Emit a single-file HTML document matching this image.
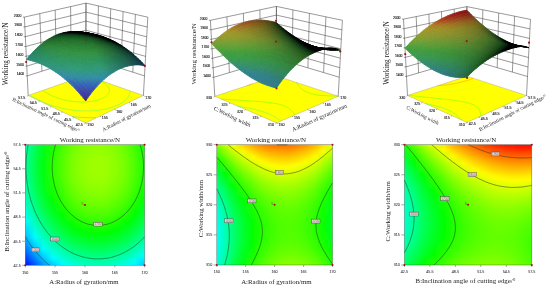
<!DOCTYPE html>
<html><head><meta charset="utf-8"><title>Working resistance response surfaces</title>
<style>html,body{margin:0;padding:0;background:#fff}svg{display:block}.q path{fill:currentColor;stroke:currentColor;stroke-width:.8;stroke-linejoin:round}</style></head>
<body><svg width="550" height="288" viewBox="0 0 550 288">
<defs><filter id="vb" x="-5%" y="-5%" width="110%" height="110%"><feGaussianBlur stdDeviation="0 1"/></filter><clipPath id="c0"><rect x="25.30" y="144.70" width="119.30" height="120.60"/></clipPath>
<linearGradient id="g0_0" gradientUnits="userSpaceOnUse" x1="25.30" x2="144.60" y1="0" y2="0"><stop offset="0" stop-color="#00ffb0"/><stop offset=".08" stop-color="#00ff66"/><stop offset=".15" stop-color="#00ff26"/><stop offset=".23" stop-color="#10ff00"/><stop offset=".31" stop-color="#3cff00"/><stop offset=".38" stop-color="#5eff00"/><stop offset=".46" stop-color="#76ff00"/><stop offset=".54" stop-color="#84ff00"/><stop offset=".62" stop-color="#88ff00"/><stop offset=".69" stop-color="#82ff00"/><stop offset=".77" stop-color="#72ff00"/><stop offset=".85" stop-color="#58ff00"/><stop offset=".92" stop-color="#34ff00"/><stop offset="1" stop-color="#06ff00"/></linearGradient>
<linearGradient id="g0_1" gradientUnits="userSpaceOnUse" x1="25.30" x2="144.60" y1="0" y2="0"><stop offset="0" stop-color="#00ffad"/><stop offset=".08" stop-color="#00ff63"/><stop offset=".15" stop-color="#00ff23"/><stop offset=".23" stop-color="#13ff00"/><stop offset=".31" stop-color="#3fff00"/><stop offset=".38" stop-color="#61ff00"/><stop offset=".46" stop-color="#79ff00"/><stop offset=".54" stop-color="#87ff00"/><stop offset=".62" stop-color="#8bff00"/><stop offset=".69" stop-color="#85ff00"/><stop offset=".77" stop-color="#76ff00"/><stop offset=".85" stop-color="#5cff00"/><stop offset=".92" stop-color="#38ff00"/><stop offset="1" stop-color="#0aff00"/></linearGradient>
<linearGradient id="g0_2" gradientUnits="userSpaceOnUse" x1="25.30" x2="144.60" y1="0" y2="0"><stop offset="0" stop-color="#00ffa9"/><stop offset=".08" stop-color="#00ff5f"/><stop offset=".15" stop-color="#00ff1f"/><stop offset=".23" stop-color="#17ff00"/><stop offset=".31" stop-color="#43ff00"/><stop offset=".38" stop-color="#65ff00"/><stop offset=".46" stop-color="#7dff00"/><stop offset=".54" stop-color="#8bff00"/><stop offset=".62" stop-color="#8fff00"/><stop offset=".69" stop-color="#89ff00"/><stop offset=".77" stop-color="#79ff00"/><stop offset=".85" stop-color="#5fff00"/><stop offset=".92" stop-color="#3bff00"/><stop offset="1" stop-color="#0dff00"/></linearGradient>
<linearGradient id="g0_3" gradientUnits="userSpaceOnUse" x1="25.30" x2="144.60" y1="0" y2="0"><stop offset="0" stop-color="#00ffa6"/><stop offset=".08" stop-color="#00ff5c"/><stop offset=".15" stop-color="#00ff1c"/><stop offset=".23" stop-color="#1aff00"/><stop offset=".31" stop-color="#46ff00"/><stop offset=".38" stop-color="#68ff00"/><stop offset=".46" stop-color="#80ff00"/><stop offset=".54" stop-color="#8eff00"/><stop offset=".62" stop-color="#92ff00"/><stop offset=".69" stop-color="#8cff00"/><stop offset=".77" stop-color="#7cff00"/><stop offset=".85" stop-color="#62ff00"/><stop offset=".92" stop-color="#3eff00"/><stop offset="1" stop-color="#10ff00"/></linearGradient>
<linearGradient id="g0_4" gradientUnits="userSpaceOnUse" x1="25.30" x2="144.60" y1="0" y2="0"><stop offset="0" stop-color="#00ffa4"/><stop offset=".08" stop-color="#00ff5a"/><stop offset=".15" stop-color="#00ff1a"/><stop offset=".23" stop-color="#1cff00"/><stop offset=".31" stop-color="#48ff00"/><stop offset=".38" stop-color="#6aff00"/><stop offset=".46" stop-color="#82ff00"/><stop offset=".54" stop-color="#90ff00"/><stop offset=".62" stop-color="#94ff00"/><stop offset=".69" stop-color="#8fff00"/><stop offset=".77" stop-color="#7fff00"/><stop offset=".85" stop-color="#65ff00"/><stop offset=".92" stop-color="#41ff00"/><stop offset="1" stop-color="#13ff00"/></linearGradient>
<linearGradient id="g0_5" gradientUnits="userSpaceOnUse" x1="25.30" x2="144.60" y1="0" y2="0"><stop offset="0" stop-color="#00ffa1"/><stop offset=".08" stop-color="#00ff57"/><stop offset=".15" stop-color="#00ff17"/><stop offset=".23" stop-color="#1fff00"/><stop offset=".31" stop-color="#4bff00"/><stop offset=".38" stop-color="#6dff00"/><stop offset=".46" stop-color="#85ff00"/><stop offset=".54" stop-color="#93ff00"/><stop offset=".62" stop-color="#97ff00"/><stop offset=".69" stop-color="#91ff00"/><stop offset=".77" stop-color="#81ff00"/><stop offset=".85" stop-color="#67ff00"/><stop offset=".92" stop-color="#43ff00"/><stop offset="1" stop-color="#15ff00"/></linearGradient>
<linearGradient id="g0_6" gradientUnits="userSpaceOnUse" x1="25.30" x2="144.60" y1="0" y2="0"><stop offset="0" stop-color="#00ff9f"/><stop offset=".08" stop-color="#00ff55"/><stop offset=".15" stop-color="#00ff15"/><stop offset=".23" stop-color="#21ff00"/><stop offset=".31" stop-color="#4dff00"/><stop offset=".38" stop-color="#6fff00"/><stop offset=".46" stop-color="#87ff00"/><stop offset=".54" stop-color="#95ff00"/><stop offset=".62" stop-color="#99ff00"/><stop offset=".69" stop-color="#93ff00"/><stop offset=".77" stop-color="#83ff00"/><stop offset=".85" stop-color="#69ff00"/><stop offset=".92" stop-color="#45ff00"/><stop offset="1" stop-color="#18ff00"/></linearGradient>
<linearGradient id="g0_7" gradientUnits="userSpaceOnUse" x1="25.30" x2="144.60" y1="0" y2="0"><stop offset="0" stop-color="#00ff9d"/><stop offset=".08" stop-color="#00ff53"/><stop offset=".15" stop-color="#00ff13"/><stop offset=".23" stop-color="#23ff00"/><stop offset=".31" stop-color="#4fff00"/><stop offset=".38" stop-color="#71ff00"/><stop offset=".46" stop-color="#89ff00"/><stop offset=".54" stop-color="#97ff00"/><stop offset=".62" stop-color="#9bff00"/><stop offset=".69" stop-color="#95ff00"/><stop offset=".77" stop-color="#85ff00"/><stop offset=".85" stop-color="#6bff00"/><stop offset=".92" stop-color="#47ff00"/><stop offset="1" stop-color="#19ff00"/></linearGradient>
<linearGradient id="g0_8" gradientUnits="userSpaceOnUse" x1="25.30" x2="144.60" y1="0" y2="0"><stop offset="0" stop-color="#00ff9c"/><stop offset=".08" stop-color="#00ff52"/><stop offset=".15" stop-color="#00ff12"/><stop offset=".23" stop-color="#24ff00"/><stop offset=".31" stop-color="#50ff00"/><stop offset=".38" stop-color="#72ff00"/><stop offset=".46" stop-color="#8aff00"/><stop offset=".54" stop-color="#98ff00"/><stop offset=".62" stop-color="#9dff00"/><stop offset=".69" stop-color="#97ff00"/><stop offset=".77" stop-color="#87ff00"/><stop offset=".85" stop-color="#6dff00"/><stop offset=".92" stop-color="#49ff00"/><stop offset="1" stop-color="#1bff00"/></linearGradient>
<linearGradient id="g0_9" gradientUnits="userSpaceOnUse" x1="25.30" x2="144.60" y1="0" y2="0"><stop offset="0" stop-color="#00ff9a"/><stop offset=".08" stop-color="#00ff50"/><stop offset=".15" stop-color="#00ff10"/><stop offset=".23" stop-color="#26ff00"/><stop offset=".31" stop-color="#52ff00"/><stop offset=".38" stop-color="#74ff00"/><stop offset=".46" stop-color="#8cff00"/><stop offset=".54" stop-color="#9aff00"/><stop offset=".62" stop-color="#9eff00"/><stop offset=".69" stop-color="#98ff00"/><stop offset=".77" stop-color="#88ff00"/><stop offset=".85" stop-color="#6eff00"/><stop offset=".92" stop-color="#4aff00"/><stop offset="1" stop-color="#1cff00"/></linearGradient>
<linearGradient id="g0_10" gradientUnits="userSpaceOnUse" x1="25.30" x2="144.60" y1="0" y2="0"><stop offset="0" stop-color="#00ff99"/><stop offset=".08" stop-color="#00ff4f"/><stop offset=".15" stop-color="#00ff0f"/><stop offset=".23" stop-color="#27ff00"/><stop offset=".31" stop-color="#53ff00"/><stop offset=".38" stop-color="#75ff00"/><stop offset=".46" stop-color="#8dff00"/><stop offset=".54" stop-color="#9bff00"/><stop offset=".62" stop-color="#9fff00"/><stop offset=".69" stop-color="#99ff00"/><stop offset=".77" stop-color="#89ff00"/><stop offset=".85" stop-color="#6fff00"/><stop offset=".92" stop-color="#4bff00"/><stop offset="1" stop-color="#1dff00"/></linearGradient>
<linearGradient id="g0_11" gradientUnits="userSpaceOnUse" x1="25.30" x2="144.60" y1="0" y2="0"><stop offset="0" stop-color="#00ff99"/><stop offset=".08" stop-color="#00ff4f"/><stop offset=".15" stop-color="#00ff0f"/><stop offset=".23" stop-color="#27ff00"/><stop offset=".31" stop-color="#53ff00"/><stop offset=".38" stop-color="#75ff00"/><stop offset=".46" stop-color="#8dff00"/><stop offset=".54" stop-color="#9bff00"/><stop offset=".62" stop-color="#a0ff00"/><stop offset=".69" stop-color="#9aff00"/><stop offset=".77" stop-color="#8aff00"/><stop offset=".85" stop-color="#70ff00"/><stop offset=".92" stop-color="#4cff00"/><stop offset="1" stop-color="#1eff00"/></linearGradient>
<linearGradient id="g0_12" gradientUnits="userSpaceOnUse" x1="25.30" x2="144.60" y1="0" y2="0"><stop offset="0" stop-color="#00ff98"/><stop offset=".08" stop-color="#00ff4e"/><stop offset=".15" stop-color="#00ff0e"/><stop offset=".23" stop-color="#28ff00"/><stop offset=".31" stop-color="#54ff00"/><stop offset=".38" stop-color="#76ff00"/><stop offset=".46" stop-color="#8eff00"/><stop offset=".54" stop-color="#9cff00"/><stop offset=".62" stop-color="#a0ff00"/><stop offset=".69" stop-color="#9aff00"/><stop offset=".77" stop-color="#8aff00"/><stop offset=".85" stop-color="#70ff00"/><stop offset=".92" stop-color="#4cff00"/><stop offset="1" stop-color="#1eff00"/></linearGradient>
<linearGradient id="g0_13" gradientUnits="userSpaceOnUse" x1="25.30" x2="144.60" y1="0" y2="0"><stop offset="0" stop-color="#00ff98"/><stop offset=".08" stop-color="#00ff4e"/><stop offset=".15" stop-color="#00ff0e"/><stop offset=".23" stop-color="#28ff00"/><stop offset=".31" stop-color="#54ff00"/><stop offset=".38" stop-color="#76ff00"/><stop offset=".46" stop-color="#8eff00"/><stop offset=".54" stop-color="#9cff00"/><stop offset=".62" stop-color="#a0ff00"/><stop offset=".69" stop-color="#9aff00"/><stop offset=".77" stop-color="#8aff00"/><stop offset=".85" stop-color="#70ff00"/><stop offset=".92" stop-color="#4cff00"/><stop offset="1" stop-color="#1fff00"/></linearGradient>
<linearGradient id="g0_14" gradientUnits="userSpaceOnUse" x1="25.30" x2="144.60" y1="0" y2="0"><stop offset="0" stop-color="#00ff98"/><stop offset=".08" stop-color="#00ff4e"/><stop offset=".15" stop-color="#00ff0e"/><stop offset=".23" stop-color="#28ff00"/><stop offset=".31" stop-color="#54ff00"/><stop offset=".38" stop-color="#76ff00"/><stop offset=".46" stop-color="#8eff00"/><stop offset=".54" stop-color="#9cff00"/><stop offset=".62" stop-color="#a0ff00"/><stop offset=".69" stop-color="#9aff00"/><stop offset=".77" stop-color="#8aff00"/><stop offset=".85" stop-color="#70ff00"/><stop offset=".92" stop-color="#4cff00"/><stop offset="1" stop-color="#1eff00"/></linearGradient>
<linearGradient id="g0_15" gradientUnits="userSpaceOnUse" x1="25.30" x2="144.60" y1="0" y2="0"><stop offset="0" stop-color="#00ff99"/><stop offset=".08" stop-color="#00ff4f"/><stop offset=".15" stop-color="#00ff0f"/><stop offset=".23" stop-color="#27ff00"/><stop offset=".31" stop-color="#53ff00"/><stop offset=".38" stop-color="#75ff00"/><stop offset=".46" stop-color="#8dff00"/><stop offset=".54" stop-color="#9bff00"/><stop offset=".62" stop-color="#9fff00"/><stop offset=".69" stop-color="#9aff00"/><stop offset=".77" stop-color="#8aff00"/><stop offset=".85" stop-color="#70ff00"/><stop offset=".92" stop-color="#4cff00"/><stop offset="1" stop-color="#1eff00"/></linearGradient>
<linearGradient id="g0_16" gradientUnits="userSpaceOnUse" x1="25.30" x2="144.60" y1="0" y2="0"><stop offset="0" stop-color="#00ff99"/><stop offset=".08" stop-color="#00ff4f"/><stop offset=".15" stop-color="#00ff0f"/><stop offset=".23" stop-color="#27ff00"/><stop offset=".31" stop-color="#53ff00"/><stop offset=".38" stop-color="#75ff00"/><stop offset=".46" stop-color="#8dff00"/><stop offset=".54" stop-color="#9bff00"/><stop offset=".62" stop-color="#9fff00"/><stop offset=".69" stop-color="#99ff00"/><stop offset=".77" stop-color="#89ff00"/><stop offset=".85" stop-color="#6fff00"/><stop offset=".92" stop-color="#4bff00"/><stop offset="1" stop-color="#1dff00"/></linearGradient>
<linearGradient id="g0_17" gradientUnits="userSpaceOnUse" x1="25.30" x2="144.60" y1="0" y2="0"><stop offset="0" stop-color="#00ff9a"/><stop offset=".08" stop-color="#00ff50"/><stop offset=".15" stop-color="#00ff10"/><stop offset=".23" stop-color="#26ff00"/><stop offset=".31" stop-color="#52ff00"/><stop offset=".38" stop-color="#74ff00"/><stop offset=".46" stop-color="#8cff00"/><stop offset=".54" stop-color="#9aff00"/><stop offset=".62" stop-color="#9eff00"/><stop offset=".69" stop-color="#98ff00"/><stop offset=".77" stop-color="#88ff00"/><stop offset=".85" stop-color="#6eff00"/><stop offset=".92" stop-color="#4aff00"/><stop offset="1" stop-color="#1cff00"/></linearGradient>
<linearGradient id="g0_18" gradientUnits="userSpaceOnUse" x1="25.30" x2="144.60" y1="0" y2="0"><stop offset="0" stop-color="#00ff9c"/><stop offset=".08" stop-color="#00ff52"/><stop offset=".15" stop-color="#00ff12"/><stop offset=".23" stop-color="#24ff00"/><stop offset=".31" stop-color="#50ff00"/><stop offset=".38" stop-color="#72ff00"/><stop offset=".46" stop-color="#8aff00"/><stop offset=".54" stop-color="#98ff00"/><stop offset=".62" stop-color="#9cff00"/><stop offset=".69" stop-color="#96ff00"/><stop offset=".77" stop-color="#87ff00"/><stop offset=".85" stop-color="#6dff00"/><stop offset=".92" stop-color="#49ff00"/><stop offset="1" stop-color="#1bff00"/></linearGradient>
<linearGradient id="g0_19" gradientUnits="userSpaceOnUse" x1="25.30" x2="144.60" y1="0" y2="0"><stop offset="0" stop-color="#00ff9d"/><stop offset=".08" stop-color="#00ff53"/><stop offset=".15" stop-color="#00ff13"/><stop offset=".23" stop-color="#23ff00"/><stop offset=".31" stop-color="#4fff00"/><stop offset=".38" stop-color="#71ff00"/><stop offset=".46" stop-color="#89ff00"/><stop offset=".54" stop-color="#97ff00"/><stop offset=".62" stop-color="#9bff00"/><stop offset=".69" stop-color="#95ff00"/><stop offset=".77" stop-color="#85ff00"/><stop offset=".85" stop-color="#6bff00"/><stop offset=".92" stop-color="#47ff00"/><stop offset="1" stop-color="#19ff00"/></linearGradient>
<linearGradient id="g0_20" gradientUnits="userSpaceOnUse" x1="25.30" x2="144.60" y1="0" y2="0"><stop offset="0" stop-color="#00ff9f"/><stop offset=".08" stop-color="#00ff55"/><stop offset=".15" stop-color="#00ff15"/><stop offset=".23" stop-color="#21ff00"/><stop offset=".31" stop-color="#4dff00"/><stop offset=".38" stop-color="#6fff00"/><stop offset=".46" stop-color="#87ff00"/><stop offset=".54" stop-color="#95ff00"/><stop offset=".62" stop-color="#99ff00"/><stop offset=".69" stop-color="#93ff00"/><stop offset=".77" stop-color="#83ff00"/><stop offset=".85" stop-color="#69ff00"/><stop offset=".92" stop-color="#45ff00"/><stop offset="1" stop-color="#17ff00"/></linearGradient>
<linearGradient id="g0_21" gradientUnits="userSpaceOnUse" x1="25.30" x2="144.60" y1="0" y2="0"><stop offset="0" stop-color="#00ffa1"/><stop offset=".08" stop-color="#00ff57"/><stop offset=".15" stop-color="#00ff17"/><stop offset=".23" stop-color="#1fff00"/><stop offset=".31" stop-color="#4bff00"/><stop offset=".38" stop-color="#6dff00"/><stop offset=".46" stop-color="#85ff00"/><stop offset=".54" stop-color="#93ff00"/><stop offset=".62" stop-color="#97ff00"/><stop offset=".69" stop-color="#91ff00"/><stop offset=".77" stop-color="#81ff00"/><stop offset=".85" stop-color="#67ff00"/><stop offset=".92" stop-color="#43ff00"/><stop offset="1" stop-color="#15ff00"/></linearGradient>
<linearGradient id="g0_22" gradientUnits="userSpaceOnUse" x1="25.30" x2="144.60" y1="0" y2="0"><stop offset="0" stop-color="#00ffa4"/><stop offset=".08" stop-color="#00ff5a"/><stop offset=".15" stop-color="#00ff1a"/><stop offset=".23" stop-color="#1cff00"/><stop offset=".31" stop-color="#48ff00"/><stop offset=".38" stop-color="#6aff00"/><stop offset=".46" stop-color="#82ff00"/><stop offset=".54" stop-color="#90ff00"/><stop offset=".62" stop-color="#94ff00"/><stop offset=".69" stop-color="#8eff00"/><stop offset=".77" stop-color="#7eff00"/><stop offset=".85" stop-color="#65ff00"/><stop offset=".92" stop-color="#41ff00"/><stop offset="1" stop-color="#13ff00"/></linearGradient>
<linearGradient id="g0_23" gradientUnits="userSpaceOnUse" x1="25.30" x2="144.60" y1="0" y2="0"><stop offset="0" stop-color="#00ffa6"/><stop offset=".08" stop-color="#00ff5c"/><stop offset=".15" stop-color="#00ff1d"/><stop offset=".23" stop-color="#19ff00"/><stop offset=".31" stop-color="#45ff00"/><stop offset=".38" stop-color="#67ff00"/><stop offset=".46" stop-color="#7fff00"/><stop offset=".54" stop-color="#8eff00"/><stop offset=".62" stop-color="#92ff00"/><stop offset=".69" stop-color="#8cff00"/><stop offset=".77" stop-color="#7cff00"/><stop offset=".85" stop-color="#62ff00"/><stop offset=".92" stop-color="#3eff00"/><stop offset="1" stop-color="#10ff00"/></linearGradient>
<linearGradient id="g0_24" gradientUnits="userSpaceOnUse" x1="25.30" x2="144.60" y1="0" y2="0"><stop offset="0" stop-color="#00ffa9"/><stop offset=".08" stop-color="#00ff60"/><stop offset=".15" stop-color="#00ff20"/><stop offset=".23" stop-color="#16ff00"/><stop offset=".31" stop-color="#42ff00"/><stop offset=".38" stop-color="#64ff00"/><stop offset=".46" stop-color="#7cff00"/><stop offset=".54" stop-color="#8aff00"/><stop offset=".62" stop-color="#8fff00"/><stop offset=".69" stop-color="#89ff00"/><stop offset=".77" stop-color="#79ff00"/><stop offset=".85" stop-color="#5fff00"/><stop offset=".92" stop-color="#3bff00"/><stop offset="1" stop-color="#0dff00"/></linearGradient>
<linearGradient id="g0_25" gradientUnits="userSpaceOnUse" x1="25.30" x2="144.60" y1="0" y2="0"><stop offset="0" stop-color="#00ffad"/><stop offset=".08" stop-color="#00ff63"/><stop offset=".15" stop-color="#00ff23"/><stop offset=".23" stop-color="#13ff00"/><stop offset=".31" stop-color="#3fff00"/><stop offset=".38" stop-color="#61ff00"/><stop offset=".46" stop-color="#79ff00"/><stop offset=".54" stop-color="#87ff00"/><stop offset=".62" stop-color="#8bff00"/><stop offset=".69" stop-color="#85ff00"/><stop offset=".77" stop-color="#75ff00"/><stop offset=".85" stop-color="#5bff00"/><stop offset=".92" stop-color="#37ff00"/><stop offset="1" stop-color="#0aff00"/></linearGradient>
<linearGradient id="g0_26" gradientUnits="userSpaceOnUse" x1="25.30" x2="144.60" y1="0" y2="0"><stop offset="0" stop-color="#00ffb0"/><stop offset=".08" stop-color="#00ff66"/><stop offset=".15" stop-color="#00ff27"/><stop offset=".23" stop-color="#0fff00"/><stop offset=".31" stop-color="#3bff00"/><stop offset=".38" stop-color="#5dff00"/><stop offset=".46" stop-color="#75ff00"/><stop offset=".54" stop-color="#84ff00"/><stop offset=".62" stop-color="#88ff00"/><stop offset=".69" stop-color="#82ff00"/><stop offset=".77" stop-color="#72ff00"/><stop offset=".85" stop-color="#58ff00"/><stop offset=".92" stop-color="#34ff00"/><stop offset="1" stop-color="#06ff00"/></linearGradient>
<linearGradient id="g0_27" gradientUnits="userSpaceOnUse" x1="25.30" x2="144.60" y1="0" y2="0"><stop offset="0" stop-color="#00ffb4"/><stop offset=".08" stop-color="#00ff6a"/><stop offset=".15" stop-color="#00ff2a"/><stop offset=".23" stop-color="#0cff00"/><stop offset=".31" stop-color="#38ff00"/><stop offset=".38" stop-color="#5aff00"/><stop offset=".46" stop-color="#72ff00"/><stop offset=".54" stop-color="#80ff00"/><stop offset=".62" stop-color="#84ff00"/><stop offset=".69" stop-color="#7eff00"/><stop offset=".77" stop-color="#6eff00"/><stop offset=".85" stop-color="#54ff00"/><stop offset=".92" stop-color="#30ff00"/><stop offset="1" stop-color="#02ff00"/></linearGradient>
<linearGradient id="g0_28" gradientUnits="userSpaceOnUse" x1="25.30" x2="144.60" y1="0" y2="0"><stop offset="0" stop-color="#00ffb9"/><stop offset=".08" stop-color="#00ff6f"/><stop offset=".15" stop-color="#00ff2f"/><stop offset=".23" stop-color="#07ff00"/><stop offset=".31" stop-color="#33ff00"/><stop offset=".38" stop-color="#55ff00"/><stop offset=".46" stop-color="#6dff00"/><stop offset=".54" stop-color="#7bff00"/><stop offset=".62" stop-color="#7fff00"/><stop offset=".69" stop-color="#79ff00"/><stop offset=".77" stop-color="#6aff00"/><stop offset=".85" stop-color="#50ff00"/><stop offset=".92" stop-color="#2cff00"/><stop offset="1" stop-color="#00ff02"/></linearGradient>
<linearGradient id="g0_29" gradientUnits="userSpaceOnUse" x1="25.30" x2="144.60" y1="0" y2="0"><stop offset="0" stop-color="#00ffbd"/><stop offset=".08" stop-color="#00ff73"/><stop offset=".15" stop-color="#00ff33"/><stop offset=".23" stop-color="#03ff00"/><stop offset=".31" stop-color="#2fff00"/><stop offset=".38" stop-color="#51ff00"/><stop offset=".46" stop-color="#69ff00"/><stop offset=".54" stop-color="#77ff00"/><stop offset=".62" stop-color="#7bff00"/><stop offset=".69" stop-color="#75ff00"/><stop offset=".77" stop-color="#65ff00"/><stop offset=".85" stop-color="#4bff00"/><stop offset=".92" stop-color="#27ff00"/><stop offset="1" stop-color="#00ff07"/></linearGradient>
<linearGradient id="g0_30" gradientUnits="userSpaceOnUse" x1="25.30" x2="144.60" y1="0" y2="0"><stop offset="0" stop-color="#00ffc2"/><stop offset=".08" stop-color="#00ff78"/><stop offset=".15" stop-color="#00ff38"/><stop offset=".23" stop-color="#00ff02"/><stop offset=".31" stop-color="#2aff00"/><stop offset=".38" stop-color="#4cff00"/><stop offset=".46" stop-color="#64ff00"/><stop offset=".54" stop-color="#72ff00"/><stop offset=".62" stop-color="#76ff00"/><stop offset=".69" stop-color="#70ff00"/><stop offset=".77" stop-color="#60ff00"/><stop offset=".85" stop-color="#46ff00"/><stop offset=".92" stop-color="#22ff00"/><stop offset="1" stop-color="#00ff0b"/></linearGradient>
<linearGradient id="g0_31" gradientUnits="userSpaceOnUse" x1="25.30" x2="144.60" y1="0" y2="0"><stop offset="0" stop-color="#00ffc7"/><stop offset=".08" stop-color="#00ff7d"/><stop offset=".15" stop-color="#00ff3d"/><stop offset=".23" stop-color="#00ff07"/><stop offset=".31" stop-color="#25ff00"/><stop offset=".38" stop-color="#47ff00"/><stop offset=".46" stop-color="#5fff00"/><stop offset=".54" stop-color="#6dff00"/><stop offset=".62" stop-color="#71ff00"/><stop offset=".69" stop-color="#6bff00"/><stop offset=".77" stop-color="#5bff00"/><stop offset=".85" stop-color="#41ff00"/><stop offset=".92" stop-color="#1dff00"/><stop offset="1" stop-color="#00ff10"/></linearGradient>
<linearGradient id="g0_32" gradientUnits="userSpaceOnUse" x1="25.30" x2="144.60" y1="0" y2="0"><stop offset="0" stop-color="#00ffcc"/><stop offset=".08" stop-color="#00ff82"/><stop offset=".15" stop-color="#00ff42"/><stop offset=".23" stop-color="#00ff0c"/><stop offset=".31" stop-color="#20ff00"/><stop offset=".38" stop-color="#42ff00"/><stop offset=".46" stop-color="#5aff00"/><stop offset=".54" stop-color="#68ff00"/><stop offset=".62" stop-color="#6cff00"/><stop offset=".69" stop-color="#66ff00"/><stop offset=".77" stop-color="#56ff00"/><stop offset=".85" stop-color="#3cff00"/><stop offset=".92" stop-color="#18ff00"/><stop offset="1" stop-color="#00ff16"/></linearGradient>
<linearGradient id="g0_33" gradientUnits="userSpaceOnUse" x1="25.30" x2="144.60" y1="0" y2="0"><stop offset="0" stop-color="#00ffd2"/><stop offset=".08" stop-color="#00ff88"/><stop offset=".15" stop-color="#00ff48"/><stop offset=".23" stop-color="#00ff12"/><stop offset=".31" stop-color="#1aff00"/><stop offset=".38" stop-color="#3cff00"/><stop offset=".46" stop-color="#54ff00"/><stop offset=".54" stop-color="#62ff00"/><stop offset=".62" stop-color="#66ff00"/><stop offset=".69" stop-color="#60ff00"/><stop offset=".77" stop-color="#50ff00"/><stop offset=".85" stop-color="#36ff00"/><stop offset=".92" stop-color="#12ff00"/><stop offset="1" stop-color="#00ff1c"/></linearGradient>
<linearGradient id="g0_34" gradientUnits="userSpaceOnUse" x1="25.30" x2="144.60" y1="0" y2="0"><stop offset="0" stop-color="#00ffd8"/><stop offset=".08" stop-color="#00ff8e"/><stop offset=".15" stop-color="#00ff4e"/><stop offset=".23" stop-color="#00ff18"/><stop offset=".31" stop-color="#14ff00"/><stop offset=".38" stop-color="#36ff00"/><stop offset=".46" stop-color="#4eff00"/><stop offset=".54" stop-color="#5cff00"/><stop offset=".62" stop-color="#60ff00"/><stop offset=".69" stop-color="#5aff00"/><stop offset=".77" stop-color="#4aff00"/><stop offset=".85" stop-color="#30ff00"/><stop offset=".92" stop-color="#0cff00"/><stop offset="1" stop-color="#00ff21"/></linearGradient>
<linearGradient id="g0_35" gradientUnits="userSpaceOnUse" x1="25.30" x2="144.60" y1="0" y2="0"><stop offset="0" stop-color="#00ffde"/><stop offset=".08" stop-color="#00ff94"/><stop offset=".15" stop-color="#00ff54"/><stop offset=".23" stop-color="#00ff1e"/><stop offset=".31" stop-color="#0eff00"/><stop offset=".38" stop-color="#30ff00"/><stop offset=".46" stop-color="#48ff00"/><stop offset=".54" stop-color="#56ff00"/><stop offset=".62" stop-color="#5aff00"/><stop offset=".69" stop-color="#54ff00"/><stop offset=".77" stop-color="#44ff00"/><stop offset=".85" stop-color="#2aff00"/><stop offset=".92" stop-color="#06ff00"/><stop offset="1" stop-color="#00ff28"/></linearGradient>
<linearGradient id="g0_36" gradientUnits="userSpaceOnUse" x1="25.30" x2="144.60" y1="0" y2="0"><stop offset="0" stop-color="#00ffe4"/><stop offset=".08" stop-color="#00ff9b"/><stop offset=".15" stop-color="#00ff5b"/><stop offset=".23" stop-color="#00ff25"/><stop offset=".31" stop-color="#07ff00"/><stop offset=".38" stop-color="#29ff00"/><stop offset=".46" stop-color="#41ff00"/><stop offset=".54" stop-color="#4fff00"/><stop offset=".62" stop-color="#53ff00"/><stop offset=".69" stop-color="#4dff00"/><stop offset=".77" stop-color="#3eff00"/><stop offset=".85" stop-color="#24ff00"/><stop offset=".92" stop-color="#00ff00"/><stop offset="1" stop-color="#00ff2e"/></linearGradient>
<linearGradient id="g0_37" gradientUnits="userSpaceOnUse" x1="25.30" x2="144.60" y1="0" y2="0"><stop offset="0" stop-color="#00ffeb"/><stop offset=".08" stop-color="#00ffa1"/><stop offset=".15" stop-color="#00ff61"/><stop offset=".23" stop-color="#00ff2b"/><stop offset=".31" stop-color="#01ff00"/><stop offset=".38" stop-color="#23ff00"/><stop offset=".46" stop-color="#3bff00"/><stop offset=".54" stop-color="#49ff00"/><stop offset=".62" stop-color="#4dff00"/><stop offset=".69" stop-color="#47ff00"/><stop offset=".77" stop-color="#37ff00"/><stop offset=".85" stop-color="#1dff00"/><stop offset=".92" stop-color="#00ff07"/><stop offset="1" stop-color="#00ff35"/></linearGradient>
<linearGradient id="g0_38" gradientUnits="userSpaceOnUse" x1="25.30" x2="144.60" y1="0" y2="0"><stop offset="0" stop-color="#00fff2"/><stop offset=".08" stop-color="#00ffa8"/><stop offset=".15" stop-color="#00ff68"/><stop offset=".23" stop-color="#00ff32"/><stop offset=".31" stop-color="#00ff07"/><stop offset=".38" stop-color="#1bff00"/><stop offset=".46" stop-color="#34ff00"/><stop offset=".54" stop-color="#42ff00"/><stop offset=".62" stop-color="#46ff00"/><stop offset=".69" stop-color="#40ff00"/><stop offset=".77" stop-color="#30ff00"/><stop offset=".85" stop-color="#16ff00"/><stop offset=".92" stop-color="#00ff0e"/><stop offset="1" stop-color="#00ff3c"/></linearGradient>
<linearGradient id="g0_39" gradientUnits="userSpaceOnUse" x1="25.30" x2="144.60" y1="0" y2="0"><stop offset="0" stop-color="#00fffa"/><stop offset=".08" stop-color="#00ffb0"/><stop offset=".15" stop-color="#00ff70"/><stop offset=".23" stop-color="#00ff3a"/><stop offset=".31" stop-color="#00ff0e"/><stop offset=".38" stop-color="#14ff00"/><stop offset=".46" stop-color="#2cff00"/><stop offset=".54" stop-color="#3aff00"/><stop offset=".62" stop-color="#3eff00"/><stop offset=".69" stop-color="#38ff00"/><stop offset=".77" stop-color="#28ff00"/><stop offset=".85" stop-color="#0eff00"/><stop offset=".92" stop-color="#00ff16"/><stop offset="1" stop-color="#00ff43"/></linearGradient>
<linearGradient id="g0_40" gradientUnits="userSpaceOnUse" x1="25.30" x2="144.60" y1="0" y2="0"><stop offset="0" stop-color="#00fdff"/><stop offset=".08" stop-color="#00ffb7"/><stop offset=".15" stop-color="#00ff77"/><stop offset=".23" stop-color="#00ff42"/><stop offset=".31" stop-color="#00ff16"/><stop offset=".38" stop-color="#0cff00"/><stop offset=".46" stop-color="#24ff00"/><stop offset=".54" stop-color="#32ff00"/><stop offset=".62" stop-color="#37ff00"/><stop offset=".69" stop-color="#31ff00"/><stop offset=".77" stop-color="#21ff00"/><stop offset=".85" stop-color="#07ff00"/><stop offset=".92" stop-color="#00ff1d"/><stop offset="1" stop-color="#00ff4b"/></linearGradient>
<linearGradient id="g0_41" gradientUnits="userSpaceOnUse" x1="25.30" x2="144.60" y1="0" y2="0"><stop offset="0" stop-color="#00f5ff"/><stop offset=".08" stop-color="#00ffbf"/><stop offset=".15" stop-color="#00ff7f"/><stop offset=".23" stop-color="#00ff49"/><stop offset=".31" stop-color="#00ff1d"/><stop offset=".38" stop-color="#05ff00"/><stop offset=".46" stop-color="#1dff00"/><stop offset=".54" stop-color="#2bff00"/><stop offset=".62" stop-color="#2fff00"/><stop offset=".69" stop-color="#29ff00"/><stop offset=".77" stop-color="#19ff00"/><stop offset=".85" stop-color="#00ff01"/><stop offset=".92" stop-color="#00ff25"/><stop offset="1" stop-color="#00ff53"/></linearGradient>
<linearGradient id="g0_42" gradientUnits="userSpaceOnUse" x1="25.30" x2="144.60" y1="0" y2="0"><stop offset="0" stop-color="#00ecff"/><stop offset=".08" stop-color="#00ffc8"/><stop offset=".15" stop-color="#00ff88"/><stop offset=".23" stop-color="#00ff52"/><stop offset=".31" stop-color="#00ff26"/><stop offset=".38" stop-color="#00ff04"/><stop offset=".46" stop-color="#14ff00"/><stop offset=".54" stop-color="#22ff00"/><stop offset=".62" stop-color="#26ff00"/><stop offset=".69" stop-color="#20ff00"/><stop offset=".77" stop-color="#10ff00"/><stop offset=".85" stop-color="#00ff0a"/><stop offset=".92" stop-color="#00ff2d"/><stop offset="1" stop-color="#00ff5b"/></linearGradient>
<linearGradient id="g0_43" gradientUnits="userSpaceOnUse" x1="25.30" x2="144.60" y1="0" y2="0"><stop offset="0" stop-color="#00e4ff"/><stop offset=".08" stop-color="#00ffd0"/><stop offset=".15" stop-color="#00ff90"/><stop offset=".23" stop-color="#00ff5a"/><stop offset=".31" stop-color="#00ff2e"/><stop offset=".38" stop-color="#00ff0c"/><stop offset=".46" stop-color="#0cff00"/><stop offset=".54" stop-color="#1aff00"/><stop offset=".62" stop-color="#1eff00"/><stop offset=".69" stop-color="#18ff00"/><stop offset=".77" stop-color="#08ff00"/><stop offset=".85" stop-color="#00ff12"/><stop offset=".92" stop-color="#00ff36"/><stop offset="1" stop-color="#00ff64"/></linearGradient>
<linearGradient id="g0_44" gradientUnits="userSpaceOnUse" x1="25.30" x2="144.60" y1="0" y2="0"><stop offset="0" stop-color="#00dbff"/><stop offset=".08" stop-color="#00ffd9"/><stop offset=".15" stop-color="#00ff99"/><stop offset=".23" stop-color="#00ff63"/><stop offset=".31" stop-color="#00ff37"/><stop offset=".38" stop-color="#00ff15"/><stop offset=".46" stop-color="#03ff00"/><stop offset=".54" stop-color="#11ff00"/><stop offset=".62" stop-color="#15ff00"/><stop offset=".69" stop-color="#0fff00"/><stop offset=".77" stop-color="#00ff01"/><stop offset=".85" stop-color="#00ff1b"/><stop offset=".92" stop-color="#00ff3f"/><stop offset="1" stop-color="#00ff6d"/></linearGradient>
<linearGradient id="g0_45" gradientUnits="userSpaceOnUse" x1="25.30" x2="144.60" y1="0" y2="0"><stop offset="0" stop-color="#00d2ff"/><stop offset=".08" stop-color="#00ffe2"/><stop offset=".15" stop-color="#00ffa2"/><stop offset=".23" stop-color="#00ff6c"/><stop offset=".31" stop-color="#00ff40"/><stop offset=".38" stop-color="#00ff1e"/><stop offset=".46" stop-color="#00ff06"/><stop offset=".54" stop-color="#08ff00"/><stop offset=".62" stop-color="#0cff00"/><stop offset=".69" stop-color="#06ff00"/><stop offset=".77" stop-color="#00ff0a"/><stop offset=".85" stop-color="#00ff24"/><stop offset=".92" stop-color="#00ff48"/><stop offset="1" stop-color="#00ff76"/></linearGradient>
<linearGradient id="g0_46" gradientUnits="userSpaceOnUse" x1="25.30" x2="144.60" y1="0" y2="0"><stop offset="0" stop-color="#00c9ff"/><stop offset=".08" stop-color="#00ffeb"/><stop offset=".15" stop-color="#00ffac"/><stop offset=".23" stop-color="#00ff76"/><stop offset=".31" stop-color="#00ff4a"/><stop offset=".38" stop-color="#00ff28"/><stop offset=".46" stop-color="#00ff10"/><stop offset=".54" stop-color="#00ff02"/><stop offset=".62" stop-color="#02ff00"/><stop offset=".69" stop-color="#00ff04"/><stop offset=".77" stop-color="#00ff13"/><stop offset=".85" stop-color="#00ff2d"/><stop offset=".92" stop-color="#00ff51"/><stop offset="1" stop-color="#00ff7f"/></linearGradient>
<linearGradient id="g0_47" gradientUnits="userSpaceOnUse" x1="25.30" x2="144.60" y1="0" y2="0"><stop offset="0" stop-color="#00bfff"/><stop offset=".08" stop-color="#00fff5"/><stop offset=".15" stop-color="#00ffb5"/><stop offset=".23" stop-color="#00ff7f"/><stop offset=".31" stop-color="#00ff53"/><stop offset=".38" stop-color="#00ff31"/><stop offset=".46" stop-color="#00ff19"/><stop offset=".54" stop-color="#00ff0b"/><stop offset=".62" stop-color="#00ff07"/><stop offset=".69" stop-color="#00ff0d"/><stop offset=".77" stop-color="#00ff1d"/><stop offset=".85" stop-color="#00ff37"/><stop offset=".92" stop-color="#00ff5b"/><stop offset="1" stop-color="#00ff89"/></linearGradient>
<linearGradient id="g0_48" gradientUnits="userSpaceOnUse" x1="25.30" x2="144.60" y1="0" y2="0"><stop offset="0" stop-color="#00b5ff"/><stop offset=".08" stop-color="#00ffff"/><stop offset=".15" stop-color="#00ffbf"/><stop offset=".23" stop-color="#00ff89"/><stop offset=".31" stop-color="#00ff5d"/><stop offset=".38" stop-color="#00ff3b"/><stop offset=".46" stop-color="#00ff23"/><stop offset=".54" stop-color="#00ff15"/><stop offset=".62" stop-color="#00ff11"/><stop offset=".69" stop-color="#00ff17"/><stop offset=".77" stop-color="#00ff27"/><stop offset=".85" stop-color="#00ff41"/><stop offset=".92" stop-color="#00ff65"/><stop offset="1" stop-color="#00ff93"/></linearGradient>
<linearGradient id="g0_49" gradientUnits="userSpaceOnUse" x1="25.30" x2="144.60" y1="0" y2="0"><stop offset="0" stop-color="#00abff"/><stop offset=".08" stop-color="#00f5ff"/><stop offset=".15" stop-color="#00ffc9"/><stop offset=".23" stop-color="#00ff93"/><stop offset=".31" stop-color="#00ff68"/><stop offset=".38" stop-color="#00ff46"/><stop offset=".46" stop-color="#00ff2e"/><stop offset=".54" stop-color="#00ff20"/><stop offset=".62" stop-color="#00ff1b"/><stop offset=".69" stop-color="#00ff21"/><stop offset=".77" stop-color="#00ff31"/><stop offset=".85" stop-color="#00ff4b"/><stop offset=".92" stop-color="#00ff6f"/><stop offset="1" stop-color="#00ff9d"/></linearGradient>
<linearGradient id="g0_50" gradientUnits="userSpaceOnUse" x1="25.30" x2="144.60" y1="0" y2="0"><stop offset="0" stop-color="#00a0ff"/><stop offset=".08" stop-color="#00eaff"/><stop offset=".15" stop-color="#00ffd4"/><stop offset=".23" stop-color="#00ff9e"/><stop offset=".31" stop-color="#00ff72"/><stop offset=".38" stop-color="#00ff50"/><stop offset=".46" stop-color="#00ff38"/><stop offset=".54" stop-color="#00ff2a"/><stop offset=".62" stop-color="#00ff26"/><stop offset=".69" stop-color="#00ff2c"/><stop offset=".77" stop-color="#00ff3c"/><stop offset=".85" stop-color="#00ff56"/><stop offset=".92" stop-color="#00ff7a"/><stop offset="1" stop-color="#00ffa8"/></linearGradient>
<linearGradient id="g0_51" gradientUnits="userSpaceOnUse" x1="25.30" x2="144.60" y1="0" y2="0"><stop offset="0" stop-color="#0095ff"/><stop offset=".08" stop-color="#00dfff"/><stop offset=".15" stop-color="#00ffdf"/><stop offset=".23" stop-color="#00ffa9"/><stop offset=".31" stop-color="#00ff7d"/><stop offset=".38" stop-color="#00ff5b"/><stop offset=".46" stop-color="#00ff43"/><stop offset=".54" stop-color="#00ff35"/><stop offset=".62" stop-color="#00ff31"/><stop offset=".69" stop-color="#00ff37"/><stop offset=".77" stop-color="#00ff47"/><stop offset=".85" stop-color="#00ff61"/><stop offset=".92" stop-color="#00ff85"/><stop offset="1" stop-color="#00ffb3"/></linearGradient>
<linearGradient id="g0_52" gradientUnits="userSpaceOnUse" x1="25.30" x2="144.60" y1="0" y2="0"><stop offset="0" stop-color="#008aff"/><stop offset=".08" stop-color="#00d4ff"/><stop offset=".15" stop-color="#00ffea"/><stop offset=".23" stop-color="#00ffb4"/><stop offset=".31" stop-color="#00ff88"/><stop offset=".38" stop-color="#00ff66"/><stop offset=".46" stop-color="#00ff4e"/><stop offset=".54" stop-color="#00ff40"/><stop offset=".62" stop-color="#00ff3c"/><stop offset=".69" stop-color="#00ff42"/><stop offset=".77" stop-color="#00ff52"/><stop offset=".85" stop-color="#00ff6c"/><stop offset=".92" stop-color="#00ff90"/><stop offset="1" stop-color="#00ffbe"/></linearGradient>
<linearGradient id="g0_53" gradientUnits="userSpaceOnUse" x1="25.30" x2="144.60" y1="0" y2="0"><stop offset="0" stop-color="#007fff"/><stop offset=".08" stop-color="#00c9ff"/><stop offset=".15" stop-color="#00fff5"/><stop offset=".23" stop-color="#00ffbf"/><stop offset=".31" stop-color="#00ff93"/><stop offset=".38" stop-color="#00ff71"/><stop offset=".46" stop-color="#00ff59"/><stop offset=".54" stop-color="#00ff4b"/><stop offset=".62" stop-color="#00ff47"/><stop offset=".69" stop-color="#00ff4d"/><stop offset=".77" stop-color="#00ff5d"/><stop offset=".85" stop-color="#00ff77"/><stop offset=".92" stop-color="#00ff9b"/><stop offset="1" stop-color="#00ffc9"/></linearGradient>
<linearGradient id="g0_54" gradientUnits="userSpaceOnUse" x1="25.30" x2="144.60" y1="0" y2="0"><stop offset="0" stop-color="#0073ff"/><stop offset=".08" stop-color="#00bdff"/><stop offset=".15" stop-color="#00fdff"/><stop offset=".23" stop-color="#00ffcb"/><stop offset=".31" stop-color="#00ff9f"/><stop offset=".38" stop-color="#00ff7d"/><stop offset=".46" stop-color="#00ff65"/><stop offset=".54" stop-color="#00ff57"/><stop offset=".62" stop-color="#00ff53"/><stop offset=".69" stop-color="#00ff59"/><stop offset=".77" stop-color="#00ff69"/><stop offset=".85" stop-color="#00ff83"/><stop offset=".92" stop-color="#00ffa7"/><stop offset="1" stop-color="#00ffd5"/></linearGradient>
<linearGradient id="g0_55" gradientUnits="userSpaceOnUse" x1="25.30" x2="144.60" y1="0" y2="0"><stop offset="0" stop-color="#0067ff"/><stop offset=".08" stop-color="#00b1ff"/><stop offset=".15" stop-color="#00f1ff"/><stop offset=".23" stop-color="#00ffd7"/><stop offset=".31" stop-color="#00ffab"/><stop offset=".38" stop-color="#00ff89"/><stop offset=".46" stop-color="#00ff71"/><stop offset=".54" stop-color="#00ff63"/><stop offset=".62" stop-color="#00ff5f"/><stop offset=".69" stop-color="#00ff65"/><stop offset=".77" stop-color="#00ff75"/><stop offset=".85" stop-color="#00ff8f"/><stop offset=".92" stop-color="#00ffb3"/><stop offset="1" stop-color="#00ffe1"/></linearGradient>
<linearGradient id="g0_56" gradientUnits="userSpaceOnUse" x1="25.30" x2="144.60" y1="0" y2="0"><stop offset="0" stop-color="#005bff"/><stop offset=".08" stop-color="#00a5ff"/><stop offset=".15" stop-color="#00e5ff"/><stop offset=".23" stop-color="#00ffe3"/><stop offset=".31" stop-color="#00ffb7"/><stop offset=".38" stop-color="#00ff95"/><stop offset=".46" stop-color="#00ff7d"/><stop offset=".54" stop-color="#00ff6f"/><stop offset=".62" stop-color="#00ff6b"/><stop offset=".69" stop-color="#00ff71"/><stop offset=".77" stop-color="#00ff81"/><stop offset=".85" stop-color="#00ff9b"/><stop offset=".92" stop-color="#00ffbf"/><stop offset="1" stop-color="#00ffed"/></linearGradient>
<linearGradient id="g0_57" gradientUnits="userSpaceOnUse" x1="25.30" x2="144.60" y1="0" y2="0"><stop offset="0" stop-color="#004eff"/><stop offset=".08" stop-color="#0098ff"/><stop offset=".15" stop-color="#00d8ff"/><stop offset=".23" stop-color="#00fff0"/><stop offset=".31" stop-color="#00ffc4"/><stop offset=".38" stop-color="#00ffa2"/><stop offset=".46" stop-color="#00ff8a"/><stop offset=".54" stop-color="#00ff7c"/><stop offset=".62" stop-color="#00ff78"/><stop offset=".69" stop-color="#00ff7e"/><stop offset=".77" stop-color="#00ff8e"/><stop offset=".85" stop-color="#00ffa8"/><stop offset=".92" stop-color="#00ffcc"/><stop offset="1" stop-color="#00fffa"/></linearGradient>
<linearGradient id="g0_58" gradientUnits="userSpaceOnUse" x1="25.30" x2="144.60" y1="0" y2="0"><stop offset="0" stop-color="#0041ff"/><stop offset=".08" stop-color="#008bff"/><stop offset=".15" stop-color="#00cbff"/><stop offset=".23" stop-color="#00fffd"/><stop offset=".31" stop-color="#00ffd1"/><stop offset=".38" stop-color="#00ffaf"/><stop offset=".46" stop-color="#00ff97"/><stop offset=".54" stop-color="#00ff89"/><stop offset=".62" stop-color="#00ff85"/><stop offset=".69" stop-color="#00ff8b"/><stop offset=".77" stop-color="#00ff9b"/><stop offset=".85" stop-color="#00ffb5"/><stop offset=".92" stop-color="#00ffd9"/><stop offset="1" stop-color="#00f7ff"/></linearGradient>
<linearGradient id="g0_59" gradientUnits="userSpaceOnUse" x1="25.30" x2="144.60" y1="0" y2="0"><stop offset="0" stop-color="#0034ff"/><stop offset=".08" stop-color="#007eff"/><stop offset=".15" stop-color="#00beff"/><stop offset=".23" stop-color="#00f4ff"/><stop offset=".31" stop-color="#00ffde"/><stop offset=".38" stop-color="#00ffbc"/><stop offset=".46" stop-color="#00ffa4"/><stop offset=".54" stop-color="#00ff96"/><stop offset=".62" stop-color="#00ff92"/><stop offset=".69" stop-color="#00ff98"/><stop offset=".77" stop-color="#00ffa8"/><stop offset=".85" stop-color="#00ffc2"/><stop offset=".92" stop-color="#00ffe6"/><stop offset="1" stop-color="#00eaff"/></linearGradient>
<linearGradient id="g0_60" gradientUnits="userSpaceOnUse" x1="25.30" x2="144.60" y1="0" y2="0"><stop offset="0" stop-color="#0027ff"/><stop offset=".08" stop-color="#0071ff"/><stop offset=".15" stop-color="#00b1ff"/><stop offset=".23" stop-color="#00e7ff"/><stop offset=".31" stop-color="#00ffeb"/><stop offset=".38" stop-color="#00ffca"/><stop offset=".46" stop-color="#00ffb2"/><stop offset=".54" stop-color="#00ffa4"/><stop offset=".62" stop-color="#00ff9f"/><stop offset=".69" stop-color="#00ffa5"/><stop offset=".77" stop-color="#00ffb5"/><stop offset=".85" stop-color="#00ffcf"/><stop offset=".92" stop-color="#00fff3"/><stop offset="1" stop-color="#00ddff"/></linearGradient>
<linearGradient id="g0_61" gradientUnits="userSpaceOnUse" x1="25.30" x2="144.60" y1="0" y2="0"><stop offset="0" stop-color="#0019ff"/><stop offset=".08" stop-color="#0063ff"/><stop offset=".15" stop-color="#00a3ff"/><stop offset=".23" stop-color="#00d9ff"/><stop offset=".31" stop-color="#00fff9"/><stop offset=".38" stop-color="#00ffd7"/><stop offset=".46" stop-color="#00ffbf"/><stop offset=".54" stop-color="#00ffb1"/><stop offset=".62" stop-color="#00ffad"/><stop offset=".69" stop-color="#00ffb3"/><stop offset=".77" stop-color="#00ffc3"/><stop offset=".85" stop-color="#00ffdd"/><stop offset=".92" stop-color="#00fdff"/><stop offset="1" stop-color="#00cfff"/></linearGradient>
<linearGradient id="g0_62" gradientUnits="userSpaceOnUse" x1="25.30" x2="144.60" y1="0" y2="0"><stop offset="0" stop-color="#000bff"/><stop offset=".08" stop-color="#0055ff"/><stop offset=".15" stop-color="#0095ff"/><stop offset=".23" stop-color="#00cbff"/><stop offset=".31" stop-color="#00f7ff"/><stop offset=".38" stop-color="#00ffe5"/><stop offset=".46" stop-color="#00ffcd"/><stop offset=".54" stop-color="#00ffbf"/><stop offset=".62" stop-color="#00ffbb"/><stop offset=".69" stop-color="#00ffc1"/><stop offset=".77" stop-color="#00ffd1"/><stop offset=".85" stop-color="#00ffeb"/><stop offset=".92" stop-color="#00efff"/><stop offset="1" stop-color="#00c1ff"/></linearGradient>
<linearGradient id="g0_63" gradientUnits="userSpaceOnUse" x1="25.30" x2="144.60" y1="0" y2="0"><stop offset="0" stop-color="#0000ff"/><stop offset=".08" stop-color="#0047ff"/><stop offset=".15" stop-color="#0087ff"/><stop offset=".23" stop-color="#00bcff"/><stop offset=".31" stop-color="#00e8ff"/><stop offset=".38" stop-color="#00fff4"/><stop offset=".46" stop-color="#00ffdc"/><stop offset=".54" stop-color="#00ffce"/><stop offset=".62" stop-color="#00ffca"/><stop offset=".69" stop-color="#00ffd0"/><stop offset=".77" stop-color="#00ffdf"/><stop offset=".85" stop-color="#00fff9"/><stop offset=".92" stop-color="#00e1ff"/><stop offset="1" stop-color="#00b3ff"/></linearGradient>
<linearGradient id="g0_64" gradientUnits="userSpaceOnUse" x1="25.30" x2="144.60" y1="0" y2="0"><stop offset="0" stop-color="#0000ff"/><stop offset=".08" stop-color="#0038ff"/><stop offset=".15" stop-color="#0078ff"/><stop offset=".23" stop-color="#00aeff"/><stop offset=".31" stop-color="#00daff"/><stop offset=".38" stop-color="#00fcff"/><stop offset=".46" stop-color="#00ffea"/><stop offset=".54" stop-color="#00ffdc"/><stop offset=".62" stop-color="#00ffd8"/><stop offset=".69" stop-color="#00ffde"/><stop offset=".77" stop-color="#00ffee"/><stop offset=".85" stop-color="#00f6ff"/><stop offset=".92" stop-color="#00d2ff"/><stop offset="1" stop-color="#00a4ff"/></linearGradient>
<clipPath id="c1"><rect x="216.80" y="144.70" width="115.70" height="120.30"/></clipPath>
<linearGradient id="g1_0" gradientUnits="userSpaceOnUse" x1="216.80" x2="332.50" y1="0" y2="0"><stop offset="0" stop-color="#a5ff00"/><stop offset=".08" stop-color="#e9ff00"/><stop offset=".15" stop-color="#ffdb00"/><stop offset=".23" stop-color="#ffab00"/><stop offset=".31" stop-color="#ff8500"/><stop offset=".38" stop-color="#ff6900"/><stop offset=".46" stop-color="#ff5700"/><stop offset=".54" stop-color="#ff4f00"/><stop offset=".62" stop-color="#ff5100"/><stop offset=".69" stop-color="#ff5d00"/><stop offset=".77" stop-color="#ff7300"/><stop offset=".85" stop-color="#ff9300"/><stop offset=".92" stop-color="#ffbd00"/><stop offset="1" stop-color="#fff100"/></linearGradient>
<linearGradient id="g1_1" gradientUnits="userSpaceOnUse" x1="216.80" x2="332.50" y1="0" y2="0"><stop offset="0" stop-color="#94ff00"/><stop offset=".08" stop-color="#d8ff00"/><stop offset=".15" stop-color="#ffec00"/><stop offset=".23" stop-color="#ffbb00"/><stop offset=".31" stop-color="#ff9500"/><stop offset=".38" stop-color="#ff7900"/><stop offset=".46" stop-color="#ff6700"/><stop offset=".54" stop-color="#ff5f00"/><stop offset=".62" stop-color="#ff6100"/><stop offset=".69" stop-color="#ff6d00"/><stop offset=".77" stop-color="#ff8200"/><stop offset=".85" stop-color="#ffa200"/><stop offset=".92" stop-color="#ffcc00"/><stop offset="1" stop-color="#feff00"/></linearGradient>
<linearGradient id="g1_2" gradientUnits="userSpaceOnUse" x1="216.80" x2="332.50" y1="0" y2="0"><stop offset="0" stop-color="#83ff00"/><stop offset=".08" stop-color="#c8ff00"/><stop offset=".15" stop-color="#fffc00"/><stop offset=".23" stop-color="#ffcc00"/><stop offset=".31" stop-color="#ffa500"/><stop offset=".38" stop-color="#ff8900"/><stop offset=".46" stop-color="#ff7700"/><stop offset=".54" stop-color="#ff6e00"/><stop offset=".62" stop-color="#ff7000"/><stop offset=".69" stop-color="#ff7c00"/><stop offset=".77" stop-color="#ff9100"/><stop offset=".85" stop-color="#ffb100"/><stop offset=".92" stop-color="#ffda00"/><stop offset="1" stop-color="#f0ff00"/></linearGradient>
<linearGradient id="g1_3" gradientUnits="userSpaceOnUse" x1="216.80" x2="332.50" y1="0" y2="0"><stop offset="0" stop-color="#73ff00"/><stop offset=".08" stop-color="#b8ff00"/><stop offset=".15" stop-color="#f2ff00"/><stop offset=".23" stop-color="#ffdc00"/><stop offset=".31" stop-color="#ffb500"/><stop offset=".38" stop-color="#ff9900"/><stop offset=".46" stop-color="#ff8600"/><stop offset=".54" stop-color="#ff7d00"/><stop offset=".62" stop-color="#ff7f00"/><stop offset=".69" stop-color="#ff8a00"/><stop offset=".77" stop-color="#ffa000"/><stop offset=".85" stop-color="#ffbf00"/><stop offset=".92" stop-color="#ffe900"/><stop offset="1" stop-color="#e2ff00"/></linearGradient>
<linearGradient id="g1_4" gradientUnits="userSpaceOnUse" x1="216.80" x2="332.50" y1="0" y2="0"><stop offset="0" stop-color="#63ff00"/><stop offset=".08" stop-color="#a8ff00"/><stop offset=".15" stop-color="#e2ff00"/><stop offset=".23" stop-color="#ffeb00"/><stop offset=".31" stop-color="#ffc400"/><stop offset=".38" stop-color="#ffa800"/><stop offset=".46" stop-color="#ff9500"/><stop offset=".54" stop-color="#ff8c00"/><stop offset=".62" stop-color="#ff8d00"/><stop offset=".69" stop-color="#ff9900"/><stop offset=".77" stop-color="#ffae00"/><stop offset=".85" stop-color="#ffcd00"/><stop offset=".92" stop-color="#fff600"/><stop offset="1" stop-color="#d4ff00"/></linearGradient>
<linearGradient id="g1_5" gradientUnits="userSpaceOnUse" x1="216.80" x2="332.50" y1="0" y2="0"><stop offset="0" stop-color="#53ff00"/><stop offset=".08" stop-color="#98ff00"/><stop offset=".15" stop-color="#d3ff00"/><stop offset=".23" stop-color="#fffa00"/><stop offset=".31" stop-color="#ffd300"/><stop offset=".38" stop-color="#ffb600"/><stop offset=".46" stop-color="#ffa300"/><stop offset=".54" stop-color="#ff9b00"/><stop offset=".62" stop-color="#ff9c00"/><stop offset=".69" stop-color="#ffa700"/><stop offset=".77" stop-color="#ffbc00"/><stop offset=".85" stop-color="#ffdb00"/><stop offset=".92" stop-color="#faff00"/><stop offset="1" stop-color="#c7ff00"/></linearGradient>
<linearGradient id="g1_6" gradientUnits="userSpaceOnUse" x1="216.80" x2="332.50" y1="0" y2="0"><stop offset="0" stop-color="#44ff00"/><stop offset=".08" stop-color="#89ff00"/><stop offset=".15" stop-color="#c4ff00"/><stop offset=".23" stop-color="#f5ff00"/><stop offset=".31" stop-color="#ffe200"/><stop offset=".38" stop-color="#ffc500"/><stop offset=".46" stop-color="#ffb200"/><stop offset=".54" stop-color="#ffa900"/><stop offset=".62" stop-color="#ffa900"/><stop offset=".69" stop-color="#ffb400"/><stop offset=".77" stop-color="#ffc900"/><stop offset=".85" stop-color="#ffe800"/><stop offset=".92" stop-color="#edff00"/><stop offset="1" stop-color="#baff00"/></linearGradient>
<linearGradient id="g1_7" gradientUnits="userSpaceOnUse" x1="216.80" x2="332.50" y1="0" y2="0"><stop offset="0" stop-color="#35ff00"/><stop offset=".08" stop-color="#7aff00"/><stop offset=".15" stop-color="#b5ff00"/><stop offset=".23" stop-color="#e7ff00"/><stop offset=".31" stop-color="#fff000"/><stop offset=".38" stop-color="#ffd300"/><stop offset=".46" stop-color="#ffc000"/><stop offset=".54" stop-color="#ffb600"/><stop offset=".62" stop-color="#ffb700"/><stop offset=".69" stop-color="#ffc200"/><stop offset=".77" stop-color="#ffd600"/><stop offset=".85" stop-color="#fff500"/><stop offset=".92" stop-color="#e0ff00"/><stop offset="1" stop-color="#aeff00"/></linearGradient>
<linearGradient id="g1_8" gradientUnits="userSpaceOnUse" x1="216.80" x2="332.50" y1="0" y2="0"><stop offset="0" stop-color="#26ff00"/><stop offset=".08" stop-color="#6cff00"/><stop offset=".15" stop-color="#a7ff00"/><stop offset=".23" stop-color="#d9ff00"/><stop offset=".31" stop-color="#fffe00"/><stop offset=".38" stop-color="#ffe100"/><stop offset=".46" stop-color="#ffcd00"/><stop offset=".54" stop-color="#ffc400"/><stop offset=".62" stop-color="#ffc400"/><stop offset=".69" stop-color="#ffcf00"/><stop offset=".77" stop-color="#ffe300"/><stop offset=".85" stop-color="#fdff00"/><stop offset=".92" stop-color="#d4ff00"/><stop offset="1" stop-color="#a2ff00"/></linearGradient>
<linearGradient id="g1_9" gradientUnits="userSpaceOnUse" x1="216.80" x2="332.50" y1="0" y2="0"><stop offset="0" stop-color="#18ff00"/><stop offset=".08" stop-color="#5eff00"/><stop offset=".15" stop-color="#99ff00"/><stop offset=".23" stop-color="#cbff00"/><stop offset=".31" stop-color="#f3ff00"/><stop offset=".38" stop-color="#ffee00"/><stop offset=".46" stop-color="#ffda00"/><stop offset=".54" stop-color="#ffd000"/><stop offset=".62" stop-color="#ffd100"/><stop offset=".69" stop-color="#ffdb00"/><stop offset=".77" stop-color="#ffef00"/><stop offset=".85" stop-color="#f0ff00"/><stop offset=".92" stop-color="#c8ff00"/><stop offset="1" stop-color="#96ff00"/></linearGradient>
<linearGradient id="g1_10" gradientUnits="userSpaceOnUse" x1="216.80" x2="332.50" y1="0" y2="0"><stop offset="0" stop-color="#0aff00"/><stop offset=".08" stop-color="#50ff00"/><stop offset=".15" stop-color="#8cff00"/><stop offset=".23" stop-color="#beff00"/><stop offset=".31" stop-color="#e5ff00"/><stop offset=".38" stop-color="#fffb00"/><stop offset=".46" stop-color="#ffe700"/><stop offset=".54" stop-color="#ffdd00"/><stop offset=".62" stop-color="#ffdd00"/><stop offset=".69" stop-color="#ffe700"/><stop offset=".77" stop-color="#fffb00"/><stop offset=".85" stop-color="#e5ff00"/><stop offset=".92" stop-color="#bcff00"/><stop offset="1" stop-color="#8aff00"/></linearGradient>
<linearGradient id="g1_11" gradientUnits="userSpaceOnUse" x1="216.80" x2="332.50" y1="0" y2="0"><stop offset="0" stop-color="#00ff03"/><stop offset=".08" stop-color="#43ff00"/><stop offset=".15" stop-color="#7fff00"/><stop offset=".23" stop-color="#b1ff00"/><stop offset=".31" stop-color="#d9ff00"/><stop offset=".38" stop-color="#f7ff00"/><stop offset=".46" stop-color="#fff300"/><stop offset=".54" stop-color="#ffe900"/><stop offset=".62" stop-color="#ffe900"/><stop offset=".69" stop-color="#fff300"/><stop offset=".77" stop-color="#f7ff00"/><stop offset=".85" stop-color="#d9ff00"/><stop offset=".92" stop-color="#b1ff00"/><stop offset="1" stop-color="#7fff00"/></linearGradient>
<linearGradient id="g1_12" gradientUnits="userSpaceOnUse" x1="216.80" x2="332.50" y1="0" y2="0"><stop offset="0" stop-color="#00ff11"/><stop offset=".08" stop-color="#36ff00"/><stop offset=".15" stop-color="#72ff00"/><stop offset=".23" stop-color="#a4ff00"/><stop offset=".31" stop-color="#ccff00"/><stop offset=".38" stop-color="#eaff00"/><stop offset=".46" stop-color="#ffff00"/><stop offset=".54" stop-color="#fff500"/><stop offset=".62" stop-color="#fff500"/><stop offset=".69" stop-color="#ffff00"/><stop offset=".77" stop-color="#ecff00"/><stop offset=".85" stop-color="#ceff00"/><stop offset=".92" stop-color="#a6ff00"/><stop offset="1" stop-color="#75ff00"/></linearGradient>
<linearGradient id="g1_13" gradientUnits="userSpaceOnUse" x1="216.80" x2="332.50" y1="0" y2="0"><stop offset="0" stop-color="#00ff1d"/><stop offset=".08" stop-color="#29ff00"/><stop offset=".15" stop-color="#65ff00"/><stop offset=".23" stop-color="#98ff00"/><stop offset=".31" stop-color="#c0ff00"/><stop offset=".38" stop-color="#dfff00"/><stop offset=".46" stop-color="#f3ff00"/><stop offset=".54" stop-color="#fdff00"/><stop offset=".62" stop-color="#feff00"/><stop offset=".69" stop-color="#f4ff00"/><stop offset=".77" stop-color="#e1ff00"/><stop offset=".85" stop-color="#c3ff00"/><stop offset=".92" stop-color="#9cff00"/><stop offset="1" stop-color="#6aff00"/></linearGradient>
<linearGradient id="g1_14" gradientUnits="userSpaceOnUse" x1="216.80" x2="332.50" y1="0" y2="0"><stop offset="0" stop-color="#00ff2a"/><stop offset=".08" stop-color="#1dff00"/><stop offset=".15" stop-color="#59ff00"/><stop offset=".23" stop-color="#8cff00"/><stop offset=".31" stop-color="#b4ff00"/><stop offset=".38" stop-color="#d3ff00"/><stop offset=".46" stop-color="#e8ff00"/><stop offset=".54" stop-color="#f2ff00"/><stop offset=".62" stop-color="#f3ff00"/><stop offset=".69" stop-color="#eaff00"/><stop offset=".77" stop-color="#d6ff00"/><stop offset=".85" stop-color="#b9ff00"/><stop offset=".92" stop-color="#92ff00"/><stop offset="1" stop-color="#60ff00"/></linearGradient>
<linearGradient id="g1_15" gradientUnits="userSpaceOnUse" x1="216.80" x2="332.50" y1="0" y2="0"><stop offset="0" stop-color="#00ff36"/><stop offset=".08" stop-color="#11ff00"/><stop offset=".15" stop-color="#4dff00"/><stop offset=".23" stop-color="#80ff00"/><stop offset=".31" stop-color="#a9ff00"/><stop offset=".38" stop-color="#c8ff00"/><stop offset=".46" stop-color="#ddff00"/><stop offset=".54" stop-color="#e7ff00"/><stop offset=".62" stop-color="#e8ff00"/><stop offset=".69" stop-color="#dfff00"/><stop offset=".77" stop-color="#ccff00"/><stop offset=".85" stop-color="#afff00"/><stop offset=".92" stop-color="#88ff00"/><stop offset="1" stop-color="#57ff00"/></linearGradient>
<linearGradient id="g1_16" gradientUnits="userSpaceOnUse" x1="216.80" x2="332.50" y1="0" y2="0"><stop offset="0" stop-color="#00ff42"/><stop offset=".08" stop-color="#05ff00"/><stop offset=".15" stop-color="#42ff00"/><stop offset=".23" stop-color="#75ff00"/><stop offset=".31" stop-color="#9eff00"/><stop offset=".38" stop-color="#bdff00"/><stop offset=".46" stop-color="#d2ff00"/><stop offset=".54" stop-color="#ddff00"/><stop offset=".62" stop-color="#deff00"/><stop offset=".69" stop-color="#d5ff00"/><stop offset=".77" stop-color="#c2ff00"/><stop offset=".85" stop-color="#a5ff00"/><stop offset=".92" stop-color="#7eff00"/><stop offset="1" stop-color="#4dff00"/></linearGradient>
<linearGradient id="g1_17" gradientUnits="userSpaceOnUse" x1="216.80" x2="332.50" y1="0" y2="0"><stop offset="0" stop-color="#00ff4d"/><stop offset=".08" stop-color="#00ff06"/><stop offset=".15" stop-color="#37ff00"/><stop offset=".23" stop-color="#6aff00"/><stop offset=".31" stop-color="#93ff00"/><stop offset=".38" stop-color="#b3ff00"/><stop offset=".46" stop-color="#c8ff00"/><stop offset=".54" stop-color="#d3ff00"/><stop offset=".62" stop-color="#d4ff00"/><stop offset=".69" stop-color="#cbff00"/><stop offset=".77" stop-color="#b9ff00"/><stop offset=".85" stop-color="#9cff00"/><stop offset=".92" stop-color="#75ff00"/><stop offset="1" stop-color="#44ff00"/></linearGradient>
<linearGradient id="g1_18" gradientUnits="userSpaceOnUse" x1="216.80" x2="332.50" y1="0" y2="0"><stop offset="0" stop-color="#00ff58"/><stop offset=".08" stop-color="#00ff11"/><stop offset=".15" stop-color="#2cff00"/><stop offset=".23" stop-color="#60ff00"/><stop offset=".31" stop-color="#89ff00"/><stop offset=".38" stop-color="#a9ff00"/><stop offset=".46" stop-color="#beff00"/><stop offset=".54" stop-color="#c9ff00"/><stop offset=".62" stop-color="#cbff00"/><stop offset=".69" stop-color="#c2ff00"/><stop offset=".77" stop-color="#b0ff00"/><stop offset=".85" stop-color="#93ff00"/><stop offset=".92" stop-color="#6cff00"/><stop offset="1" stop-color="#3cff00"/></linearGradient>
<linearGradient id="g1_19" gradientUnits="userSpaceOnUse" x1="216.80" x2="332.50" y1="0" y2="0"><stop offset="0" stop-color="#00ff63"/><stop offset=".08" stop-color="#00ff1b"/><stop offset=".15" stop-color="#22ff00"/><stop offset=".23" stop-color="#56ff00"/><stop offset=".31" stop-color="#7fff00"/><stop offset=".38" stop-color="#9fff00"/><stop offset=".46" stop-color="#b4ff00"/><stop offset=".54" stop-color="#c0ff00"/><stop offset=".62" stop-color="#c2ff00"/><stop offset=".69" stop-color="#b9ff00"/><stop offset=".77" stop-color="#a7ff00"/><stop offset=".85" stop-color="#8aff00"/><stop offset=".92" stop-color="#64ff00"/><stop offset="1" stop-color="#34ff00"/></linearGradient>
<linearGradient id="g1_20" gradientUnits="userSpaceOnUse" x1="216.80" x2="332.50" y1="0" y2="0"><stop offset="0" stop-color="#00ff6d"/><stop offset=".08" stop-color="#00ff25"/><stop offset=".15" stop-color="#18ff00"/><stop offset=".23" stop-color="#4cff00"/><stop offset=".31" stop-color="#76ff00"/><stop offset=".38" stop-color="#95ff00"/><stop offset=".46" stop-color="#abff00"/><stop offset=".54" stop-color="#b7ff00"/><stop offset=".62" stop-color="#b9ff00"/><stop offset=".69" stop-color="#b1ff00"/><stop offset=".77" stop-color="#9eff00"/><stop offset=".85" stop-color="#82ff00"/><stop offset=".92" stop-color="#5cff00"/><stop offset="1" stop-color="#2cff00"/></linearGradient>
<linearGradient id="g1_21" gradientUnits="userSpaceOnUse" x1="216.80" x2="332.50" y1="0" y2="0"><stop offset="0" stop-color="#00ff77"/><stop offset=".08" stop-color="#00ff2f"/><stop offset=".15" stop-color="#0fff00"/><stop offset=".23" stop-color="#43ff00"/><stop offset=".31" stop-color="#6dff00"/><stop offset=".38" stop-color="#8cff00"/><stop offset=".46" stop-color="#a2ff00"/><stop offset=".54" stop-color="#aeff00"/><stop offset=".62" stop-color="#b0ff00"/><stop offset=".69" stop-color="#a8ff00"/><stop offset=".77" stop-color="#96ff00"/><stop offset=".85" stop-color="#7aff00"/><stop offset=".92" stop-color="#54ff00"/><stop offset="1" stop-color="#24ff00"/></linearGradient>
<linearGradient id="g1_22" gradientUnits="userSpaceOnUse" x1="216.80" x2="332.50" y1="0" y2="0"><stop offset="0" stop-color="#00ff81"/><stop offset=".08" stop-color="#00ff39"/><stop offset=".15" stop-color="#06ff00"/><stop offset=".23" stop-color="#3aff00"/><stop offset=".31" stop-color="#64ff00"/><stop offset=".38" stop-color="#84ff00"/><stop offset=".46" stop-color="#9aff00"/><stop offset=".54" stop-color="#a6ff00"/><stop offset=".62" stop-color="#a8ff00"/><stop offset=".69" stop-color="#a0ff00"/><stop offset=".77" stop-color="#8fff00"/><stop offset=".85" stop-color="#73ff00"/><stop offset=".92" stop-color="#4dff00"/><stop offset="1" stop-color="#1dff00"/></linearGradient>
<linearGradient id="g1_23" gradientUnits="userSpaceOnUse" x1="216.80" x2="332.50" y1="0" y2="0"><stop offset="0" stop-color="#00ff8a"/><stop offset=".08" stop-color="#00ff42"/><stop offset=".15" stop-color="#00ff03"/><stop offset=".23" stop-color="#31ff00"/><stop offset=".31" stop-color="#5bff00"/><stop offset=".38" stop-color="#7cff00"/><stop offset=".46" stop-color="#92ff00"/><stop offset=".54" stop-color="#9eff00"/><stop offset=".62" stop-color="#a1ff00"/><stop offset=".69" stop-color="#99ff00"/><stop offset=".77" stop-color="#87ff00"/><stop offset=".85" stop-color="#6cff00"/><stop offset=".92" stop-color="#46ff00"/><stop offset="1" stop-color="#16ff00"/></linearGradient>
<linearGradient id="g1_24" gradientUnits="userSpaceOnUse" x1="216.80" x2="332.50" y1="0" y2="0"><stop offset="0" stop-color="#00ff93"/><stop offset=".08" stop-color="#00ff4a"/><stop offset=".15" stop-color="#00ff0c"/><stop offset=".23" stop-color="#29ff00"/><stop offset=".31" stop-color="#53ff00"/><stop offset=".38" stop-color="#74ff00"/><stop offset=".46" stop-color="#8aff00"/><stop offset=".54" stop-color="#97ff00"/><stop offset=".62" stop-color="#99ff00"/><stop offset=".69" stop-color="#92ff00"/><stop offset=".77" stop-color="#80ff00"/><stop offset=".85" stop-color="#65ff00"/><stop offset=".92" stop-color="#3fff00"/><stop offset="1" stop-color="#10ff00"/></linearGradient>
<linearGradient id="g1_25" gradientUnits="userSpaceOnUse" x1="216.80" x2="332.50" y1="0" y2="0"><stop offset="0" stop-color="#00ff9b"/><stop offset=".08" stop-color="#00ff53"/><stop offset=".15" stop-color="#00ff14"/><stop offset=".23" stop-color="#21ff00"/><stop offset=".31" stop-color="#4bff00"/><stop offset=".38" stop-color="#6cff00"/><stop offset=".46" stop-color="#83ff00"/><stop offset=".54" stop-color="#90ff00"/><stop offset=".62" stop-color="#92ff00"/><stop offset=".69" stop-color="#8bff00"/><stop offset=".77" stop-color="#7aff00"/><stop offset=".85" stop-color="#5eff00"/><stop offset=".92" stop-color="#39ff00"/><stop offset="1" stop-color="#0aff00"/></linearGradient>
<linearGradient id="g1_26" gradientUnits="userSpaceOnUse" x1="216.80" x2="332.50" y1="0" y2="0"><stop offset="0" stop-color="#00ffa3"/><stop offset=".08" stop-color="#00ff5b"/><stop offset=".15" stop-color="#00ff1c"/><stop offset=".23" stop-color="#19ff00"/><stop offset=".31" stop-color="#44ff00"/><stop offset=".38" stop-color="#65ff00"/><stop offset=".46" stop-color="#7cff00"/><stop offset=".54" stop-color="#89ff00"/><stop offset=".62" stop-color="#8cff00"/><stop offset=".69" stop-color="#85ff00"/><stop offset=".77" stop-color="#73ff00"/><stop offset=".85" stop-color="#58ff00"/><stop offset=".92" stop-color="#33ff00"/><stop offset="1" stop-color="#04ff00"/></linearGradient>
<linearGradient id="g1_27" gradientUnits="userSpaceOnUse" x1="216.80" x2="332.50" y1="0" y2="0"><stop offset="0" stop-color="#00ffab"/><stop offset=".08" stop-color="#00ff62"/><stop offset=".15" stop-color="#00ff23"/><stop offset=".23" stop-color="#12ff00"/><stop offset=".31" stop-color="#3dff00"/><stop offset=".38" stop-color="#5eff00"/><stop offset=".46" stop-color="#75ff00"/><stop offset=".54" stop-color="#82ff00"/><stop offset=".62" stop-color="#85ff00"/><stop offset=".69" stop-color="#7eff00"/><stop offset=".77" stop-color="#6eff00"/><stop offset=".85" stop-color="#53ff00"/><stop offset=".92" stop-color="#2eff00"/><stop offset="1" stop-color="#00ff01"/></linearGradient>
<linearGradient id="g1_28" gradientUnits="userSpaceOnUse" x1="216.80" x2="332.50" y1="0" y2="0"><stop offset="0" stop-color="#00ffb3"/><stop offset=".08" stop-color="#00ff69"/><stop offset=".15" stop-color="#00ff2a"/><stop offset=".23" stop-color="#0bff00"/><stop offset=".31" stop-color="#36ff00"/><stop offset=".38" stop-color="#58ff00"/><stop offset=".46" stop-color="#6fff00"/><stop offset=".54" stop-color="#7cff00"/><stop offset=".62" stop-color="#7fff00"/><stop offset=".69" stop-color="#79ff00"/><stop offset=".77" stop-color="#68ff00"/><stop offset=".85" stop-color="#4dff00"/><stop offset=".92" stop-color="#29ff00"/><stop offset="1" stop-color="#00ff06"/></linearGradient>
<linearGradient id="g1_29" gradientUnits="userSpaceOnUse" x1="216.80" x2="332.50" y1="0" y2="0"><stop offset="0" stop-color="#00ffba"/><stop offset=".08" stop-color="#00ff70"/><stop offset=".15" stop-color="#00ff31"/><stop offset=".23" stop-color="#05ff00"/><stop offset=".31" stop-color="#30ff00"/><stop offset=".38" stop-color="#51ff00"/><stop offset=".46" stop-color="#69ff00"/><stop offset=".54" stop-color="#76ff00"/><stop offset=".62" stop-color="#7aff00"/><stop offset=".69" stop-color="#73ff00"/><stop offset=".77" stop-color="#63ff00"/><stop offset=".85" stop-color="#48ff00"/><stop offset=".92" stop-color="#24ff00"/><stop offset="1" stop-color="#00ff0a"/></linearGradient>
<linearGradient id="g1_30" gradientUnits="userSpaceOnUse" x1="216.80" x2="332.50" y1="0" y2="0"><stop offset="0" stop-color="#00ffc0"/><stop offset=".08" stop-color="#00ff77"/><stop offset=".15" stop-color="#00ff37"/><stop offset=".23" stop-color="#00ff02"/><stop offset=".31" stop-color="#2aff00"/><stop offset=".38" stop-color="#4cff00"/><stop offset=".46" stop-color="#63ff00"/><stop offset=".54" stop-color="#71ff00"/><stop offset=".62" stop-color="#75ff00"/><stop offset=".69" stop-color="#6eff00"/><stop offset=".77" stop-color="#5eff00"/><stop offset=".85" stop-color="#44ff00"/><stop offset=".92" stop-color="#20ff00"/><stop offset="1" stop-color="#00ff0f"/></linearGradient>
<linearGradient id="g1_31" gradientUnits="userSpaceOnUse" x1="216.80" x2="332.50" y1="0" y2="0"><stop offset="0" stop-color="#00ffc7"/><stop offset=".08" stop-color="#00ff7d"/><stop offset=".15" stop-color="#00ff3d"/><stop offset=".23" stop-color="#00ff07"/><stop offset=".31" stop-color="#25ff00"/><stop offset=".38" stop-color="#46ff00"/><stop offset=".46" stop-color="#5eff00"/><stop offset=".54" stop-color="#6cff00"/><stop offset=".62" stop-color="#70ff00"/><stop offset=".69" stop-color="#6aff00"/><stop offset=".77" stop-color="#5aff00"/><stop offset=".85" stop-color="#40ff00"/><stop offset=".92" stop-color="#1bff00"/><stop offset="1" stop-color="#00ff13"/></linearGradient>
<linearGradient id="g1_32" gradientUnits="userSpaceOnUse" x1="216.80" x2="332.50" y1="0" y2="0"><stop offset="0" stop-color="#00ffcd"/><stop offset=".08" stop-color="#00ff83"/><stop offset=".15" stop-color="#00ff43"/><stop offset=".23" stop-color="#00ff0d"/><stop offset=".31" stop-color="#1fff00"/><stop offset=".38" stop-color="#41ff00"/><stop offset=".46" stop-color="#59ff00"/><stop offset=".54" stop-color="#67ff00"/><stop offset=".62" stop-color="#6bff00"/><stop offset=".69" stop-color="#66ff00"/><stop offset=".77" stop-color="#56ff00"/><stop offset=".85" stop-color="#3cff00"/><stop offset=".92" stop-color="#18ff00"/><stop offset="1" stop-color="#00ff16"/></linearGradient>
<linearGradient id="g1_33" gradientUnits="userSpaceOnUse" x1="216.80" x2="332.50" y1="0" y2="0"><stop offset="0" stop-color="#00ffd2"/><stop offset=".08" stop-color="#00ff88"/><stop offset=".15" stop-color="#00ff48"/><stop offset=".23" stop-color="#00ff12"/><stop offset=".31" stop-color="#1aff00"/><stop offset=".38" stop-color="#3dff00"/><stop offset=".46" stop-color="#55ff00"/><stop offset=".54" stop-color="#63ff00"/><stop offset=".62" stop-color="#67ff00"/><stop offset=".69" stop-color="#62ff00"/><stop offset=".77" stop-color="#52ff00"/><stop offset=".85" stop-color="#38ff00"/><stop offset=".92" stop-color="#14ff00"/><stop offset="1" stop-color="#00ff19"/></linearGradient>
<linearGradient id="g1_34" gradientUnits="userSpaceOnUse" x1="216.80" x2="332.50" y1="0" y2="0"><stop offset="0" stop-color="#00ffd8"/><stop offset=".08" stop-color="#00ff8d"/><stop offset=".15" stop-color="#00ff4d"/><stop offset=".23" stop-color="#00ff16"/><stop offset=".31" stop-color="#16ff00"/><stop offset=".38" stop-color="#38ff00"/><stop offset=".46" stop-color="#51ff00"/><stop offset=".54" stop-color="#5fff00"/><stop offset=".62" stop-color="#64ff00"/><stop offset=".69" stop-color="#5eff00"/><stop offset=".77" stop-color="#4eff00"/><stop offset=".85" stop-color="#35ff00"/><stop offset=".92" stop-color="#11ff00"/><stop offset="1" stop-color="#00ff1c"/></linearGradient>
<linearGradient id="g1_35" gradientUnits="userSpaceOnUse" x1="216.80" x2="332.50" y1="0" y2="0"><stop offset="0" stop-color="#00ffdc"/><stop offset=".08" stop-color="#00ff92"/><stop offset=".15" stop-color="#00ff51"/><stop offset=".23" stop-color="#00ff1b"/><stop offset=".31" stop-color="#12ff00"/><stop offset=".38" stop-color="#34ff00"/><stop offset=".46" stop-color="#4dff00"/><stop offset=".54" stop-color="#5cff00"/><stop offset=".62" stop-color="#60ff00"/><stop offset=".69" stop-color="#5bff00"/><stop offset=".77" stop-color="#4bff00"/><stop offset=".85" stop-color="#32ff00"/><stop offset=".92" stop-color="#0fff00"/><stop offset="1" stop-color="#00ff1e"/></linearGradient>
<linearGradient id="g1_36" gradientUnits="userSpaceOnUse" x1="216.80" x2="332.50" y1="0" y2="0"><stop offset="0" stop-color="#00ffe1"/><stop offset=".08" stop-color="#00ff96"/><stop offset=".15" stop-color="#00ff55"/><stop offset=".23" stop-color="#00ff1f"/><stop offset=".31" stop-color="#0eff00"/><stop offset=".38" stop-color="#31ff00"/><stop offset=".46" stop-color="#4aff00"/><stop offset=".54" stop-color="#58ff00"/><stop offset=".62" stop-color="#5dff00"/><stop offset=".69" stop-color="#58ff00"/><stop offset=".77" stop-color="#49ff00"/><stop offset=".85" stop-color="#30ff00"/><stop offset=".92" stop-color="#0dff00"/><stop offset="1" stop-color="#00ff21"/></linearGradient>
<linearGradient id="g1_37" gradientUnits="userSpaceOnUse" x1="216.80" x2="332.50" y1="0" y2="0"><stop offset="0" stop-color="#00ffe5"/><stop offset=".08" stop-color="#00ff9a"/><stop offset=".15" stop-color="#00ff59"/><stop offset=".23" stop-color="#00ff22"/><stop offset=".31" stop-color="#0bff00"/><stop offset=".38" stop-color="#2eff00"/><stop offset=".46" stop-color="#47ff00"/><stop offset=".54" stop-color="#56ff00"/><stop offset=".62" stop-color="#5bff00"/><stop offset=".69" stop-color="#56ff00"/><stop offset=".77" stop-color="#47ff00"/><stop offset=".85" stop-color="#2eff00"/><stop offset=".92" stop-color="#0bff00"/><stop offset="1" stop-color="#00ff22"/></linearGradient>
<linearGradient id="g1_38" gradientUnits="userSpaceOnUse" x1="216.80" x2="332.50" y1="0" y2="0"><stop offset="0" stop-color="#00ffe9"/><stop offset=".08" stop-color="#00ff9e"/><stop offset=".15" stop-color="#00ff5d"/><stop offset=".23" stop-color="#00ff26"/><stop offset=".31" stop-color="#08ff00"/><stop offset=".38" stop-color="#2bff00"/><stop offset=".46" stop-color="#44ff00"/><stop offset=".54" stop-color="#53ff00"/><stop offset=".62" stop-color="#58ff00"/><stop offset=".69" stop-color="#53ff00"/><stop offset=".77" stop-color="#45ff00"/><stop offset=".85" stop-color="#2cff00"/><stop offset=".92" stop-color="#09ff00"/><stop offset="1" stop-color="#00ff24"/></linearGradient>
<linearGradient id="g1_39" gradientUnits="userSpaceOnUse" x1="216.80" x2="332.50" y1="0" y2="0"><stop offset="0" stop-color="#00ffec"/><stop offset=".08" stop-color="#00ffa1"/><stop offset=".15" stop-color="#00ff60"/><stop offset=".23" stop-color="#00ff28"/><stop offset=".31" stop-color="#05ff00"/><stop offset=".38" stop-color="#28ff00"/><stop offset=".46" stop-color="#42ff00"/><stop offset=".54" stop-color="#51ff00"/><stop offset=".62" stop-color="#56ff00"/><stop offset=".69" stop-color="#52ff00"/><stop offset=".77" stop-color="#43ff00"/><stop offset=".85" stop-color="#2bff00"/><stop offset=".92" stop-color="#08ff00"/><stop offset="1" stop-color="#00ff25"/></linearGradient>
<linearGradient id="g1_40" gradientUnits="userSpaceOnUse" x1="216.80" x2="332.50" y1="0" y2="0"><stop offset="0" stop-color="#00ffef"/><stop offset=".08" stop-color="#00ffa4"/><stop offset=".15" stop-color="#00ff63"/><stop offset=".23" stop-color="#00ff2b"/><stop offset=".31" stop-color="#03ff00"/><stop offset=".38" stop-color="#26ff00"/><stop offset=".46" stop-color="#40ff00"/><stop offset=".54" stop-color="#4fff00"/><stop offset=".62" stop-color="#55ff00"/><stop offset=".69" stop-color="#50ff00"/><stop offset=".77" stop-color="#42ff00"/><stop offset=".85" stop-color="#2aff00"/><stop offset=".92" stop-color="#07ff00"/><stop offset="1" stop-color="#00ff25"/></linearGradient>
<linearGradient id="g1_41" gradientUnits="userSpaceOnUse" x1="216.80" x2="332.50" y1="0" y2="0"><stop offset="0" stop-color="#00fff2"/><stop offset=".08" stop-color="#00ffa7"/><stop offset=".15" stop-color="#00ff65"/><stop offset=".23" stop-color="#00ff2d"/><stop offset=".31" stop-color="#01ff00"/><stop offset=".38" stop-color="#24ff00"/><stop offset=".46" stop-color="#3eff00"/><stop offset=".54" stop-color="#4eff00"/><stop offset=".62" stop-color="#54ff00"/><stop offset=".69" stop-color="#4fff00"/><stop offset=".77" stop-color="#41ff00"/><stop offset=".85" stop-color="#29ff00"/><stop offset=".92" stop-color="#07ff00"/><stop offset="1" stop-color="#00ff26"/></linearGradient>
<linearGradient id="g1_42" gradientUnits="userSpaceOnUse" x1="216.80" x2="332.50" y1="0" y2="0"><stop offset="0" stop-color="#00fff5"/><stop offset=".08" stop-color="#00ffa9"/><stop offset=".15" stop-color="#00ff67"/><stop offset=".23" stop-color="#00ff2f"/><stop offset=".31" stop-color="#00ff01"/><stop offset=".38" stop-color="#23ff00"/><stop offset=".46" stop-color="#3dff00"/><stop offset=".54" stop-color="#4dff00"/><stop offset=".62" stop-color="#53ff00"/><stop offset=".69" stop-color="#4fff00"/><stop offset=".77" stop-color="#41ff00"/><stop offset=".85" stop-color="#29ff00"/><stop offset=".92" stop-color="#07ff00"/><stop offset="1" stop-color="#00ff25"/></linearGradient>
<linearGradient id="g1_43" gradientUnits="userSpaceOnUse" x1="216.80" x2="332.50" y1="0" y2="0"><stop offset="0" stop-color="#00fff7"/><stop offset=".08" stop-color="#00ffab"/><stop offset=".15" stop-color="#00ff68"/><stop offset=".23" stop-color="#00ff30"/><stop offset=".31" stop-color="#00ff02"/><stop offset=".38" stop-color="#22ff00"/><stop offset=".46" stop-color="#3cff00"/><stop offset=".54" stop-color="#4cff00"/><stop offset=".62" stop-color="#52ff00"/><stop offset=".69" stop-color="#4eff00"/><stop offset=".77" stop-color="#40ff00"/><stop offset=".85" stop-color="#29ff00"/><stop offset=".92" stop-color="#07ff00"/><stop offset="1" stop-color="#00ff25"/></linearGradient>
<linearGradient id="g1_44" gradientUnits="userSpaceOnUse" x1="216.80" x2="332.50" y1="0" y2="0"><stop offset="0" stop-color="#00fff8"/><stop offset=".08" stop-color="#00ffac"/><stop offset=".15" stop-color="#00ff6a"/><stop offset=".23" stop-color="#00ff32"/><stop offset=".31" stop-color="#00ff03"/><stop offset=".38" stop-color="#21ff00"/><stop offset=".46" stop-color="#3bff00"/><stop offset=".54" stop-color="#4cff00"/><stop offset=".62" stop-color="#52ff00"/><stop offset=".69" stop-color="#4eff00"/><stop offset=".77" stop-color="#41ff00"/><stop offset=".85" stop-color="#29ff00"/><stop offset=".92" stop-color="#07ff00"/><stop offset="1" stop-color="#00ff24"/></linearGradient>
<linearGradient id="g1_45" gradientUnits="userSpaceOnUse" x1="216.80" x2="332.50" y1="0" y2="0"><stop offset="0" stop-color="#00fffa"/><stop offset=".08" stop-color="#00ffad"/><stop offset=".15" stop-color="#00ff6b"/><stop offset=".23" stop-color="#00ff32"/><stop offset=".31" stop-color="#00ff04"/><stop offset=".38" stop-color="#21ff00"/><stop offset=".46" stop-color="#3bff00"/><stop offset=".54" stop-color="#4cff00"/><stop offset=".62" stop-color="#52ff00"/><stop offset=".69" stop-color="#4fff00"/><stop offset=".77" stop-color="#41ff00"/><stop offset=".85" stop-color="#2aff00"/><stop offset=".92" stop-color="#08ff00"/><stop offset="1" stop-color="#00ff23"/></linearGradient>
<linearGradient id="g1_46" gradientUnits="userSpaceOnUse" x1="216.80" x2="332.50" y1="0" y2="0"><stop offset="0" stop-color="#00fffa"/><stop offset=".08" stop-color="#00ffae"/><stop offset=".15" stop-color="#00ff6b"/><stop offset=".23" stop-color="#00ff33"/><stop offset=".31" stop-color="#00ff04"/><stop offset=".38" stop-color="#21ff00"/><stop offset=".46" stop-color="#3bff00"/><stop offset=".54" stop-color="#4cff00"/><stop offset=".62" stop-color="#53ff00"/><stop offset=".69" stop-color="#50ff00"/><stop offset=".77" stop-color="#42ff00"/><stop offset=".85" stop-color="#2bff00"/><stop offset=".92" stop-color="#0aff00"/><stop offset="1" stop-color="#00ff21"/></linearGradient>
<linearGradient id="g1_47" gradientUnits="userSpaceOnUse" x1="216.80" x2="332.50" y1="0" y2="0"><stop offset="0" stop-color="#00fffb"/><stop offset=".08" stop-color="#00ffae"/><stop offset=".15" stop-color="#00ff6b"/><stop offset=".23" stop-color="#00ff33"/><stop offset=".31" stop-color="#00ff04"/><stop offset=".38" stop-color="#21ff00"/><stop offset=".46" stop-color="#3cff00"/><stop offset=".54" stop-color="#4dff00"/><stop offset=".62" stop-color="#54ff00"/><stop offset=".69" stop-color="#51ff00"/><stop offset=".77" stop-color="#44ff00"/><stop offset=".85" stop-color="#2dff00"/><stop offset=".92" stop-color="#0bff00"/><stop offset="1" stop-color="#00ff20"/></linearGradient>
<linearGradient id="g1_48" gradientUnits="userSpaceOnUse" x1="216.80" x2="332.50" y1="0" y2="0"><stop offset="0" stop-color="#00fffb"/><stop offset=".08" stop-color="#00ffae"/><stop offset=".15" stop-color="#00ff6b"/><stop offset=".23" stop-color="#00ff32"/><stop offset=".31" stop-color="#00ff03"/><stop offset=".38" stop-color="#22ff00"/><stop offset=".46" stop-color="#3dff00"/><stop offset=".54" stop-color="#4eff00"/><stop offset=".62" stop-color="#55ff00"/><stop offset=".69" stop-color="#52ff00"/><stop offset=".77" stop-color="#45ff00"/><stop offset=".85" stop-color="#2eff00"/><stop offset=".92" stop-color="#0eff00"/><stop offset="1" stop-color="#00ff1d"/></linearGradient>
<linearGradient id="g1_49" gradientUnits="userSpaceOnUse" x1="216.80" x2="332.50" y1="0" y2="0"><stop offset="0" stop-color="#00fffb"/><stop offset=".08" stop-color="#00ffae"/><stop offset=".15" stop-color="#00ff6b"/><stop offset=".23" stop-color="#00ff32"/><stop offset=".31" stop-color="#00ff02"/><stop offset=".38" stop-color="#23ff00"/><stop offset=".46" stop-color="#3eff00"/><stop offset=".54" stop-color="#4fff00"/><stop offset=".62" stop-color="#57ff00"/><stop offset=".69" stop-color="#54ff00"/><stop offset=".77" stop-color="#47ff00"/><stop offset=".85" stop-color="#31ff00"/><stop offset=".92" stop-color="#10ff00"/><stop offset="1" stop-color="#00ff1b"/></linearGradient>
<linearGradient id="g1_50" gradientUnits="userSpaceOnUse" x1="216.80" x2="332.50" y1="0" y2="0"><stop offset="0" stop-color="#00fffb"/><stop offset=".08" stop-color="#00ffad"/><stop offset=".15" stop-color="#00ff6a"/><stop offset=".23" stop-color="#00ff30"/><stop offset=".31" stop-color="#00ff01"/><stop offset=".38" stop-color="#24ff00"/><stop offset=".46" stop-color="#40ff00"/><stop offset=".54" stop-color="#51ff00"/><stop offset=".62" stop-color="#59ff00"/><stop offset=".69" stop-color="#56ff00"/><stop offset=".77" stop-color="#4aff00"/><stop offset=".85" stop-color="#33ff00"/><stop offset=".92" stop-color="#13ff00"/><stop offset="1" stop-color="#00ff18"/></linearGradient>
<linearGradient id="g1_51" gradientUnits="userSpaceOnUse" x1="216.80" x2="332.50" y1="0" y2="0"><stop offset="0" stop-color="#00fffa"/><stop offset=".08" stop-color="#00ffac"/><stop offset=".15" stop-color="#00ff69"/><stop offset=".23" stop-color="#00ff2f"/><stop offset=".31" stop-color="#01ff00"/><stop offset=".38" stop-color="#26ff00"/><stop offset=".46" stop-color="#42ff00"/><stop offset=".54" stop-color="#53ff00"/><stop offset=".62" stop-color="#5bff00"/><stop offset=".69" stop-color="#59ff00"/><stop offset=".77" stop-color="#4cff00"/><stop offset=".85" stop-color="#36ff00"/><stop offset=".92" stop-color="#16ff00"/><stop offset="1" stop-color="#00ff14"/></linearGradient>
<linearGradient id="g1_52" gradientUnits="userSpaceOnUse" x1="216.80" x2="332.50" y1="0" y2="0"><stop offset="0" stop-color="#00fff9"/><stop offset=".08" stop-color="#00ffab"/><stop offset=".15" stop-color="#00ff67"/><stop offset=".23" stop-color="#00ff2d"/><stop offset=".31" stop-color="#03ff00"/><stop offset=".38" stop-color="#28ff00"/><stop offset=".46" stop-color="#44ff00"/><stop offset=".54" stop-color="#56ff00"/><stop offset=".62" stop-color="#5eff00"/><stop offset=".69" stop-color="#5cff00"/><stop offset=".77" stop-color="#50ff00"/><stop offset=".85" stop-color="#39ff00"/><stop offset=".92" stop-color="#19ff00"/><stop offset="1" stop-color="#00ff11"/></linearGradient>
<linearGradient id="g1_53" gradientUnits="userSpaceOnUse" x1="216.80" x2="332.50" y1="0" y2="0"><stop offset="0" stop-color="#00fff7"/><stop offset=".08" stop-color="#00ffa9"/><stop offset=".15" stop-color="#00ff65"/><stop offset=".23" stop-color="#00ff2b"/><stop offset=".31" stop-color="#05ff00"/><stop offset=".38" stop-color="#2bff00"/><stop offset=".46" stop-color="#47ff00"/><stop offset=".54" stop-color="#59ff00"/><stop offset=".62" stop-color="#61ff00"/><stop offset=".69" stop-color="#5fff00"/><stop offset=".77" stop-color="#53ff00"/><stop offset=".85" stop-color="#3dff00"/><stop offset=".92" stop-color="#1dff00"/><stop offset="1" stop-color="#00ff0d"/></linearGradient>
<linearGradient id="g1_54" gradientUnits="userSpaceOnUse" x1="216.80" x2="332.50" y1="0" y2="0"><stop offset="0" stop-color="#00fff5"/><stop offset=".08" stop-color="#00ffa7"/><stop offset=".15" stop-color="#00ff63"/><stop offset=".23" stop-color="#00ff29"/><stop offset=".31" stop-color="#08ff00"/><stop offset=".38" stop-color="#2eff00"/><stop offset=".46" stop-color="#4aff00"/><stop offset=".54" stop-color="#5cff00"/><stop offset=".62" stop-color="#64ff00"/><stop offset=".69" stop-color="#63ff00"/><stop offset=".77" stop-color="#57ff00"/><stop offset=".85" stop-color="#41ff00"/><stop offset=".92" stop-color="#21ff00"/><stop offset="1" stop-color="#00ff08"/></linearGradient>
<linearGradient id="g1_55" gradientUnits="userSpaceOnUse" x1="216.80" x2="332.50" y1="0" y2="0"><stop offset="0" stop-color="#00fff3"/><stop offset=".08" stop-color="#00ffa4"/><stop offset=".15" stop-color="#00ff60"/><stop offset=".23" stop-color="#00ff26"/><stop offset=".31" stop-color="#0bff00"/><stop offset=".38" stop-color="#31ff00"/><stop offset=".46" stop-color="#4dff00"/><stop offset=".54" stop-color="#60ff00"/><stop offset=".62" stop-color="#68ff00"/><stop offset=".69" stop-color="#67ff00"/><stop offset=".77" stop-color="#5bff00"/><stop offset=".85" stop-color="#46ff00"/><stop offset=".92" stop-color="#26ff00"/><stop offset="1" stop-color="#00ff03"/></linearGradient>
<linearGradient id="g1_56" gradientUnits="userSpaceOnUse" x1="216.80" x2="332.50" y1="0" y2="0"><stop offset="0" stop-color="#00fff0"/><stop offset=".08" stop-color="#00ffa1"/><stop offset=".15" stop-color="#00ff5d"/><stop offset=".23" stop-color="#00ff22"/><stop offset=".31" stop-color="#0eff00"/><stop offset=".38" stop-color="#35ff00"/><stop offset=".46" stop-color="#51ff00"/><stop offset=".54" stop-color="#64ff00"/><stop offset=".62" stop-color="#6cff00"/><stop offset=".69" stop-color="#6bff00"/><stop offset=".77" stop-color="#60ff00"/><stop offset=".85" stop-color="#4aff00"/><stop offset=".92" stop-color="#2bff00"/><stop offset="1" stop-color="#02ff00"/></linearGradient>
<linearGradient id="g1_57" gradientUnits="userSpaceOnUse" x1="216.80" x2="332.50" y1="0" y2="0"><stop offset="0" stop-color="#00ffed"/><stop offset=".08" stop-color="#00ff9e"/><stop offset=".15" stop-color="#00ff5a"/><stop offset=".23" stop-color="#00ff1f"/><stop offset=".31" stop-color="#12ff00"/><stop offset=".38" stop-color="#39ff00"/><stop offset=".46" stop-color="#55ff00"/><stop offset=".54" stop-color="#68ff00"/><stop offset=".62" stop-color="#71ff00"/><stop offset=".69" stop-color="#70ff00"/><stop offset=".77" stop-color="#65ff00"/><stop offset=".85" stop-color="#4fff00"/><stop offset=".92" stop-color="#30ff00"/><stop offset="1" stop-color="#07ff00"/></linearGradient>
<linearGradient id="g1_58" gradientUnits="userSpaceOnUse" x1="216.80" x2="332.50" y1="0" y2="0"><stop offset="0" stop-color="#00ffea"/><stop offset=".08" stop-color="#00ff9b"/><stop offset=".15" stop-color="#00ff56"/><stop offset=".23" stop-color="#00ff1b"/><stop offset=".31" stop-color="#16ff00"/><stop offset=".38" stop-color="#3dff00"/><stop offset=".46" stop-color="#5aff00"/><stop offset=".54" stop-color="#6dff00"/><stop offset=".62" stop-color="#76ff00"/><stop offset=".69" stop-color="#75ff00"/><stop offset=".77" stop-color="#6aff00"/><stop offset=".85" stop-color="#55ff00"/><stop offset=".92" stop-color="#36ff00"/><stop offset="1" stop-color="#0dff00"/></linearGradient>
<linearGradient id="g1_59" gradientUnits="userSpaceOnUse" x1="216.80" x2="332.50" y1="0" y2="0"><stop offset="0" stop-color="#00ffe6"/><stop offset=".08" stop-color="#00ff97"/><stop offset=".15" stop-color="#00ff52"/><stop offset=".23" stop-color="#00ff17"/><stop offset=".31" stop-color="#1bff00"/><stop offset=".38" stop-color="#42ff00"/><stop offset=".46" stop-color="#5fff00"/><stop offset=".54" stop-color="#72ff00"/><stop offset=".62" stop-color="#7bff00"/><stop offset=".69" stop-color="#7aff00"/><stop offset=".77" stop-color="#70ff00"/><stop offset=".85" stop-color="#5bff00"/><stop offset=".92" stop-color="#3cff00"/><stop offset="1" stop-color="#13ff00"/></linearGradient>
<linearGradient id="g1_60" gradientUnits="userSpaceOnUse" x1="216.80" x2="332.50" y1="0" y2="0"><stop offset="0" stop-color="#00ffe2"/><stop offset=".08" stop-color="#00ff92"/><stop offset=".15" stop-color="#00ff4d"/><stop offset=".23" stop-color="#00ff12"/><stop offset=".31" stop-color="#1fff00"/><stop offset=".38" stop-color="#47ff00"/><stop offset=".46" stop-color="#64ff00"/><stop offset=".54" stop-color="#77ff00"/><stop offset=".62" stop-color="#81ff00"/><stop offset=".69" stop-color="#80ff00"/><stop offset=".77" stop-color="#76ff00"/><stop offset=".85" stop-color="#61ff00"/><stop offset=".92" stop-color="#42ff00"/><stop offset="1" stop-color="#1aff00"/></linearGradient>
<linearGradient id="g1_61" gradientUnits="userSpaceOnUse" x1="216.80" x2="332.50" y1="0" y2="0"><stop offset="0" stop-color="#00ffdd"/><stop offset=".08" stop-color="#00ff8e"/><stop offset=".15" stop-color="#00ff48"/><stop offset=".23" stop-color="#00ff0d"/><stop offset=".31" stop-color="#25ff00"/><stop offset=".38" stop-color="#4cff00"/><stop offset=".46" stop-color="#6aff00"/><stop offset=".54" stop-color="#7dff00"/><stop offset=".62" stop-color="#87ff00"/><stop offset=".69" stop-color="#86ff00"/><stop offset=".77" stop-color="#7cff00"/><stop offset=".85" stop-color="#68ff00"/><stop offset=".92" stop-color="#49ff00"/><stop offset="1" stop-color="#21ff00"/></linearGradient>
<linearGradient id="g1_62" gradientUnits="userSpaceOnUse" x1="216.80" x2="332.50" y1="0" y2="0"><stop offset="0" stop-color="#00ffd8"/><stop offset=".08" stop-color="#00ff89"/><stop offset=".15" stop-color="#00ff43"/><stop offset=".23" stop-color="#00ff07"/><stop offset=".31" stop-color="#2aff00"/><stop offset=".38" stop-color="#52ff00"/><stop offset=".46" stop-color="#70ff00"/><stop offset=".54" stop-color="#83ff00"/><stop offset=".62" stop-color="#8dff00"/><stop offset=".69" stop-color="#8dff00"/><stop offset=".77" stop-color="#83ff00"/><stop offset=".85" stop-color="#6eff00"/><stop offset=".92" stop-color="#50ff00"/><stop offset="1" stop-color="#28ff00"/></linearGradient>
<linearGradient id="g1_63" gradientUnits="userSpaceOnUse" x1="216.80" x2="332.50" y1="0" y2="0"><stop offset="0" stop-color="#00ffd3"/><stop offset=".08" stop-color="#00ff83"/><stop offset=".15" stop-color="#00ff3e"/><stop offset=".23" stop-color="#00ff02"/><stop offset=".31" stop-color="#30ff00"/><stop offset=".38" stop-color="#58ff00"/><stop offset=".46" stop-color="#76ff00"/><stop offset=".54" stop-color="#8aff00"/><stop offset=".62" stop-color="#94ff00"/><stop offset=".69" stop-color="#94ff00"/><stop offset=".77" stop-color="#8aff00"/><stop offset=".85" stop-color="#76ff00"/><stop offset=".92" stop-color="#58ff00"/><stop offset="1" stop-color="#30ff00"/></linearGradient>
<linearGradient id="g1_64" gradientUnits="userSpaceOnUse" x1="216.80" x2="332.50" y1="0" y2="0"><stop offset="0" stop-color="#00ffce"/><stop offset=".08" stop-color="#00ff7e"/><stop offset=".15" stop-color="#00ff38"/><stop offset=".23" stop-color="#04ff00"/><stop offset=".31" stop-color="#37ff00"/><stop offset=".38" stop-color="#5fff00"/><stop offset=".46" stop-color="#7dff00"/><stop offset=".54" stop-color="#91ff00"/><stop offset=".62" stop-color="#9bff00"/><stop offset=".69" stop-color="#9bff00"/><stop offset=".77" stop-color="#91ff00"/><stop offset=".85" stop-color="#7dff00"/><stop offset=".92" stop-color="#60ff00"/><stop offset="1" stop-color="#38ff00"/></linearGradient>
<clipPath id="c2"><rect x="404.40" y="144.70" width="127.40" height="120.30"/></clipPath>
<linearGradient id="g2_0" gradientUnits="userSpaceOnUse" x1="404.40" x2="531.80" y1="0" y2="0"><stop offset="0" stop-color="#33ff00"/><stop offset=".08" stop-color="#7fff00"/><stop offset=".15" stop-color="#c3ff00"/><stop offset=".23" stop-color="#fffc00"/><stop offset=".31" stop-color="#ffc400"/><stop offset=".38" stop-color="#ff9100"/><stop offset=".46" stop-color="#ff6500"/><stop offset=".54" stop-color="#ff4000"/><stop offset=".62" stop-color="#ff2000"/><stop offset=".69" stop-color="#ff0700"/><stop offset=".77" stop-color="#ff0000"/><stop offset=".85" stop-color="#ff0000"/><stop offset=".92" stop-color="#ff0000"/><stop offset="1" stop-color="#ff0000"/></linearGradient>
<linearGradient id="g2_1" gradientUnits="userSpaceOnUse" x1="404.40" x2="531.80" y1="0" y2="0"><stop offset="0" stop-color="#26ff00"/><stop offset=".08" stop-color="#71ff00"/><stop offset=".15" stop-color="#b5ff00"/><stop offset=".23" stop-color="#f3ff00"/><stop offset=".31" stop-color="#ffd300"/><stop offset=".38" stop-color="#ffa100"/><stop offset=".46" stop-color="#ff7500"/><stop offset=".54" stop-color="#ff5000"/><stop offset=".62" stop-color="#ff3100"/><stop offset=".69" stop-color="#ff1800"/><stop offset=".77" stop-color="#ff0500"/><stop offset=".85" stop-color="#ff0000"/><stop offset=".92" stop-color="#ff0000"/><stop offset="1" stop-color="#ff0000"/></linearGradient>
<linearGradient id="g2_2" gradientUnits="userSpaceOnUse" x1="404.40" x2="531.80" y1="0" y2="0"><stop offset="0" stop-color="#19ff00"/><stop offset=".08" stop-color="#63ff00"/><stop offset=".15" stop-color="#a7ff00"/><stop offset=".23" stop-color="#e5ff00"/><stop offset=".31" stop-color="#ffe100"/><stop offset=".38" stop-color="#ffb000"/><stop offset=".46" stop-color="#ff8500"/><stop offset=".54" stop-color="#ff6000"/><stop offset=".62" stop-color="#ff4100"/><stop offset=".69" stop-color="#ff2800"/><stop offset=".77" stop-color="#ff1600"/><stop offset=".85" stop-color="#ff0a00"/><stop offset=".92" stop-color="#ff0400"/><stop offset="1" stop-color="#ff0400"/></linearGradient>
<linearGradient id="g2_3" gradientUnits="userSpaceOnUse" x1="404.40" x2="531.80" y1="0" y2="0"><stop offset="0" stop-color="#0cff00"/><stop offset=".08" stop-color="#56ff00"/><stop offset=".15" stop-color="#9aff00"/><stop offset=".23" stop-color="#d7ff00"/><stop offset=".31" stop-color="#ffef00"/><stop offset=".38" stop-color="#ffbe00"/><stop offset=".46" stop-color="#ff9400"/><stop offset=".54" stop-color="#ff6f00"/><stop offset=".62" stop-color="#ff5100"/><stop offset=".69" stop-color="#ff3800"/><stop offset=".77" stop-color="#ff2600"/><stop offset=".85" stop-color="#ff1b00"/><stop offset=".92" stop-color="#ff1500"/><stop offset="1" stop-color="#ff1600"/></linearGradient>
<linearGradient id="g2_4" gradientUnits="userSpaceOnUse" x1="404.40" x2="531.80" y1="0" y2="0"><stop offset="0" stop-color="#00ff00"/><stop offset=".08" stop-color="#49ff00"/><stop offset=".15" stop-color="#8dff00"/><stop offset=".23" stop-color="#caff00"/><stop offset=".31" stop-color="#fffd00"/><stop offset=".38" stop-color="#ffcd00"/><stop offset=".46" stop-color="#ffa200"/><stop offset=".54" stop-color="#ff7e00"/><stop offset=".62" stop-color="#ff6000"/><stop offset=".69" stop-color="#ff4800"/><stop offset=".77" stop-color="#ff3700"/><stop offset=".85" stop-color="#ff2b00"/><stop offset=".92" stop-color="#ff2600"/><stop offset="1" stop-color="#ff2700"/></linearGradient>
<linearGradient id="g2_5" gradientUnits="userSpaceOnUse" x1="404.40" x2="531.80" y1="0" y2="0"><stop offset="0" stop-color="#00ff0c"/><stop offset=".08" stop-color="#3dff00"/><stop offset=".15" stop-color="#80ff00"/><stop offset=".23" stop-color="#bdff00"/><stop offset=".31" stop-color="#f3ff00"/><stop offset=".38" stop-color="#ffdb00"/><stop offset=".46" stop-color="#ffb000"/><stop offset=".54" stop-color="#ff8d00"/><stop offset=".62" stop-color="#ff6f00"/><stop offset=".69" stop-color="#ff5800"/><stop offset=".77" stop-color="#ff4600"/><stop offset=".85" stop-color="#ff3b00"/><stop offset=".92" stop-color="#ff3700"/><stop offset="1" stop-color="#ff3800"/></linearGradient>
<linearGradient id="g2_6" gradientUnits="userSpaceOnUse" x1="404.40" x2="531.80" y1="0" y2="0"><stop offset="0" stop-color="#00ff18"/><stop offset=".08" stop-color="#31ff00"/><stop offset=".15" stop-color="#74ff00"/><stop offset=".23" stop-color="#b0ff00"/><stop offset=".31" stop-color="#e6ff00"/><stop offset=".38" stop-color="#ffe800"/><stop offset=".46" stop-color="#ffbe00"/><stop offset=".54" stop-color="#ff9b00"/><stop offset=".62" stop-color="#ff7e00"/><stop offset=".69" stop-color="#ff6700"/><stop offset=".77" stop-color="#ff5600"/><stop offset=".85" stop-color="#ff4b00"/><stop offset=".92" stop-color="#ff4700"/><stop offset="1" stop-color="#ff4900"/></linearGradient>
<linearGradient id="g2_7" gradientUnits="userSpaceOnUse" x1="404.40" x2="531.80" y1="0" y2="0"><stop offset="0" stop-color="#00ff23"/><stop offset=".08" stop-color="#25ff00"/><stop offset=".15" stop-color="#68ff00"/><stop offset=".23" stop-color="#a4ff00"/><stop offset=".31" stop-color="#d9ff00"/><stop offset=".38" stop-color="#fff500"/><stop offset=".46" stop-color="#ffcc00"/><stop offset=".54" stop-color="#ffa900"/><stop offset=".62" stop-color="#ff8c00"/><stop offset=".69" stop-color="#ff7500"/><stop offset=".77" stop-color="#ff6500"/><stop offset=".85" stop-color="#ff5b00"/><stop offset=".92" stop-color="#ff5700"/><stop offset="1" stop-color="#ff5900"/></linearGradient>
<linearGradient id="g2_8" gradientUnits="userSpaceOnUse" x1="404.40" x2="531.80" y1="0" y2="0"><stop offset="0" stop-color="#00ff2e"/><stop offset=".08" stop-color="#1aff00"/><stop offset=".15" stop-color="#5cff00"/><stop offset=".23" stop-color="#97ff00"/><stop offset=".31" stop-color="#cdff00"/><stop offset=".38" stop-color="#fcff00"/><stop offset=".46" stop-color="#ffd900"/><stop offset=".54" stop-color="#ffb600"/><stop offset=".62" stop-color="#ff9a00"/><stop offset=".69" stop-color="#ff8400"/><stop offset=".77" stop-color="#ff7400"/><stop offset=".85" stop-color="#ff6a00"/><stop offset=".92" stop-color="#ff6600"/><stop offset="1" stop-color="#ff6900"/></linearGradient>
<linearGradient id="g2_9" gradientUnits="userSpaceOnUse" x1="404.40" x2="531.80" y1="0" y2="0"><stop offset="0" stop-color="#00ff38"/><stop offset=".08" stop-color="#0fff00"/><stop offset=".15" stop-color="#51ff00"/><stop offset=".23" stop-color="#8cff00"/><stop offset=".31" stop-color="#c1ff00"/><stop offset=".38" stop-color="#efff00"/><stop offset=".46" stop-color="#ffe600"/><stop offset=".54" stop-color="#ffc400"/><stop offset=".62" stop-color="#ffa800"/><stop offset=".69" stop-color="#ff9200"/><stop offset=".77" stop-color="#ff8200"/><stop offset=".85" stop-color="#ff7900"/><stop offset=".92" stop-color="#ff7500"/><stop offset="1" stop-color="#ff7800"/></linearGradient>
<linearGradient id="g2_10" gradientUnits="userSpaceOnUse" x1="404.40" x2="531.80" y1="0" y2="0"><stop offset="0" stop-color="#00ff43"/><stop offset=".08" stop-color="#05ff00"/><stop offset=".15" stop-color="#46ff00"/><stop offset=".23" stop-color="#80ff00"/><stop offset=".31" stop-color="#b5ff00"/><stop offset=".38" stop-color="#e3ff00"/><stop offset=".46" stop-color="#fff200"/><stop offset=".54" stop-color="#ffd100"/><stop offset=".62" stop-color="#ffb500"/><stop offset=".69" stop-color="#ff9f00"/><stop offset=".77" stop-color="#ff9000"/><stop offset=".85" stop-color="#ff8700"/><stop offset=".92" stop-color="#ff8400"/><stop offset="1" stop-color="#ff8800"/></linearGradient>
<linearGradient id="g2_11" gradientUnits="userSpaceOnUse" x1="404.40" x2="531.80" y1="0" y2="0"><stop offset="0" stop-color="#00ff4c"/><stop offset=".08" stop-color="#00ff06"/><stop offset=".15" stop-color="#3bff00"/><stop offset=".23" stop-color="#76ff00"/><stop offset=".31" stop-color="#aaff00"/><stop offset=".38" stop-color="#d8ff00"/><stop offset=".46" stop-color="#ffff00"/><stop offset=".54" stop-color="#ffdd00"/><stop offset=".62" stop-color="#ffc200"/><stop offset=".69" stop-color="#ffad00"/><stop offset=".77" stop-color="#ff9e00"/><stop offset=".85" stop-color="#ff9500"/><stop offset=".92" stop-color="#ff9300"/><stop offset="1" stop-color="#ff9600"/></linearGradient>
<linearGradient id="g2_12" gradientUnits="userSpaceOnUse" x1="404.40" x2="531.80" y1="0" y2="0"><stop offset="0" stop-color="#00ff56"/><stop offset=".08" stop-color="#00ff0f"/><stop offset=".15" stop-color="#31ff00"/><stop offset=".23" stop-color="#6bff00"/><stop offset=".31" stop-color="#9fff00"/><stop offset=".38" stop-color="#ccff00"/><stop offset=".46" stop-color="#f4ff00"/><stop offset=".54" stop-color="#ffe900"/><stop offset=".62" stop-color="#ffce00"/><stop offset=".69" stop-color="#ffba00"/><stop offset=".77" stop-color="#ffab00"/><stop offset=".85" stop-color="#ffa300"/><stop offset=".92" stop-color="#ffa100"/><stop offset="1" stop-color="#ffa500"/></linearGradient>
<linearGradient id="g2_13" gradientUnits="userSpaceOnUse" x1="404.40" x2="531.80" y1="0" y2="0"><stop offset="0" stop-color="#00ff5f"/><stop offset=".08" stop-color="#00ff19"/><stop offset=".15" stop-color="#27ff00"/><stop offset=".23" stop-color="#61ff00"/><stop offset=".31" stop-color="#94ff00"/><stop offset=".38" stop-color="#c1ff00"/><stop offset=".46" stop-color="#e8ff00"/><stop offset=".54" stop-color="#fff500"/><stop offset=".62" stop-color="#ffda00"/><stop offset=".69" stop-color="#ffc600"/><stop offset=".77" stop-color="#ffb800"/><stop offset=".85" stop-color="#ffb000"/><stop offset=".92" stop-color="#ffae00"/><stop offset="1" stop-color="#ffb300"/></linearGradient>
<linearGradient id="g2_14" gradientUnits="userSpaceOnUse" x1="404.40" x2="531.80" y1="0" y2="0"><stop offset="0" stop-color="#00ff68"/><stop offset=".08" stop-color="#00ff22"/><stop offset=".15" stop-color="#1eff00"/><stop offset=".23" stop-color="#57ff00"/><stop offset=".31" stop-color="#8aff00"/><stop offset=".38" stop-color="#b7ff00"/><stop offset=".46" stop-color="#ddff00"/><stop offset=".54" stop-color="#feff00"/><stop offset=".62" stop-color="#ffe600"/><stop offset=".69" stop-color="#ffd200"/><stop offset=".77" stop-color="#ffc500"/><stop offset=".85" stop-color="#ffbd00"/><stop offset=".92" stop-color="#ffbc00"/><stop offset="1" stop-color="#ffc100"/></linearGradient>
<linearGradient id="g2_15" gradientUnits="userSpaceOnUse" x1="404.40" x2="531.80" y1="0" y2="0"><stop offset="0" stop-color="#00ff70"/><stop offset=".08" stop-color="#00ff2b"/><stop offset=".15" stop-color="#14ff00"/><stop offset=".23" stop-color="#4dff00"/><stop offset=".31" stop-color="#80ff00"/><stop offset=".38" stop-color="#acff00"/><stop offset=".46" stop-color="#d3ff00"/><stop offset=".54" stop-color="#f3ff00"/><stop offset=".62" stop-color="#fff200"/><stop offset=".69" stop-color="#ffde00"/><stop offset=".77" stop-color="#ffd100"/><stop offset=".85" stop-color="#ffca00"/><stop offset=".92" stop-color="#ffc900"/><stop offset="1" stop-color="#ffce00"/></linearGradient>
<linearGradient id="g2_16" gradientUnits="userSpaceOnUse" x1="404.40" x2="531.80" y1="0" y2="0"><stop offset="0" stop-color="#00ff78"/><stop offset=".08" stop-color="#00ff33"/><stop offset=".15" stop-color="#0cff00"/><stop offset=".23" stop-color="#44ff00"/><stop offset=".31" stop-color="#76ff00"/><stop offset=".38" stop-color="#a2ff00"/><stop offset=".46" stop-color="#c8ff00"/><stop offset=".54" stop-color="#e8ff00"/><stop offset=".62" stop-color="#fffd00"/><stop offset=".69" stop-color="#ffea00"/><stop offset=".77" stop-color="#ffdd00"/><stop offset=".85" stop-color="#ffd600"/><stop offset=".92" stop-color="#ffd500"/><stop offset="1" stop-color="#ffdb00"/></linearGradient>
<linearGradient id="g2_17" gradientUnits="userSpaceOnUse" x1="404.40" x2="531.80" y1="0" y2="0"><stop offset="0" stop-color="#00ff80"/><stop offset=".08" stop-color="#00ff3b"/><stop offset=".15" stop-color="#03ff00"/><stop offset=".23" stop-color="#3bff00"/><stop offset=".31" stop-color="#6dff00"/><stop offset=".38" stop-color="#99ff00"/><stop offset=".46" stop-color="#beff00"/><stop offset=".54" stop-color="#ddff00"/><stop offset=".62" stop-color="#f6ff00"/><stop offset=".69" stop-color="#fff500"/><stop offset=".77" stop-color="#ffe800"/><stop offset=".85" stop-color="#ffe200"/><stop offset=".92" stop-color="#ffe200"/><stop offset="1" stop-color="#ffe800"/></linearGradient>
<linearGradient id="g2_18" gradientUnits="userSpaceOnUse" x1="404.40" x2="531.80" y1="0" y2="0"><stop offset="0" stop-color="#00ff87"/><stop offset=".08" stop-color="#00ff43"/><stop offset=".15" stop-color="#00ff05"/><stop offset=".23" stop-color="#33ff00"/><stop offset=".31" stop-color="#64ff00"/><stop offset=".38" stop-color="#90ff00"/><stop offset=".46" stop-color="#b5ff00"/><stop offset=".54" stop-color="#d3ff00"/><stop offset=".62" stop-color="#ecff00"/><stop offset=".69" stop-color="#ffff00"/><stop offset=".77" stop-color="#fff300"/><stop offset=".85" stop-color="#ffed00"/><stop offset=".92" stop-color="#ffee00"/><stop offset="1" stop-color="#fff400"/></linearGradient>
<linearGradient id="g2_19" gradientUnits="userSpaceOnUse" x1="404.40" x2="531.80" y1="0" y2="0"><stop offset="0" stop-color="#00ff8e"/><stop offset=".08" stop-color="#00ff4a"/><stop offset=".15" stop-color="#00ff0d"/><stop offset=".23" stop-color="#2bff00"/><stop offset=".31" stop-color="#5cff00"/><stop offset=".38" stop-color="#87ff00"/><stop offset=".46" stop-color="#abff00"/><stop offset=".54" stop-color="#caff00"/><stop offset=".62" stop-color="#e2ff00"/><stop offset=".69" stop-color="#f4ff00"/><stop offset=".77" stop-color="#fffe00"/><stop offset=".85" stop-color="#fff800"/><stop offset=".92" stop-color="#fff900"/><stop offset="1" stop-color="#feff00"/></linearGradient>
<linearGradient id="g2_20" gradientUnits="userSpaceOnUse" x1="404.40" x2="531.80" y1="0" y2="0"><stop offset="0" stop-color="#00ff94"/><stop offset=".08" stop-color="#00ff51"/><stop offset=".15" stop-color="#00ff14"/><stop offset=".23" stop-color="#23ff00"/><stop offset=".31" stop-color="#54ff00"/><stop offset=".38" stop-color="#7eff00"/><stop offset=".46" stop-color="#a3ff00"/><stop offset=".54" stop-color="#c1ff00"/><stop offset=".62" stop-color="#d8ff00"/><stop offset=".69" stop-color="#eaff00"/><stop offset=".77" stop-color="#f6ff00"/><stop offset=".85" stop-color="#fbff00"/><stop offset=".92" stop-color="#faff00"/><stop offset="1" stop-color="#f3ff00"/></linearGradient>
<linearGradient id="g2_21" gradientUnits="userSpaceOnUse" x1="404.40" x2="531.80" y1="0" y2="0"><stop offset="0" stop-color="#00ff9b"/><stop offset=".08" stop-color="#00ff58"/><stop offset=".15" stop-color="#00ff1b"/><stop offset=".23" stop-color="#1cff00"/><stop offset=".31" stop-color="#4cff00"/><stop offset=".38" stop-color="#76ff00"/><stop offset=".46" stop-color="#9aff00"/><stop offset=".54" stop-color="#b8ff00"/><stop offset=".62" stop-color="#cfff00"/><stop offset=".69" stop-color="#e0ff00"/><stop offset=".77" stop-color="#ebff00"/><stop offset=".85" stop-color="#f0ff00"/><stop offset=".92" stop-color="#efff00"/><stop offset="1" stop-color="#e7ff00"/></linearGradient>
<linearGradient id="g2_22" gradientUnits="userSpaceOnUse" x1="404.40" x2="531.80" y1="0" y2="0"><stop offset="0" stop-color="#00ffa1"/><stop offset=".08" stop-color="#00ff5e"/><stop offset=".15" stop-color="#00ff22"/><stop offset=".23" stop-color="#15ff00"/><stop offset=".31" stop-color="#45ff00"/><stop offset=".38" stop-color="#6eff00"/><stop offset=".46" stop-color="#92ff00"/><stop offset=".54" stop-color="#afff00"/><stop offset=".62" stop-color="#c6ff00"/><stop offset=".69" stop-color="#d7ff00"/><stop offset=".77" stop-color="#e2ff00"/><stop offset=".85" stop-color="#e6ff00"/><stop offset=".92" stop-color="#e4ff00"/><stop offset="1" stop-color="#dcff00"/></linearGradient>
<linearGradient id="g2_23" gradientUnits="userSpaceOnUse" x1="404.40" x2="531.80" y1="0" y2="0"><stop offset="0" stop-color="#00ffa6"/><stop offset=".08" stop-color="#00ff64"/><stop offset=".15" stop-color="#00ff28"/><stop offset=".23" stop-color="#0eff00"/><stop offset=".31" stop-color="#3eff00"/><stop offset=".38" stop-color="#67ff00"/><stop offset=".46" stop-color="#8aff00"/><stop offset=".54" stop-color="#a7ff00"/><stop offset=".62" stop-color="#beff00"/><stop offset=".69" stop-color="#ceff00"/><stop offset=".77" stop-color="#d8ff00"/><stop offset=".85" stop-color="#ddff00"/><stop offset=".92" stop-color="#daff00"/><stop offset="1" stop-color="#d2ff00"/></linearGradient>
<linearGradient id="g2_24" gradientUnits="userSpaceOnUse" x1="404.40" x2="531.80" y1="0" y2="0"><stop offset="0" stop-color="#00ffab"/><stop offset=".08" stop-color="#00ff69"/><stop offset=".15" stop-color="#00ff2e"/><stop offset=".23" stop-color="#08ff00"/><stop offset=".31" stop-color="#37ff00"/><stop offset=".38" stop-color="#60ff00"/><stop offset=".46" stop-color="#83ff00"/><stop offset=".54" stop-color="#9fff00"/><stop offset=".62" stop-color="#b5ff00"/><stop offset=".69" stop-color="#c6ff00"/><stop offset=".77" stop-color="#cfff00"/><stop offset=".85" stop-color="#d3ff00"/><stop offset=".92" stop-color="#d1ff00"/><stop offset="1" stop-color="#c8ff00"/></linearGradient>
<linearGradient id="g2_25" gradientUnits="userSpaceOnUse" x1="404.40" x2="531.80" y1="0" y2="0"><stop offset="0" stop-color="#00ffb0"/><stop offset=".08" stop-color="#00ff6f"/><stop offset=".15" stop-color="#00ff33"/><stop offset=".23" stop-color="#02ff00"/><stop offset=".31" stop-color="#31ff00"/><stop offset=".38" stop-color="#59ff00"/><stop offset=".46" stop-color="#7cff00"/><stop offset=".54" stop-color="#98ff00"/><stop offset=".62" stop-color="#aeff00"/><stop offset=".69" stop-color="#bdff00"/><stop offset=".77" stop-color="#c7ff00"/><stop offset=".85" stop-color="#caff00"/><stop offset=".92" stop-color="#c7ff00"/><stop offset="1" stop-color="#beff00"/></linearGradient>
<linearGradient id="g2_26" gradientUnits="userSpaceOnUse" x1="404.40" x2="531.80" y1="0" y2="0"><stop offset="0" stop-color="#00ffb4"/><stop offset=".08" stop-color="#00ff73"/><stop offset=".15" stop-color="#00ff38"/><stop offset=".23" stop-color="#00ff04"/><stop offset=".31" stop-color="#2bff00"/><stop offset=".38" stop-color="#53ff00"/><stop offset=".46" stop-color="#75ff00"/><stop offset=".54" stop-color="#91ff00"/><stop offset=".62" stop-color="#a6ff00"/><stop offset=".69" stop-color="#b6ff00"/><stop offset=".77" stop-color="#bfff00"/><stop offset=".85" stop-color="#c2ff00"/><stop offset=".92" stop-color="#beff00"/><stop offset="1" stop-color="#b5ff00"/></linearGradient>
<linearGradient id="g2_27" gradientUnits="userSpaceOnUse" x1="404.40" x2="531.80" y1="0" y2="0"><stop offset="0" stop-color="#00ffb8"/><stop offset=".08" stop-color="#00ff78"/><stop offset=".15" stop-color="#00ff3d"/><stop offset=".23" stop-color="#00ff09"/><stop offset=".31" stop-color="#25ff00"/><stop offset=".38" stop-color="#4dff00"/><stop offset=".46" stop-color="#6eff00"/><stop offset=".54" stop-color="#8aff00"/><stop offset=".62" stop-color="#9fff00"/><stop offset=".69" stop-color="#aeff00"/><stop offset=".77" stop-color="#b7ff00"/><stop offset=".85" stop-color="#b9ff00"/><stop offset=".92" stop-color="#b6ff00"/><stop offset="1" stop-color="#acff00"/></linearGradient>
<linearGradient id="g2_28" gradientUnits="userSpaceOnUse" x1="404.40" x2="531.80" y1="0" y2="0"><stop offset="0" stop-color="#00ffbc"/><stop offset=".08" stop-color="#00ff7c"/><stop offset=".15" stop-color="#00ff42"/><stop offset=".23" stop-color="#00ff0e"/><stop offset=".31" stop-color="#20ff00"/><stop offset=".38" stop-color="#47ff00"/><stop offset=".46" stop-color="#68ff00"/><stop offset=".54" stop-color="#83ff00"/><stop offset=".62" stop-color="#98ff00"/><stop offset=".69" stop-color="#a7ff00"/><stop offset=".77" stop-color="#afff00"/><stop offset=".85" stop-color="#b1ff00"/><stop offset=".92" stop-color="#adff00"/><stop offset="1" stop-color="#a3ff00"/></linearGradient>
<linearGradient id="g2_29" gradientUnits="userSpaceOnUse" x1="404.40" x2="531.80" y1="0" y2="0"><stop offset="0" stop-color="#00ffbf"/><stop offset=".08" stop-color="#00ff80"/><stop offset=".15" stop-color="#00ff46"/><stop offset=".23" stop-color="#00ff12"/><stop offset=".31" stop-color="#1bff00"/><stop offset=".38" stop-color="#42ff00"/><stop offset=".46" stop-color="#63ff00"/><stop offset=".54" stop-color="#7dff00"/><stop offset=".62" stop-color="#92ff00"/><stop offset=".69" stop-color="#a0ff00"/><stop offset=".77" stop-color="#a8ff00"/><stop offset=".85" stop-color="#aaff00"/><stop offset=".92" stop-color="#a5ff00"/><stop offset="1" stop-color="#9bff00"/></linearGradient>
<linearGradient id="g2_30" gradientUnits="userSpaceOnUse" x1="404.40" x2="531.80" y1="0" y2="0"><stop offset="0" stop-color="#00ffc2"/><stop offset=".08" stop-color="#00ff83"/><stop offset=".15" stop-color="#00ff4a"/><stop offset=".23" stop-color="#00ff16"/><stop offset=".31" stop-color="#16ff00"/><stop offset=".38" stop-color="#3dff00"/><stop offset=".46" stop-color="#5eff00"/><stop offset=".54" stop-color="#78ff00"/><stop offset=".62" stop-color="#8cff00"/><stop offset=".69" stop-color="#9aff00"/><stop offset=".77" stop-color="#a1ff00"/><stop offset=".85" stop-color="#a3ff00"/><stop offset=".92" stop-color="#9eff00"/><stop offset="1" stop-color="#93ff00"/></linearGradient>
<linearGradient id="g2_31" gradientUnits="userSpaceOnUse" x1="404.40" x2="531.80" y1="0" y2="0"><stop offset="0" stop-color="#00ffc5"/><stop offset=".08" stop-color="#00ff86"/><stop offset=".15" stop-color="#00ff4d"/><stop offset=".23" stop-color="#00ff1a"/><stop offset=".31" stop-color="#12ff00"/><stop offset=".38" stop-color="#39ff00"/><stop offset=".46" stop-color="#59ff00"/><stop offset=".54" stop-color="#73ff00"/><stop offset=".62" stop-color="#86ff00"/><stop offset=".69" stop-color="#94ff00"/><stop offset=".77" stop-color="#9bff00"/><stop offset=".85" stop-color="#9cff00"/><stop offset=".92" stop-color="#97ff00"/><stop offset="1" stop-color="#8bff00"/></linearGradient>
<linearGradient id="g2_32" gradientUnits="userSpaceOnUse" x1="404.40" x2="531.80" y1="0" y2="0"><stop offset="0" stop-color="#00ffc7"/><stop offset=".08" stop-color="#00ff89"/><stop offset=".15" stop-color="#00ff50"/><stop offset=".23" stop-color="#00ff1e"/><stop offset=".31" stop-color="#0eff00"/><stop offset=".38" stop-color="#34ff00"/><stop offset=".46" stop-color="#54ff00"/><stop offset=".54" stop-color="#6eff00"/><stop offset=".62" stop-color="#81ff00"/><stop offset=".69" stop-color="#8eff00"/><stop offset=".77" stop-color="#95ff00"/><stop offset=".85" stop-color="#95ff00"/><stop offset=".92" stop-color="#90ff00"/><stop offset="1" stop-color="#84ff00"/></linearGradient>
<linearGradient id="g2_33" gradientUnits="userSpaceOnUse" x1="404.40" x2="531.80" y1="0" y2="0"><stop offset="0" stop-color="#00ffc9"/><stop offset=".08" stop-color="#00ff8b"/><stop offset=".15" stop-color="#00ff53"/><stop offset=".23" stop-color="#00ff21"/><stop offset=".31" stop-color="#0bff00"/><stop offset=".38" stop-color="#31ff00"/><stop offset=".46" stop-color="#50ff00"/><stop offset=".54" stop-color="#69ff00"/><stop offset=".62" stop-color="#7cff00"/><stop offset=".69" stop-color="#89ff00"/><stop offset=".77" stop-color="#8fff00"/><stop offset=".85" stop-color="#8fff00"/><stop offset=".92" stop-color="#89ff00"/><stop offset="1" stop-color="#7dff00"/></linearGradient>
<linearGradient id="g2_34" gradientUnits="userSpaceOnUse" x1="404.40" x2="531.80" y1="0" y2="0"><stop offset="0" stop-color="#00ffcb"/><stop offset=".08" stop-color="#00ff8d"/><stop offset=".15" stop-color="#00ff55"/><stop offset=".23" stop-color="#00ff23"/><stop offset=".31" stop-color="#08ff00"/><stop offset=".38" stop-color="#2dff00"/><stop offset=".46" stop-color="#4cff00"/><stop offset=".54" stop-color="#65ff00"/><stop offset=".62" stop-color="#77ff00"/><stop offset=".69" stop-color="#84ff00"/><stop offset=".77" stop-color="#8aff00"/><stop offset=".85" stop-color="#89ff00"/><stop offset=".92" stop-color="#83ff00"/><stop offset="1" stop-color="#76ff00"/></linearGradient>
<linearGradient id="g2_35" gradientUnits="userSpaceOnUse" x1="404.40" x2="531.80" y1="0" y2="0"><stop offset="0" stop-color="#00ffcc"/><stop offset=".08" stop-color="#00ff8e"/><stop offset=".15" stop-color="#00ff57"/><stop offset=".23" stop-color="#00ff26"/><stop offset=".31" stop-color="#05ff00"/><stop offset=".38" stop-color="#2aff00"/><stop offset=".46" stop-color="#49ff00"/><stop offset=".54" stop-color="#61ff00"/><stop offset=".62" stop-color="#73ff00"/><stop offset=".69" stop-color="#7fff00"/><stop offset=".77" stop-color="#85ff00"/><stop offset=".85" stop-color="#84ff00"/><stop offset=".92" stop-color="#7dff00"/><stop offset="1" stop-color="#70ff00"/></linearGradient>
<linearGradient id="g2_36" gradientUnits="userSpaceOnUse" x1="404.40" x2="531.80" y1="0" y2="0"><stop offset="0" stop-color="#00ffcd"/><stop offset=".08" stop-color="#00ff8f"/><stop offset=".15" stop-color="#00ff58"/><stop offset=".23" stop-color="#00ff28"/><stop offset=".31" stop-color="#03ff00"/><stop offset=".38" stop-color="#27ff00"/><stop offset=".46" stop-color="#45ff00"/><stop offset=".54" stop-color="#5dff00"/><stop offset=".62" stop-color="#6fff00"/><stop offset=".69" stop-color="#7bff00"/><stop offset=".77" stop-color="#80ff00"/><stop offset=".85" stop-color="#7fff00"/><stop offset=".92" stop-color="#78ff00"/><stop offset="1" stop-color="#6bff00"/></linearGradient>
<linearGradient id="g2_37" gradientUnits="userSpaceOnUse" x1="404.40" x2="531.80" y1="0" y2="0"><stop offset="0" stop-color="#00ffcd"/><stop offset=".08" stop-color="#00ff90"/><stop offset=".15" stop-color="#00ff5a"/><stop offset=".23" stop-color="#00ff29"/><stop offset=".31" stop-color="#01ff00"/><stop offset=".38" stop-color="#25ff00"/><stop offset=".46" stop-color="#43ff00"/><stop offset=".54" stop-color="#5aff00"/><stop offset=".62" stop-color="#6cff00"/><stop offset=".69" stop-color="#77ff00"/><stop offset=".77" stop-color="#7cff00"/><stop offset=".85" stop-color="#7aff00"/><stop offset=".92" stop-color="#73ff00"/><stop offset="1" stop-color="#65ff00"/></linearGradient>
<linearGradient id="g2_38" gradientUnits="userSpaceOnUse" x1="404.40" x2="531.80" y1="0" y2="0"><stop offset="0" stop-color="#00ffcd"/><stop offset=".08" stop-color="#00ff91"/><stop offset=".15" stop-color="#00ff5b"/><stop offset=".23" stop-color="#00ff2a"/><stop offset=".31" stop-color="#00ff01"/><stop offset=".38" stop-color="#23ff00"/><stop offset=".46" stop-color="#40ff00"/><stop offset=".54" stop-color="#58ff00"/><stop offset=".62" stop-color="#68ff00"/><stop offset=".69" stop-color="#73ff00"/><stop offset=".77" stop-color="#78ff00"/><stop offset=".85" stop-color="#76ff00"/><stop offset=".92" stop-color="#6eff00"/><stop offset="1" stop-color="#60ff00"/></linearGradient>
<linearGradient id="g2_39" gradientUnits="userSpaceOnUse" x1="404.40" x2="531.80" y1="0" y2="0"><stop offset="0" stop-color="#00ffcd"/><stop offset=".08" stop-color="#00ff91"/><stop offset=".15" stop-color="#00ff5b"/><stop offset=".23" stop-color="#00ff2b"/><stop offset=".31" stop-color="#00ff02"/><stop offset=".38" stop-color="#21ff00"/><stop offset=".46" stop-color="#3eff00"/><stop offset=".54" stop-color="#55ff00"/><stop offset=".62" stop-color="#66ff00"/><stop offset=".69" stop-color="#70ff00"/><stop offset=".77" stop-color="#74ff00"/><stop offset=".85" stop-color="#72ff00"/><stop offset=".92" stop-color="#6aff00"/><stop offset="1" stop-color="#5bff00"/></linearGradient>
<linearGradient id="g2_40" gradientUnits="userSpaceOnUse" x1="404.40" x2="531.80" y1="0" y2="0"><stop offset="0" stop-color="#00ffcc"/><stop offset=".08" stop-color="#00ff91"/><stop offset=".15" stop-color="#00ff5b"/><stop offset=".23" stop-color="#00ff2c"/><stop offset=".31" stop-color="#00ff03"/><stop offset=".38" stop-color="#20ff00"/><stop offset=".46" stop-color="#3dff00"/><stop offset=".54" stop-color="#53ff00"/><stop offset=".62" stop-color="#63ff00"/><stop offset=".69" stop-color="#6dff00"/><stop offset=".77" stop-color="#71ff00"/><stop offset=".85" stop-color="#6fff00"/><stop offset=".92" stop-color="#66ff00"/><stop offset="1" stop-color="#57ff00"/></linearGradient>
<linearGradient id="g2_41" gradientUnits="userSpaceOnUse" x1="404.40" x2="531.80" y1="0" y2="0"><stop offset="0" stop-color="#00ffcb"/><stop offset=".08" stop-color="#00ff90"/><stop offset=".15" stop-color="#00ff5b"/><stop offset=".23" stop-color="#00ff2c"/><stop offset=".31" stop-color="#00ff03"/><stop offset=".38" stop-color="#1fff00"/><stop offset=".46" stop-color="#3bff00"/><stop offset=".54" stop-color="#51ff00"/><stop offset=".62" stop-color="#61ff00"/><stop offset=".69" stop-color="#6bff00"/><stop offset=".77" stop-color="#6eff00"/><stop offset=".85" stop-color="#6bff00"/><stop offset=".92" stop-color="#62ff00"/><stop offset="1" stop-color="#53ff00"/></linearGradient>
<linearGradient id="g2_42" gradientUnits="userSpaceOnUse" x1="404.40" x2="531.80" y1="0" y2="0"><stop offset="0" stop-color="#00ffca"/><stop offset=".08" stop-color="#00ff8f"/><stop offset=".15" stop-color="#00ff5a"/><stop offset=".23" stop-color="#00ff2c"/><stop offset=".31" stop-color="#00ff04"/><stop offset=".38" stop-color="#1fff00"/><stop offset=".46" stop-color="#3aff00"/><stop offset=".54" stop-color="#50ff00"/><stop offset=".62" stop-color="#5fff00"/><stop offset=".69" stop-color="#69ff00"/><stop offset=".77" stop-color="#6cff00"/><stop offset=".85" stop-color="#68ff00"/><stop offset=".92" stop-color="#5fff00"/><stop offset="1" stop-color="#4fff00"/></linearGradient>
<linearGradient id="g2_43" gradientUnits="userSpaceOnUse" x1="404.40" x2="531.80" y1="0" y2="0"><stop offset="0" stop-color="#00ffc8"/><stop offset=".08" stop-color="#00ff8e"/><stop offset=".15" stop-color="#00ff59"/><stop offset=".23" stop-color="#00ff2b"/><stop offset=".31" stop-color="#00ff03"/><stop offset=".38" stop-color="#1eff00"/><stop offset=".46" stop-color="#3aff00"/><stop offset=".54" stop-color="#4fff00"/><stop offset=".62" stop-color="#5eff00"/><stop offset=".69" stop-color="#67ff00"/><stop offset=".77" stop-color="#6aff00"/><stop offset=".85" stop-color="#66ff00"/><stop offset=".92" stop-color="#5cff00"/><stop offset="1" stop-color="#4cff00"/></linearGradient>
<linearGradient id="g2_44" gradientUnits="userSpaceOnUse" x1="404.40" x2="531.80" y1="0" y2="0"><stop offset="0" stop-color="#00ffc6"/><stop offset=".08" stop-color="#00ff8c"/><stop offset=".15" stop-color="#00ff58"/><stop offset=".23" stop-color="#00ff2a"/><stop offset=".31" stop-color="#00ff03"/><stop offset=".38" stop-color="#1eff00"/><stop offset=".46" stop-color="#3aff00"/><stop offset=".54" stop-color="#4eff00"/><stop offset=".62" stop-color="#5dff00"/><stop offset=".69" stop-color="#66ff00"/><stop offset=".77" stop-color="#68ff00"/><stop offset=".85" stop-color="#64ff00"/><stop offset=".92" stop-color="#5aff00"/><stop offset="1" stop-color="#49ff00"/></linearGradient>
<linearGradient id="g2_45" gradientUnits="userSpaceOnUse" x1="404.40" x2="531.80" y1="0" y2="0"><stop offset="0" stop-color="#00ffc4"/><stop offset=".08" stop-color="#00ff8a"/><stop offset=".15" stop-color="#00ff56"/><stop offset=".23" stop-color="#00ff29"/><stop offset=".31" stop-color="#00ff02"/><stop offset=".38" stop-color="#1fff00"/><stop offset=".46" stop-color="#3aff00"/><stop offset=".54" stop-color="#4eff00"/><stop offset=".62" stop-color="#5cff00"/><stop offset=".69" stop-color="#65ff00"/><stop offset=".77" stop-color="#66ff00"/><stop offset=".85" stop-color="#62ff00"/><stop offset=".92" stop-color="#57ff00"/><stop offset="1" stop-color="#47ff00"/></linearGradient>
<linearGradient id="g2_46" gradientUnits="userSpaceOnUse" x1="404.40" x2="531.80" y1="0" y2="0"><stop offset="0" stop-color="#00ffc1"/><stop offset=".08" stop-color="#00ff88"/><stop offset=".15" stop-color="#00ff54"/><stop offset=".23" stop-color="#00ff27"/><stop offset=".31" stop-color="#00ff01"/><stop offset=".38" stop-color="#20ff00"/><stop offset=".46" stop-color="#3aff00"/><stop offset=".54" stop-color="#4eff00"/><stop offset=".62" stop-color="#5cff00"/><stop offset=".69" stop-color="#64ff00"/><stop offset=".77" stop-color="#65ff00"/><stop offset=".85" stop-color="#61ff00"/><stop offset=".92" stop-color="#56ff00"/><stop offset="1" stop-color="#44ff00"/></linearGradient>
<linearGradient id="g2_47" gradientUnits="userSpaceOnUse" x1="404.40" x2="531.80" y1="0" y2="0"><stop offset="0" stop-color="#00ffbe"/><stop offset=".08" stop-color="#00ff85"/><stop offset=".15" stop-color="#00ff52"/><stop offset=".23" stop-color="#00ff25"/><stop offset=".31" stop-color="#01ff00"/><stop offset=".38" stop-color="#21ff00"/><stop offset=".46" stop-color="#3bff00"/><stop offset=".54" stop-color="#4fff00"/><stop offset=".62" stop-color="#5cff00"/><stop offset=".69" stop-color="#64ff00"/><stop offset=".77" stop-color="#65ff00"/><stop offset=".85" stop-color="#5fff00"/><stop offset=".92" stop-color="#54ff00"/><stop offset="1" stop-color="#43ff00"/></linearGradient>
<linearGradient id="g2_48" gradientUnits="userSpaceOnUse" x1="404.40" x2="531.80" y1="0" y2="0"><stop offset="0" stop-color="#00ffba"/><stop offset=".08" stop-color="#00ff82"/><stop offset=".15" stop-color="#00ff4f"/><stop offset=".23" stop-color="#00ff23"/><stop offset=".31" stop-color="#03ff00"/><stop offset=".38" stop-color="#23ff00"/><stop offset=".46" stop-color="#3cff00"/><stop offset=".54" stop-color="#50ff00"/><stop offset=".62" stop-color="#5dff00"/><stop offset=".69" stop-color="#64ff00"/><stop offset=".77" stop-color="#64ff00"/><stop offset=".85" stop-color="#5fff00"/><stop offset=".92" stop-color="#53ff00"/><stop offset="1" stop-color="#41ff00"/></linearGradient>
<linearGradient id="g2_49" gradientUnits="userSpaceOnUse" x1="404.40" x2="531.80" y1="0" y2="0"><stop offset="0" stop-color="#00ffb6"/><stop offset=".08" stop-color="#00ff7e"/><stop offset=".15" stop-color="#00ff4c"/><stop offset=".23" stop-color="#00ff20"/><stop offset=".31" stop-color="#05ff00"/><stop offset=".38" stop-color="#25ff00"/><stop offset=".46" stop-color="#3eff00"/><stop offset=".54" stop-color="#51ff00"/><stop offset=".62" stop-color="#5eff00"/><stop offset=".69" stop-color="#64ff00"/><stop offset=".77" stop-color="#64ff00"/><stop offset=".85" stop-color="#5eff00"/><stop offset=".92" stop-color="#52ff00"/><stop offset="1" stop-color="#40ff00"/></linearGradient>
<linearGradient id="g2_50" gradientUnits="userSpaceOnUse" x1="404.40" x2="531.80" y1="0" y2="0"><stop offset="0" stop-color="#00ffb2"/><stop offset=".08" stop-color="#00ff7a"/><stop offset=".15" stop-color="#00ff49"/><stop offset=".23" stop-color="#00ff1d"/><stop offset=".31" stop-color="#08ff00"/><stop offset=".38" stop-color="#27ff00"/><stop offset=".46" stop-color="#40ff00"/><stop offset=".54" stop-color="#52ff00"/><stop offset=".62" stop-color="#5fff00"/><stop offset=".69" stop-color="#65ff00"/><stop offset=".77" stop-color="#65ff00"/><stop offset=".85" stop-color="#5eff00"/><stop offset=".92" stop-color="#52ff00"/><stop offset="1" stop-color="#3fff00"/></linearGradient>
<linearGradient id="g2_51" gradientUnits="userSpaceOnUse" x1="404.40" x2="531.80" y1="0" y2="0"><stop offset="0" stop-color="#00ffae"/><stop offset=".08" stop-color="#00ff76"/><stop offset=".15" stop-color="#00ff45"/><stop offset=".23" stop-color="#00ff1a"/><stop offset=".31" stop-color="#0bff00"/><stop offset=".38" stop-color="#2aff00"/><stop offset=".46" stop-color="#42ff00"/><stop offset=".54" stop-color="#54ff00"/><stop offset=".62" stop-color="#60ff00"/><stop offset=".69" stop-color="#66ff00"/><stop offset=".77" stop-color="#65ff00"/><stop offset=".85" stop-color="#5fff00"/><stop offset=".92" stop-color="#52ff00"/><stop offset="1" stop-color="#3fff00"/></linearGradient>
<linearGradient id="g2_52" gradientUnits="userSpaceOnUse" x1="404.40" x2="531.80" y1="0" y2="0"><stop offset="0" stop-color="#00ffa9"/><stop offset=".08" stop-color="#00ff72"/><stop offset=".15" stop-color="#00ff41"/><stop offset=".23" stop-color="#00ff16"/><stop offset=".31" stop-color="#0eff00"/><stop offset=".38" stop-color="#2dff00"/><stop offset=".46" stop-color="#45ff00"/><stop offset=".54" stop-color="#56ff00"/><stop offset=".62" stop-color="#62ff00"/><stop offset=".69" stop-color="#67ff00"/><stop offset=".77" stop-color="#67ff00"/><stop offset=".85" stop-color="#60ff00"/><stop offset=".92" stop-color="#52ff00"/><stop offset="1" stop-color="#3fff00"/></linearGradient>
<linearGradient id="g2_53" gradientUnits="userSpaceOnUse" x1="404.40" x2="531.80" y1="0" y2="0"><stop offset="0" stop-color="#00ffa3"/><stop offset=".08" stop-color="#00ff6d"/><stop offset=".15" stop-color="#00ff3c"/><stop offset=".23" stop-color="#00ff12"/><stop offset=".31" stop-color="#12ff00"/><stop offset=".38" stop-color="#30ff00"/><stop offset=".46" stop-color="#48ff00"/><stop offset=".54" stop-color="#59ff00"/><stop offset=".62" stop-color="#64ff00"/><stop offset=".69" stop-color="#69ff00"/><stop offset=".77" stop-color="#68ff00"/><stop offset=".85" stop-color="#61ff00"/><stop offset=".92" stop-color="#53ff00"/><stop offset="1" stop-color="#3fff00"/></linearGradient>
<linearGradient id="g2_54" gradientUnits="userSpaceOnUse" x1="404.40" x2="531.80" y1="0" y2="0"><stop offset="0" stop-color="#00ff9e"/><stop offset=".08" stop-color="#00ff67"/><stop offset=".15" stop-color="#00ff37"/><stop offset=".23" stop-color="#00ff0d"/><stop offset=".31" stop-color="#16ff00"/><stop offset=".38" stop-color="#34ff00"/><stop offset=".46" stop-color="#4bff00"/><stop offset=".54" stop-color="#5cff00"/><stop offset=".62" stop-color="#67ff00"/><stop offset=".69" stop-color="#6cff00"/><stop offset=".77" stop-color="#6aff00"/><stop offset=".85" stop-color="#62ff00"/><stop offset=".92" stop-color="#54ff00"/><stop offset="1" stop-color="#40ff00"/></linearGradient>
<linearGradient id="g2_55" gradientUnits="userSpaceOnUse" x1="404.40" x2="531.80" y1="0" y2="0"><stop offset="0" stop-color="#00ff98"/><stop offset=".08" stop-color="#00ff62"/><stop offset=".15" stop-color="#00ff32"/><stop offset=".23" stop-color="#00ff08"/><stop offset=".31" stop-color="#1bff00"/><stop offset=".38" stop-color="#38ff00"/><stop offset=".46" stop-color="#4fff00"/><stop offset=".54" stop-color="#5fff00"/><stop offset=".62" stop-color="#6aff00"/><stop offset=".69" stop-color="#6eff00"/><stop offset=".77" stop-color="#6cff00"/><stop offset=".85" stop-color="#64ff00"/><stop offset=".92" stop-color="#55ff00"/><stop offset="1" stop-color="#41ff00"/></linearGradient>
<linearGradient id="g2_56" gradientUnits="userSpaceOnUse" x1="404.40" x2="531.80" y1="0" y2="0"><stop offset="0" stop-color="#00ff91"/><stop offset=".08" stop-color="#00ff5c"/><stop offset=".15" stop-color="#00ff2c"/><stop offset=".23" stop-color="#00ff03"/><stop offset=".31" stop-color="#20ff00"/><stop offset=".38" stop-color="#3cff00"/><stop offset=".46" stop-color="#53ff00"/><stop offset=".54" stop-color="#63ff00"/><stop offset=".62" stop-color="#6dff00"/><stop offset=".69" stop-color="#71ff00"/><stop offset=".77" stop-color="#6fff00"/><stop offset=".85" stop-color="#66ff00"/><stop offset=".92" stop-color="#57ff00"/><stop offset="1" stop-color="#42ff00"/></linearGradient>
<linearGradient id="g2_57" gradientUnits="userSpaceOnUse" x1="404.40" x2="531.80" y1="0" y2="0"><stop offset="0" stop-color="#00ff8a"/><stop offset=".08" stop-color="#00ff55"/><stop offset=".15" stop-color="#00ff26"/><stop offset=".23" stop-color="#02ff00"/><stop offset=".31" stop-color="#25ff00"/><stop offset=".38" stop-color="#41ff00"/><stop offset=".46" stop-color="#57ff00"/><stop offset=".54" stop-color="#67ff00"/><stop offset=".62" stop-color="#71ff00"/><stop offset=".69" stop-color="#74ff00"/><stop offset=".77" stop-color="#72ff00"/><stop offset=".85" stop-color="#69ff00"/><stop offset=".92" stop-color="#59ff00"/><stop offset="1" stop-color="#44ff00"/></linearGradient>
<linearGradient id="g2_58" gradientUnits="userSpaceOnUse" x1="404.40" x2="531.80" y1="0" y2="0"><stop offset="0" stop-color="#00ff83"/><stop offset=".08" stop-color="#00ff4f"/><stop offset=".15" stop-color="#00ff20"/><stop offset=".23" stop-color="#08ff00"/><stop offset=".31" stop-color="#2bff00"/><stop offset=".38" stop-color="#46ff00"/><stop offset=".46" stop-color="#5cff00"/><stop offset=".54" stop-color="#6cff00"/><stop offset=".62" stop-color="#75ff00"/><stop offset=".69" stop-color="#78ff00"/><stop offset=".77" stop-color="#75ff00"/><stop offset=".85" stop-color="#6cff00"/><stop offset=".92" stop-color="#5cff00"/><stop offset="1" stop-color="#46ff00"/></linearGradient>
<linearGradient id="g2_59" gradientUnits="userSpaceOnUse" x1="404.40" x2="531.80" y1="0" y2="0"><stop offset="0" stop-color="#00ff7c"/><stop offset=".08" stop-color="#00ff47"/><stop offset=".15" stop-color="#00ff19"/><stop offset=".23" stop-color="#0fff00"/><stop offset=".31" stop-color="#30ff00"/><stop offset=".38" stop-color="#4cff00"/><stop offset=".46" stop-color="#61ff00"/><stop offset=".54" stop-color="#70ff00"/><stop offset=".62" stop-color="#79ff00"/><stop offset=".69" stop-color="#7cff00"/><stop offset=".77" stop-color="#79ff00"/><stop offset=".85" stop-color="#6fff00"/><stop offset=".92" stop-color="#5fff00"/><stop offset="1" stop-color="#49ff00"/></linearGradient>
<linearGradient id="g2_60" gradientUnits="userSpaceOnUse" x1="404.40" x2="531.80" y1="0" y2="0"><stop offset="0" stop-color="#00ff74"/><stop offset=".08" stop-color="#00ff40"/><stop offset=".15" stop-color="#00ff12"/><stop offset=".23" stop-color="#15ff00"/><stop offset=".31" stop-color="#37ff00"/><stop offset=".38" stop-color="#52ff00"/><stop offset=".46" stop-color="#67ff00"/><stop offset=".54" stop-color="#76ff00"/><stop offset=".62" stop-color="#7eff00"/><stop offset=".69" stop-color="#80ff00"/><stop offset=".77" stop-color="#7dff00"/><stop offset=".85" stop-color="#72ff00"/><stop offset=".92" stop-color="#62ff00"/><stop offset="1" stop-color="#4bff00"/></linearGradient>
<linearGradient id="g2_61" gradientUnits="userSpaceOnUse" x1="404.40" x2="531.80" y1="0" y2="0"><stop offset="0" stop-color="#00ff6c"/><stop offset=".08" stop-color="#00ff38"/><stop offset=".15" stop-color="#00ff0b"/><stop offset=".23" stop-color="#1cff00"/><stop offset=".31" stop-color="#3dff00"/><stop offset=".38" stop-color="#58ff00"/><stop offset=".46" stop-color="#6dff00"/><stop offset=".54" stop-color="#7bff00"/><stop offset=".62" stop-color="#83ff00"/><stop offset=".69" stop-color="#85ff00"/><stop offset=".77" stop-color="#81ff00"/><stop offset=".85" stop-color="#76ff00"/><stop offset=".92" stop-color="#66ff00"/><stop offset="1" stop-color="#4fff00"/></linearGradient>
<linearGradient id="g2_62" gradientUnits="userSpaceOnUse" x1="404.40" x2="531.80" y1="0" y2="0"><stop offset="0" stop-color="#00ff63"/><stop offset=".08" stop-color="#00ff30"/><stop offset=".15" stop-color="#00ff03"/><stop offset=".23" stop-color="#24ff00"/><stop offset=".31" stop-color="#44ff00"/><stop offset=".38" stop-color="#5fff00"/><stop offset=".46" stop-color="#73ff00"/><stop offset=".54" stop-color="#81ff00"/><stop offset=".62" stop-color="#89ff00"/><stop offset=".69" stop-color="#8aff00"/><stop offset=".77" stop-color="#86ff00"/><stop offset=".85" stop-color="#7bff00"/><stop offset=".92" stop-color="#6aff00"/><stop offset="1" stop-color="#52ff00"/></linearGradient>
<linearGradient id="g2_63" gradientUnits="userSpaceOnUse" x1="404.40" x2="531.80" y1="0" y2="0"><stop offset="0" stop-color="#00ff5a"/><stop offset=".08" stop-color="#00ff27"/><stop offset=".15" stop-color="#05ff00"/><stop offset=".23" stop-color="#2cff00"/><stop offset=".31" stop-color="#4cff00"/><stop offset=".38" stop-color="#66ff00"/><stop offset=".46" stop-color="#7aff00"/><stop offset=".54" stop-color="#87ff00"/><stop offset=".62" stop-color="#8fff00"/><stop offset=".69" stop-color="#90ff00"/><stop offset=".77" stop-color="#8bff00"/><stop offset=".85" stop-color="#7fff00"/><stop offset=".92" stop-color="#6eff00"/><stop offset="1" stop-color="#56ff00"/></linearGradient>
<linearGradient id="g2_64" gradientUnits="userSpaceOnUse" x1="404.40" x2="531.80" y1="0" y2="0"><stop offset="0" stop-color="#00ff51"/><stop offset=".08" stop-color="#00ff1f"/><stop offset=".15" stop-color="#0eff00"/><stop offset=".23" stop-color="#34ff00"/><stop offset=".31" stop-color="#54ff00"/><stop offset=".38" stop-color="#6dff00"/><stop offset=".46" stop-color="#81ff00"/><stop offset=".54" stop-color="#8eff00"/><stop offset=".62" stop-color="#95ff00"/><stop offset=".69" stop-color="#96ff00"/><stop offset=".77" stop-color="#90ff00"/><stop offset=".85" stop-color="#84ff00"/><stop offset=".92" stop-color="#73ff00"/><stop offset="1" stop-color="#5aff00"/></linearGradient></defs>
<rect width="550" height="288" fill="#fff"/>
<g id="s0"><line x1="28.2" y1="95.5" x2="24.4" y2="17.1" stroke="#454545" stroke-width="0.55" opacity="1.00"/>
<line x1="41.9" y1="71.2" x2="39.8" y2="13.6" stroke="#454545" stroke-width="0.55" opacity="1.00"/>
<line x1="56.5" y1="66.6" x2="55.2" y2="10.1" stroke="#454545" stroke-width="0.55" opacity="1.00"/>
<line x1="71.2" y1="61.9" x2="70.6" y2="6.6" stroke="#454545" stroke-width="0.55" opacity="1.00"/>
<line x1="85.8" y1="75.3" x2="86.0" y2="3.1" stroke="#454545" stroke-width="0.55" opacity="1.00"/>
<line x1="143.4" y1="95.5" x2="147.8" y2="17.2" stroke="#454545" stroke-width="0.55" opacity="1.00"/>
<line x1="132.8" y1="72.2" x2="135.4" y2="14.4" stroke="#454545" stroke-width="0.55" opacity="1.00"/>
<line x1="121.0" y1="68.5" x2="123.1" y2="11.6" stroke="#454545" stroke-width="0.55" opacity="1.00"/>
<line x1="109.3" y1="64.7" x2="110.7" y2="8.7" stroke="#454545" stroke-width="0.55" opacity="1.00"/>
<line x1="97.6" y1="61.0" x2="98.4" y2="5.9" stroke="#454545" stroke-width="0.55" opacity="1.00"/>
<line x1="85.8" y1="75.3" x2="86.0" y2="3.1" stroke="#454545" stroke-width="0.55" opacity="1.00"/>
<line x1="27.2" y1="75.9" x2="85.8" y2="57.2" stroke="#454545" stroke-width="0.55" opacity="1.00"/>
<line x1="85.8" y1="57.2" x2="144.5" y2="75.9" stroke="#454545" stroke-width="0.55" opacity="1.00"/>
<line x1="25.8" y1="75.9" x2="27.2" y2="75.9" stroke="#454545" stroke-width="0.55" opacity="1.00"/>
<text x="24.2" y="75.4" font-size="3.4" font-family="Liberation Sans, sans-serif" text-anchor="end" fill="#222" stroke="#222" stroke-width=".12">1400</text>
<line x1="26.8" y1="66.1" x2="85.9" y2="48.2" stroke="#454545" stroke-width="0.55" opacity="1.00"/>
<line x1="85.9" y1="48.2" x2="145.1" y2="66.1" stroke="#454545" stroke-width="0.55" opacity="1.00"/>
<line x1="25.3" y1="66.1" x2="26.8" y2="66.1" stroke="#454545" stroke-width="0.55" opacity="1.00"/>
<text x="23.8" y="65.6" font-size="3.4" font-family="Liberation Sans, sans-serif" text-anchor="end" fill="#222" stroke="#222" stroke-width=".12">1500</text>
<line x1="26.3" y1="56.3" x2="85.9" y2="39.2" stroke="#454545" stroke-width="0.55" opacity="1.00"/>
<line x1="85.9" y1="39.2" x2="145.6" y2="56.4" stroke="#454545" stroke-width="0.55" opacity="1.00"/>
<line x1="24.8" y1="56.3" x2="26.3" y2="56.3" stroke="#454545" stroke-width="0.55" opacity="1.00"/>
<text x="23.3" y="55.8" font-size="3.4" font-family="Liberation Sans, sans-serif" text-anchor="end" fill="#222" stroke="#222" stroke-width=".12">1600</text>
<line x1="25.8" y1="46.5" x2="85.9" y2="30.2" stroke="#454545" stroke-width="0.55" opacity="1.00"/>
<line x1="85.9" y1="30.2" x2="146.2" y2="46.6" stroke="#454545" stroke-width="0.55" opacity="1.00"/>
<line x1="24.3" y1="46.5" x2="25.8" y2="46.5" stroke="#454545" stroke-width="0.55" opacity="1.00"/>
<text x="22.8" y="46.0" font-size="3.4" font-family="Liberation Sans, sans-serif" text-anchor="end" fill="#222" stroke="#222" stroke-width=".12">1700</text>
<line x1="25.3" y1="36.7" x2="86.0" y2="21.1" stroke="#454545" stroke-width="0.55" opacity="1.00"/>
<line x1="86.0" y1="21.1" x2="146.7" y2="36.8" stroke="#454545" stroke-width="0.55" opacity="1.00"/>
<line x1="23.8" y1="36.7" x2="25.3" y2="36.7" stroke="#454545" stroke-width="0.55" opacity="1.00"/>
<text x="22.3" y="36.2" font-size="3.4" font-family="Liberation Sans, sans-serif" text-anchor="end" fill="#222" stroke="#222" stroke-width=".12">1800</text>
<line x1="24.9" y1="26.9" x2="86.0" y2="12.1" stroke="#454545" stroke-width="0.55" opacity="1.00"/>
<line x1="86.0" y1="12.1" x2="147.3" y2="27.0" stroke="#454545" stroke-width="0.55" opacity="1.00"/>
<line x1="23.4" y1="26.9" x2="24.9" y2="26.9" stroke="#454545" stroke-width="0.55" opacity="1.00"/>
<text x="21.9" y="26.4" font-size="3.4" font-family="Liberation Sans, sans-serif" text-anchor="end" fill="#222" stroke="#222" stroke-width=".12">1900</text>
<line x1="24.4" y1="17.1" x2="86.0" y2="3.1" stroke="#454545" stroke-width="0.55" opacity="1.00"/>
<line x1="86.0" y1="3.1" x2="147.8" y2="17.2" stroke="#454545" stroke-width="0.55" opacity="1.00"/>
<line x1="22.9" y1="17.1" x2="24.4" y2="17.1" stroke="#454545" stroke-width="0.55" opacity="1.00"/>
<text x="21.4" y="16.6" font-size="3.4" font-family="Liberation Sans, sans-serif" text-anchor="end" fill="#222" stroke="#222" stroke-width=".12">2000</text>
<polygon points="28.2,95.5 85.8,75.3 143.4,95.5 85.6,123.0" fill="#ffff00" stroke="#777" stroke-width="0.3"/>
<path d="M72.0 116.5 L74.6 116.8 L76.7 117.0 L78.4 117.2 L80.1 117.3 L81.8 117.4 L83.8 117.5 L85.9 117.6 L88.0 117.7 L90.0 117.7 L91.9 117.7 L93.8 117.6 L95.6 117.5" fill="none" stroke="#19bde6" stroke-width="0.55" opacity="0.7"/>
<path d="M29.6 95.0 L31.2 96.1 L32.0 96.6 L33.7 97.6 L35.5 98.6 L37.3 99.6 L39.3 100.5 L41.2 101.4 L43.3 102.3 L45.4 103.2 L47.6 104.0 L48.7 104.4 L51.0 105.2 L53.4 105.9 L54.6 106.3 L57.1 107.0 L58.4 107.3 L61.0 108.0 L62.4 108.3 L65.1 108.8 L66.6 109.1 L68.3 109.4 L71.0 109.8 L72.5 110.0 L74.1 110.2 L76.2 110.4 L78.6 110.6 L80.8 110.8 L82.6 110.9 L84.4 110.9 L86.3 110.9 L88.3 110.9 L90.3 110.9 L92.5 110.8 L94.3 110.7 L95.9 110.5 L97.6 110.4 L99.8 110.1 L102.1 109.7 L103.6 109.4 L105.9 109.0 L107.6 108.6 L109.9 107.9 L111.4 107.5 L113.7 106.7 L115.8 105.9 L117.8 105.0 L119.7 104.1 L121.5 103.1 L123.1 102.0 L123.8 101.4 L125.2 100.3 L125.9 99.7 L127.0 98.5 L127.5 97.9 L128.1 97.0 L128.7 95.9 L129.0 95.2 L129.3 94.5 L129.5 93.8 L129.7 93.1 L129.8 92.2 L129.8 91.5" fill="none" stroke="#19fe83" stroke-width="0.55" opacity="0.7"/>
<path d="M42.8 90.4 L44.2 91.4 L45.5 92.4 L46.5 93.0 L48.2 93.9 L50.0 94.9 L51.9 95.8 L53.9 96.6 L56.0 97.4 L58.2 98.2 L59.4 98.6 L61.8 99.3 L64.1 99.8 L65.6 100.2 L67.7 100.6 L69.8 101.0 L71.3 101.2 L73.4 101.5 L75.9 101.7 L77.7 101.9 L79.5 102.0 L81.4 102.0 L83.3 102.0 L85.4 102.0 L87.7 101.8 L89.3 101.7 L90.8 101.5 L93.2 101.1 L95.0 100.8 L97.1 100.3 L98.7 99.8 L100.9 99.0 L102.8 98.2 L104.5 97.2 L105.4 96.7 L106.7 95.6 L107.3 95.0 L108.3 93.9 L108.7 93.2 L109.0 92.6 L109.2 91.8 L109.4 91.0 L109.4 90.2 L109.3 89.5 L109.1 88.7 L108.8 87.8 L108.2 86.9 L107.8 86.3 L107.3 85.8 L106.3 84.7 L105.6 84.2 L104.4 83.3 L103.6 82.8 L102.2 81.9 L101.1 81.4 L99.7 80.7 L97.9 80.0 L96.0 79.3 L94.0 78.6 L91.9 78.0 L89.8 77.4 L88.5 77.1 L86.1 76.6 L84.5 76.2" fill="none" stroke="#3afe00" stroke-width="0.55" opacity="0.7"/>
<g class="q">
<path color="#000000" d="M85.9 32.8l2.3 .6l-2.3-.2l-2.3-.6z"/>
<path color="#000000" d="M88.2 33.1l2.3 .6l-2.3-.3l-2.3-.6z"/>
<path color="#000000" d="M83.6 32.4l2.3 .4l-2.3-.2l-2.3-.5z"/>
<path color="#000000" d="M90.6 33.5l2.3 .6l-2.4-.4l-2.3-.6z"/>
<path color="#000000" d="M85.9 32.7l2.3 .4l-2.3-.3l-2.3-.4z"/>
<path color="#000000" d="M81.3 32.1l2.3 .3l-2.3-.3l-2.3-.3z"/>
<path color="#000000" d="M92.9 34l2.3 .6l-2.3-.5l-2.3-.6z"/>
<path color="#000000" d="M88.2 33.1l2.4 .4l-2.4-.4l-2.3-.4z"/>
<path color="#000000" d="M83.6 32.4l2.3 .3l-2.3-.3l-2.3-.3z"/>
<path color="#000000" d="M79 31.9l2.3 .2l-2.3-.3l-2.3-.2z"/>
<path color="#000000" d="M95.2 34.6l2.3 .5l-2.3-.5l-2.3-.6z"/>
<path color="#000000" d="M90.6 33.6l2.3 .4l-2.3-.5l-2.4-.4z"/>
<path color="#000000" d="M85.9 32.8l2.3 .3l-2.3-.4l-2.3-.3z"/>
<path color="#000000" d="M81.3 32.2l2.3 .2l-2.3-.3l-2.3-.2z"/>
<path color="#000000" d="M76.7 31.8l2.3 .1l-2.3-.3l-2.3-.1z"/>
<path color="#000000" d="M97.5 35.2l2.3 .5l-2.3-.6l-2.3-.5z"/>
<path color="#000000" d="M92.9 34.1l2.3 .5l-2.3-.6l-2.3-.4z"/>
<path color="#000000" d="M88.3 33.3l2.3 .3l-2.4-.5l-2.3-.3z"/>
<path color="#000000" d="M83.6 32.6l2.3 .2l-2.3-.4l-2.3-.2z"/>
<path color="#000000" d="M79 32.1l2.3 .1l-2.3-.3l-2.3-.1z"/>
<path color="#000000" d="M74.3 31.8l2.4 0l-2.3-.3l-2.4 0z"/>
<path color="#000000" d="M99.8 35.9l2.3 .5l-2.3-.7l-2.3-.5z"/>
<path color="#000000" d="M95.2 34.8l2.3 .4l-2.3-.6l-2.3-.5z"/>
<path color="#000000" d="M90.6 33.8l2.3 .3l-2.3-.5l-2.3-.3z"/>
<path color="#000000" d="M85.9 33.1l2.4 .2l-2.4-.5l-2.3-.2z"/>
<path color="#000000" d="M72 32l2.3-.2l-2.3-.3l-2.3 .2z"/>
<path color="#000000" d="M81.3 32.5l2.3 .1l-2.3-.4l-2.3-.1z"/>
<path color="#000000" d="M76.7 32.1l2.3 0l-2.3-.3l-2.4 0z"/>
<path color="#000000" d="M102.1 36.7l2.3 .5l-2.3-.8l-2.3-.5z"/>
<path color="#000000" d="M97.5 35.5l2.3 .4l-2.3-.7l-2.3-.4z"/>
<path color="#000000" d="M92.9 34.5l2.3 .3l-2.3-.7l-2.3-.3z"/>
<path color="#000000" d="M88.3 33.6l2.3 .2l-2.3-.5l-2.4-.2z"/>
<path color="#000000" d="M69.7 32.2l2.3-.2l-2.3-.3l-2.3 .3z"/>
<path color="#000000" d="M83.6 33l2.3 .1l-2.3-.5l-2.3-.1z"/>
<path color="#000000" d="M74.3 32.3l2.4-.2l-2.4-.3l-2.3 .2z"/>
<path color="#000000" d="M79 32.6l2.3-.1l-2.3-.4l-2.3 0z"/>
<path color="#000000" d="M104.4 37.5l2.3 .6l-2.3-.9l-2.3-.5z"/>
<path color="#000000" d="M99.8 36.3l2.3 .4l-2.3-.8l-2.3-.4z"/>
<path color="#000000" d="M95.2 35.2l2.3 .3l-2.3-.7l-2.3-.3z"/>
<path color="#000000" d="M90.6 34.3l2.3 .2l-2.3-.7l-2.3-.2z"/>
<path color="#000000" d="M67.4 32.7l2.3-.5l-2.3-.2l-2.3 .4z"/>
<path color="#000000" d="M85.9 33.6l2.4 0l-2.4-.5l-2.3-.1z"/>
<path color="#000000" d="M72 32.6l2.3-.3l-2.3-.3l-2.3 .2z"/>
<path color="#000000" d="M81.3 33.1l2.3-.1l-2.3-.5l-2.3 .1z"/>
<path color="#000000" d="M76.7 32.7l2.3-.1l-2.3-.5l-2.4 .2z"/>
<path color="#000000" d="M106.7 38.5l2.3 .5l-2.3-.9l-2.3-.6z"/>
<path color="#000000" d="M102.1 37.1l2.3 .4l-2.3-.8l-2.3-.4z"/>
<path color="#000000" d="M97.5 36l2.3 .3l-2.3-.8l-2.3-.3z"/>
<path color="#000000" d="M92.9 35l2.3 .2l-2.3-.7l-2.3-.2z"/>
<path color="#000000" d="M65.1 33.2l2.3-.5l-2.3-.3l-2.4 .5z"/>
<path color="#000000" d="M88.3 34.2l2.3 .1l-2.3-.7l-2.4 0z"/>
<path color="#000000" d="M109 39.5l2.3 .5l-2.3-1l-2.3-.5z"/>
<path color="#000000" d="M69.7 33l2.3-.4l-2.3-.4l-2.3 .5z"/>
<path color="#000000" d="M83.6 33.6l2.3 0l-2.3-.6l-2.3 .1z"/>
<path color="#000000" d="M74.3 33l2.4-.3l-2.4-.4l-2.3 .3z"/>
<path color="#000000" d="M79 33.2l2.3-.1l-2.3-.5l-2.3 .1z"/>
<path color="#000000" d="M104.5 38.1l2.2 .4l-2.3-1l-2.3-.4z"/>
<path color="#000000" d="M99.8 36.9l2.3 .2l-2.3-.8l-2.3-.3z"/>
<path color="#000000" d="M95.2 35.8l2.3 .2l-2.3-.8l-2.3-.2z"/>
<path color="#000804" d="M62.7 33.9l2.4-.7l-2.4-.3l-2.3 .7z"/>
<path color="#000000" d="M111.3 40.6l2.3 .5l-2.3-1.1l-2.3-.5z"/>
<path color="#000000" d="M90.6 35l2.3 0l-2.3-.7l-2.3-.1z"/>
<path color="#000000" d="M67.4 33.6l2.3-.6l-2.3-.3l-2.3 .5z"/>
<path color="#000000" d="M85.9 34.3l2.4-.1l-2.4-.6l-2.3 0z"/>
<path color="#000000" d="M72 33.5l2.3-.5l-2.3-.4l-2.3 .4z"/>
<path color="#000000" d="M81.3 33.8l2.3-.2l-2.3-.5l-2.3 .1z"/>
<path color="#000000" d="M76.7 33.5l2.3-.3l-2.3-.5l-2.4 .3z"/>
<path color="#000000" d="M106.8 39.1l2.2 .4l-2.3-1l-2.2-.4z"/>
<path color="#000000" d="M102.2 37.8l2.3 .3l-2.4-1l-2.3-.2z"/>
<path color="#000000" d="M113.6 41.8l2.3 .5l-2.3-1.2l-2.3-.5z"/>
<path color="#000000" d="M97.5 36.7l2.3 .2l-2.3-.9l-2.3-.2z"/>
<path color="#04200e" d="M60.4 34.7l2.3-.8l-2.3-.3l-2.3 .7z"/>
<path color="#000000" d="M92.9 35.8l2.3 0l-2.3-.8l-2.3 0z"/>
<path color="#03180b" d="M65.1 34.2l2.3-.6l-2.3-.4l-2.4 .7z"/>
<path color="#000000" d="M88.3 35l2.3 0l-2.3-.8l-2.4 .1z"/>
<path color="#010f07" d="M69.7 34l2.3-.5l-2.3-.5l-2.3 .6z"/>
<path color="#000000" d="M109.1 40.2l2.2 .4l-2.3-1.1l-2.2-.4z"/>
<path color="#000000" d="M83.6 34.5l2.3-.2l-2.3-.7l-2.3 .2z"/>
<path color="#000603" d="M74.3 34l2.4-.5l-2.4-.5l-2.3 .5z"/>
<path color="#000000" d="M79 34.1l2.3-.3l-2.3-.6l-2.3 .3z"/>
<path color="#000000" d="M104.5 38.9l2.3 .2l-2.3-1l-2.3-.3z"/>
<path color="#000000" d="M115.9 43.1l2.3 .5l-2.3-1.3l-2.3-.5z"/>
<path color="#000000" d="M99.8 37.7l2.4 .1l-2.4-.9l-2.3-.2z"/>
<path color="#093215" d="M58.1 35.6l2.3-.9l-2.3-.4l-2.3 1z"/>
<path color="#000000" d="M95.2 36.7l2.3 0l-2.3-.9l-2.3 0z"/>
<path color="#072c13" d="M62.7 35l2.4-.8l-2.4-.3l-2.3 .8z"/>
<path color="#000000" d="M111.4 41.4l2.2 .4l-2.3-1.2l-2.2-.4z"/>
<path color="#000000" d="M90.6 35.9l2.3-.1l-2.3-.8l-2.3 0z"/>
<path color="#052510" d="M67.4 34.7l2.3-.7l-2.3-.4l-2.3 .6z"/>
<path color="#000402" d="M85.9 35.2l2.4-.2l-2.4-.7l-2.3 .2z"/>
<path color="#041e0d" d="M72 34.5l2.3-.5l-2.3-.5l-2.3 .5z"/>
<path color="#010d06" d="M81.3 34.8l2.3-.3l-2.3-.7l-2.3 .3z"/>
<path color="#02160a" d="M76.7 34.6l2.3-.5l-2.3-.6l-2.4 .5z"/>
<path color="#000000" d="M106.8 40l2.3 .2l-2.3-1.1l-2.3-.2z"/>
<path color="#000000" d="M118.2 44.5l2.3 .4l-2.3-1.3l-2.3-.5z"/>
<path color="#0e411b" d="M55.8 36.6l2.3-1l-2.3-.3l-2.3 1z"/>
<path color="#000000" d="M102.2 38.7l2.3 .2l-2.3-1.1l-2.4-.1z"/>
<path color="#0c3c19" d="M60.4 36l2.3-1l-2.3-.3l-2.3 .9z"/>
<path color="#000000" d="M113.7 42.7l2.2 .4l-2.3-1.3l-2.2-.4z"/>
<path color="#000100" d="M97.5 37.6l2.3 .1l-2.3-1l-2.3 0z"/>
<path color="#0a3617" d="M65 35.5l2.4-.8l-2.3-.5l-2.4 .8z"/>
<path color="#010a05" d="M92.9 36.8l2.3-.1l-2.3-.9l-2.3 .1z"/>
<path color="#083114" d="M69.7 35.2l2.3-.7l-2.3-.5l-2.3 .7z"/>
<path color="#021409" d="M88.3 36.1l2.3-.2l-2.3-.9l-2.4 .2z"/>
<path color="#000000" d="M109.1 41.2l2.3 .2l-2.3-1.2l-2.3-.2z"/>
<path color="#072a12" d="M74.3 35.1l2.4-.5l-2.4-.6l-2.3 .5z"/>
<path color="#031c0d" d="M83.6 35.6l2.3-.4l-2.3-.7l-2.3 .3z"/>
<path color="#000000" d="M120.5 45.9l2.3 .5l-2.3-1.5l-2.3-.4z"/>
<path color="#05240f" d="M79 35.3l2.3-.5l-2.3-.7l-2.3 .5z"/>
<path color="#124d20" d="M53.5 37.8l2.3-1.2l-2.3-.3l-2.3 1.2z"/>
<path color="#000704" d="M104.5 39.8l2.3 .2l-2.3-1.1l-2.3-.2z"/>
<path color="#000403" d="M115.9 44.1l2.3 .4l-2.3-1.4l-2.2-.4z"/>
<path color="#11491e" d="M58.1 37l2.3-1l-2.3-.4l-2.3 1z"/>
<path color="#011008" d="M99.9 38.7l2.3 0l-2.4-1l-2.3-.1z"/>
<path color="#0f441c" d="M62.7 36.4l2.3-.9l-2.3-.5l-2.3 1z"/>
<path color="#03190b" d="M95.2 37.7l2.3-.1l-2.3-.9l-2.3 .1z"/>
<path color="#010907" d="M122.8 47.5l2.2 .4l-2.2-1.5l-2.3-.5z"/>
<path color="#010d07" d="M111.4 42.5l2.3 .2l-2.3-1.3l-2.3-.2z"/>
<path color="#0d3f1a" d="M67.4 36l2.3-.8l-2.3-.5l-2.4 .8z"/>
<path color="#04210f" d="M90.6 37l2.3-.2l-2.3-.9l-2.3 .2z"/>
<path color="#0c3a18" d="M72 35.8l2.3-.7l-2.3-.6l-2.3 .7z"/>
<path color="#062912" d="M85.9 36.4l2.4-.3l-2.4-.9l-2.3 .4z"/>
<path color="#0a3516" d="M76.7 35.8l2.3-.5l-2.3-.7l-2.4 .5z"/>
<path color="#082f14" d="M81.3 36l2.3-.4l-2.3-.8l-2.3 .5z"/>
<path color="#175824" d="M51.2 39.1l2.3-1.3l-2.3-.3l-2.3 1.3z"/>
<path color="#02150a" d="M106.8 41.1l2.3 .1l-2.3-1.2l-2.3-.2z"/>
<path color="#02110b" d="M118.2 45.6l2.3 .3l-2.3-1.4l-2.3-.4z"/>
<path color="#155422" d="M55.8 38.2l2.3-1.2l-2.3-.4l-2.3 1.2z"/>
<path color="#041c0d" d="M102.2 39.8l2.3 0l-2.3-1.1l-2.3 0z"/>
<path color="#021310" d="M125 49.1l2.3 .4l-2.3-1.6l-2.2-.4z"/>
<path color="#145020" d="M60.4 37.5l2.3-1.1l-2.3-.4l-2.3 1z"/>
<path color="#052410" d="M97.5 38.8l2.4-.1l-2.4-1.1l-2.3 .1z"/>
<path color="#03180e" d="M113.7 43.9l2.2 .2l-2.2-1.4l-2.3-.2z"/>
<path color="#124c1e" d="M65 37l2.4-1l-2.4-.5l-2.3 .9z"/>
<path color="#072c13" d="M92.9 38l2.3-.3l-2.3-.9l-2.3 .2z"/>
<path color="#1b6128" d="M48.9 40.6l2.3-1.5l-2.3-.3l-2.3 1.4z"/>
<path color="#10481d" d="M69.7 36.7l2.3-.9l-2.3-.6l-2.3 .8z"/>
<path color="#093416" d="M88.3 37.3l2.3-.3l-2.3-.9l-2.4 .3z"/>
<path color="#0f431b" d="M74.3 36.5l2.4-.7l-2.4-.7l-2.3 .7z"/>
<path color="#052010" d="M109.1 42.4l2.3 .1l-2.3-1.3l-2.3-.1z"/>
<path color="#0b3a18" d="M83.6 36.9l2.3-.5l-2.3-.8l-2.3 .4z"/>
<path color="#031a12" d="M120.5 47.1l2.3 .4l-2.3-1.6l-2.3-.3z"/>
<path color="#0d3e19" d="M79 36.6l2.3-.6l-2.3-.7l-2.3 .5z"/>
<path color="#195d26" d="M53.5 39.6l2.3-1.4l-2.3-.4l-2.3 1.3z"/>
<path color="#041c17" d="M127.3 50.8l2.2 .4l-2.2-1.7l-2.3-.4z"/>
<path color="#062712" d="M104.5 41.1l2.3 0l-2.3-1.3l-2.3 0z"/>
<path color="#185a24" d="M58.1 38.7l2.3-1.2l-2.3-.5l-2.3 1.2z"/>
<path color="#052214" d="M115.9 45.3l2.3 .3l-2.3-1.5l-2.2-.2z"/>
<path color="#082e14" d="M99.9 40l2.3-.2l-2.3-1.1l-2.4 .1z"/>
<path color="#1f692d" d="M46.6 42.2l2.3-1.6l-2.3-.4l-2.3 1.6z"/>
<path color="#165622" d="M62.7 38.1l2.3-1.1l-2.3-.6l-2.3 1.1z"/>
<path color="#0a3516" d="M95.2 39l2.3-.2l-2.3-1.1l-2.3 .3z"/>
<path color="#052218" d="M122.8 48.7l2.2 .4l-2.2-1.6l-2.3-.4z"/>
<path color="#155221" d="M67.4 37.6l2.3-.9l-2.3-.7l-2.4 1z"/>
<path color="#072915" d="M111.4 43.8l2.3 .1l-2.3-1.4l-2.3-.1z"/>
<path color="#0c3d19" d="M90.6 38.3l2.3-.3l-2.3-1l-2.3 .3z"/>
<path color="#134f1f" d="M72 37.4l2.3-.9l-2.3-.7l-2.3 .9z"/>
<path color="#0e421b" d="M85.9 37.8l2.4-.5l-2.4-.9l-2.3 .5z"/>
<path color="#06231d" d="M129.5 52.6l2.3 .4l-2.3-1.8l-2.2-.4z"/>
<path color="#1d6529" d="M51.2 41l2.3-1.4l-2.3-.5l-2.3 1.5z"/>
<path color="#124b1e" d="M76.7 37.3l2.3-.7l-2.3-.8l-2.4 .7z"/>
<path color="#10471c" d="M81.3 37.5l2.3-.6l-2.3-.9l-2.3 .6z"/>
<path color="#093016" d="M106.8 42.4l2.3 0l-2.3-1.3l-2.3 0z"/>
<path color="#072919" d="M118.2 46.9l2.3 .2l-2.3-1.5l-2.3-.3z"/>
<path color="#1c6227" d="M55.8 40.1l2.3-1.4l-2.3-.5l-2.3 1.4z"/>
<path color="#237133" d="M44.3 43.9l2.3-1.7l-2.3-.4l-2.2 1.8z"/>
<path color="#0b3617" d="M102.2 41.2l2.3-.1l-2.3-1.3l-2.3 .2z"/>
<path color="#07291e" d="M125 50.5l2.3 .3l-2.3-1.7l-2.2-.4z"/>
<path color="#1a5f26" d="M60.4 39.3l2.3-1.2l-2.3-.6l-2.3 1.2z"/>
<path color="#0d3d19" d="M97.5 40.2l2.4-.2l-2.4-1.2l-2.3 .2z"/>
<path color="#0a311a" d="M113.7 45.2l2.2 .1l-2.2-1.4l-2.3-.1z"/>
<path color="#082923" d="M131.8 54.5l2.2 .4l-2.2-1.9l-2.3-.4z"/>
<path color="#195c24" d="M65.1 38.7l2.3-1.1l-2.4-.6l-2.3 1.1z"/>
<path color="#216d2e" d="M48.9 42.6l2.3-1.6l-2.3-.4l-2.3 1.6z"/>
<path color="#0f441c" d="M92.9 39.4l2.3-.4l-2.3-1l-2.3 .3z"/>
<path color="#175823" d="M69.7 38.3l2.3-.9l-2.3-.7l-2.3 .9z"/>
<path color="#114a1e" d="M88.3 38.8l2.3-.5l-2.3-1l-2.4 .5z"/>
<path color="#165522" d="M74.3 38.2l2.4-.9l-2.4-.8l-2.3 .9z"/>
<path color="#134e1f" d="M83.6 38.4l2.3-.6l-2.3-.9l-2.3 .6z"/>
<path color="#0c371a" d="M109.1 43.8l2.3 0l-2.3-1.4l-2.3 0z"/>
<path color="#155220" d="M79 38.2l2.3-.7l-2.3-.9l-2.3 .7z"/>
<path color="#09301f" d="M120.5 48.5l2.3 .2l-2.3-1.6l-2.3-.2z"/>
<path color="#1f692a" d="M53.5 41.6l2.3-1.5l-2.3-.5l-2.3 1.4z"/>
<path color="#26773b" d="M42.1 45.8l2.2-1.9l-2.2-.3l-2.3 1.8z"/>
<path color="#092e24" d="M127.3 52.3l2.2 .3l-2.2-1.8l-2.3-.3z"/>
<path color="#0e3d1a" d="M104.5 42.5l2.3-.1l-2.3-1.3l-2.3 .1z"/>
<path color="#092c2a" d="M134 56.5l2.3 .4l-2.3-2l-2.2-.4z"/>
<path color="#1e6729" d="M58.1 40.7l2.3-1.4l-2.3-.6l-2.3 1.4z"/>
<path color="#0c371e" d="M115.9 46.8l2.3 .1l-2.3-1.6l-2.2-.1z"/>
<path color="#257534" d="M46.6 44.4l2.3-1.8l-2.3-.4l-2.3 1.7z"/>
<path color="#10441c" d="M99.8 41.4l2.4-.2l-2.3-1.2l-2.4 .2z"/>
<path color="#1c6427" d="M62.7 40l2.4-1.3l-2.4-.6l-2.3 1.2z"/>
<path color="#124a1e" d="M95.2 40.6l2.3-.4l-2.3-1.2l-2.3 .4z"/>
<path color="#0b3524" d="M122.8 50.3l2.2 .2l-2.2-1.8l-2.3-.2z"/>
<path color="#1b6126" d="M67.4 39.5l2.3-1.2l-2.3-.7l-2.3 1.1z"/>
<path color="#277b43" d="M39.8 47.8l2.3-2l-2.3-.4l-2.3 2z"/>
<path color="#0f3e1e" d="M111.4 45.3l2.3-.1l-2.3-1.4l-2.3 0z"/>
<path color="#145121" d="M90.6 39.9l2.3-.5l-2.3-1.1l-2.3 .5z"/>
<path color="#23712e" d="M51.2 43.2l2.3-1.6l-2.3-.6l-2.3 1.6z"/>
<path color="#1a5e25" d="M72 39.1l2.3-.9l-2.3-.8l-2.3 .9z"/>
<path color="#0b3329" d="M129.5 54.2l2.3 .3l-2.3-1.9l-2.2-.3z"/>
<path color="#165522" d="M85.9 39.4l2.4-.6l-2.4-1l-2.3 .6z"/>
<path color="#195b24" d="M76.6 39l2.4-.8l-2.3-.9l-2.4 .9z"/>
<path color="#175823" d="M81.3 39.1l2.3-.7l-2.3-.9l-2.3 .7z"/>
<path color="#0b2f32" d="M136.3 58.5l2.2 .4l-2.2-2l-2.3-.4z"/>
<path color="#10431e" d="M106.8 43.9l2.3-.1l-2.3-1.4l-2.3 .1z"/>
<path color="#216d2c" d="M55.8 42.1l2.3-1.4l-2.3-.6l-2.3 1.5z"/>
<path color="#0e3b23" d="M118.2 48.5l2.3 0l-2.3-1.6l-2.3-.1z"/>
<path color="#287b3a" d="M44.4 46.3l2.2-1.9l-2.3-.5l-2.2 1.9z"/>
<path color="#12491e" d="M102.2 42.8l2.3-.3l-2.3-1.3l-2.4 .2z"/>
<path color="#287e4b" d="M37.6 50l2.2-2.2l-2.3-.4l-2.2 2.2z"/>
<path color="#206b2a" d="M60.4 41.3l2.3-1.3l-2.3-.7l-2.3 1.4z"/>
<path color="#0c3929" d="M125 52.1l2.3 .2l-2.3-1.8l-2.2-.2z"/>
<path color="#0d3039" d="M138.5 60.7l2.2 .4l-2.2-2.2l-2.2-.4z"/>
<path color="#0d372e" d="M131.8 56.2l2.2 .3l-2.2-2l-2.3-.3z"/>
<path color="#144f20" d="M97.5 41.8l2.3-.4l-2.3-1.2l-2.3 .4z"/>
<path color="#104322" d="M113.6 46.8l2.3 0l-2.2-1.6l-2.3 .1z"/>
<path color="#277834" d="M48.9 44.9l2.3-1.7l-2.3-.6l-2.3 1.8z"/>
<path color="#1f6829" d="M65.1 40.7l2.3-1.2l-2.3-.8l-2.4 1.3z"/>
<path color="#175622" d="M92.9 41.1l2.3-.5l-2.3-1.2l-2.3 .5z"/>
<path color="#1d6528" d="M69.7 40.3l2.3-1.2l-2.3-.8l-2.3 1.2z"/>
<path color="#185b24" d="M88.3 40.5l2.3-.6l-2.3-1.1l-2.4 .6z"/>
<path color="#1c6327" d="M74.3 40l2.3-1l-2.3-.8l-2.3 .9z"/>
<path color="#297e42" d="M42.1 48.3l2.3-2l-2.3-.5l-2.3 2z"/>
<path color="#1a5e25" d="M83.6 40.1l2.3-.7l-2.3-1l-2.3 .7z"/>
<path color="#1b6026" d="M79 40l2.3-.9l-2.3-.9l-2.4 .8z"/>
<path color="#134921" d="M109.1 45.4l2.3-.1l-2.3-1.5l-2.3 .1z"/>
<path color="#24742f" d="M53.5 43.8l2.3-1.7l-2.3-.5l-2.3 1.6z"/>
<path color="#0f3f28" d="M120.5 50.2l2.3 .1l-2.3-1.8l-2.3 0z"/>
<path color="#278155" d="M35.3 52.3l2.3-2.3l-2.3-.4l-2.2 2.2z"/>
<path color="#0e3c2e" d="M127.3 54l2.2 .2l-2.2-1.9l-2.3-.2z"/>
<path color="#0e3041" d="M140.7 62.9l2.2 .4l-2.2-2.2l-2.2-.4z"/>
<path color="#144e21" d="M104.5 44.2l2.3-.3l-2.3-1.4l-2.3 .3z"/>
<path color="#23712d" d="M58.1 42.8l2.3-1.5l-2.3-.6l-2.3 1.4z"/>
<path color="#0e3835" d="M134 58.2l2.3 .3l-2.3-2l-2.2-.3z"/>
<path color="#2a7e3a" d="M46.7 46.8l2.2-1.9l-2.3-.5l-2.2 1.9z"/>
<path color="#124627" d="M115.9 48.5l2.3 0l-2.3-1.7l-2.3 0z"/>
<path color="#226f2b" d="M62.7 42.1l2.4-1.4l-2.4-.7l-2.3 1.3z"/>
<path color="#165422" d="M99.8 43.2l2.4-.4l-2.4-1.4l-2.3 .4z"/>
<path color="#29814b" d="M39.9 50.5l2.2-2.2l-2.3-.5l-2.2 2.2z"/>
<path color="#28845f" d="M33.1 54.7l2.2-2.4l-2.2-.5l-2.2 2.5z"/>
<path color="#216c2a" d="M67.4 41.5l2.3-1.2l-2.3-.8l-2.3 1.2z"/>
<path color="#195a24" d="M95.2 42.3l2.3-.5l-2.3-1.2l-2.3 .5z"/>
<path color="#10432d" d="M122.8 52l2.2 .1l-2.2-1.8l-2.3-.1z"/>
<path color="#287b34" d="M51.2 45.5l2.3-1.7l-2.3-.6l-2.3 1.7z"/>
<path color="#154d25" d="M111.3 47l2.3-.2l-2.2-1.5l-2.3 .1z"/>
<path color="#102c46" d="M142.9 65.3l2.2 .4l-2.2-2.4l-2.2-.4z"/>
<path color="#206a29" d="M72 41.1l2.3-1.1l-2.3-.9l-2.3 1.2z"/>
<path color="#1b6126" d="M90.6 41.7l2.3-.6l-2.3-1.2l-2.3 .6z"/>
<path color="#104032" d="M129.5 56l2.3 .2l-2.3-2l-2.2-.2z"/>
<path color="#1f6728" d="M76.6 41l2.4-1l-2.4-1l-2.3 1z"/>
<path color="#1c6327" d="M85.9 41.3l2.4-.8l-2.4-1.1l-2.3 .7z"/>
<path color="#10393d" d="M136.2 60.4l2.3 .3l-2.2-2.2l-2.3-.3z"/>
<path color="#1d6528" d="M81.3 41l2.3-.9l-2.3-1l-2.3 .9z"/>
<path color="#2b8142" d="M44.4 48.9l2.3-2.1l-2.3-.5l-2.3 2z"/>
<path color="#26772f" d="M55.8 44.5l2.3-1.7l-2.3-.7l-2.3 1.7z"/>
<path color="#175324" d="M106.8 45.7l2.3-.3l-2.3-1.5l-2.3 .3z"/>
<path color="#13492b" d="M118.2 50.2l2.3 0l-2.3-1.7l-2.3 0z"/>
<path color="#288455" d="M37.6 52.8l2.3-2.3l-2.3-.5l-2.3 2.3z"/>
<path color="#2a8668" d="M30.9 57.3l2.2-2.6l-2.2-.4l-2.3 2.5z"/>
<path color="#25742e" d="M60.4 43.6l2.3-1.5l-2.3-.8l-2.3 1.5z"/>
<path color="#185824" d="M102.1 44.6l2.4-.4l-2.3-1.4l-2.4 .4z"/>
<path color="#114531" d="M125 53.9l2.3 .1l-2.3-1.9l-2.2-.1z"/>
<path color="#2c813b" d="M49 47.5l2.2-2l-2.3-.6l-2.2 1.9z"/>
<path color="#113944" d="M138.4 62.7l2.3 .2l-2.2-2.2l-2.3-.3z"/>
<path color="#114238" d="M131.8 58.1l2.2 .1l-2.2-2l-2.3-.2z"/>
<path color="#24722d" d="M65.1 42.9l2.3-1.4l-2.3-.8l-2.4 1.4z"/>
<path color="#165029" d="M113.6 48.7l2.3-.2l-2.3-1.7l-2.3 .2z"/>
<path color="#1b5e26" d="M97.5 43.7l2.3-.5l-2.3-1.4l-2.3 .5z"/>
<path color="#23702c" d="M69.7 42.4l2.3-1.3l-2.3-.8l-2.3 1.2z"/>
<path color="#1d6428" d="M92.9 43l2.3-.7l-2.3-1.2l-2.3 .6z"/>
<path color="#2a844b" d="M42.1 51.1l2.3-2.2l-2.3-.6l-2.2 2.2z"/>
<path color="#2b8578" d="M28.7 60l2.2-2.7l-2.3-.5l-2.1 2.8z"/>
<path color="#226e2b" d="M74.3 42.1l2.3-1.1l-2.3-1l-2.3 1.1z"/>
<path color="#28865e" d="M35.4 55.2l2.2-2.4l-2.3-.5l-2.2 2.4z"/>
<path color="#2a7d35" d="M53.5 46.2l2.3-1.7l-2.3-.7l-2.3 1.7z"/>
<path color="#1f6829" d="M88.2 42.5l2.4-.8l-2.3-1.2l-2.4 .8z"/>
<path color="#216c2a" d="M79 42l2.3-1l-2.3-1l-2.4 1z"/>
<path color="#206a29" d="M83.6 42.1l2.3-.8l-2.3-1.2l-2.3 .9z"/>
<path color="#144c30" d="M120.5 52.1l2.3-.1l-2.3-1.8l-2.3 0z"/>
<path color="#195728" d="M109 47.3l2.3-.3l-2.2-1.6l-2.3 .3z"/>
<path color="#13374b" d="M140.6 65.1l2.3 .2l-2.2-2.4l-2.3-.2z"/>
<path color="#134836" d="M127.3 56l2.2 0l-2.2-2l-2.3-.1z"/>
<path color="#287a30" d="M58.1 45.2l2.3-1.6l-2.3-.8l-2.3 1.7z"/>
<path color="#2c8442" d="M46.7 49.5l2.3-2l-2.3-.7l-2.3 2.1z"/>
<path color="#13423f" d="M134 60.3l2.2 .1l-2.2-2.2l-2.2-.1z"/>
<path color="#1b5c27" d="M104.4 46.1l2.4-.4l-2.3-1.5l-2.4 .4z"/>
<path color="#17532e" d="M115.9 50.4l2.3-.2l-2.3-1.7l-2.3 .2z"/>
<path color="#298654" d="M39.9 53.4l2.2-2.3l-2.2-.6l-2.3 2.3z"/>
<path color="#27782f" d="M62.8 44.4l2.3-1.5l-2.4-.8l-2.3 1.5z"/>
<path color="#2a8968" d="M33.2 57.8l2.2-2.6l-2.3-.5l-2.2 2.6z"/>
<path color="#1c6127" d="M99.8 45.1l2.3-.5l-2.3-1.4l-2.3 .5z"/>
<path color="#2d843b" d="M51.3 48.2l2.2-2l-2.3-.7l-2.2 2z"/>
<path color="#26762e" d="M67.4 43.8l2.3-1.4l-2.3-.9l-2.3 1.4z"/>
<path color="#1f6729" d="M95.2 44.3l2.3-.6l-2.3-1.4l-2.3 .7z"/>
<path color="#144e34" d="M122.7 54l2.3-.1l-2.2-1.9l-2.3 .1z"/>
<path color="#1b5a2c" d="M111.3 49l2.3-.3l-2.3-1.7l-2.3 .3z"/>
<path color="#25742d" d="M72 43.4l2.3-1.3l-2.3-1l-2.3 1.3z"/>
<path color="#216c2b" d="M90.6 43.7l2.3-.7l-2.3-1.3l-2.4 .8z"/>
<path color="#144a3a" d="M129.5 58.1l2.3 0l-2.3-2.1l-2.2 0z"/>
<path color="#144147" d="M136.2 62.6l2.2 .1l-2.2-2.3l-2.2-.1z"/>
<path color="#24722c" d="M76.6 43.2l2.4-1.2l-2.4-1l-2.3 1.1z"/>
<path color="#226e2b" d="M85.9 43.4l2.3-.9l-2.3-1.2l-2.3 .8z"/>
<path color="#23702c" d="M81.3 43.2l2.3-1.1l-2.3-1.1l-2.3 1z"/>
<path color="#2b874b" d="M44.4 51.7l2.3-2.2l-2.3-.6l-2.3 2.2z"/>
<path color="#2b8036" d="M55.9 47l2.2-1.8l-2.3-.7l-2.3 1.7z"/>
<path color="#2c8876" d="M31 60.6l2.2-2.8l-2.3-.5l-2.2 2.7z"/>
<path color="#29885e" d="M37.7 55.9l2.2-2.5l-2.3-.6l-2.2 2.4z"/>
<path color="#1d602b" d="M106.7 47.7l2.3-.4l-2.2-1.6l-2.4 .4z"/>
<path color="#185432" d="M118.2 52.3l2.3-.2l-2.3-1.9l-2.3 .2z"/>
<path color="#297d32" d="M60.5 46.1l2.3-1.7l-2.4-.8l-2.3 1.6z"/>
<path color="#2d8743" d="M49 50.2l2.3-2l-2.3-.7l-2.3 2z"/>
<path color="#1f652a" d="M102.1 46.6l2.3-.5l-2.3-1.5l-2.3 .5z"/>
<path color="#154f39" d="M125 56l2.3 0l-2.3-2.1l-2.3 .1z"/>
<path color="#15404f" d="M138.4 64.9l2.2 .2l-2.2-2.4l-2.2-.1z"/>
<path color="#287b30" d="M65.1 45.4l2.3-1.6l-2.3-.9l-2.3 1.5z"/>
<path color="#154a41" d="M131.7 60.3l2.3 0l-2.2-2.2l-2.3 0z"/>
<path color="#1b5b30" d="M113.6 50.7l2.3-.3l-2.3-1.7l-2.3 .3z"/>
<path color="#206a2a" d="M97.5 45.8l2.3-.7l-2.3-1.4l-2.3 .6z"/>
<path color="#2a8854" d="M42.2 54.1l2.2-2.4l-2.3-.6l-2.2 2.3z"/>
<path color="#2a8a68" d="M35.5 58.5l2.2-2.6l-2.3-.7l-2.2 2.6z"/>
<path color="#27792f" d="M69.7 44.8l2.3-1.4l-2.3-1l-2.3 1.4z"/>
<path color="#23702c" d="M92.9 45.1l2.3-.8l-2.3-1.3l-2.3 .7z"/>
<path color="#2e863c" d="M53.6 49l2.3-2l-2.4-.8l-2.2 2z"/>
<path color="#26772e" d="M74.3 44.5l2.3-1.3l-2.3-1.1l-2.3 1.3z"/>
<path color="#24722d" d="M88.2 44.7l2.4-1l-2.4-1.2l-2.3 .9z"/>
<path color="#26752e" d="M79 44.3l2.3-1.1l-2.3-1.2l-2.4 1.2z"/>
<path color="#25742d" d="M83.6 44.4l2.3-1l-2.3-1.3l-2.3 1.1z"/>
<path color="#185637" d="M120.4 54.2l2.3-.2l-2.2-1.9l-2.3 .2z"/>
<path color="#1f622e" d="M109 49.4l2.3-.4l-2.3-1.7l-2.3 .4z"/>
<path color="#2c894b" d="M46.7 52.5l2.3-2.3l-2.3-.7l-2.3 2.2z"/>
<path color="#2c8337" d="M58.2 47.9l2.3-1.8l-2.4-.9l-2.2 1.8z"/>
<path color="#17513d" d="M127.2 58.2l2.3-.1l-2.2-2.1l-2.3 0z"/>
<path color="#164949" d="M133.9 62.6l2.3 0l-2.2-2.3l-2.3 0z"/>
<path color="#2c8a75" d="M33.2 61.2l2.3-2.7l-2.3-.7l-2.2 2.8z"/>
<path color="#298a5f" d="M40 56.5l2.2-2.4l-2.3-.7l-2.2 2.5z"/>
<path color="#21682d" d="M104.4 48.3l2.3-.6l-2.3-1.6l-2.3 .5z"/>
<path color="#2a8033" d="M62.8 47l2.3-1.6l-2.3-1l-2.3 1.7z"/>
<path color="#1c5c35" d="M115.9 52.6l2.3-.3l-2.3-1.9l-2.3 .3z"/>
<path color="#226d2d" d="M99.8 47.3l2.3-.7l-2.3-1.5l-2.3 .7z"/>
<path color="#2e8944" d="M51.3 51.1l2.3-2.1l-2.3-.8l-2.3 2z"/>
<path color="#297e31" d="M67.4 46.4l2.3-1.6l-2.3-1l-2.3 1.6z"/>
<path color="#18563c" d="M122.7 56.3l2.3-.3l-2.3-2l-2.3 .2z"/>
<path color="#24732e" d="M95.2 46.6l2.3-.8l-2.3-1.5l-2.3 .8z"/>
<path color="#297c31" d="M72 45.9l2.3-1.4l-2.3-1.1l-2.3 1.4z"/>
<path color="#2b8b55" d="M44.5 54.8l2.2-2.3l-2.3-.8l-2.2 2.4z"/>
<path color="#1f6433" d="M111.3 51.2l2.3-.5l-2.3-1.7l-2.3 .4z"/>
<path color="#26762f" d="M90.5 46l2.4-.9l-2.3-1.4l-2.4 1z"/>
<path color="#184751" d="M136.1 64.9l2.3 0l-2.2-2.3l-2.3 0z"/>
<path color="#185242" d="M129.5 60.4l2.2-.1l-2.2-2.2l-2.3 .1z"/>
<path color="#287a30" d="M76.6 45.6l2.4-1.3l-2.4-1.1l-2.3 1.3z"/>
<path color="#2b8c68" d="M37.7 59.2l2.3-2.7l-2.3-.6l-2.2 2.6z"/>
<path color="#27772f" d="M85.9 45.7l2.3-1l-2.3-1.3l-2.3 1z"/>
<path color="#2f893d" d="M55.9 49.9l2.3-2l-2.3-.9l-2.3 2z"/>
<path color="#27792f" d="M81.3 45.6l2.3-1.2l-2.3-1.2l-2.3 1.1z"/>
<path color="#236b31" d="M106.7 50l2.3-.6l-2.3-1.7l-2.3 .6z"/>
<path color="#1c5d39" d="M118.1 54.6l2.3-.4l-2.2-1.9l-2.3 .3z"/>
<path color="#2d8538" d="M60.5 48.9l2.3-1.9l-2.3-.9l-2.3 1.8z"/>
<path color="#2d8b4c" d="M49 53.3l2.3-2.2l-2.3-.9l-2.3 2.3z"/>
<path color="#247030" d="M102.1 48.9l2.3-.6l-2.3-1.7l-2.3 .7z"/>
<path color="#195840" d="M124.9 58.4l2.3-.2l-2.2-2.2l-2.3 .3z"/>
<path color="#2a8c5f" d="M42.2 57.3l2.3-2.5l-2.3-.7l-2.2 2.4z"/>
<path color="#2c8d75" d="M35.5 62l2.2-2.8l-2.2-.7l-2.3 2.7z"/>
<path color="#2b8335" d="M65.1 48.1l2.3-1.7l-2.3-1l-2.3 1.6z"/>
<path color="#19504a" d="M131.7 62.7l2.2-.1l-2.2-2.3l-2.2 .1z"/>
<path color="#1f6437" d="M113.6 53.1l2.3-.5l-2.3-1.9l-2.3 .5z"/>
<path color="#267530" d="M97.5 48.1l2.3-.8l-2.3-1.5l-2.3 .8z"/>
<path color="#2a8133" d="M69.7 47.5l2.3-1.6l-2.3-1.1l-2.3 1.6z"/>
<path color="#2f8b45" d="M53.6 52l2.3-2.1l-2.3-.9l-2.3 2.1z"/>
<path color="#287a30" d="M92.9 47.5l2.3-.9l-2.3-1.5l-2.4 .9z"/>
<path color="#2a7f32" d="M74.3 47.1l2.3-1.5l-2.3-1.1l-2.3 1.4z"/>
<path color="#287b30" d="M88.2 47.1l2.3-1.1l-2.3-1.3l-2.3 1z"/>
<path color="#297d31" d="M79 46.9l2.3-1.3l-2.3-1.3l-2.4 1.3z"/>
<path color="#297c31" d="M83.6 46.9l2.3-1.2l-2.3-1.3l-2.3 1.2z"/>
<path color="#1b5e3e" d="M120.4 56.6l2.3-.3l-2.3-2.1l-2.3 .4z"/>
<path color="#2c8d56" d="M46.8 55.7l2.2-2.4l-2.3-.8l-2.2 2.3z"/>
<path color="#236b35" d="M109 51.8l2.3-.6l-2.3-1.8l-2.3 .6z"/>
<path color="#2f8b3e" d="M58.2 50.8l2.3-1.9l-2.3-1l-2.3 2z"/>
<path color="#2b8e69" d="M40 60l2.2-2.7l-2.2-.8l-2.3 2.7z"/>
<path color="#1b5845" d="M127.2 60.6l2.3-.2l-2.3-2.2l-2.3 .2z"/>
<path color="#1a4e53" d="M133.9 65.1l2.2-.2l-2.2-2.3l-2.2 .1z"/>
<path color="#267234" d="M104.4 50.7l2.3-.7l-2.3-1.7l-2.3 .6z"/>
<path color="#2e883a" d="M62.8 49.9l2.3-1.8l-2.3-1.1l-2.3 1.9z"/>
<path color="#1f653c" d="M115.8 55l2.3-.4l-2.2-2l-2.3 .5z"/>
<path color="#2e8d4d" d="M51.3 54.2l2.3-2.2l-2.3-.9l-2.3 2.2z"/>
<path color="#287733" d="M99.8 49.8l2.3-.9l-2.3-1.6l-2.3 .8z"/>
<path color="#2c8536" d="M67.4 49.2l2.3-1.7l-2.3-1.1l-2.3 1.7z"/>
<path color="#2a8e60" d="M44.5 58.2l2.3-2.5l-2.3-.9l-2.3 2.5z"/>
<path color="#2d8f75" d="M37.8 62.8l2.2-2.8l-2.3-.8l-2.2 2.8z"/>
<path color="#1c5e43" d="M122.7 58.8l2.2-.4l-2.2-2.1l-2.3 .3z"/>
<path color="#297d33" d="M95.2 49.1l2.3-1l-2.3-1.5l-2.3 .9z"/>
<path color="#2b8334" d="M72 48.6l2.3-1.5l-2.3-1.2l-2.3 1.6z"/>
<path color="#236c3a" d="M111.3 53.7l2.3-.6l-2.3-1.9l-2.3 .6z"/>
<path color="#2f8d46" d="M55.9 52.9l2.3-2.1l-2.3-.9l-2.3 2.1z"/>
<path color="#1c574c" d="M129.4 62.9l2.3-.2l-2.2-2.3l-2.3 .2z"/>
<path color="#2a7e32" d="M90.5 48.6l2.4-1.1l-2.4-1.5l-2.3 1.1z"/>
<path color="#2b8233" d="M76.6 48.3l2.4-1.4l-2.4-1.3l-2.3 1.5z"/>
<path color="#2a7f32" d="M85.9 48.3l2.3-1.2l-2.3-1.4l-2.3 1.2z"/>
<path color="#2a8133" d="M81.3 48.2l2.3-1.3l-2.3-1.3l-2.3 1.3z"/>
<path color="#2c8e57" d="M49.1 56.6l2.2-2.4l-2.3-.9l-2.2 2.4z"/>
<path color="#277338" d="M106.7 52.5l2.3-.7l-2.3-1.8l-2.3 .7z"/>
<path color="#308d40" d="M60.5 51.9l2.3-2l-2.3-1l-2.3 1.9z"/>
<path color="#1f6541" d="M118.1 57.1l2.3-.5l-2.3-2l-2.3 .4z"/>
<path color="#2c906a" d="M42.3 60.8l2.2-2.6l-2.3-.9l-2.2 2.7z"/>
<path color="#1d5f48" d="M124.9 61l2.3-.4l-2.3-2.2l-2.2 .4z"/>
<path color="#2a7a37" d="M102.1 51.5l2.3-.8l-2.3-1.8l-2.3 .9z"/>
<path color="#2f8b3c" d="M65.1 51l2.3-1.8l-2.3-1.1l-2.3 1.8z"/>
<path color="#1c5554" d="M131.6 65.4l2.3-.3l-2.2-2.4l-2.3 .2z"/>
<path color="#2e8f4f" d="M53.6 55.2l2.3-2.3l-2.3-.9l-2.3 2.2z"/>
<path color="#226c3f" d="M113.5 55.6l2.3-.6l-2.2-1.9l-2.3 .6z"/>
<path color="#2b7f37" d="M97.5 50.7l2.3-.9l-2.3-1.7l-2.3 1z"/>
<path color="#2e8839" d="M69.7 50.4l2.3-1.8l-2.3-1.1l-2.3 1.7z"/>
<path color="#2b8336" d="M92.8 50.2l2.4-1.1l-2.3-1.6l-2.4 1.1z"/>
<path color="#2d8636" d="M74.3 49.9l2.3-1.6l-2.3-1.2l-2.3 1.5z"/>
<path color="#2b8f61" d="M46.8 59.1l2.3-2.5l-2.3-.9l-2.3 2.5z"/>
<path color="#2b8335" d="M88.2 49.8l2.3-1.2l-2.3-1.5l-2.3 1.2z"/>
<path color="#2c8535" d="M79 49.7l2.3-1.5l-2.3-1.3l-2.4 1.4z"/>
<path color="#2d9075" d="M40.1 63.7l2.2-2.9l-2.3-.8l-2.2 2.8z"/>
<path color="#2b8435" d="M83.6 49.6l2.3-1.3l-2.3-1.4l-2.3 1.3z"/>
<path color="#1e6546" d="M120.4 59.3l2.3-.5l-2.3-2.2l-2.3 .5z"/>
<path color="#2f8f48" d="M58.2 54l2.3-2.1l-2.3-1.1l-2.3 2.1z"/>
<path color="#26733d" d="M109 54.4l2.3-.7l-2.3-1.9l-2.3 .7z"/>
<path color="#1e5f4d" d="M127.1 63.3l2.3-.4l-2.2-2.3l-2.3 .4z"/>
<path color="#318f42" d="M62.8 53l2.3-2l-2.3-1.1l-2.3 2z"/>
<path color="#297a3b" d="M104.4 53.3l2.3-.8l-2.3-1.8l-2.3 .8z"/>
<path color="#2d9058" d="M51.4 57.6l2.2-2.4l-2.3-1l-2.2 2.4z"/>
<path color="#216b44" d="M115.8 57.7l2.3-.6l-2.3-2.1l-2.3 .6z"/>
<path color="#2c916b" d="M44.6 61.8l2.2-2.7l-2.3-.9l-2.2 2.6z"/>
<path color="#308e3e" d="M67.4 52.2l2.3-1.8l-2.3-1.2l-2.3 1.8z"/>
<path color="#2c823a" d="M99.8 52.5l2.3-1l-2.3-1.7l-2.3 .9z"/>
<path color="#1f654b" d="M122.6 61.5l2.3-.5l-2.2-2.2l-2.3 .5z"/>
<path color="#2f8b3b" d="M72 51.7l2.3-1.8l-2.3-1.3l-2.3 1.8z"/>
<path color="#2e9051" d="M55.9 56.3l2.3-2.3l-2.3-1.1l-2.3 2.3z"/>
<path color="#2d873a" d="M95.1 51.8l2.4-1.1l-2.3-1.6l-2.4 1.1z"/>
<path color="#1e5c56" d="M129.3 65.8l2.3-.4l-2.2-2.5l-2.3 .4z"/>
<path color="#257342" d="M111.2 56.4l2.3-.8l-2.2-1.9l-2.3 .7z"/>
<path color="#2e8a39" d="M76.6 51.3l2.4-1.6l-2.4-1.4l-2.3 1.6z"/>
<path color="#2d8739" d="M90.5 51.4l2.3-1.2l-2.3-1.6l-2.3 1.2z"/>
<path color="#2d8838" d="M81.3 51.1l2.3-1.5l-2.3-1.4l-2.3 1.5z"/>
<path color="#2d8738" d="M85.9 51.1l2.3-1.3l-2.3-1.5l-2.3 1.3z"/>
<path color="#2b9162" d="M49.1 60.1l2.3-2.5l-2.3-1l-2.3 2.5z"/>
<path color="#30914a" d="M60.5 55.2l2.3-2.2l-2.3-1.1l-2.3 2.1z"/>
<path color="#2e9276" d="M42.4 64.6l2.2-2.8l-2.3-1l-2.2 2.9z"/>
<path color="#287a40" d="M106.6 55.2l2.4-.8l-2.3-1.9l-2.3 .8z"/>
<path color="#206b49" d="M118.1 59.9l2.3-.6l-2.3-2.2l-2.3 .6z"/>
<path color="#319145" d="M65.1 54.2l2.3-2l-2.3-1.2l-2.3 2z"/>
<path color="#1f6550" d="M124.8 63.9l2.3-.6l-2.2-2.3l-2.3 .5z"/>
<path color="#2b813f" d="M102 54.3l2.4-1l-2.3-1.8l-2.3 1z"/>
<path color="#2d915a" d="M53.7 58.7l2.2-2.4l-2.3-1.1l-2.2 2.4z"/>
<path color="#319041" d="M69.7 53.5l2.3-1.8l-2.3-1.3l-2.3 1.8z"/>
<path color="#237247" d="M113.5 58.5l2.3-.8l-2.3-2.1l-2.3 .8z"/>
<path color="#2f893e" d="M97.4 53.6l2.4-1.1l-2.3-1.8l-2.4 1.1z"/>
<path color="#2d926c" d="M46.9 62.8l2.2-2.7l-2.3-1l-2.2 2.7z"/>
<path color="#308e3e" d="M74.3 53l2.3-1.7l-2.3-1.4l-2.3 1.8z"/>
<path color="#2f8b3d" d="M92.8 53.1l2.3-1.3l-2.3-1.6l-2.3 1.2z"/>
<path color="#2e9253" d="M58.2 57.4l2.3-2.2l-2.3-1.2l-2.3 2.3z"/>
<path color="#308d3d" d="M78.9 52.7l2.4-1.6l-2.3-1.4l-2.4 1.6z"/>
<path color="#2f8b3c" d="M88.2 52.7l2.3-1.3l-2.3-1.6l-2.3 1.3z"/>
<path color="#2f8c3c" d="M83.6 52.6l2.3-1.5l-2.3-1.5l-2.3 1.5z"/>
<path color="#206b4e" d="M120.3 62.2l2.3-.7l-2.2-2.2l-2.3 .6z"/>
<path color="#277945" d="M108.9 57.3l2.3-.9l-2.2-2l-2.4 .8z"/>
<path color="#206259" d="M127.1 66.3l2.2-.5l-2.2-2.5l-2.3 .6z"/>
<path color="#2c9264" d="M51.4 61.3l2.3-2.6l-2.3-1.1l-2.3 2.5z"/>
<path color="#30924d" d="M62.8 56.4l2.3-2.2l-2.3-1.2l-2.3 2.2z"/>
<path color="#2e9278" d="M44.6 65.7l2.3-2.9l-2.3-1l-2.2 2.8z"/>
<path color="#2a8144" d="M104.3 56.2l2.3-1l-2.2-1.9l-2.4 1z"/>
<path color="#22714d" d="M115.8 60.7l2.3-.8l-2.3-2.2l-2.3 .8z"/>
<path color="#319248" d="M67.4 55.6l2.3-2.1l-2.3-1.3l-2.3 2z"/>
<path color="#2d8843" d="M99.7 55.4l2.3-1.1l-2.2-1.8l-2.4 1.1z"/>
<path color="#2d935c" d="M56 59.9l2.2-2.5l-2.3-1.1l-2.2 2.4z"/>
<path color="#319244" d="M72 54.9l2.3-1.9l-2.3-1.3l-2.3 1.8z"/>
<path color="#216b53" d="M122.5 64.5l2.3-.6l-2.2-2.4l-2.3 .7z"/>
<path color="#308e42" d="M95.1 54.8l2.3-1.2l-2.3-1.8l-2.3 1.3z"/>
<path color="#329142" d="M76.6 54.5l2.3-1.8l-2.3-1.4l-2.3 1.7z"/>
<path color="#25784b" d="M111.2 59.4l2.3-.9l-2.3-2.1l-2.3 .9z"/>
<path color="#2d946e" d="M49.2 64l2.2-2.7l-2.3-1.2l-2.2 2.7z"/>
<path color="#318f41" d="M90.5 54.4l2.3-1.3l-2.3-1.7l-2.3 1.3z"/>
<path color="#319040" d="M81.3 54.3l2.3-1.7l-2.3-1.5l-2.4 1.6z"/>
<path color="#318f40" d="M85.9 54.3l2.3-1.6l-2.3-1.6l-2.3 1.5z"/>
<path color="#2e9356" d="M60.5 58.7l2.3-2.3l-2.3-1.2l-2.3 2.2z"/>
<path color="#298049" d="M106.6 58.3l2.3-1l-2.3-2.1l-2.3 1z"/>
<path color="#227152" d="M118 62.9l2.3-.7l-2.2-2.3l-2.3 .8z"/>
<path color="#309350" d="M65.1 57.7l2.3-2.1l-2.3-1.4l-2.3 2.2z"/>
<path color="#2c9366" d="M53.7 62.5l2.3-2.6l-2.3-1.2l-2.3 2.6z"/>
<path color="#22685c" d="M124.8 67l2.3-.7l-2.3-2.4l-2.3 .6z"/>
<path color="#2c8749" d="M102 57.4l2.3-1.2l-2.3-1.9l-2.3 1.1z"/>
<path color="#2f937b" d="M46.9 66.9l2.3-2.9l-2.3-1.2l-2.3 2.9z"/>
<path color="#31934b" d="M69.7 57l2.3-2.1l-2.3-1.4l-2.3 2.1z"/>
<path color="#247751" d="M113.4 61.6l2.4-.9l-2.3-2.2l-2.3 .9z"/>
<path color="#2f8e48" d="M97.4 56.7l2.3-1.3l-2.3-1.8l-2.3 1.2z"/>
<path color="#319348" d="M74.3 56.4l2.3-1.9l-2.3-1.5l-2.3 1.9z"/>
<path color="#2d945f" d="M58.3 61.2l2.2-2.5l-2.3-1.3l-2.2 2.5z"/>
<path color="#309046" d="M92.8 56.2l2.3-1.4l-2.3-1.7l-2.3 1.3z"/>
<path color="#319346" d="M78.9 56.1l2.4-1.8l-2.4-1.6l-2.3 1.8z"/>
<path color="#319145" d="M88.2 56l2.3-1.6l-2.3-1.7l-2.3 1.6z"/>
<path color="#319245" d="M83.6 55.9l2.3-1.6l-2.3-1.7l-2.3 1.7z"/>
<path color="#237157" d="M120.2 65.3l2.3-.8l-2.2-2.3l-2.3 .7z"/>
<path color="#277f4f" d="M108.9 60.4l2.3-1l-2.3-2.1l-2.3 1z"/>
<path color="#2e9570" d="M51.5 65.2l2.2-2.7l-2.3-1.2l-2.2 2.7z"/>
<path color="#2e9459" d="M62.8 60.1l2.3-2.4l-2.3-1.3l-2.3 2.3z"/>
<path color="#2a864e" d="M104.3 59.4l2.3-1.1l-2.3-2.1l-2.3 1.2z"/>
<path color="#2f9453" d="M67.4 59.2l2.3-2.2l-2.3-1.4l-2.3 2.1z"/>
<path color="#247756" d="M115.7 63.9l2.3-1l-2.2-2.2l-2.4 .9z"/>
<path color="#2d9569" d="M56 63.8l2.3-2.6l-2.3-1.3l-2.3 2.6z"/>
<path color="#2e8d4e" d="M99.7 58.7l2.3-1.3l-2.3-2l-2.3 1.3z"/>
<path color="#30944f" d="M72 58.5l2.3-2.1l-2.3-1.5l-2.3 2.1z"/>
<path color="#236e5f" d="M122.5 67.8l2.3-.8l-2.3-2.5l-2.3 .8z"/>
<path color="#2f937e" d="M49.2 68.1l2.3-2.9l-2.3-1.2l-2.3 2.9z"/>
<path color="#2f914c" d="M95.1 58.1l2.3-1.4l-2.3-1.9l-2.3 1.4z"/>
<path color="#31944d" d="M76.6 58l2.3-1.9l-2.3-1.6l-2.3 1.9z"/>
<path color="#257d55" d="M111.1 62.6l2.3-1l-2.2-2.2l-2.3 1z"/>
<path color="#30924b" d="M90.5 57.8l2.3-1.6l-2.3-1.8l-2.3 1.6z"/>
<path color="#31944b" d="M81.2 57.7l2.4-1.8l-2.3-1.6l-2.4 1.8z"/>
<path color="#2d9562" d="M60.6 62.5l2.2-2.4l-2.3-1.4l-2.2 2.5z"/>
<path color="#31934a" d="M85.9 57.6l2.3-1.6l-2.3-1.7l-2.3 1.6z"/>
<path color="#25765b" d="M117.9 66.3l2.3-1l-2.2-2.4l-2.3 1z"/>
<path color="#298554" d="M106.6 61.6l2.3-1.2l-2.3-2.1l-2.3 1.1z"/>
<path color="#2e9672" d="M53.8 66.5l2.2-2.7l-2.3-1.3l-2.2 2.7z"/>
<path color="#2e955c" d="M65.1 61.5l2.3-2.3l-2.3-1.5l-2.3 2.4z"/>
<path color="#2c8c53" d="M102 60.7l2.3-1.3l-2.3-2l-2.3 1.3z"/>
<path color="#2f9557" d="M69.7 60.7l2.3-2.2l-2.3-1.5l-2.3 2.2z"/>
<path color="#267d5a" d="M113.4 64.9l2.3-1l-2.3-2.3l-2.3 1z"/>
<path color="#2d966c" d="M58.3 65.1l2.3-2.6l-2.3-1.3l-2.3 2.6z"/>
<path color="#2e9253" d="M97.4 60.1l2.3-1.4l-2.3-2l-2.3 1.4z"/>
<path color="#309554" d="M74.3 60.1l2.3-2.1l-2.3-1.6l-2.3 2.1z"/>
<path color="#2f9351" d="M92.8 59.7l2.3-1.6l-2.3-1.9l-2.3 1.6z"/>
<path color="#309551" d="M78.9 59.6l2.3-1.9l-2.3-1.6l-2.3 1.9z"/>
<path color="#309382" d="M51.5 69.4l2.3-2.9l-2.3-1.3l-2.3 2.9z"/>
<path color="#309450" d="M88.2 59.4l2.3-1.6l-2.3-1.8l-2.3 1.6z"/>
<path color="#309450" d="M83.5 59.4l2.4-1.8l-2.3-1.7l-2.4 1.8z"/>
<path color="#257464" d="M120.2 68.7l2.3-.9l-2.3-2.5l-2.3 1z"/>
<path color="#27835a" d="M108.8 63.8l2.3-1.2l-2.2-2.2l-2.3 1.2z"/>
<path color="#2d9666" d="M62.9 64l2.2-2.5l-2.3-1.4l-2.2 2.4z"/>
<path color="#2a8a59" d="M104.2 62.9l2.4-1.3l-2.3-2.2l-2.3 1.3z"/>
<path color="#2d9660" d="M67.4 63l2.3-2.3l-2.3-1.5l-2.3 2.3z"/>
<path color="#2f9775" d="M56 67.9l2.3-2.8l-2.3-1.3l-2.2 2.7z"/>
<path color="#267c60" d="M115.6 67.3l2.3-1l-2.2-2.4l-2.3 1z"/>
<path color="#2d925a" d="M99.6 62.2l2.4-1.5l-2.3-2l-2.3 1.4z"/>
<path color="#2e965c" d="M72 62.3l2.3-2.2l-2.3-1.6l-2.3 2.2z"/>
<path color="#2e9358" d="M95 61.7l2.4-1.6l-2.3-2l-2.3 1.6z"/>
<path color="#2f9659" d="M76.6 61.7l2.3-2.1l-2.3-1.6l-2.3 2.1z"/>
<path color="#2e976f" d="M60.6 66.6l2.3-2.6l-2.3-1.5l-2.3 2.6z"/>
<path color="#28835f" d="M111.1 66.1l2.3-1.2l-2.3-2.3l-2.3 1.2z"/>
<path color="#2f9456" d="M90.4 61.4l2.4-1.7l-2.3-1.9l-2.3 1.6z"/>
<path color="#2f9657" d="M81.2 61.4l2.3-2l-2.3-1.7l-2.3 1.9z"/>
<path color="#2f9556" d="M85.8 61.3l2.4-1.9l-2.3-1.8l-2.4 1.8z"/>
<path color="#309387" d="M53.8 70.9l2.2-3l-2.2-1.4l-2.3 2.9z"/>
<path color="#2d9769" d="M65.2 65.5l2.2-2.5l-2.3-1.5l-2.2 2.5z"/>
<path color="#277969" d="M117.9 69.8l2.3-1.1l-2.3-2.4l-2.3 1z"/>
<path color="#29895f" d="M106.5 65.1l2.3-1.3l-2.2-2.2l-2.4 1.3z"/>
<path color="#2d9665" d="M69.7 64.6l2.3-2.3l-2.3-1.6l-2.3 2.3z"/>
<path color="#2b9060" d="M101.9 64.3l2.3-1.4l-2.2-2.2l-2.4 1.5z"/>
<path color="#2f977a" d="M58.3 69.4l2.3-2.8l-2.3-1.5l-2.3 2.8z"/>
<path color="#288265" d="M113.3 68.5l2.3-1.2l-2.2-2.4l-2.3 1.2z"/>
<path color="#2e9661" d="M74.3 64l2.3-2.3l-2.3-1.6l-2.3 2.2z"/>
<path color="#2d945f" d="M97.3 63.7l2.3-1.5l-2.2-2.1l-2.4 1.6z"/>
<path color="#2e965e" d="M78.9 63.5l2.3-2.1l-2.3-1.8l-2.3 2.1z"/>
<path color="#2e955d" d="M92.7 63.4l2.3-1.7l-2.2-2l-2.4 1.7z"/>
<path color="#2e965c" d="M83.5 63.3l2.3-2l-2.3-1.9l-2.3 2z"/>
<path color="#2e965c" d="M88.1 63.2l2.3-1.8l-2.2-2l-2.4 1.9z"/>
<path color="#2f9872" d="M62.9 68.2l2.3-2.7l-2.3-1.5l-2.3 2.6z"/>
<path color="#2a8865" d="M108.8 67.5l2.3-1.4l-2.3-2.3l-2.3 1.3z"/>
<path color="#31928c" d="M56.1 72.4l2.2-3l-2.3-1.5l-2.2 3z"/>
<path color="#2e986d" d="M67.5 67.2l2.2-2.6l-2.3-1.6l-2.2 2.5z"/>
<path color="#2b8f65" d="M104.2 66.6l2.3-1.5l-2.3-2.2l-2.3 1.4z"/>
<path color="#297d6f" d="M115.6 71.1l2.3-1.3l-2.3-2.5l-2.3 1.2z"/>
<path color="#2d9769" d="M72 66.4l2.3-2.4l-2.3-1.7l-2.3 2.3z"/>
<path color="#2c9466" d="M99.6 65.9l2.3-1.6l-2.3-2.1l-2.3 1.5z"/>
<path color="#309680" d="M60.6 71l2.3-2.8l-2.3-1.6l-2.3 2.8z"/>
<path color="#2d9766" d="M76.6 65.8l2.3-2.3l-2.3-1.8l-2.3 2.3z"/>
<path color="#2c9564" d="M95 65.5l2.3-1.8l-2.3-2l-2.3 1.7z"/>
<path color="#2a876b" d="M111 69.9l2.3-1.4l-2.2-2.4l-2.3 1.4z"/>
<path color="#2d9764" d="M81.2 65.4l2.3-2.1l-2.3-1.9l-2.3 2.1z"/>
<path color="#2d9663" d="M90.4 65.2l2.3-1.8l-2.3-2l-2.3 1.8z"/>
<path color="#2d9663" d="M85.8 65.2l2.3-2l-2.3-1.9l-2.3 2z"/>
<path color="#2f9976" d="M65.2 69.8l2.3-2.6l-2.3-1.7l-2.3 2.7z"/>
<path color="#2c8e6b" d="M106.4 69l2.4-1.5l-2.3-2.4l-2.3 1.5z"/>
<path color="#319192" d="M58.4 74l2.2-3l-2.3-1.6l-2.2 3z"/>
<path color="#2f9972" d="M69.8 68.9l2.2-2.5l-2.3-1.8l-2.2 2.6z"/>
<path color="#2d946c" d="M101.9 68.2l2.3-1.6l-2.3-2.3l-2.3 1.6z"/>
<path color="#2e986e" d="M74.3 68.2l2.3-2.4l-2.3-1.8l-2.3 2.4z"/>
<path color="#2a8277" d="M113.3 72.5l2.3-1.4l-2.3-2.6l-2.3 1.4z"/>
<path color="#2d966b" d="M97.3 67.7l2.3-1.8l-2.3-2.2l-2.3 1.8z"/>
<path color="#2e986b" d="M78.9 67.7l2.3-2.3l-2.3-1.9l-2.3 2.3z"/>
<path color="#309586" d="M62.9 72.7l2.3-2.9l-2.3-1.6l-2.3 2.8z"/>
<path color="#2d9769" d="M92.7 67.4l2.3-1.9l-2.3-2.1l-2.3 1.8z"/>
<path color="#2d986a" d="M83.5 67.3l2.3-2.1l-2.3-1.9l-2.3 2.1z"/>
<path color="#2d9769" d="M88.1 67.2l2.3-2l-2.3-2l-2.3 2z"/>
<path color="#2c8b73" d="M108.7 71.4l2.3-1.5l-2.2-2.4l-2.4 1.5z"/>
<path color="#30987d" d="M67.5 71.6l2.3-2.7l-2.3-1.7l-2.3 2.6z"/>
<path color="#2e9372" d="M104.1 70.6l2.3-1.6l-2.2-2.4l-2.3 1.6z"/>
<path color="#309a76" d="M72.1 70.7l2.2-2.5l-2.3-1.8l-2.2 2.5z"/>
<path color="#329099" d="M60.7 75.7l2.2-3l-2.3-1.7l-2.2 3z"/>
<path color="#2e9772" d="M99.6 70l2.3-1.8l-2.3-2.3l-2.3 1.8z"/>
<path color="#2f9973" d="M76.6 70.1l2.3-2.4l-2.3-1.9l-2.3 2.4z"/>
<path color="#2e9870" d="M95 69.6l2.3-1.9l-2.3-2.2l-2.3 1.9z"/>
<path color="#2f9971" d="M81.2 69.6l2.3-2.3l-2.3-1.9l-2.3 2.3z"/>
<path color="#2c857f" d="M110.9 74l2.4-1.5l-2.3-2.6l-2.3 1.5z"/>
<path color="#2e986f" d="M90.4 69.4l2.3-2l-2.3-2.2l-2.3 2z"/>
<path color="#2e9970" d="M85.8 69.4l2.3-2.2l-2.3-2l-2.3 2.1z"/>
<path color="#31938e" d="M65.2 74.5l2.3-2.9l-2.3-1.8l-2.3 2.9z"/>
<path color="#2e8e7d" d="M106.4 73.1l2.3-1.7l-2.3-2.4l-2.3 1.6z"/>
<path color="#319685" d="M69.8 73.5l2.3-2.8l-2.3-1.8l-2.3 2.7z"/>
<path color="#2f967c" d="M101.8 72.4l2.3-1.8l-2.2-2.4l-2.3 1.8z"/>
<path color="#30987e" d="M74.3 72.7l2.3-2.6l-2.3-1.9l-2.2 2.5z"/>
<path color="#328ea0" d="M63 77.5l2.2-3l-2.3-1.8l-2.2 3z"/>
<path color="#2f9877" d="M97.2 71.9l2.4-1.9l-2.3-2.3l-2.3 1.9z"/>
<path color="#309a79" d="M78.9 72.1l2.3-2.5l-2.3-1.9l-2.3 2.4z"/>
<path color="#2f9976" d="M92.7 71.6l2.3-2l-2.3-2.2l-2.3 2z"/>
<path color="#309a77" d="M83.5 71.7l2.3-2.3l-2.3-2.1l-2.3 2.3z"/>
<path color="#2f9976" d="M88.1 71.6l2.3-2.2l-2.3-2.2l-2.3 2.2z"/>
<path color="#2e8889" d="M108.6 75.6l2.3-1.6l-2.2-2.6l-2.3 1.7z"/>
<path color="#329196" d="M67.5 76.3l2.3-2.8l-2.3-1.9l-2.3 2.9z"/>
<path color="#309188" d="M104.1 74.9l2.3-1.8l-2.3-2.5l-2.3 1.8z"/>
<path color="#31948e" d="M72.1 75.4l2.2-2.7l-2.2-2l-2.3 2.8z"/>
<path color="#309585" d="M99.5 74.3l2.3-1.9l-2.2-2.4l-2.4 1.9z"/>
<path color="#319688" d="M76.6 74.7l2.3-2.6l-2.3-2l-2.3 2.6z"/>
<path color="#309781" d="M94.9 74l2.3-2.1l-2.2-2.3l-2.3 2z"/>
<path color="#319783" d="M81.2 74.2l2.3-2.5l-2.3-2.1l-2.3 2.5z"/>
<path color="#328ba8" d="M65.2 79.4l2.3-3.1l-2.3-1.8l-2.2 3z"/>
<path color="#309780" d="M90.4 73.8l2.3-2.2l-2.3-2.2l-2.3 2.2z"/>
<path color="#309881" d="M85.8 73.9l2.3-2.3l-2.3-2.2l-2.3 2.3z"/>
<path color="#328e9f" d="M69.8 78.3l2.3-2.9l-2.3-1.9l-2.3 2.8z"/>
<path color="#308b95" d="M106.3 77.5l2.3-1.9l-2.2-2.5l-2.3 1.8z"/>
<path color="#319193" d="M101.8 76.8l2.3-1.9l-2.3-2.5l-2.3 1.9z"/>
<path color="#329197" d="M74.3 77.4l2.3-2.7l-2.3-2l-2.2 2.7z"/>
<path color="#31938f" d="M97.2 76.4l2.3-2.1l-2.3-2.4l-2.3 2.1z"/>
<path color="#319392" d="M78.9 76.8l2.3-2.6l-2.3-2.1l-2.3 2.6z"/>
<path color="#31948d" d="M92.6 76.2l2.3-2.2l-2.2-2.4l-2.3 2.2z"/>
<path color="#31948e" d="M83.5 76.4l2.3-2.5l-2.3-2.2l-2.3 2.5z"/>
<path color="#31948d" d="M88.1 76.2l2.3-2.4l-2.3-2.2l-2.3 2.3z"/>
<path color="#3382ad" d="M67.5 81.3l2.3-3l-2.3-2l-2.3 3.1z"/>
<path color="#328ba8" d="M72.1 80.4l2.2-3l-2.2-2l-2.3 2.9z"/>
<path color="#328da2" d="M104 79.4l2.3-1.9l-2.2-2.6l-2.3 1.9z"/>
<path color="#328da1" d="M76.6 79.6l2.3-2.8l-2.3-2.1l-2.3 2.7z"/>
<path color="#328f9d" d="M99.5 78.9l2.3-2.1l-2.3-2.5l-2.3 2.1z"/>
<path color="#328f9c" d="M81.2 79l2.3-2.6l-2.3-2.2l-2.3 2.6z"/>
<path color="#32909a" d="M94.9 78.6l2.3-2.2l-2.3-2.4l-2.3 2.2z"/>
<path color="#32909a" d="M85.8 78.7l2.3-2.5l-2.3-2.3l-2.3 2.5z"/>
<path color="#329099" d="M90.3 78.5l2.3-2.3l-2.2-2.4l-2.3 2.4z"/>
<path color="#3477b1" d="M69.8 83.4l2.3-3l-2.3-2.1l-2.3 3z"/>
<path color="#3380ad" d="M74.4 82.5l2.2-2.9l-2.3-2.2l-2.2 3z"/>
<path color="#3388aa" d="M101.7 81.6l2.3-2.2l-2.2-2.6l-2.3 2.1z"/>
<path color="#3388aa" d="M78.9 81.8l2.3-2.8l-2.3-2.2l-2.3 2.8z"/>
<path color="#328ba8" d="M97.1 81.2l2.4-2.3l-2.3-2.5l-2.3 2.2z"/>
<path color="#328ba8" d="M83.5 81.3l2.3-2.6l-2.3-2.3l-2.3 2.6z"/>
<path color="#328ca6" d="M92.6 81l2.3-2.4l-2.3-2.4l-2.3 2.3z"/>
<path color="#328ca6" d="M88 81.1l2.3-2.6l-2.2-2.3l-2.3 2.5z"/>
<path color="#366bb6" d="M72.1 85.6l2.3-3.1l-2.3-2.1l-2.3 3z"/>
<path color="#3574b2" d="M76.6 84.8l2.3-3l-2.3-2.2l-2.2 2.9z"/>
<path color="#347baf" d="M99.4 83.8l2.3-2.2l-2.2-2.7l-2.4 2.3z"/>
<path color="#347ab0" d="M81.2 84.2l2.3-2.9l-2.3-2.3l-2.3 2.8z"/>
<path color="#347eae" d="M94.8 83.6l2.3-2.4l-2.2-2.6l-2.3 2.4z"/>
<path color="#347eae" d="M85.7 83.8l2.3-2.7l-2.2-2.4l-2.3 2.6z"/>
<path color="#347fae" d="M90.3 83.6l2.3-2.6l-2.3-2.5l-2.3 2.6z"/>
<path color="#375fb9" d="M74.4 87.9l2.2-3.1l-2.2-2.3l-2.3 3.1z"/>
<path color="#3666b8" d="M78.9 87.1l2.3-2.9l-2.3-2.4l-2.3 3z"/>
<path color="#356db5" d="M97.1 86.3l2.3-2.5l-2.3-2.6l-2.3 2.4z"/>
<path color="#366bb6" d="M83.4 86.6l2.3-2.8l-2.2-2.5l-2.3 2.9z"/>
<path color="#356fb4" d="M92.5 86.2l2.3-2.6l-2.2-2.6l-2.3 2.6z"/>
<path color="#356eb5" d="M88 86.3l2.3-2.7l-2.3-2.5l-2.3 2.7z"/>
<path color="#3957b4" d="M76.6 90.3l2.3-3.2l-2.3-2.3l-2.2 3.1z"/>
<path color="#385bb6" d="M81.2 89.6l2.2-3l-2.2-2.4l-2.3 2.9z"/>
<path color="#375fb9" d="M94.8 88.9l2.3-2.6l-2.3-2.7l-2.3 2.6z"/>
<path color="#375eb8" d="M85.7 89.1l2.3-2.8l-2.3-2.5l-2.3 2.8z"/>
<path color="#375fb9" d="M90.2 88.9l2.3-2.7l-2.2-2.6l-2.3 2.7z"/>
<path color="#3c4eae" d="M78.9 92.8l2.3-3.2l-2.3-2.5l-2.3 3.2z"/>
<path color="#3b51b0" d="M83.4 92.2l2.3-3.1l-2.3-2.5l-2.2 3z"/>
<path color="#3a54b2" d="M92.5 91.6l2.3-2.7l-2.3-2.7l-2.3 2.7z"/>
<path color="#3a53b2" d="M88 91.8l2.2-2.9l-2.2-2.6l-2.3 2.8z"/>
<path color="#3f44a8" d="M81.2 95.4l2.2-3.2l-2.2-2.6l-2.3 3.2z"/>
<path color="#3e47aa" d="M85.7 94.8l2.3-3l-2.3-2.7l-2.3 3.1z"/>
<path color="#3d49ab" d="M90.2 94.5l2.3-2.9l-2.3-2.7l-2.2 2.9z"/>
<path color="#3e3d9f" d="M83.4 98.1l2.3-3.3l-2.3-2.6l-2.2 3.2z"/>
<path color="#3f3ea1" d="M87.9 97.6l2.3-3.1l-2.2-2.7l-2.3 3z"/>
<path color="#3e3595" d="M85.7 100.8l2.2-3.2l-2.2-2.8l-2.3 3.3z"/>
</g>
<line x1="28.2" y1="95.5" x2="26.9" y2="96.4" stroke="#444" stroke-width="0.40" opacity="1.00"/>
<text x="21.8" y="98.5" font-size="3.65" font-family="Liberation Sans, sans-serif" text-anchor="middle" fill="#222" stroke="#222" stroke-width=".12">57.5</text>
<line x1="39.7" y1="101.0" x2="38.4" y2="101.9" stroke="#444" stroke-width="0.40" opacity="1.00"/>
<text x="33.3" y="104.0" font-size="3.65" font-family="Liberation Sans, sans-serif" text-anchor="middle" fill="#222" stroke="#222" stroke-width=".12">54.5</text>
<line x1="51.2" y1="106.5" x2="49.9" y2="107.4" stroke="#444" stroke-width="0.40" opacity="1.00"/>
<text x="44.8" y="109.5" font-size="3.65" font-family="Liberation Sans, sans-serif" text-anchor="middle" fill="#222" stroke="#222" stroke-width=".12">51.5</text>
<line x1="62.6" y1="112.0" x2="61.3" y2="112.9" stroke="#444" stroke-width="0.40" opacity="1.00"/>
<text x="56.2" y="115.0" font-size="3.65" font-family="Liberation Sans, sans-serif" text-anchor="middle" fill="#222" stroke="#222" stroke-width=".12">48.5</text>
<line x1="74.1" y1="117.5" x2="72.8" y2="118.4" stroke="#444" stroke-width="0.40" opacity="1.00"/>
<text x="67.7" y="120.5" font-size="3.65" font-family="Liberation Sans, sans-serif" text-anchor="middle" fill="#222" stroke="#222" stroke-width=".12">45.5</text>
<line x1="85.6" y1="123.0" x2="84.3" y2="123.9" stroke="#444" stroke-width="0.40" opacity="1.00"/>
<text x="79.2" y="126.0" font-size="3.65" font-family="Liberation Sans, sans-serif" text-anchor="middle" fill="#222" stroke="#222" stroke-width=".12">42.5</text>
<line x1="85.6" y1="123.0" x2="86.9" y2="123.9" stroke="#444" stroke-width="0.40" opacity="1.00"/>
<text x="90.4" y="126.3" font-size="3.65" font-family="Liberation Sans, sans-serif" text-anchor="middle" fill="#222" stroke="#222" stroke-width=".12">150</text>
<line x1="100.0" y1="116.1" x2="101.3" y2="117.0" stroke="#444" stroke-width="0.40" opacity="1.00"/>
<text x="104.8" y="119.4" font-size="3.65" font-family="Liberation Sans, sans-serif" text-anchor="middle" fill="#222" stroke="#222" stroke-width=".12">155</text>
<line x1="114.5" y1="109.2" x2="115.8" y2="110.2" stroke="#444" stroke-width="0.40" opacity="1.00"/>
<text x="119.3" y="112.5" font-size="3.65" font-family="Liberation Sans, sans-serif" text-anchor="middle" fill="#222" stroke="#222" stroke-width=".12">160</text>
<line x1="129.0" y1="102.4" x2="130.3" y2="103.3" stroke="#444" stroke-width="0.40" opacity="1.00"/>
<text x="133.8" y="105.7" font-size="3.65" font-family="Liberation Sans, sans-serif" text-anchor="middle" fill="#222" stroke="#222" stroke-width=".12">165</text>
<line x1="143.4" y1="95.5" x2="144.7" y2="96.4" stroke="#444" stroke-width="0.40" opacity="1.00"/>
<text x="148.2" y="98.8" font-size="3.65" font-family="Liberation Sans, sans-serif" text-anchor="middle" fill="#222" stroke="#222" stroke-width=".12">170</text>
<text transform="translate(45.4 116.5) rotate(25.4)" font-size="5.08" font-family="Liberation Serif, serif" text-anchor="middle" fill="#222">B:Inclination angle of cutting edge/°</text>
<text transform="translate(127.3 119.2) rotate(-27.2)" font-size="5.24" font-family="Liberation Serif, serif" text-anchor="middle" fill="#222">A:Radius of gyration/mm</text>
<text transform="translate(7.5 53.9) rotate(-90.0)" font-size="7.23" font-family="Liberation Serif, serif" text-anchor="middle" fill="#222">Working resistance/N</text>
<circle cx="26.1" cy="62.0" r="1.1" fill="#a01818"/>
<circle cx="85.5" cy="39.8" r="1.1" fill="#a01818"/>
<circle cx="144.8" cy="65.9" r="1.1" fill="#a01818"/>
<circle cx="85.7" cy="99.7" r="1.1" fill="#a01818"/></g>
<g id="s1"><line x1="214.8" y1="96.3" x2="210.4" y2="20.3" stroke="#454545" stroke-width="0.55" opacity="1.00"/>
<line x1="229.4" y1="72.6" x2="226.9" y2="16.8" stroke="#454545" stroke-width="0.55" opacity="1.00"/>
<line x1="245.1" y1="67.9" x2="243.4" y2="13.4" stroke="#454545" stroke-width="0.55" opacity="1.00"/>
<line x1="260.8" y1="63.2" x2="259.9" y2="9.9" stroke="#454545" stroke-width="0.55" opacity="1.00"/>
<line x1="276.5" y1="75.9" x2="276.4" y2="6.4" stroke="#454545" stroke-width="0.55" opacity="1.00"/>
<line x1="338.2" y1="96.2" x2="342.4" y2="20.3" stroke="#454545" stroke-width="0.55" opacity="1.00"/>
<line x1="323.6" y1="72.5" x2="325.9" y2="16.8" stroke="#454545" stroke-width="0.55" opacity="1.00"/>
<line x1="307.9" y1="67.9" x2="309.4" y2="13.4" stroke="#454545" stroke-width="0.55" opacity="1.00"/>
<line x1="292.2" y1="63.2" x2="292.9" y2="9.9" stroke="#454545" stroke-width="0.55" opacity="1.00"/>
<line x1="276.5" y1="75.9" x2="276.4" y2="6.4" stroke="#454545" stroke-width="0.55" opacity="1.00"/>
<line x1="213.7" y1="77.3" x2="276.5" y2="58.5" stroke="#454545" stroke-width="0.55" opacity="1.00"/>
<line x1="276.5" y1="58.5" x2="339.2" y2="77.2" stroke="#454545" stroke-width="0.55" opacity="1.00"/>
<line x1="212.2" y1="77.3" x2="213.7" y2="77.3" stroke="#454545" stroke-width="0.55" opacity="1.00"/>
<text x="210.7" y="76.8" font-size="3.4" font-family="Liberation Sans, sans-serif" text-anchor="end" fill="#222" stroke="#222" stroke-width=".12">1400</text>
<line x1="213.2" y1="67.8" x2="276.5" y2="49.8" stroke="#454545" stroke-width="0.55" opacity="1.00"/>
<line x1="276.5" y1="49.8" x2="339.8" y2="67.7" stroke="#454545" stroke-width="0.55" opacity="1.00"/>
<line x1="211.7" y1="67.8" x2="213.2" y2="67.8" stroke="#454545" stroke-width="0.55" opacity="1.00"/>
<text x="210.2" y="67.3" font-size="3.4" font-family="Liberation Sans, sans-serif" text-anchor="end" fill="#222" stroke="#222" stroke-width=".12">1500</text>
<line x1="212.6" y1="58.3" x2="276.4" y2="41.2" stroke="#454545" stroke-width="0.55" opacity="1.00"/>
<line x1="276.4" y1="41.2" x2="340.3" y2="58.2" stroke="#454545" stroke-width="0.55" opacity="1.00"/>
<line x1="211.1" y1="58.3" x2="212.6" y2="58.3" stroke="#454545" stroke-width="0.55" opacity="1.00"/>
<text x="209.6" y="57.8" font-size="3.4" font-family="Liberation Sans, sans-serif" text-anchor="end" fill="#222" stroke="#222" stroke-width=".12">1600</text>
<line x1="212.1" y1="48.8" x2="276.4" y2="32.5" stroke="#454545" stroke-width="0.55" opacity="1.00"/>
<line x1="276.4" y1="32.5" x2="340.8" y2="48.8" stroke="#454545" stroke-width="0.55" opacity="1.00"/>
<line x1="210.6" y1="48.8" x2="212.1" y2="48.8" stroke="#454545" stroke-width="0.55" opacity="1.00"/>
<text x="209.1" y="48.3" font-size="3.4" font-family="Liberation Sans, sans-serif" text-anchor="end" fill="#222" stroke="#222" stroke-width=".12">1700</text>
<line x1="211.5" y1="39.3" x2="276.4" y2="23.8" stroke="#454545" stroke-width="0.55" opacity="1.00"/>
<line x1="276.4" y1="23.8" x2="341.3" y2="39.3" stroke="#454545" stroke-width="0.55" opacity="1.00"/>
<line x1="210.0" y1="39.3" x2="211.5" y2="39.3" stroke="#454545" stroke-width="0.55" opacity="1.00"/>
<text x="208.5" y="38.8" font-size="3.4" font-family="Liberation Sans, sans-serif" text-anchor="end" fill="#222" stroke="#222" stroke-width=".12">1800</text>
<line x1="210.9" y1="29.8" x2="276.4" y2="15.1" stroke="#454545" stroke-width="0.55" opacity="1.00"/>
<line x1="276.4" y1="15.1" x2="341.9" y2="29.8" stroke="#454545" stroke-width="0.55" opacity="1.00"/>
<line x1="209.4" y1="29.8" x2="210.9" y2="29.8" stroke="#454545" stroke-width="0.55" opacity="1.00"/>
<text x="207.9" y="29.3" font-size="3.4" font-family="Liberation Sans, sans-serif" text-anchor="end" fill="#222" stroke="#222" stroke-width=".12">1900</text>
<line x1="210.4" y1="20.3" x2="276.4" y2="6.4" stroke="#454545" stroke-width="0.55" opacity="1.00"/>
<line x1="276.4" y1="6.4" x2="342.4" y2="20.3" stroke="#454545" stroke-width="0.55" opacity="1.00"/>
<line x1="208.9" y1="20.3" x2="210.4" y2="20.3" stroke="#454545" stroke-width="0.55" opacity="1.00"/>
<text x="207.4" y="19.8" font-size="3.4" font-family="Liberation Sans, sans-serif" text-anchor="end" fill="#222" stroke="#222" stroke-width=".12">2000</text>
<polygon points="214.8,96.3 276.5,75.9 338.2,96.2 276.6,122.9" fill="#ffff00" stroke="#777" stroke-width="0.3"/>
<path d="M237.4 106.0 L239.6 106.4 L241.2 106.7 L243.9 107.1 L245.7 107.5 L247.4 107.8 L250.1 108.3 L251.5 108.6 L254.3 109.3 L255.8 109.6 L258.2 110.3 L260.7 111.0 L262.0 111.4 L264.3 112.2 L266.5 113.0 L268.6 113.9 L270.6 114.8 L272.6 115.7 L273.7 116.4 L275.3 117.2 L276.9 118.3 L278.1 119.1 L279.3 119.9 L280.8 121.1" fill="none" stroke="#19fe83" stroke-width="0.55" opacity="0.7"/>
<path d="M337.7 96.0 L335.2 96.0 L333.2 96.0 L331.4 95.9 L329.7 95.9 L327.4 95.8 L324.6 95.6 L323.0 95.5 L321.4 95.4 L318.4 95.1 L317.0 94.9 L314.3 94.4 L313.0 94.1 L310.6 93.5 L308.5 92.8 L306.6 92.0 L305.3 91.4 L304.1 90.7 L302.7 89.8 L302.0 89.2 L301.2 88.5 L300.3 87.6 L299.7 87.1 L299.0 86.2 L298.3 85.4 L297.8 84.8 L297.4 84.2 L296.8 83.3 L296.2 82.5" fill="none" stroke="#3afe00" stroke-width="0.55" opacity="0.7"/>
<path d="M221.3 99.1 L223.5 99.2 L225.7 99.4 L227.9 99.5 L230.2 99.7 L232.4 99.8 L234.7 99.9 L236.7 100.1 L238.6 100.2 L240.5 100.3 L242.4 100.4 L244.4 100.5 L246.2 100.7 L248.5 100.8 L250.9 101.0 L253.3 101.1 L255.6 101.3 L257.4 101.4 L259.2 101.6 L260.9 101.7 L263.3 101.9 L266.0 102.2 L267.8 102.4 L269.4 102.6 L272.0 102.9 L274.0 103.2 L275.5 103.5 L278.2 104.1 L280.5 104.6 L281.9 105.1 L284.1 105.8 L286.1 106.7 L287.0 107.2 L288.6 108.2 L289.8 109.1 L290.7 109.9 L291.5 110.6 L292.5 111.7 L293.0 112.3 L293.7 113.2 L294.5 114.3 L294.9 114.9" fill="none" stroke="#3afe00" stroke-width="0.55" opacity="0.7"/>
<path d="M220.8 94.3 L223.2 94.3 L225.0 94.3 L226.9 94.3 L228.7 94.3 L230.5 94.2 L232.9 94.2 L235.5 94.1 L237.6 94.0 L239.4 93.9 L241.1 93.8 L243.5 93.7 L246.1 93.5 L247.7 93.3 L249.5 93.2 L252.3 92.8 L253.8 92.6 L256.6 92.2 L258.0 92.0 L260.6 91.4 L261.9 91.1 L264.2 90.5 L266.4 89.7 L268.3 88.9 L269.2 88.5 L270.8 87.6 L272.2 86.7 L272.9 86.1 L273.7 85.4 L274.6 84.5 L275.1 83.9 L275.6 83.3 L276.2 82.4 L276.6 81.6 L276.9 81.0 L277.2 80.3 L277.4 79.7 L277.7 79.0 L277.9 78.2 L278.0 77.5 L278.2 76.7" fill="none" stroke="#defe00" stroke-width="0.55" opacity="0.7"/>
<path d="M246.8 85.7 L248.4 85.3 L250.5 84.6 L252.4 83.9" fill="none" stroke="#fe7b00" stroke-width="0.55" opacity="0.7"/>
<g class="q">
<path color="#212c0e" d="M276.4 24.1l2.5 .7l-2.5-2.2l-2.5-.7z"/>
<path color="#15260d" d="M278.9 26.2l2.5 .7l-2.5-2.1l-2.5-.7z"/>
<path color="#303510" d="M273.9 23.5l2.5 .6l-2.5-2.2l-2.5-.5z"/>
<path color="#0c1f0b" d="M281.4 28.2l2.5 .7l-2.5-2l-2.5-.7z"/>
<path color="#243110" d="M276.4 25.6l2.5 .6l-2.5-2.1l-2.5-.6z"/>
<path color="#3f3e12" d="M271.4 23.1l2.5 .4l-2.5-2.1l-2.5-.5z"/>
<path color="#061608" d="M283.9 30.1l2.5 .8l-2.5-2l-2.5-.7z"/>
<path color="#1a2c0f" d="M278.9 27.6l2.5 .6l-2.5-2l-2.5-.6z"/>
<path color="#343b12" d="M273.9 25.2l2.5 .4l-2.5-2.1l-2.5-.4z"/>
<path color="#020b05" d="M286.4 32l2.4 .7l-2.4-1.8l-2.5-.8z"/>
<path color="#4e4214" d="M268.9 22.7l2.5 .4l-2.5-2.2l-2.5-.4z"/>
<path color="#10260d" d="M281.4 29.5l2.5 .6l-2.5-1.9l-2.5-.6z"/>
<path color="#2a3812" d="M276.4 27.2l2.5 .4l-2.5-2l-2.5-.4z"/>
<path color="#000000" d="M288.9 33.7l2.4 .8l-2.5-1.8l-2.4-.7z"/>
<path color="#444514" d="M271.4 24.8l2.5 .4l-2.5-2.1l-2.5-.4z"/>
<path color="#584615" d="M266.4 22.5l2.5 .2l-2.5-2.2l-2.5-.2z"/>
<path color="#0a1f0b" d="M283.9 31.4l2.5 .6l-2.5-1.9l-2.5-.6z"/>
<path color="#203411" d="M278.9 29.1l2.5 .4l-2.5-1.9l-2.5-.4z"/>
<path color="#000000" d="M291.3 35.4l2.5 .8l-2.5-1.7l-2.4-.8z"/>
<path color="#3a4314" d="M273.9 26.8l2.5 .4l-2.5-2l-2.5-.4z"/>
<path color="#514c16" d="M268.9 24.6l2.5 .2l-2.5-2.1l-2.5-.2z"/>
<path color="#051609" d="M286.4 33.1l2.5 .6l-2.5-1.7l-2.5-.6z"/>
<path color="#634817" d="M263.9 22.4l2.5 .1l-2.5-2.2l-2.6-.2z"/>
<path color="#173010" d="M281.4 30.9l2.5 .5l-2.5-1.9l-2.5-.4z"/>
<path color="#000000" d="M293.8 37l2.4 .7l-2.4-1.5l-2.5-.8z"/>
<path color="#314114" d="M276.4 28.8l2.5 .3l-2.5-1.9l-2.5-.4z"/>
<path color="#494c16" d="M271.4 26.7l2.5 .1l-2.5-2l-2.5-.2z"/>
<path color="#010b05" d="M288.9 34.8l2.4 .6l-2.4-1.7l-2.5-.6z"/>
<path color="#5d4f17" d="M266.4 24.5l2.5 .1l-2.5-2.1l-2.5-.1z"/>
<path color="#112a0f" d="M283.9 32.7l2.5 .4l-2.5-1.7l-2.5-.5z"/>
<path color="#6c4918" d="M261.3 22.4l2.6 0l-2.6-2.3l-2.5 0z"/>
<path color="#000000" d="M296.3 38.5l2.4 .7l-2.5-1.5l-2.4-.7z"/>
<path color="#283e14" d="M278.9 30.6l2.5 .3l-2.5-1.8l-2.5-.3z"/>
<path color="#404a17" d="M273.9 28.6l2.5 .2l-2.5-2l-2.5-.1z"/>
<path color="#000000" d="M291.3 36.4l2.5 .6l-2.5-1.6l-2.4-.6z"/>
<path color="#555318" d="M268.9 26.6l2.5 .1l-2.5-2.1l-2.5-.1z"/>
<path color="#0b230d" d="M286.4 34.4l2.5 .4l-2.5-1.7l-2.5-.4z"/>
<path color="#675219" d="M263.9 24.5l2.5 0l-2.5-2.1l-2.6 0z"/>
<path color="#000000" d="M298.7 39.9l2.5 .8l-2.5-1.5l-2.4-.7z"/>
<path color="#203b14" d="M281.4 32.4l2.5 .3l-2.5-1.8l-2.5-.3z"/>
<path color="#744918" d="M258.8 22.5l2.5-.1l-2.5-2.3l-2.5 .1z"/>
<path color="#384917" d="M276.4 30.5l2.5 .1l-2.5-1.8l-2.5-.2z"/>
<path color="#000000" d="M293.8 37.8l2.5 .7l-2.5-1.5l-2.5-.6z"/>
<path color="#4d5219" d="M271.4 28.6l2.5 0l-2.5-1.9l-2.5-.1z"/>
<path color="#061b0a" d="M288.9 35.9l2.4 .5l-2.4-1.6l-2.5-.4z"/>
<path color="#605919" d="M266.4 26.6l2.5 0l-2.5-2.1l-2.5 0z"/>
<path color="#000000" d="M301.2 41.2l2.4 .8l-2.4-1.3l-2.5-.8z"/>
<path color="#6f551a" d="M261.4 24.7l2.5-.2l-2.6-2.1l-2.5 .1z"/>
<path color="#1a3713" d="M283.9 34.1l2.5 .3l-2.5-1.7l-2.5-.3z"/>
<path color="#7b4919" d="M256.3 22.7l2.5-.2l-2.5-2.3l-2.5 .2z"/>
<path color="#2f4717" d="M278.9 32.3l2.5 .1l-2.5-1.8l-2.5-.1z"/>
<path color="#000000" d="M296.3 39.2l2.4 .7l-2.4-1.4l-2.5-.7z"/>
<path color="#455119" d="M273.9 30.5l2.5 0l-2.5-1.9l-2.5 0z"/>
<path color="#031007" d="M291.3 37.4l2.5 .4l-2.5-1.4l-2.4-.5z"/>
<path color="#595a1a" d="M268.9 28.6l2.5 0l-2.5-2l-2.5 0z"/>
<path color="#000000" d="M303.6 42.4l2.5 .8l-2.5-1.2l-2.4-.8z"/>
<path color="#6a5d1b" d="M263.9 26.8l2.5-.2l-2.5-2.1l-2.5 .2z"/>
<path color="#143212" d="M286.4 35.7l2.5 .2l-2.5-1.5l-2.5-.3z"/>
<path color="#77571b" d="M258.9 24.9l2.5-.2l-2.6-2.2l-2.5 .2z"/>
<path color="#284517" d="M281.4 34l2.5 .1l-2.5-1.7l-2.5-.1z"/>
<path color="#814a1a" d="M253.8 23.1l2.5-.4l-2.5-2.3l-2.6 .4z"/>
<path color="#000000" d="M298.7 40.5l2.5 .7l-2.5-1.3l-2.4-.7z"/>
<path color="#3e5019" d="M276.4 32.3l2.5 0l-2.5-1.8l-2.5 0z"/>
<path color="#000302" d="M293.8 38.8l2.5 .4l-2.5-1.4l-2.5-.4z"/>
<path color="#52591b" d="M271.4 30.6l2.5-.1l-2.5-1.9l-2.5 0z"/>
<path color="#000000" d="M306.1 43.5l2.4 .8l-2.4-1.1l-2.5-.8z"/>
<path color="#63601c" d="M266.4 28.8l2.5-.2l-2.5-2l-2.5 .2z"/>
<path color="#0f2c11" d="M288.9 37.2l2.4 .2l-2.4-1.5l-2.5-.2z"/>
<path color="#72601c" d="M261.4 27.1l2.5-.3l-2.5-2.1l-2.5 .2z"/>
<path color="#224217" d="M283.9 35.6l2.5 .1l-2.5-1.6l-2.5-.1z"/>
<path color="#7f5a1c" d="M256.3 25.3l2.6-.4l-2.6-2.2l-2.5 .4z"/>
<path color="#000000" d="M301.2 41.8l2.4 .6l-2.4-1.2l-2.5-.7z"/>
<path color="#884b1a" d="M251.3 23.6l2.5-.5l-2.6-2.3l-2.5 .4z"/>
<path color="#354f1a" d="M278.9 34l2.5 0l-2.5-1.7l-2.5 0z"/>
<path color="#000000" d="M296.3 40.1l2.4 .4l-2.4-1.3l-2.5-.4z"/>
<path color="#4a591c" d="M273.9 32.4l2.5-.1l-2.5-1.8l-2.5 .1z"/>
<path color="#5c601d" d="M268.9 30.8l2.5-.2l-2.5-2l-2.5 .2z"/>
<path color="#000000" d="M308.6 44.5l2.4 .9l-2.5-1.1l-2.4-.8z"/>
<path color="#0a250e" d="M291.3 38.6l2.5 .2l-2.5-1.4l-2.4-.2z"/>
<path color="#6c671d" d="M263.9 29.1l2.5-.3l-2.5-2l-2.5 .3z"/>
<path color="#1c3e16" d="M286.4 37.1l2.5 .1l-2.5-1.5l-2.5-.1z"/>
<path color="#79641d" d="M258.9 27.5l2.5-.4l-2.5-2.2l-2.6 .4z"/>
<path color="#000000" d="M303.7 42.9l2.4 .6l-2.5-1.1l-2.4-.6z"/>
<path color="#865e1d" d="M253.8 25.8l2.5-.5l-2.5-2.2l-2.5 .5z"/>
<path color="#2e4d1a" d="M281.4 35.6l2.5 0l-2.5-1.6l-2.5 0z"/>
<path color="#8e4e1b" d="M248.8 24.2l2.5-.6l-2.6-2.4l-2.5 .6z"/>
<path color="#000000" d="M298.7 41.4l2.5 .4l-2.5-1.3l-2.4-.4z"/>
<path color="#42581c" d="M276.4 34.1l2.5-.1l-2.5-1.7l-2.5 .1z"/>
<path color="#56601d" d="M271.4 32.6l2.5-.2l-2.5-1.8l-2.5 .2z"/>
<path color="#000000" d="M311 45.5l2.4 .8l-2.4-.9l-2.4-.9z"/>
<path color="#061c0b" d="M293.8 40l2.5 .1l-2.5-1.3l-2.5-.2z"/>
<path color="#66671e" d="M266.4 31.1l2.5-.3l-2.5-2l-2.5 .3z"/>
<path color="#173915" d="M288.9 38.6l2.4 0l-2.4-1.4l-2.5-.1z"/>
<path color="#746c1f" d="M261.4 29.6l2.5-.5l-2.5-2l-2.5 .4z"/>
<path color="#000000" d="M306.1 43.9l2.5 .6l-2.5-1l-2.4-.6z"/>
<path color="#80681f" d="M256.4 28l2.5-.5l-2.6-2.2l-2.5 .5z"/>
<path color="#284a1a" d="M283.9 37.2l2.5-.1l-2.5-1.5l-2.5 0z"/>
<path color="#8c621f" d="M251.3 26.5l2.5-.7l-2.5-2.2l-2.5 .6z"/>
<path color="#93521d" d="M246.3 24.9l2.5-.7l-2.6-2.4l-2.5 .7z"/>
<path color="#000000" d="M301.2 42.5l2.5 .4l-2.5-1.1l-2.5-.4z"/>
<path color="#3b571c" d="M278.9 35.8l2.5-.2l-2.5-1.6l-2.5 .1z"/>
<path color="#4f601e" d="M273.9 34.4l2.5-.3l-2.5-1.7l-2.5 .2z"/>
<path color="#000000" d="M313.5 46.3l2.4 .9l-2.5-.9l-2.4-.8z"/>
<path color="#021108" d="M296.3 41.2l2.4 .2l-2.4-1.3l-2.5-.1z"/>
<path color="#60671f" d="M268.9 33l2.5-.4l-2.5-1.8l-2.5 .3z"/>
<path color="#123313" d="M291.3 39.9l2.5 .1l-2.5-1.4l-2.4 0z"/>
<path color="#6f6d20" d="M263.9 31.5l2.5-.4l-2.5-2l-2.5 .5z"/>
<path color="#000000" d="M308.6 44.8l2.4 .7l-2.4-1l-2.5-.6z"/>
<path color="#7a7220" d="M258.9 30.1l2.5-.5l-2.5-2.1l-2.5 .5z"/>
<path color="#224719" d="M286.4 38.6l2.5 0l-2.5-1.5l-2.5 .1z"/>
<path color="#866d20" d="M253.9 28.7l2.5-.7l-2.6-2.2l-2.5 .7z"/>
<path color="#916620" d="M248.8 27.2l2.5-.7l-2.5-2.3l-2.5 .7z"/>
<path color="#98581e" d="M243.7 25.8l2.6-.9l-2.6-2.4l-2.5 .9z"/>
<path color="#000000" d="M303.7 43.5l2.4 .4l-2.4-1l-2.5-.4z"/>
<path color="#34551d" d="M281.4 37.4l2.5-.2l-2.5-1.6l-2.5 .2z"/>
<path color="#475f1f" d="M276.4 36.1l2.5-.3l-2.5-1.7l-2.5 .3z"/>
<path color="#000402" d="M298.8 42.3l2.4 .2l-2.5-1.1l-2.4-.2z"/>
<path color="#000000" d="M316 47l2.4 .9l-2.5-.7l-2.4-.9z"/>
<path color="#5a6720" d="M271.4 34.8l2.5-.4l-2.5-1.8l-2.5 .4z"/>
<path color="#696e21" d="M266.4 33.4l2.5-.4l-2.5-1.9l-2.5 .4z"/>
<path color="#0d2c11" d="M293.8 41.2l2.5 0l-2.5-1.2l-2.5-.1z"/>
<path color="#767321" d="M261.4 32.1l2.5-.6l-2.5-1.9l-2.5 .5z"/>
<path color="#000000" d="M311.1 45.7l2.4 .6l-2.5-.8l-2.4-.7z"/>
<path color="#807721" d="M256.4 30.8l2.5-.7l-2.5-2.1l-2.5 .7z"/>
<path color="#1d4318" d="M288.9 40l2.4-.1l-2.4-1.3l-2.5 0z"/>
<path color="#8b7221" d="M251.4 29.5l2.5-.8l-2.6-2.2l-2.5 .7z"/>
<path color="#956c21" d="M246.3 28.1l2.5-.9l-2.5-2.3l-2.6 .9z"/>
<path color="#9d5f20" d="M241.2 26.8l2.5-1l-2.5-2.4l-2.5 .9z"/>
<path color="#2e531c" d="M283.9 38.8l2.5-.2l-2.5-1.4l-2.5 .2z"/>
<path color="#000000" d="M306.2 44.5l2.4 .3l-2.5-.9l-2.4-.4z"/>
<path color="#405e1f" d="M278.9 37.7l2.5-.3l-2.5-1.6l-2.5 .3z"/>
<path color="#000000" d="M301.2 43.4l2.5 .1l-2.5-1l-2.4-.2z"/>
<path color="#000000" d="M318.4 47.7l2.4 .9l-2.4-.7l-2.4-.9z"/>
<path color="#526721" d="M273.9 36.5l2.5-.4l-2.5-1.7l-2.5 .4z"/>
<path color="#646e22" d="M269 35.3l2.4-.5l-2.5-1.8l-2.5 .4z"/>
<path color="#08240f" d="M296.3 42.3l2.5 0l-2.5-1.1l-2.5 0z"/>
<path color="#717422" d="M263.9 34l2.5-.6l-2.5-1.9l-2.5 .6z"/>
<path color="#000000" d="M313.5 46.4l2.5 .6l-2.5-.7l-2.4-.6z"/>
<path color="#7b7923" d="M258.9 32.8l2.5-.7l-2.5-2l-2.5 .7z"/>
<path color="#183d17" d="M291.3 41.3l2.5-.1l-2.5-1.3l-2.4 .1z"/>
<path color="#857c23" d="M253.9 31.6l2.5-.8l-2.5-2.1l-2.5 .8z"/>
<path color="#8f7823" d="M248.9 30.4l2.5-.9l-2.6-2.3l-2.5 .9z"/>
<path color="#997222" d="M243.8 29.1l2.5-1l-2.6-2.3l-2.5 1z"/>
<path color="#a16922" d="M238.8 27.9l2.4-1.1l-2.5-2.5l-2.5 1.1z"/>
<path color="#28501c" d="M286.4 40.2l2.5-.2l-2.5-1.4l-2.5 .2z"/>
<path color="#000000" d="M308.6 45.3l2.5 .4l-2.5-.9l-2.4-.3z"/>
<path color="#3a5d1f" d="M281.4 39.2l2.5-.4l-2.5-1.4l-2.5 .3z"/>
<path color="#000000" d="M303.7 44.3l2.5 .2l-2.5-1l-2.5-.1z"/>
<path color="#000000" d="M320.9 48.2l2.4 1l-2.5-.6l-2.4-.9z"/>
<path color="#4b6721" d="M276.4 38.1l2.5-.4l-2.5-1.6l-2.5 .4z"/>
<path color="#5d6e23" d="M271.5 37l2.4-.5l-2.5-1.7l-2.4 .5z"/>
<path color="#041a0b" d="M298.8 43.4l2.4 0l-2.4-1.1l-2.5 0z"/>
<path color="#6d7424" d="M266.5 35.9l2.5-.6l-2.6-1.9l-2.5 .6z"/>
<path color="#000000" d="M316 47.1l2.4 .6l-2.4-.7l-2.5-.6z"/>
<path color="#777a24" d="M261.4 34.8l2.5-.8l-2.5-1.9l-2.5 .7z"/>
<path color="#133715" d="M293.8 42.5l2.5-.2l-2.5-1.1l-2.5 .1z"/>
<path color="#807e24" d="M256.4 33.7l2.5-.9l-2.5-2l-2.5 .8z"/>
<path color="#898124" d="M251.4 32.5l2.5-.9l-2.5-2.1l-2.5 .9z"/>
<path color="#927f24" d="M246.4 31.4l2.5-1l-2.6-2.3l-2.5 1z"/>
<path color="#a47324" d="M236.3 29.1l2.5-1.2l-2.6-2.5l-2.5 1.2z"/>
<path color="#9b7924" d="M241.3 30.3l2.5-1.2l-2.6-2.3l-2.4 1.1z"/>
<path color="#234c1b" d="M288.9 41.5l2.4-.2l-2.4-1.3l-2.5 .2z"/>
<path color="#000000" d="M311.1 46l2.4 .4l-2.4-.7l-2.5-.4z"/>
<path color="#345b1f" d="M283.9 40.6l2.5-.4l-2.5-1.4l-2.5 .4z"/>
<path color="#000000" d="M306.2 45.2l2.4 .1l-2.4-.8l-2.5-.2z"/>
<path color="#456622" d="M278.9 39.6l2.5-.4l-2.5-1.5l-2.5 .4z"/>
<path color="#000000" d="M323.4 48.7l2.4 .9l-2.5-.4l-2.4-1z"/>
<path color="#566f24" d="M274 38.6l2.4-.5l-2.5-1.6l-2.4 .5z"/>
<path color="#010d06" d="M301.2 44.4l2.5-.1l-2.5-.9l-2.4 0z"/>
<path color="#667525" d="M269 37.6l2.5-.6l-2.5-1.7l-2.5 .6z"/>
<path color="#727b25" d="M264 36.6l2.5-.7l-2.6-1.9l-2.5 .8z"/>
<path color="#000000" d="M318.5 47.6l2.4 .6l-2.5-.5l-2.4-.6z"/>
<path color="#7c7f26" d="M259 35.6l2.4-.8l-2.5-2l-2.5 .9z"/>
<path color="#0e3013" d="M296.3 43.5l2.5-.1l-2.5-1.1l-2.5 .2z"/>
<path color="#848326" d="M253.9 34.6l2.5-.9l-2.5-2.1l-2.5 .9z"/>
<path color="#a57c25" d="M233.8 30.5l2.5-1.4l-2.6-2.5l-2.5 1.4z"/>
<path color="#8c8626" d="M248.9 33.6l2.5-1.1l-2.5-2.1l-2.5 1z"/>
<path color="#9d8225" d="M238.8 31.6l2.5-1.3l-2.5-2.4l-2.5 1.2z"/>
<path color="#958726" d="M243.9 32.6l2.5-1.2l-2.6-2.3l-2.5 1.2z"/>
<path color="#1e471a" d="M291.3 42.7l2.5-.2l-2.5-1.2l-2.4 .2z"/>
<path color="#000000" d="M313.6 46.7l2.4 .4l-2.5-.7l-2.4-.4z"/>
<path color="#2e581f" d="M286.4 41.9l2.5-.4l-2.5-1.3l-2.5 .4z"/>
<path color="#3e6522" d="M281.4 41l2.5-.4l-2.5-1.4l-2.5 .4z"/>
<path color="#000000" d="M308.6 45.9l2.5 .1l-2.5-.7l-2.4-.1z"/>
<path color="#000000" d="M325.9 49l2.3 1l-2.4-.4l-2.4-.9z"/>
<path color="#4f6f24" d="M276.4 40.2l2.5-.6l-2.5-1.5l-2.4 .5z"/>
<path color="#000000" d="M303.7 45.2l2.5 0l-2.5-.9l-2.5 .1z"/>
<path color="#5f7626" d="M271.5 39.3l2.5-.7l-2.5-1.6l-2.5 .6z"/>
<path color="#6d7c27" d="M266.5 38.4l2.5-.8l-2.5-1.7l-2.5 .7z"/>
<path color="#778027" d="M261.5 37.5l2.5-.9l-2.6-1.8l-2.4 .8z"/>
<path color="#000000" d="M321 48l2.4 .7l-2.5-.5l-2.4-.6z"/>
<path color="#a58627" d="M231.3 32l2.5-1.5l-2.6-2.5l-2.5 1.5z"/>
<path color="#092610" d="M298.8 44.5l2.4-.1l-2.4-1l-2.5 .1z"/>
<path color="#7f8427" d="M256.5 36.6l2.5-1l-2.6-1.9l-2.5 .9z"/>
<path color="#9e8c27" d="M236.4 33l2.4-1.4l-2.5-2.5l-2.5 1.4z"/>
<path color="#878828" d="M251.5 35.7l2.4-1.1l-2.5-2.1l-2.5 1.1z"/>
<path color="#968d27" d="M241.4 33.9l2.5-1.3l-2.6-2.3l-2.5 1.3z"/>
<path color="#8f8b28" d="M246.4 34.8l2.5-1.2l-2.5-2.2l-2.5 1.2z"/>
<path color="#194219" d="M293.8 43.8l2.5-.3l-2.5-1l-2.5 .2z"/>
<path color="#000000" d="M316.1 47.2l2.4 .4l-2.5-.5l-2.4-.4z"/>
<path color="#29551e" d="M288.9 43.1l2.4-.4l-2.4-1.2l-2.5 .4z"/>
<path color="#396322" d="M283.9 42.4l2.5-.5l-2.5-1.3l-2.5 .4z"/>
<path color="#000000" d="M311.1 46.6l2.5 .1l-2.5-.7l-2.5-.1z"/>
<path color="#000000" d="M328.3 49.3l2.4 1l-2.5-.3l-2.3-1z"/>
<path color="#486e25" d="M278.9 41.6l2.5-.6l-2.5-1.4l-2.5 .6z"/>
<path color="#587627" d="M274 40.9l2.4-.7l-2.4-1.6l-2.5 .7z"/>
<path color="#000000" d="M306.2 46l2.4-.1l-2.4-.7l-2.5 0z"/>
<path color="#a49229" d="M228.9 33.7l2.4-1.7l-2.6-2.5l-2.4 1.6z"/>
<path color="#667d28" d="M269 40.1l2.5-.8l-2.5-1.7l-2.5 .8z"/>
<path color="#9d9429" d="M233.9 34.5l2.5-1.5l-2.6-2.5l-2.5 1.5z"/>
<path color="#718228" d="M264 39.3l2.5-.9l-2.5-1.8l-2.5 .9z"/>
<path color="#979229" d="M238.9 35.3l2.5-1.4l-2.6-2.3l-2.4 1.4z"/>
<path color="#7b8629" d="M259 38.5l2.5-1l-2.5-1.9l-2.5 1z"/>
<path color="#000000" d="M323.4 48.4l2.5 .6l-2.5-.3l-2.4-.7z"/>
<path color="#051b0c" d="M301.2 45.4l2.5-.2l-2.5-.8l-2.4 .1z"/>
<path color="#909029" d="M244 36.1l2.4-1.3l-2.5-2.2l-2.5 1.3z"/>
<path color="#828a29" d="M254 37.7l2.5-1.1l-2.6-2l-2.4 1.1z"/>
<path color="#8a8d29" d="M249 36.9l2.5-1.2l-2.6-2.1l-2.5 1.2z"/>
<path color="#133b17" d="M296.3 44.8l2.5-.3l-2.5-1l-2.5 .3z"/>
<path color="#000000" d="M318.5 47.7l2.5 .3l-2.5-.4l-2.4-.4z"/>
<path color="#24511e" d="M291.3 44.2l2.5-.4l-2.5-1.1l-2.4 .4z"/>
<path color="#336122" d="M286.4 43.6l2.5-.5l-2.5-1.2l-2.5 .5z"/>
<path color="#000000" d="M313.6 47.1l2.5 .1l-2.5-.5l-2.5-.1z"/>
<path color="#436d25" d="M281.4 43l2.5-.6l-2.5-1.4l-2.5 .6z"/>
<path color="#000000" d="M330.8 49.4l2.4 1l-2.5-.1l-2.4-1z"/>
<path color="#a1992a" d="M226.4 35.5l2.5-1.8l-2.6-2.6l-2.5 1.8z"/>
<path color="#517627" d="M276.4 42.3l2.5-.7l-2.5-1.4l-2.4 .7z"/>
<path color="#000000" d="M308.7 46.7l2.4-.1l-2.5-.7l-2.4 .1z"/>
<path color="#9c982b" d="M231.4 36.2l2.5-1.7l-2.6-2.5l-2.4 1.7z"/>
<path color="#5f7d29" d="M271.5 41.7l2.5-.8l-2.5-1.6l-2.5 .8z"/>
<path color="#97962b" d="M236.5 36.9l2.4-1.6l-2.5-2.3l-2.5 1.5z"/>
<path color="#6a832a" d="M266.5 41l2.5-.9l-2.5-1.7l-2.5 .9z"/>
<path color="#91942b" d="M241.5 37.6l2.5-1.5l-2.6-2.2l-2.5 1.4z"/>
<path color="#74882a" d="M261.5 40.4l2.5-1.1l-2.5-1.8l-2.5 1z"/>
<path color="#8b922b" d="M246.5 38.3l2.5-1.4l-2.6-2.1l-2.4 1.3z"/>
<path color="#7d8b2b" d="M256.5 39.7l2.5-1.2l-2.5-1.9l-2.5 1.1z"/>
<path color="#858f2b" d="M251.5 39l2.5-1.3l-2.5-2l-2.5 1.2z"/>
<path color="#010d06" d="M303.7 46.2l2.5-.2l-2.5-.8l-2.5 .2z"/>
<path color="#000000" d="M325.9 48.6l2.4 .7l-2.4-.3l-2.5-.6z"/>
<path color="#0e3314" d="M298.8 45.7l2.4-.3l-2.4-.9l-2.5 .3z"/>
<path color="#000000" d="M321 48l2.4 .4l-2.4-.4l-2.5-.3z"/>
<path color="#1f4c1c" d="M293.8 45.3l2.5-.5l-2.5-1l-2.5 .4z"/>
<path color="#2e5e22" d="M288.9 44.8l2.4-.6l-2.4-1.1l-2.5 .5z"/>
<path color="#9b9a2c" d="M224 37.4l2.4-1.9l-2.6-2.6l-2.4 1.9z"/>
<path color="#000000" d="M316.1 47.6l2.4 .1l-2.4-.5l-2.5-.1z"/>
<path color="#3d6b25" d="M283.9 44.2l2.5-.6l-2.5-1.2l-2.5 .6z"/>
<path color="#989a2d" d="M229 38l2.4-1.8l-2.5-2.5l-2.5 1.8z"/>
<path color="#010a06" d="M333.3 49.5l2.4 1l-2.5-.1l-2.4-1z"/>
<path color="#4b7628" d="M278.9 43.7l2.5-.7l-2.5-1.4l-2.5 .7z"/>
<path color="#94982d" d="M234 38.6l2.5-1.7l-2.6-2.4l-2.5 1.7z"/>
<path color="#597e2a" d="M274 43.2l2.4-.9l-2.4-1.4l-2.5 .8z"/>
<path color="#000000" d="M311.1 47.3l2.5-.2l-2.5-.5l-2.4 .1z"/>
<path color="#8f972d" d="M239 39.2l2.5-1.6l-2.6-2.3l-2.4 1.6z"/>
<path color="#63842b" d="M269 42.7l2.5-1l-2.5-1.6l-2.5 .9z"/>
<path color="#8a952d" d="M244 39.8l2.5-1.5l-2.5-2.2l-2.5 1.5z"/>
<path color="#6c892c" d="M264 42.1l2.5-1.1l-2.5-1.7l-2.5 1.1z"/>
<path color="#84932d" d="M249 40.4l2.5-1.4l-2.5-2.1l-2.5 1.4z"/>
<path color="#748d2c" d="M259 41.5l2.5-1.1l-2.5-1.9l-2.5 1.2z"/>
<path color="#7c902d" d="M254 41l2.5-1.3l-2.5-2l-2.5 1.3z"/>
<path color="#000000" d="M306.2 46.9l2.5-.2l-2.5-.7l-2.5 .2z"/>
<path color="#000000" d="M328.4 48.7l2.4 .7l-2.5-.1l-2.4-.7z"/>
<path color="#0a2810" d="M301.3 46.6l2.4-.4l-2.5-.8l-2.4 .3z"/>
<path color="#949a2d" d="M221.6 39.5l2.4-2.1l-2.6-2.6l-2.4 2z"/>
<path color="#19451a" d="M296.3 46.2l2.5-.5l-2.5-.9l-2.5 .5z"/>
<path color="#000000" d="M323.5 48.3l2.4 .3l-2.5-.2l-2.4-.4z"/>
<path color="#929b2e" d="M226.6 40l2.4-2l-2.6-2.5l-2.4 1.9z"/>
<path color="#295920" d="M291.3 45.8l2.5-.5l-2.5-1.1l-2.4 .6z"/>
<path color="#909b2e" d="M231.6 40.5l2.4-1.9l-2.6-2.4l-2.4 1.8z"/>
<path color="#386825" d="M286.4 45.4l2.5-.6l-2.5-1.2l-2.5 .6z"/>
<path color="#000000" d="M318.6 48l2.4 0l-2.5-.3l-2.4-.1z"/>
<path color="#8c992e" d="M236.6 40.9l2.4-1.7l-2.5-2.3l-2.5 1.7z"/>
<path color="#457328" d="M281.4 45l2.5-.8l-2.5-1.2l-2.5 .7z"/>
<path color="#05200f" d="M335.9 49.4l2.3 1l-2.5 .1l-2.4-1z"/>
<path color="#86972e" d="M241.6 41.4l2.4-1.6l-2.5-2.2l-2.5 1.6z"/>
<path color="#527c2a" d="M276.5 44.6l2.4-.9l-2.5-1.4l-2.4 .9z"/>
<path color="#000000" d="M313.6 47.7l2.5-.1l-2.5-.5l-2.5 .2z"/>
<path color="#80962e" d="M246.6 41.9l2.4-1.5l-2.5-2.1l-2.5 1.5z"/>
<path color="#5c832c" d="M271.5 44.2l2.5-1l-2.5-1.5l-2.5 1z"/>
<path color="#79932e" d="M251.6 42.4l2.4-1.4l-2.5-2l-2.5 1.4z"/>
<path color="#64882d" d="M266.5 43.7l2.5-1l-2.5-1.7l-2.5 1.1z"/>
<path color="#72902e" d="M256.5 42.8l2.5-1.3l-2.5-1.8l-2.5 1.3z"/>
<path color="#6b8d2d" d="M261.5 43.3l2.5-1.2l-2.5-1.7l-2.5 1.1z"/>
<path color="#000000" d="M308.7 47.5l2.4-.2l-2.4-.6l-2.5 .2z"/>
<path color="#000000" d="M330.9 48.8l2.4 .7l-2.5-.1l-2.4-.7z"/>
<path color="#8d9b2f" d="M219.1 41.7l2.5-2.2l-2.6-2.7l-2.5 2.2z"/>
<path color="#051c0c" d="M303.7 47.3l2.5-.4l-2.5-.7l-2.4 .4z"/>
<path color="#8a9c30" d="M224.1 42l2.5-2l-2.6-2.6l-2.4 2.1z"/>
<path color="#143d17" d="M298.8 47l2.5-.4l-2.5-.9l-2.5 .5z"/>
<path color="#000000" d="M326 48.4l2.4 .3l-2.5-.1l-2.4-.3z"/>
<path color="#879c30" d="M229.1 42.4l2.5-1.9l-2.6-2.5l-2.4 2z"/>
<path color="#24531f" d="M293.8 46.8l2.5-.6l-2.5-.9l-2.5 .5z"/>
<path color="#839c30" d="M234.1 42.8l2.5-1.9l-2.6-2.3l-2.4 1.9z"/>
<path color="#326424" d="M288.9 46.5l2.4-.7l-2.4-1l-2.5 .6z"/>
<path color="#000000" d="M321.1 48.2l2.4 .1l-2.5-.3l-2.4 0z"/>
<path color="#7f9a30" d="M239.1 43.2l2.5-1.8l-2.6-2.2l-2.4 1.7z"/>
<path color="#3f7027" d="M283.9 46.2l2.5-.8l-2.5-1.2l-2.5 .8z"/>
<path color="#7a9930" d="M244.1 43.6l2.5-1.7l-2.6-2.1l-2.4 1.6z"/>
<path color="#4b7a2a" d="M278.9 45.9l2.5-.9l-2.5-1.3l-2.4 .9z"/>
<path color="#0b3216" d="M338.4 49.2l2.3 1.1l-2.5 .1l-2.3-1z"/>
<path color="#759630" d="M249.1 43.9l2.5-1.5l-2.6-2l-2.4 1.5z"/>
<path color="#56812c" d="M274 45.6l2.5-1l-2.5-1.4l-2.5 1z"/>
<path color="#6f9430" d="M254.1 44.3l2.4-1.5l-2.5-1.8l-2.4 1.4z"/>
<path color="#7f9d31" d="M216.7 44l2.4-2.3l-2.6-2.7l-2.4 2.3z"/>
<path color="#000000" d="M316.1 48.1l2.5-.1l-2.5-.4l-2.5 .1z"/>
<path color="#5d882d" d="M269 45.3l2.5-1.1l-2.5-1.5l-2.5 1z"/>
<path color="#69902f" d="M259 44.6l2.5-1.3l-2.5-1.8l-2.5 1.3z"/>
<path color="#638d2e" d="M264 45l2.5-1.3l-2.5-1.6l-2.5 1.2z"/>
<path color="#7d9e32" d="M221.7 44.3l2.4-2.3l-2.5-2.5l-2.5 2.2z"/>
<path color="#000000" d="M311.2 48l2.4-.3l-2.5-.4l-2.4 .2z"/>
<path color="#000000" d="M333.5 48.7l2.4 .7l-2.6 .1l-2.4-.7z"/>
<path color="#7b9e32" d="M226.7 44.6l2.4-2.2l-2.5-2.4l-2.5 2z"/>
<path color="#010d06" d="M306.2 47.9l2.5-.4l-2.5-.6l-2.5 .4z"/>
<path color="#799e32" d="M231.7 44.8l2.4-2l-2.5-2.3l-2.5 1.9z"/>
<path color="#0f3314" d="M301.3 47.8l2.4-.5l-2.4-.7l-2.5 .4z"/>
<path color="#000000" d="M328.5 48.4l2.4 .4l-2.5-.1l-2.4-.3z"/>
<path color="#769d32" d="M236.7 45.1l2.4-1.9l-2.5-2.3l-2.5 1.9z"/>
<path color="#1f4d1d" d="M296.3 47.6l2.5-.6l-2.5-.8l-2.5 .6z"/>
<path color="#719f34" d="M214.4 46.5l2.3-2.5l-2.6-2.7l-2.3 2.4z"/>
<path color="#729b32" d="M241.6 45.4l2.5-1.8l-2.5-2.2l-2.5 1.8z"/>
<path color="#2d5f23" d="M291.3 47.5l2.5-.7l-2.5-1l-2.4 .7z"/>
<path color="#000000" d="M323.6 48.4l2.4 0l-2.5-.1l-2.4-.1z"/>
<path color="#6f9932" d="M246.6 45.6l2.5-1.7l-2.5-2l-2.5 1.7z"/>
<path color="#3a6d27" d="M286.4 47.3l2.5-.8l-2.5-1.1l-2.5 .8z"/>
<path color="#46772a" d="M281.4 47.1l2.5-.9l-2.5-1.2l-2.5 .9z"/>
<path color="#6a9731" d="M251.6 45.9l2.5-1.6l-2.5-1.9l-2.5 1.5z"/>
<path color="#709f34" d="M219.3 46.7l2.4-2.4l-2.6-2.6l-2.4 2.3z"/>
<path color="#507f2c" d="M276.5 47l2.4-1.1l-2.4-1.3l-2.5 1z"/>
<path color="#669431" d="M256.6 46.1l2.4-1.5l-2.5-1.8l-2.4 1.5z"/>
<path color="#57862e" d="M271.5 46.8l2.5-1.2l-2.5-1.4l-2.5 1.1z"/>
<path color="#619030" d="M261.6 46.3l2.4-1.3l-2.5-1.7l-2.5 1.3z"/>
<path color="#5c8c2f" d="M266.5 46.6l2.5-1.3l-2.5-1.6l-2.5 1.3z"/>
<path color="#000000" d="M318.6 48.4l2.5-.2l-2.5-.2l-2.5 .1z"/>
<path color="#6fa034" d="M224.3 46.8l2.4-2.2l-2.6-2.6l-2.4 2.3z"/>
<path color="#000000" d="M313.7 48.4l2.4-.3l-2.5-.4l-2.4 .3z"/>
<path color="#6ea034" d="M229.3 47l2.4-2.2l-2.6-2.4l-2.4 2.2z"/>
<path color="#000000" d="M336 48.5l2.4 .7l-2.5 .2l-2.4-.7z"/>
<path color="#000000" d="M308.7 48.4l2.5-.4l-2.5-.5l-2.5 .4z"/>
<path color="#6ca035" d="M234.2 47.2l2.5-2.1l-2.6-2.3l-2.4 2z"/>
<path color="#0a2810" d="M303.7 48.4l2.5-.5l-2.5-.6l-2.4 .5z"/>
<path color="#6a9e34" d="M239.2 47.3l2.4-1.9l-2.5-2.2l-2.4 1.9z"/>
<path color="#000000" d="M331 48.3l2.5 .4l-2.6 .1l-2.4-.4z"/>
<path color="#62a036" d="M216.9 49.2l2.4-2.5l-2.6-2.7l-2.3 2.5z"/>
<path color="#19451a" d="M298.8 48.4l2.5-.6l-2.5-.8l-2.5 .6z"/>
<path color="#689c34" d="M244.2 47.5l2.4-1.9l-2.5-2l-2.5 1.8z"/>
<path color="#285a21" d="M293.8 48.4l2.5-.8l-2.5-.8l-2.5 .7z"/>
<path color="#659933" d="M249.1 47.6l2.5-1.7l-2.5-2l-2.5 1.7z"/>
<path color="#356926" d="M288.9 48.3l2.4-.8l-2.4-1l-2.5 .8z"/>
<path color="#62a036" d="M221.9 49.2l2.4-2.4l-2.6-2.5l-2.4 2.4z"/>
<path color="#000000" d="M326.1 48.4l2.4 0l-2.5 0l-2.4 0z"/>
<path color="#629633" d="M254.1 47.7l2.5-1.6l-2.5-1.8l-2.5 1.6z"/>
<path color="#407429" d="M283.9 48.3l2.5-1l-2.5-1.1l-2.5 .9z"/>
<path color="#5e9332" d="M259.1 47.8l2.5-1.5l-2.6-1.7l-2.4 1.5z"/>
<path color="#4a7d2c" d="M278.9 48.2l2.5-1.1l-2.5-1.2l-2.4 1.1z"/>
<path color="#5a8f31" d="M264 48l2.5-1.4l-2.5-1.6l-2.4 1.3z"/>
<path color="#51842e" d="M274 48.1l2.5-1.1l-2.5-1.4l-2.5 1.2z"/>
<path color="#568a30" d="M269 48.1l2.5-1.3l-2.5-1.5l-2.5 1.3z"/>
<path color="#62a036" d="M226.9 49.3l2.4-2.3l-2.6-2.4l-2.4 2.2z"/>
<path color="#000000" d="M321.1 48.5l2.5-.1l-2.5-.2l-2.5 .2z"/>
<path color="#62a036" d="M231.8 49.3l2.4-2.1l-2.5-2.4l-2.4 2.2z"/>
<path color="#000000" d="M316.2 48.7l2.4-.3l-2.5-.3l-2.4 .3z"/>
<path color="#619f36" d="M236.8 49.4l2.4-2.1l-2.5-2.2l-2.5 2.1z"/>
<path color="#000000" d="M311.2 48.8l2.5-.4l-2.5-.4l-2.5 .4z"/>
<path color="#609d36" d="M241.7 49.4l2.5-1.9l-2.6-2.1l-2.4 1.9z"/>
<path color="#051b0b" d="M306.2 48.9l2.5-.5l-2.5-.5l-2.5 .5z"/>
<path color="#52a039" d="M219.5 51.8l2.4-2.6l-2.6-2.5l-2.4 2.5z"/>
<path color="#5e9b35" d="M246.7 49.5l2.4-1.9l-2.5-2l-2.4 1.9z"/>
<path color="#143d17" d="M301.3 49l2.4-.6l-2.4-.6l-2.5 .6z"/>
<path color="#000000" d="M333.6 48.2l2.4 .3l-2.5 .2l-2.5-.4z"/>
<path color="#5c9935" d="M251.7 49.5l2.4-1.8l-2.5-1.8l-2.5 1.7z"/>
<path color="#23541f" d="M296.3 49.1l2.5-.7l-2.5-.8l-2.5 .8z"/>
<path color="#53a039" d="M224.5 51.7l2.4-2.4l-2.6-2.5l-2.4 2.4z"/>
<path color="#5a9634" d="M256.6 49.5l2.5-1.7l-2.5-1.7l-2.5 1.6z"/>
<path color="#316525" d="M291.3 49.2l2.5-.8l-2.5-.9l-2.4 .8z"/>
<path color="#579233" d="M261.6 49.5l2.4-1.5l-2.4-1.7l-2.5 1.5z"/>
<path color="#3c7129" d="M286.4 49.3l2.5-1l-2.5-1l-2.5 1z"/>
<path color="#000000" d="M328.6 48.3l2.4 0l-2.5 .1l-2.4 0z"/>
<path color="#548e31" d="M266.5 49.5l2.5-1.4l-2.5-1.5l-2.5 1.4z"/>
<path color="#457b2c" d="M281.4 49.4l2.5-1.1l-2.5-1.2l-2.5 1.1z"/>
<path color="#518930" d="M271.5 49.5l2.5-1.4l-2.5-1.3l-2.5 1.3z"/>
<path color="#4d822e" d="M276.5 49.4l2.4-1.2l-2.4-1.2l-2.5 1.1z"/>
<path color="#54a039" d="M229.4 51.7l2.4-2.4l-2.5-2.3l-2.4 2.3z"/>
<path color="#000000" d="M323.6 48.6l2.5-.2l-2.5 0l-2.5 .1z"/>
<path color="#54a039" d="M234.4 51.6l2.4-2.2l-2.6-2.2l-2.4 2.1z"/>
<path color="#000000" d="M318.7 48.9l2.4-.4l-2.5-.1l-2.4 .3z"/>
<path color="#559f38" d="M239.3 51.5l2.4-2.1l-2.5-2.1l-2.4 2.1z"/>
<path color="#000000" d="M313.7 49.1l2.5-.4l-2.5-.3l-2.5 .4z"/>
<path color="#549d38" d="M244.3 51.5l2.4-2l-2.5-2l-2.5 1.9z"/>
<path color="#469e3c" d="M222.1 54.3l2.4-2.6l-2.6-2.5l-2.4 2.6z"/>
<path color="#010b05" d="M308.7 49.4l2.5-.6l-2.5-.4l-2.5 .5z"/>
<path color="#549b37" d="M249.2 51.4l2.5-1.9l-2.6-1.9l-2.4 1.9z"/>
<path color="#0f3314" d="M303.8 49.6l2.4-.7l-2.5-.5l-2.4 .6z"/>
<path color="#539836" d="M254.2 51.3l2.4-1.8l-2.5-1.8l-2.4 1.8z"/>
<path color="#469e3c" d="M227 54.2l2.4-2.5l-2.5-2.4l-2.4 2.4z"/>
<path color="#1f4d1d" d="M298.8 49.8l2.5-.8l-2.5-.6l-2.5 .7z"/>
<path color="#519535" d="M259.1 51.2l2.5-1.7l-2.5-1.7l-2.5 1.7z"/>
<path color="#2c6023" d="M293.8 50l2.5-.9l-2.5-.7l-2.5 .8z"/>
<path color="#509133" d="M264.1 51l2.4-1.5l-2.5-1.5l-2.4 1.5z"/>
<path color="#376e28" d="M288.9 50.2l2.4-1l-2.4-.9l-2.5 1z"/>
<path color="#4e8c32" d="M269 50.9l2.5-1.4l-2.5-1.4l-2.5 1.4z"/>
<path color="#40782b" d="M283.9 50.4l2.5-1.1l-2.5-1l-2.5 1.1z"/>
<path color="#4b8730" d="M274 50.8l2.5-1.4l-2.5-1.3l-2.5 1.4z"/>
<path color="#479f3b" d="M231.9 54l2.5-2.4l-2.6-2.3l-2.4 2.4z"/>
<path color="#47802e" d="M278.9 50.6l2.5-1.2l-2.5-1.2l-2.4 1.2z"/>
<path color="#000000" d="M331.1 48.2l2.5 0l-2.6 .1l-2.4 0z"/>
<path color="#489f3b" d="M236.9 53.8l2.4-2.3l-2.5-2.1l-2.4 2.2z"/>
<path color="#000000" d="M326.1 48.6l2.5-.3l-2.5 .1l-2.5 .2z"/>
<path color="#489e3a" d="M241.8 53.6l2.5-2.1l-2.6-2.1l-2.4 2.1z"/>
<path color="#000000" d="M321.2 48.9l2.4-.3l-2.5-.1l-2.4 .4z"/>
<path color="#3f9b40" d="M224.6 56.8l2.4-2.6l-2.5-2.5l-2.4 2.6z"/>
<path color="#489c39" d="M246.8 53.4l2.4-2l-2.5-1.9l-2.4 2z"/>
<path color="#000000" d="M316.2 49.3l2.5-.4l-2.5-.2l-2.5 .4z"/>
<path color="#499a38" d="M251.7 53.2l2.5-1.9l-2.5-1.8l-2.5 1.9z"/>
<path color="#000000" d="M311.2 49.7l2.5-.6l-2.5-.3l-2.5 .6z"/>
<path color="#409c3e" d="M229.6 56.5l2.3-2.5l-2.5-2.3l-2.4 2.5z"/>
<path color="#499737" d="M256.7 53l2.4-1.8l-2.5-1.7l-2.4 1.8z"/>
<path color="#0a2710" d="M306.2 50l2.5-.6l-2.5-.5l-2.4 .7z"/>
<path color="#499436" d="M261.6 52.7l2.5-1.7l-2.5-1.5l-2.5 1.7z"/>
<path color="#1a461a" d="M301.3 50.4l2.5-.8l-2.5-.6l-2.5 .8z"/>
<path color="#489034" d="M266.6 52.5l2.4-1.6l-2.5-1.4l-2.4 1.5z"/>
<path color="#285a21" d="M296.3 50.7l2.5-.9l-2.5-.7l-2.5 .9z"/>
<path color="#419c3e" d="M234.5 56.2l2.4-2.4l-2.5-2.2l-2.5 2.4z"/>
<path color="#478b32" d="M271.5 52.2l2.5-1.4l-2.5-1.3l-2.5 1.4z"/>
<path color="#336a27" d="M291.3 51.1l2.5-1.1l-2.5-.8l-2.4 1z"/>
<path color="#468530" d="M276.5 52l2.4-1.4l-2.4-1.2l-2.5 1.4z"/>
<path color="#3b752b" d="M286.4 51.4l2.5-1.2l-2.5-.9l-2.5 1.1z"/>
<path color="#427e2e" d="M281.4 51.7l2.5-1.3l-2.5-1l-2.5 1.2z"/>
<path color="#429d3d" d="M239.4 55.9l2.4-2.3l-2.5-2.1l-2.4 2.3z"/>
<path color="#000000" d="M328.7 48.4l2.4-.2l-2.5 .1l-2.5 .3z"/>
<path color="#439c3c" d="M244.3 55.6l2.5-2.2l-2.5-1.9l-2.5 2.1z"/>
<path color="#000000" d="M323.7 48.9l2.4-.3l-2.5 0l-2.4 .3z"/>
<path color="#3c9b48" d="M227.2 59.2l2.4-2.7l-2.6-2.3l-2.4 2.6z"/>
<path color="#439a3b" d="M249.3 55.3l2.4-2.1l-2.5-1.8l-2.4 2z"/>
<path color="#000000" d="M318.7 49.4l2.5-.5l-2.5 0l-2.5 .4z"/>
<path color="#43983a" d="M254.2 54.9l2.5-1.9l-2.5-1.7l-2.5 1.9z"/>
<path color="#3d9b45" d="M232.1 58.8l2.4-2.6l-2.6-2.2l-2.3 2.5z"/>
<path color="#000000" d="M313.7 49.9l2.5-.6l-2.5-.2l-2.5 .6z"/>
<path color="#439538" d="M259.2 54.6l2.4-1.9l-2.5-1.5l-2.4 1.8z"/>
<path color="#051a0b" d="M308.7 50.4l2.5-.7l-2.5-.3l-2.5 .6z"/>
<path color="#439237" d="M264.1 54.2l2.5-1.7l-2.5-1.5l-2.5 1.7z"/>
<path color="#153d17" d="M303.8 50.9l2.4-.9l-2.4-.4l-2.5 .8z"/>
<path color="#428e35" d="M269 53.9l2.5-1.7l-2.5-1.3l-2.4 1.6z"/>
<path color="#3d9b43" d="M237 58.3l2.4-2.4l-2.5-2.1l-2.4 2.4z"/>
<path color="#23541f" d="M298.8 51.3l2.5-.9l-2.5-.6l-2.5 .9z"/>
<path color="#428933" d="M274 53.5l2.5-1.5l-2.5-1.2l-2.5 1.4z"/>
<path color="#2f6525" d="M293.8 51.8l2.5-1.1l-2.5-.7l-2.5 1.1z"/>
<path color="#418330" d="M278.9 53.1l2.5-1.4l-2.5-1.1l-2.4 1.4z"/>
<path color="#37722a" d="M288.9 52.2l2.4-1.1l-2.4-.9l-2.5 1.2z"/>
<path color="#3e7c2d" d="M283.9 52.7l2.5-1.3l-2.5-1l-2.5 1.3z"/>
<path color="#3e9b41" d="M241.9 57.9l2.4-2.3l-2.5-2l-2.4 2.3z"/>
<path color="#3e993e" d="M246.8 57.5l2.5-2.2l-2.5-1.9l-2.5 2.2z"/>
<path color="#399a51" d="M229.7 61.4l2.4-2.6l-2.5-2.3l-2.4 2.7z"/>
<path color="#3f983d" d="M251.8 57l2.4-2.1l-2.5-1.7l-2.4 2.1z"/>
<path color="#000000" d="M326.2 48.8l2.5-.4l-2.6 .2l-2.4 .3z"/>
<path color="#3f963b" d="M256.7 56.6l2.5-2l-2.5-1.6l-2.5 1.9z"/>
<path color="#000000" d="M321.2 49.4l2.5-.5l-2.5 0l-2.5 .5z"/>
<path color="#3a9b4d" d="M234.6 60.9l2.4-2.6l-2.5-2.1l-2.4 2.6z"/>
<path color="#409339" d="M261.6 56.1l2.5-1.9l-2.5-1.5l-2.4 1.9z"/>
<path color="#000000" d="M316.2 50l2.5-.6l-2.5-.1l-2.5 .6z"/>
<path color="#409037" d="M266.6 55.6l2.4-1.7l-2.4-1.4l-2.5 1.7z"/>
<path color="#010904" d="M311.2 50.6l2.5-.7l-2.5-.2l-2.5 .7z"/>
<path color="#3b9b4a" d="M239.5 60.4l2.4-2.5l-2.5-2l-2.4 2.4z"/>
<path color="#3f8c35" d="M271.5 55.1l2.5-1.6l-2.5-1.3l-2.5 1.7z"/>
<path color="#103213" d="M306.3 51.2l2.4-.8l-2.5-.4l-2.4 .9z"/>
<path color="#3e8833" d="M276.5 54.6l2.4-1.5l-2.4-1.1l-2.5 1.5z"/>
<path color="#1f4d1d" d="M301.3 51.8l2.5-.9l-2.5-.5l-2.5 .9z"/>
<path color="#3e8130" d="M281.4 54.1l2.5-1.4l-2.5-1l-2.5 1.4z"/>
<path color="#2b6024" d="M296.3 52.4l2.5-1.1l-2.5-.6l-2.5 1.1z"/>
<path color="#3a792d" d="M286.4 53.5l2.5-1.3l-2.5-.8l-2.5 1.3z"/>
<path color="#346e29" d="M291.3 53l2.5-1.2l-2.5-.7l-2.4 1.1z"/>
<path color="#3c9b47" d="M244.4 59.8l2.4-2.3l-2.5-1.9l-2.4 2.3z"/>
<path color="#3c9943" d="M249.3 59.3l2.5-2.3l-2.5-1.7l-2.5 2.2z"/>
<path color="#37975a" d="M232.2 63.7l2.4-2.8l-2.5-2.1l-2.4 2.6z"/>
<path color="#3c9640" d="M254.3 58.7l2.4-2.1l-2.5-1.7l-2.4 2.1z"/>
<path color="#3c943c" d="M259.2 58.1l2.4-2l-2.4-1.5l-2.5 2z"/>
<path color="#389856" d="M237.1 63l2.4-2.6l-2.5-2.1l-2.4 2.6z"/>
<path color="#000000" d="M323.7 49.3l2.5-.5l-2.5 .1l-2.5 .5z"/>
<path color="#3c913a" d="M264.1 57.5l2.5-1.9l-2.5-1.4l-2.5 1.9z"/>
<path color="#000000" d="M318.7 50l2.5-.6l-2.5 0l-2.5 .6z"/>
<path color="#3d8e38" d="M269.1 56.9l2.4-1.8l-2.5-1.2l-2.4 1.7z"/>
<path color="#399951" d="M242 62.4l2.4-2.6l-2.5-1.9l-2.4 2.5z"/>
<path color="#000000" d="M313.7 50.8l2.5-.8l-2.5-.1l-2.5 .7z"/>
<path color="#3d8a35" d="M274 56.3l2.5-1.7l-2.5-1.1l-2.5 1.6z"/>
<path color="#0a260f" d="M308.8 51.5l2.4-.9l-2.5-.2l-2.4 .8z"/>
<path color="#3c8533" d="M279 55.7l2.4-1.6l-2.5-1l-2.4 1.5z"/>
<path color="#1a451a" d="M303.8 52.2l2.5-1l-2.5-.3l-2.5 .9z"/>
<path color="#3a7f2f" d="M283.9 55l2.5-1.5l-2.5-.8l-2.5 1.4z"/>
<path color="#3a9a4c" d="M246.9 61.7l2.4-2.4l-2.5-1.8l-2.4 2.3z"/>
<path color="#285b22" d="M298.8 52.9l2.5-1.1l-2.5-.5l-2.5 1.1z"/>
<path color="#37762c" d="M288.9 54.3l2.4-1.3l-2.4-.8l-2.5 1.3z"/>
<path color="#316a27" d="M293.8 53.6l2.5-1.2l-2.5-.6l-2.5 1.2z"/>
<path color="#3a9848" d="M251.8 61l2.5-2.3l-2.5-1.7l-2.5 2.3z"/>
<path color="#369363" d="M234.7 65.8l2.4-2.8l-2.5-2.1l-2.4 2.8z"/>
<path color="#3a9644" d="M256.7 60.3l2.5-2.2l-2.5-1.5l-2.4 2.1z"/>
<path color="#36955e" d="M239.6 65l2.4-2.6l-2.5-2l-2.4 2.6z"/>
<path color="#3a933f" d="M261.7 59.6l2.4-2.1l-2.5-1.4l-2.4 2z"/>
<path color="#3a8f3b" d="M266.6 58.9l2.5-2l-2.5-1.3l-2.5 1.9z"/>
<path color="#379759" d="M244.5 64.2l2.4-2.5l-2.5-1.9l-2.4 2.6z"/>
<path color="#3a8c38" d="M271.5 58.1l2.5-1.8l-2.5-1.2l-2.4 1.8z"/>
<path color="#000000" d="M321.2 49.9l2.5-.6l-2.5 .1l-2.5 .6z"/>
<path color="#3b8835" d="M276.5 57.4l2.5-1.7l-2.5-1.1l-2.5 1.7z"/>
<path color="#000000" d="M316.2 50.8l2.5-.8l-2.5 0l-2.5 .8z"/>
<path color="#3a8332" d="M281.4 56.6l2.5-1.6l-2.5-.9l-2.4 1.6z"/>
<path color="#05180a" d="M311.3 51.7l2.4-.9l-2.5-.2l-2.4 .9z"/>
<path color="#389753" d="M249.4 63.4l2.4-2.4l-2.5-1.7l-2.4 2.4z"/>
<path color="#377c2f" d="M286.4 55.8l2.5-1.5l-2.5-.8l-2.5 1.5z"/>
<path color="#153c17" d="M306.3 52.5l2.5-1l-2.5-.3l-2.5 1z"/>
<path color="#34722b" d="M291.3 55l2.5-1.4l-2.5-.6l-2.4 1.3z"/>
<path color="#24541f" d="M301.3 53.4l2.5-1.2l-2.5-.4l-2.5 1.1z"/>
<path color="#2e6526" d="M296.3 54.2l2.5-1.3l-2.5-.5l-2.5 1.2z"/>
<path color="#39974d" d="M254.3 62.6l2.4-2.3l-2.4-1.6l-2.5 2.3z"/>
<path color="#35906c" d="M237.2 67.8l2.4-2.8l-2.5-2l-2.4 2.8z"/>
<path color="#399547" d="M259.2 61.8l2.5-2.2l-2.5-1.5l-2.5 2.2z"/>
<path color="#369266" d="M242.1 66.9l2.4-2.7l-2.5-1.8l-2.4 2.6z"/>
<path color="#399242" d="M264.2 61l2.4-2.1l-2.5-1.4l-2.4 2.1z"/>
<path color="#398e3d" d="M269.1 60.1l2.4-2l-2.4-1.2l-2.5 2z"/>
<path color="#36945f" d="M247 66l2.4-2.6l-2.5-1.7l-2.4 2.5z"/>
<path color="#388a38" d="M274 59.2l2.5-1.8l-2.5-1.1l-2.5 1.8z"/>
<path color="#398635" d="M279 58.3l2.4-1.7l-2.4-.9l-2.5 1.7z"/>
<path color="#369558" d="M251.9 65.1l2.4-2.5l-2.5-1.6l-2.4 2.4z"/>
<path color="#000000" d="M318.8 50.7l2.4-.8l-2.5 .1l-2.5 .8z"/>
<path color="#398032" d="M283.9 57.4l2.5-1.6l-2.5-.8l-2.5 1.6z"/>
<path color="#010703" d="M313.8 51.7l2.4-.9l-2.5 0l-2.4 .9z"/>
<path color="#35792e" d="M288.9 56.5l2.4-1.5l-2.4-.7l-2.5 1.5z"/>
<path color="#326e29" d="M293.8 55.6l2.5-1.4l-2.5-.6l-2.5 1.4z"/>
<path color="#103113" d="M308.8 52.7l2.5-1l-2.5-.2l-2.5 1z"/>
<path color="#2b6024" d="M298.8 54.6l2.5-1.2l-2.5-.5l-2.5 1.3z"/>
<path color="#204d1d" d="M303.8 53.7l2.5-1.2l-2.5-.3l-2.5 1.2z"/>
<path color="#379451" d="M256.8 64.2l2.4-2.4l-2.5-1.5l-2.4 2.3z"/>
<path color="#348c75" d="M239.7 69.8l2.4-2.9l-2.5-1.9l-2.4 2.8z"/>
<path color="#38934a" d="M261.7 63.2l2.5-2.2l-2.5-1.4l-2.5 2.2z"/>
<path color="#358f6d" d="M244.6 68.8l2.4-2.8l-2.5-1.8l-2.4 2.7z"/>
<path color="#389144" d="M266.6 62.2l2.5-2.1l-2.5-1.2l-2.4 2.1z"/>
<path color="#388d3e" d="M271.6 61.2l2.4-2l-2.5-1.1l-2.4 2z"/>
<path color="#359165" d="M249.5 67.7l2.4-2.6l-2.5-1.7l-2.4 2.6z"/>
<path color="#378838" d="M276.5 60.2l2.5-1.9l-2.5-.9l-2.5 1.8z"/>
<path color="#388435" d="M281.4 59.2l2.5-1.8l-2.5-.8l-2.4 1.7z"/>
<path color="#35925d" d="M254.4 66.7l2.4-2.5l-2.5-1.6l-2.4 2.5z"/>
<path color="#377e31" d="M286.4 58.2l2.5-1.7l-2.5-.7l-2.5 1.6z"/>
<path color="#33762d" d="M291.3 57.1l2.5-1.5l-2.5-.6l-2.4 1.5z"/>
<path color="#000000" d="M316.3 51.7l2.5-1l-2.6 .1l-2.4 .9z"/>
<path color="#306a28" d="M296.3 56.1l2.5-1.5l-2.5-.4l-2.5 1.4z"/>
<path color="#0a250e" d="M311.3 52.8l2.5-1.1l-2.5 0l-2.5 1z"/>
<path color="#33887e" d="M242.2 71.6l2.4-2.8l-2.5-1.9l-2.4 2.9z"/>
<path color="#285a21" d="M301.3 55l2.5-1.3l-2.5-.3l-2.5 1.2z"/>
<path color="#1b451a" d="M306.3 53.9l2.5-1.2l-2.5-.2l-2.5 1.2z"/>
<path color="#369255" d="M259.3 65.6l2.4-2.4l-2.5-1.4l-2.4 2.4z"/>
<path color="#36914d" d="M264.2 64.5l2.4-2.3l-2.4-1.2l-2.5 2.2z"/>
<path color="#348c74" d="M247.1 70.5l2.4-2.8l-2.5-1.7l-2.4 2.8z"/>
<path color="#379046" d="M269.1 63.4l2.5-2.2l-2.5-1.1l-2.5 2.1z"/>
<path color="#378c3f" d="M274 62.3l2.5-2.1l-2.5-1l-2.4 2z"/>
<path color="#358f6b" d="M252 69.3l2.4-2.6l-2.5-1.6l-2.4 2.6z"/>
<path color="#368739" d="M279 61.2l2.4-2l-2.4-.9l-2.5 1.9z"/>
<path color="#359062" d="M256.8 68.1l2.5-2.5l-2.5-1.4l-2.4 2.5z"/>
<path color="#378234" d="M283.9 60l2.5-1.8l-2.5-.8l-2.5 1.8z"/>
<path color="#357b30" d="M288.9 58.8l2.4-1.7l-2.4-.6l-2.5 1.7z"/>
<path color="#32722b" d="M293.8 57.6l2.5-1.5l-2.5-.5l-2.5 1.5z"/>
<path color="#328585" d="M244.7 73.4l2.4-2.9l-2.5-1.7l-2.4 2.8z"/>
<path color="#2e6526" d="M298.8 56.4l2.5-1.4l-2.5-.4l-2.5 1.5z"/>
<path color="#359058" d="M261.7 66.9l2.5-2.4l-2.5-1.3l-2.4 2.4z"/>
<path color="#25541f" d="M303.8 55.2l2.5-1.3l-2.5-.2l-2.5 1.3z"/>
<path color="#041609" d="M313.8 52.8l2.5-1.1l-2.5 0l-2.5 1.1z"/>
<path color="#163b16" d="M308.8 54l2.5-1.2l-2.5-.1l-2.5 1.2z"/>
<path color="#359050" d="M266.6 65.7l2.5-2.3l-2.5-1.2l-2.4 2.3z"/>
<path color="#33897b" d="M249.6 72.1l2.4-2.8l-2.5-1.6l-2.4 2.8z"/>
<path color="#368e47" d="M271.6 64.5l2.4-2.2l-2.4-1.1l-2.5 2.2z"/>
<path color="#348c6f" d="M254.4 70.8l2.4-2.7l-2.4-1.4l-2.4 2.6z"/>
<path color="#368a3f" d="M276.5 63.2l2.5-2l-2.5-1l-2.5 2.1z"/>
<path color="#358538" d="M281.4 62l2.5-2l-2.5-.8l-2.4 2z"/>
<path color="#348e65" d="M259.3 69.5l2.4-2.6l-2.4-1.3l-2.5 2.5z"/>
<path color="#367f33" d="M286.4 60.7l2.5-1.9l-2.5-.6l-2.5 1.8z"/>
<path color="#34782f" d="M291.3 59.4l2.5-1.8l-2.5-.5l-2.4 1.7z"/>
<path color="#328489" d="M247.2 75.1l2.4-3l-2.5-1.6l-2.4 2.9z"/>
<path color="#316e29" d="M296.3 58l2.5-1.6l-2.5-.3l-2.5 1.5z"/>
<path color="#348e5b" d="M264.2 68.2l2.4-2.5l-2.4-1.2l-2.5 2.4z"/>
<path color="#2c6023" d="M301.3 56.7l2.5-1.5l-2.5-.2l-2.5 1.4z"/>
<path color="#204c1c" d="M306.3 55.4l2.5-1.4l-2.5-.1l-2.5 1.3z"/>
<path color="#103012" d="M311.3 54l2.5-1.2l-2.5 0l-2.5 1.2z"/>
<path color="#348e51" d="M269.1 66.8l2.5-2.3l-2.5-1.1l-2.5 2.3z"/>
<path color="#328681" d="M252 73.7l2.4-2.9l-2.4-1.5l-2.4 2.8z"/>
<path color="#358d48" d="M274 65.5l2.5-2.3l-2.5-.9l-2.4 2.2z"/>
<path color="#338974" d="M256.9 72.3l2.4-2.8l-2.5-1.4l-2.4 2.7z"/>
<path color="#35893f" d="M279 64.1l2.4-2.1l-2.4-.8l-2.5 2z"/>
<path color="#358337" d="M283.9 62.7l2.5-2l-2.5-.7l-2.5 2z"/>
<path color="#338b68" d="M261.8 70.8l2.4-2.6l-2.5-1.3l-2.4 2.6z"/>
<path color="#357d32" d="M288.9 61.2l2.4-1.8l-2.4-.6l-2.5 1.9z"/>
<path color="#32828d" d="M249.6 76.7l2.4-3l-2.4-1.6l-2.4 3z"/>
<path color="#32762d" d="M293.8 59.8l2.5-1.8l-2.5-.4l-2.5 1.8z"/>
<path color="#338c5d" d="M266.7 69.3l2.4-2.5l-2.5-1.1l-2.4 2.5z"/>
<path color="#2f6a27" d="M298.8 58.3l2.5-1.6l-2.5-.3l-2.5 1.6z"/>
<path color="#295a21" d="M303.8 56.9l2.5-1.5l-2.5-.2l-2.5 1.5z"/>
<path color="#1c4419" d="M308.8 55.4l2.5-1.4l-2.5 0l-2.5 1.4z"/>
<path color="#328485" d="M254.5 75.2l2.4-2.9l-2.5-1.5l-2.4 2.9z"/>
<path color="#348c52" d="M271.6 67.8l2.4-2.3l-2.4-1l-2.5 2.3z"/>
<path color="#348b48" d="M276.5 66.3l2.5-2.2l-2.5-.9l-2.5 2.3z"/>
<path color="#328778" d="M259.4 73.6l2.4-2.8l-2.5-1.3l-2.4 2.8z"/>
<path color="#34873f" d="M281.4 64.8l2.5-2.1l-2.5-.7l-2.4 2.1z"/>
<path color="#348136" d="M286.4 63.3l2.5-2.1l-2.5-.5l-2.5 2z"/>
<path color="#338a6a" d="M264.2 72l2.5-2.7l-2.5-1.1l-2.4 2.6z"/>
<path color="#337b31" d="M291.3 61.7l2.5-1.9l-2.5-.4l-2.4 1.8z"/>
<path color="#32818f" d="M252.1 78.2l2.4-3l-2.5-1.5l-2.4 3z"/>
<path color="#30722b" d="M296.3 60.1l2.5-1.8l-2.5-.3l-2.5 1.8z"/>
<path color="#338b5e" d="M269.1 70.4l2.5-2.6l-2.5-1l-2.4 2.5z"/>
<path color="#2e6525" d="M301.3 58.5l2.5-1.6l-2.5-.2l-2.5 1.6z"/>
<path color="#25531e" d="M306.3 56.9l2.5-1.5l-2.5 0l-2.5 1.5z"/>
<path color="#328387" d="M256.9 76.5l2.5-2.9l-2.5-1.3l-2.4 2.9z"/>
<path color="#338b52" d="M274 68.8l2.5-2.5l-2.5-.8l-2.4 2.3z"/>
<path color="#348947" d="M279 67.1l2.4-2.3l-2.4-.7l-2.5 2.2z"/>
<path color="#32857b" d="M261.8 74.8l2.4-2.8l-2.4-1.2l-2.4 2.8z"/>
<path color="#34853d" d="M283.9 65.5l2.5-2.2l-2.5-.6l-2.5 2.1z"/>
<path color="#32886b" d="M266.7 73.1l2.4-2.7l-2.4-1.1l-2.5 2.7z"/>
<path color="#337e34" d="M288.9 63.8l2.4-2.1l-2.4-.5l-2.5 2.1z"/>
<path color="#328091" d="M254.5 79.6l2.4-3.1l-2.4-1.3l-2.4 3z"/>
<path color="#32782f" d="M293.8 62.1l2.5-2l-2.5-.3l-2.5 1.9z"/>
<path color="#32895f" d="M271.6 71.3l2.4-2.5l-2.4-1l-2.5 2.6z"/>
<path color="#306e29" d="M298.8 60.3l2.5-1.8l-2.5-.2l-2.5 1.8z"/>
<path color="#2d5f23" d="M303.8 58.6l2.5-1.7l-2.5 0l-2.5 1.6z"/>
<path color="#328189" d="M259.4 77.8l2.4-3l-2.4-1.2l-2.5 2.9z"/>
<path color="#328a52" d="M276.5 69.6l2.5-2.5l-2.5-.8l-2.5 2.5z"/>
<path color="#338846" d="M281.4 67.8l2.5-2.3l-2.5-.7l-2.4 2.3z"/>
<path color="#31837d" d="M264.3 75.9l2.4-2.8l-2.5-1.1l-2.4 2.8z"/>
<path color="#33833c" d="M286.4 66l2.5-2.2l-2.5-.5l-2.5 2.2z"/>
<path color="#32876c" d="M269.2 74.1l2.4-2.8l-2.5-.9l-2.4 2.7z"/>
<path color="#337c33" d="M291.3 64.2l2.5-2.1l-2.5-.4l-2.4 2.1z"/>
<path color="#327f92" d="M257 80.9l2.4-3.1l-2.5-1.3l-2.4 3.1z"/>
<path color="#31752d" d="M296.3 62.3l2.5-2l-2.5-.2l-2.5 2z"/>
<path color="#32885e" d="M274.1 72.2l2.4-2.6l-2.5-.8l-2.4 2.5z"/>
<path color="#306a27" d="M301.3 60.5l2.5-1.9l-2.5-.1l-2.5 1.8z"/>
<path color="#31808a" d="M261.9 79l2.4-3.1l-2.5-1.1l-2.4 3z"/>
<path color="#328851" d="M279 70.3l2.4-2.5l-2.4-.7l-2.5 2.5z"/>
<path color="#338644" d="M283.9 68.4l2.5-2.4l-2.5-.5l-2.5 2.3z"/>
<path color="#31827e" d="M266.7 77l2.5-2.9l-2.5-1l-2.4 2.8z"/>
<path color="#338139" d="M288.9 66.4l2.4-2.2l-2.4-.4l-2.5 2.2z"/>
<path color="#31856c" d="M271.6 75l2.5-2.8l-2.5-.9l-2.4 2.8z"/>
<path color="#327f91" d="M259.4 82.2l2.5-3.2l-2.5-1.2l-2.4 3.1z"/>
<path color="#327a31" d="M293.8 64.4l2.5-2.1l-2.5-.2l-2.5 2.1z"/>
<path color="#30722b" d="M298.8 62.5l2.5-2l-2.5-.2l-2.5 2z"/>
<path color="#31875d" d="M276.5 72.9l2.5-2.6l-2.5-.7l-2.4 2.6z"/>
<path color="#317f8a" d="M264.3 80l2.4-3l-2.4-1.1l-2.4 3.1z"/>
<path color="#32874f" d="M281.4 70.9l2.5-2.5l-2.5-.6l-2.4 2.5z"/>
<path color="#30817e" d="M269.2 77.9l2.4-2.9l-2.4-.9l-2.5 2.9z"/>
<path color="#328541" d="M286.4 68.8l2.5-2.4l-2.5-.4l-2.5 2.4z"/>
<path color="#327e37" d="M291.3 66.7l2.5-2.3l-2.5-.2l-2.4 2.2z"/>
<path color="#31846b" d="M274.1 75.8l2.4-2.9l-2.4-.7l-2.5 2.8z"/>
<path color="#327e90" d="M261.9 83.3l2.4-3.3l-2.4-1l-2.5 3.2z"/>
<path color="#31772f" d="M296.3 64.6l2.5-2.1l-2.5-.2l-2.5 2.1z"/>
<path color="#31865c" d="M279 73.6l2.4-2.7l-2.4-.6l-2.5 2.6z"/>
<path color="#317e8a" d="M266.8 81l2.4-3.1l-2.5-.9l-2.4 3z"/>
<path color="#31864d" d="M283.9 71.4l2.5-2.6l-2.5-.4l-2.5 2.5z"/>
<path color="#30807d" d="M271.6 78.7l2.5-2.9l-2.5-.8l-2.4 2.9z"/>
<path color="#32833f" d="M288.9 69.2l2.4-2.5l-2.4-.3l-2.5 2.4z"/>
<path color="#317c33" d="M293.8 66.9l2.5-2.3l-2.5-.2l-2.5 2.3z"/>
<path color="#31846a" d="M276.5 76.5l2.5-2.9l-2.5-.7l-2.4 2.9z"/>
<path color="#317e90" d="M264.3 84.3l2.5-3.3l-2.5-1l-2.4 3.3z"/>
<path color="#318559" d="M281.4 74.1l2.5-2.7l-2.5-.5l-2.4 2.7z"/>
<path color="#317d89" d="M269.2 81.9l2.4-3.2l-2.4-.8l-2.4 3.1z"/>
<path color="#31854a" d="M286.4 71.8l2.5-2.6l-2.5-.4l-2.5 2.6z"/>
<path color="#307f7c" d="M274.1 79.5l2.4-3l-2.4-.7l-2.5 2.9z"/>
<path color="#32813c" d="M291.3 69.4l2.5-2.5l-2.5-.2l-2.4 2.5z"/>
<path color="#308367" d="M279 77l2.4-2.9l-2.4-.5l-2.5 2.9z"/>
<path color="#317d8f" d="M266.8 85.2l2.4-3.3l-2.4-.9l-2.5 3.3z"/>
<path color="#308456" d="M283.9 74.6l2.5-2.8l-2.5-.4l-2.5 2.7z"/>
<path color="#307c88" d="M271.7 82.7l2.4-3.2l-2.5-.8l-2.4 3.2z"/>
<path color="#318346" d="M288.8 72.1l2.5-2.7l-2.4-.2l-2.5 2.6z"/>
<path color="#2f7e7a" d="M276.5 80.1l2.5-3.1l-2.5-.5l-2.4 3z"/>
<path color="#317c8e" d="M269.2 86l2.5-3.3l-2.5-.8l-2.4 3.3z"/>
<path color="#308264" d="M281.4 77.5l2.5-2.9l-2.5-.5l-2.4 2.9z"/>
<path color="#308453" d="M286.4 74.9l2.4-2.8l-2.4-.3l-2.5 2.8z"/>
<path color="#307c87" d="M274.1 83.3l2.4-3.2l-2.4-.6l-2.4 3.2z"/>
<path color="#2f7e76" d="M279 80.6l2.4-3.1l-2.4-.5l-2.5 3.1z"/>
<path color="#317b8e" d="M271.7 86.8l2.4-3.5l-2.4-.6l-2.5 3.3z"/>
<path color="#308261" d="M283.9 77.9l2.5-3l-2.5-.3l-2.5 2.9z"/>
<path color="#307b85" d="M276.5 83.9l2.5-3.3l-2.5-.5l-2.4 3.2z"/>
<path color="#2f7e72" d="M281.4 81l2.5-3.1l-2.5-.4l-2.4 3.1z"/>
<path color="#307b8d" d="M274.1 87.4l2.4-3.5l-2.4-.6l-2.4 3.5z"/>
<path color="#2f7b82" d="M279 84.4l2.4-3.4l-2.4-.4l-2.5 3.3z"/>
<path color="#307a8c" d="M276.6 87.9l2.4-3.5l-2.5-.5l-2.4 3.5z"/>
</g>
<line x1="214.8" y1="96.3" x2="213.5" y2="97.2" stroke="#444" stroke-width="0.40" opacity="1.00"/>
<text x="209.1" y="99.3" font-size="3.65" font-family="Liberation Sans, sans-serif" text-anchor="middle" fill="#222" stroke="#222" stroke-width=".12">330</text>
<line x1="230.3" y1="102.9" x2="229.0" y2="103.8" stroke="#444" stroke-width="0.40" opacity="1.00"/>
<text x="224.6" y="105.9" font-size="3.65" font-family="Liberation Sans, sans-serif" text-anchor="middle" fill="#222" stroke="#222" stroke-width=".12">325</text>
<line x1="245.7" y1="109.6" x2="244.4" y2="110.5" stroke="#444" stroke-width="0.40" opacity="1.00"/>
<text x="240.0" y="112.6" font-size="3.65" font-family="Liberation Sans, sans-serif" text-anchor="middle" fill="#222" stroke="#222" stroke-width=".12">320</text>
<line x1="261.2" y1="116.3" x2="259.9" y2="117.2" stroke="#444" stroke-width="0.40" opacity="1.00"/>
<text x="255.5" y="119.3" font-size="3.65" font-family="Liberation Sans, sans-serif" text-anchor="middle" fill="#222" stroke="#222" stroke-width=".12">315</text>
<line x1="276.6" y1="122.9" x2="275.3" y2="123.8" stroke="#444" stroke-width="0.40" opacity="1.00"/>
<text x="270.9" y="125.9" font-size="3.65" font-family="Liberation Sans, sans-serif" text-anchor="middle" fill="#222" stroke="#222" stroke-width=".12">310</text>
<line x1="276.6" y1="122.9" x2="277.9" y2="123.8" stroke="#444" stroke-width="0.40" opacity="1.00"/>
<text x="281.6" y="125.8" font-size="3.65" font-family="Liberation Sans, sans-serif" text-anchor="middle" fill="#222" stroke="#222" stroke-width=".12">150</text>
<line x1="292.0" y1="116.2" x2="293.3" y2="117.1" stroke="#444" stroke-width="0.40" opacity="1.00"/>
<text x="297.0" y="119.1" font-size="3.65" font-family="Liberation Sans, sans-serif" text-anchor="middle" fill="#222" stroke="#222" stroke-width=".12">155</text>
<line x1="307.4" y1="109.6" x2="308.7" y2="110.5" stroke="#444" stroke-width="0.40" opacity="1.00"/>
<text x="312.4" y="112.5" font-size="3.65" font-family="Liberation Sans, sans-serif" text-anchor="middle" fill="#222" stroke="#222" stroke-width=".12">160</text>
<line x1="322.8" y1="102.9" x2="324.1" y2="103.8" stroke="#444" stroke-width="0.40" opacity="1.00"/>
<text x="327.8" y="105.8" font-size="3.65" font-family="Liberation Sans, sans-serif" text-anchor="middle" fill="#222" stroke="#222" stroke-width=".12">165</text>
<line x1="338.2" y1="96.2" x2="339.5" y2="97.1" stroke="#444" stroke-width="0.40" opacity="1.00"/>
<text x="343.2" y="99.1" font-size="3.65" font-family="Liberation Sans, sans-serif" text-anchor="middle" fill="#222" stroke="#222" stroke-width=".12">170</text>
<text transform="translate(231.4 118.4) rotate(25.6)" font-size="5.80" font-family="Liberation Serif, serif" text-anchor="middle" fill="#222">C:Working width</text>
<text transform="translate(320.2 119.3) rotate(-24.2)" font-size="5.82" font-family="Liberation Serif, serif" text-anchor="middle" fill="#222">A:Radius of gyration/mm</text>
<text transform="translate(196.0 53.8) rotate(-90.0)" font-size="7.08" font-family="Liberation Serif, serif" text-anchor="middle" fill="#222">Working resistance/N</text>
<circle cx="211.5" cy="42.3" r="1.1" fill="#a01818"/>
<circle cx="276.0" cy="20.8" r="1.1" fill="#a01818"/>
<circle cx="276.0" cy="41.7" r="1.1" fill="#a01818"/>
<circle cx="340.2" cy="51.6" r="1.1" fill="#a01818"/>
<circle cx="276.5" cy="88.3" r="1.1" fill="#a01818"/></g>
<g id="s2"><line x1="407.5" y1="95.5" x2="403.5" y2="19.1" stroke="#454545" stroke-width="0.55" opacity="1.00"/>
<line x1="418.6" y1="72.9" x2="416.2" y2="16.6" stroke="#454545" stroke-width="0.55" opacity="1.00"/>
<line x1="430.7" y1="69.4" x2="428.9" y2="14.1" stroke="#454545" stroke-width="0.55" opacity="1.00"/>
<line x1="442.8" y1="65.8" x2="441.5" y2="11.6" stroke="#454545" stroke-width="0.55" opacity="1.00"/>
<line x1="454.9" y1="62.3" x2="454.2" y2="9.1" stroke="#454545" stroke-width="0.55" opacity="1.00"/>
<line x1="467.0" y1="76.2" x2="466.9" y2="6.6" stroke="#454545" stroke-width="0.55" opacity="1.00"/>
<line x1="526.5" y1="95.5" x2="530.5" y2="19.4" stroke="#454545" stroke-width="0.55" opacity="1.00"/>
<line x1="512.4" y1="72.1" x2="514.6" y2="16.2" stroke="#454545" stroke-width="0.55" opacity="1.00"/>
<line x1="497.2" y1="67.6" x2="498.7" y2="13.0" stroke="#454545" stroke-width="0.55" opacity="1.00"/>
<line x1="482.1" y1="63.2" x2="482.8" y2="9.8" stroke="#454545" stroke-width="0.55" opacity="1.00"/>
<line x1="467.0" y1="76.2" x2="466.9" y2="6.6" stroke="#454545" stroke-width="0.55" opacity="1.00"/>
<line x1="406.5" y1="76.4" x2="467.0" y2="58.8" stroke="#454545" stroke-width="0.55" opacity="1.00"/>
<line x1="467.0" y1="58.8" x2="527.5" y2="76.5" stroke="#454545" stroke-width="0.55" opacity="1.00"/>
<line x1="405.0" y1="76.4" x2="406.5" y2="76.4" stroke="#454545" stroke-width="0.55" opacity="1.00"/>
<text x="403.5" y="75.9" font-size="3.4" font-family="Liberation Sans, sans-serif" text-anchor="end" fill="#222" stroke="#222" stroke-width=".12">1400</text>
<line x1="406.0" y1="66.8" x2="467.0" y2="50.1" stroke="#454545" stroke-width="0.55" opacity="1.00"/>
<line x1="467.0" y1="50.1" x2="528.0" y2="67.0" stroke="#454545" stroke-width="0.55" opacity="1.00"/>
<line x1="404.5" y1="66.8" x2="406.0" y2="66.8" stroke="#454545" stroke-width="0.55" opacity="1.00"/>
<text x="403.0" y="66.3" font-size="3.4" font-family="Liberation Sans, sans-serif" text-anchor="end" fill="#222" stroke="#222" stroke-width=".12">1500</text>
<line x1="405.5" y1="57.3" x2="466.9" y2="41.4" stroke="#454545" stroke-width="0.55" opacity="1.00"/>
<line x1="466.9" y1="41.4" x2="528.5" y2="57.5" stroke="#454545" stroke-width="0.55" opacity="1.00"/>
<line x1="404.0" y1="57.3" x2="405.5" y2="57.3" stroke="#454545" stroke-width="0.55" opacity="1.00"/>
<text x="402.5" y="56.8" font-size="3.4" font-family="Liberation Sans, sans-serif" text-anchor="end" fill="#222" stroke="#222" stroke-width=".12">1600</text>
<line x1="405.0" y1="47.8" x2="466.9" y2="32.7" stroke="#454545" stroke-width="0.55" opacity="1.00"/>
<line x1="466.9" y1="32.7" x2="529.0" y2="47.9" stroke="#454545" stroke-width="0.55" opacity="1.00"/>
<line x1="403.5" y1="47.8" x2="405.0" y2="47.8" stroke="#454545" stroke-width="0.55" opacity="1.00"/>
<text x="402.0" y="47.2" font-size="3.4" font-family="Liberation Sans, sans-serif" text-anchor="end" fill="#222" stroke="#222" stroke-width=".12">1700</text>
<line x1="404.5" y1="38.2" x2="466.9" y2="24.0" stroke="#454545" stroke-width="0.55" opacity="1.00"/>
<line x1="466.9" y1="24.0" x2="529.5" y2="38.4" stroke="#454545" stroke-width="0.55" opacity="1.00"/>
<line x1="403.0" y1="38.2" x2="404.5" y2="38.2" stroke="#454545" stroke-width="0.55" opacity="1.00"/>
<text x="401.5" y="37.7" font-size="3.4" font-family="Liberation Sans, sans-serif" text-anchor="end" fill="#222" stroke="#222" stroke-width=".12">1800</text>
<line x1="404.0" y1="28.7" x2="466.9" y2="15.3" stroke="#454545" stroke-width="0.55" opacity="1.00"/>
<line x1="466.9" y1="15.3" x2="530.0" y2="28.9" stroke="#454545" stroke-width="0.55" opacity="1.00"/>
<line x1="402.5" y1="28.7" x2="404.0" y2="28.7" stroke="#454545" stroke-width="0.55" opacity="1.00"/>
<text x="401.0" y="28.2" font-size="3.4" font-family="Liberation Sans, sans-serif" text-anchor="end" fill="#222" stroke="#222" stroke-width=".12">1900</text>
<line x1="403.5" y1="19.1" x2="466.9" y2="6.6" stroke="#454545" stroke-width="0.55" opacity="1.00"/>
<line x1="466.9" y1="6.6" x2="530.5" y2="19.4" stroke="#454545" stroke-width="0.55" opacity="1.00"/>
<line x1="402.0" y1="19.1" x2="403.5" y2="19.1" stroke="#454545" stroke-width="0.55" opacity="1.00"/>
<text x="400.5" y="18.6" font-size="3.4" font-family="Liberation Sans, sans-serif" text-anchor="end" fill="#222" stroke="#222" stroke-width=".12">2000</text>
<polygon points="407.5,95.5 467.0,76.2 526.5,95.5 466.9,122.4" fill="#ffff00" stroke="#777" stroke-width="0.3"/>
<path d="M425.0 103.4 L427.3 103.9 L428.7 104.2 L431.5 104.9 L432.8 105.2 L435.5 105.8 L436.7 106.2 L439.3 106.9 L441.7 107.6 L442.8 108.0 L445.1 108.8 L447.2 109.7 L449.3 110.5 L451.2 111.5 L452.9 112.5 L453.8 113.0 L455.4 114.1 L456.8 115.2 L457.5 115.8 L458.6 116.9 L459.3 117.6 L459.9 118.3 L460.9 119.7" fill="none" stroke="#19fe83" stroke-width="0.55" opacity="0.7"/>
<path d="M408.1 95.3 L409.9 95.5 L411.7 95.7 L413.7 95.9 L416.0 96.2 L418.3 96.4 L420.6 96.7 L422.3 96.8 L424.1 97.0 L425.8 97.2 L427.8 97.4 L430.1 97.6 L432.6 97.9 L434.5 98.1 L436.2 98.3 L437.9 98.4 L439.9 98.7 L442.5 98.9 L444.6 99.2 L446.3 99.3 L447.9 99.5 L450.4 99.8 L452.7 100.1 L454.3 100.3 L456.1 100.6 L458.8 101.0 L460.2 101.2 L462.6 101.6 L464.4 102.0 L466.8 102.5 L468.2 102.9 L470.5 103.6 L472.6 104.4 L474.5 105.2 L476.1 106.2 L476.8 106.7 L477.9 107.8 L478.5 108.5 L479.0 109.2 L479.5 110.2 L479.9 111.2 L480.2 112.0 L480.4 112.8 L480.5 113.6 L480.6 114.4 L480.7 115.3 L480.7 116.2" fill="none" stroke="#3afe00" stroke-width="0.55" opacity="0.7"/>
<path d="M420.3 91.4 L422.4 91.4 L424.5 91.5 L426.6 91.6 L428.6 91.6 L430.5 91.6 L432.4 91.6 L434.2 91.6 L436.1 91.6 L437.9 91.6 L439.8 91.6 L442.1 91.6 L444.4 91.5 L446.8 91.4 L448.5 91.4 L450.2 91.3 L451.9 91.2 L454.4 91.0 L456.8 90.8 L458.3 90.6 L460.0 90.5 L462.9 90.1 L464.3 89.9 L466.7 89.5 L468.5 89.2 L471.0 88.7 L472.3 88.4 L474.7 87.8 L476.9 87.1 L479.0 86.4 L481.0 85.7 L482.9 84.9 L484.7 84.0 L486.3 83.2 L487.1 82.7" fill="none" stroke="#defe00" stroke-width="0.55" opacity="0.7"/>
<path d="M437.5 85.8 L439.4 85.6 L440.9 85.5 L443.7 85.2 L445.3 85.0 L447.2 84.7 L449.5 84.4 L451.1 84.2 L453.4 83.8 L455.6 83.4 L457.2 83.0 L459.7 82.5 L461.7 82.0 L463.1 81.6 L465.3 81.0 L467.5 80.4 L469.5 79.7 L471.5 79.0 L473.4 78.3" fill="none" stroke="#fe7b00" stroke-width="0.55" opacity="0.7"/>
<g class="q">
<path color="#821712" d="M466.9 13.1l2.4-.4l-2.4-2.5l-2.4 .4z"/>
<path color="#832614" d="M469.3 15.5l2.5-.4l-2.5-2.4l-2.4 .4z"/>
<path color="#851713" d="M464.5 13.6l2.4-.5l-2.4-2.5l-2.5 .5z"/>
<path color="#803917" d="M471.8 17.8l2.4-.3l-2.4-2.4l-2.5 .4z"/>
<path color="#872615" d="M466.9 16l2.4-.5l-2.4-2.4l-2.4 .5z"/>
<path color="#891813" d="M462.1 14.2l2.4-.6l-2.5-2.5l-2.4 .6z"/>
<path color="#7b4b19" d="M474.2 20.1l2.4-.3l-2.4-2.3l-2.4 .3z"/>
<path color="#853917" d="M469.4 18.2l2.4-.4l-2.5-2.3l-2.4 .5z"/>
<path color="#8b2815" d="M464.5 16.5l2.4-.5l-2.4-2.4l-2.4 .6z"/>
<path color="#8c1814" d="M459.6 14.8l2.5-.6l-2.5-2.5l-2.4 .7z"/>
<path color="#74571b" d="M476.6 22.2l2.4-.2l-2.4-2.2l-2.4 .3z"/>
<path color="#804c1a" d="M471.8 20.5l2.4-.4l-2.4-2.3l-2.4 .4z"/>
<path color="#893b18" d="M466.9 18.8l2.5-.6l-2.5-2.2l-2.4 .5z"/>
<path color="#8f2a16" d="M462.1 17.2l2.4-.7l-2.4-2.3l-2.5 .6z"/>
<path color="#6b5d1b" d="M479 24.3l2.4-.2l-2.4-2.1l-2.4 .2z"/>
<path color="#901a14" d="M457.2 15.6l2.4-.8l-2.4-2.4l-2.4 .8z"/>
<path color="#7a591c" d="M474.2 22.6l2.4-.4l-2.4-2.1l-2.4 .4z"/>
<path color="#864e1b" d="M469.4 21l2.4-.5l-2.4-2.3l-2.5 .6z"/>
<path color="#8e3e19" d="M464.5 19.4l2.4-.6l-2.4-2.3l-2.4 .7z"/>
<path color="#605e1b" d="M481.4 26.3l2.4-.2l-2.4-2l-2.4 .2z"/>
<path color="#932d17" d="M459.7 17.9l2.4-.7l-2.5-2.4l-2.4 .8z"/>
<path color="#941e15" d="M454.8 16.4l2.4-.8l-2.4-2.4l-2.5 .8z"/>
<path color="#72611c" d="M476.6 24.6l2.4-.3l-2.4-2.1l-2.4 .4z"/>
<path color="#815d1d" d="M471.8 23.1l2.4-.5l-2.4-2.1l-2.4 .5z"/>
<path color="#8b521c" d="M466.9 21.6l2.5-.6l-2.5-2.2l-2.4 .6z"/>
<path color="#555b1b" d="M483.8 28.2l2.4-.1l-2.4-2l-2.4 .2z"/>
<path color="#92421a" d="M462.1 20.2l2.4-.8l-2.4-2.2l-2.4 .7z"/>
<path color="#973118" d="M457.2 18.7l2.5-.8l-2.5-2.3l-2.4 .8z"/>
<path color="#69641d" d="M479 26.6l2.4-.3l-2.4-2l-2.4 .3z"/>
<path color="#982216" d="M452.4 17.3l2.4-.9l-2.5-2.4l-2.4 .9z"/>
<path color="#79651e" d="M474.2 25.1l2.4-.5l-2.4-2l-2.4 .5z"/>
<path color="#87611e" d="M469.4 23.7l2.4-.6l-2.4-2.1l-2.5 .6z"/>
<path color="#4a561b" d="M486.2 30l2.4-.1l-2.4-1.8l-2.4 .1z"/>
<path color="#8f561d" d="M464.5 22.3l2.4-.7l-2.4-2.2l-2.4 .8z"/>
<path color="#95461b" d="M459.7 21l2.4-.8l-2.4-2.3l-2.5 .8z"/>
<path color="#60621d" d="M481.4 28.5l2.4-.3l-2.4-1.9l-2.4 .3z"/>
<path color="#9b3619" d="M454.8 19.6l2.4-.9l-2.4-2.3l-2.4 .9z"/>
<path color="#9c2817" d="M450 18.3l2.4-1l-2.5-2.4l-2.4 1z"/>
<path color="#716b1e" d="M476.6 27l2.4-.4l-2.4-2l-2.4 .5z"/>
<path color="#7f6a1f" d="M471.8 25.7l2.4-.6l-2.4-2l-2.4 .6z"/>
<path color="#3d511a" d="M488.6 31.8l2.3-.1l-2.3-1.8l-2.4 .1z"/>
<path color="#8b651f" d="M466.9 24.4l2.5-.7l-2.5-2.1l-2.4 .7z"/>
<path color="#935b1e" d="M462.1 23.1l2.4-.8l-2.4-2.1l-2.4 .8z"/>
<path color="#555f1d" d="M483.8 30.3l2.4-.3l-2.4-1.8l-2.4 .3z"/>
<path color="#984c1c" d="M457.3 21.9l2.4-.9l-2.5-2.3l-2.4 .9z"/>
<path color="#9e3d1a" d="M452.4 20.6l2.4-1l-2.4-2.3l-2.4 1z"/>
<path color="#69691f" d="M479 28.9l2.4-.4l-2.4-1.9l-2.4 .4z"/>
<path color="#a12f19" d="M447.5 19.4l2.5-1.1l-2.5-2.4l-2.4 1.1z"/>
<path color="#787120" d="M474.2 27.6l2.4-.6l-2.4-1.9l-2.4 .6z"/>
<path color="#304b19" d="M490.9 33.4l2.4 0l-2.4-1.7l-2.3 .1z"/>
<path color="#846f20" d="M469.4 26.4l2.4-.7l-2.4-2l-2.5 .7z"/>
<path color="#8d6a20" d="M464.5 25.2l2.4-.8l-2.4-2.1l-2.4 .8z"/>
<path color="#4b5b1d" d="M486.2 32l2.4-.2l-2.4-1.8l-2.4 .3z"/>
<path color="#96611f" d="M459.7 24l2.4-.9l-2.4-2.1l-2.4 .9z"/>
<path color="#9b531e" d="M454.8 22.8l2.5-.9l-2.5-2.3l-2.4 1z"/>
<path color="#60671f" d="M481.4 30.7l2.4-.4l-2.4-1.8l-2.4 .4z"/>
<path color="#a1451c" d="M450 21.7l2.4-1.1l-2.4-2.3l-2.5 1.1z"/>
<path color="#a5361a" d="M445.1 20.5l2.4-1.1l-2.4-2.4l-2.4 1.1z"/>
<path color="#727021" d="M476.6 29.5l2.4-.6l-2.4-1.9l-2.4 .6z"/>
<path color="#244417" d="M493.3 35l2.4 0l-2.4-1.6l-2.4 0z"/>
<path color="#7d7621" d="M471.8 28.3l2.4-.7l-2.4-1.9l-2.4 .7z"/>
<path color="#867321" d="M466.9 27.2l2.5-.8l-2.5-2l-2.4 .8z"/>
<path color="#3e571c" d="M488.6 33.6l2.3-.2l-2.3-1.6l-2.4 .2z"/>
<path color="#906e21" d="M462.1 26.1l2.4-.9l-2.4-2.1l-2.4 .9z"/>
<path color="#996821" d="M457.3 25l2.4-1l-2.4-2.1l-2.5 .9z"/>
<path color="#57641f" d="M483.8 32.3l2.4-.3l-2.4-1.7l-2.4 .4z"/>
<path color="#9e5c1f" d="M452.4 23.9l2.4-1.1l-2.4-2.2l-2.4 1.1z"/>
<path color="#a34e1e" d="M447.6 22.8l2.4-1.1l-2.5-2.3l-2.4 1.1z"/>
<path color="#a8411c" d="M442.7 21.7l2.4-1.2l-2.4-2.4l-2.4 1.2z"/>
<path color="#6b6f21" d="M479 31.2l2.4-.5l-2.4-1.8l-2.4 .6z"/>
<path color="#193a15" d="M495.7 36.4l2.4 .1l-2.4-1.5l-2.4 0z"/>
<path color="#777522" d="M474.2 30.2l2.4-.7l-2.4-1.9l-2.4 .7z"/>
<path color="#807922" d="M469.4 29.1l2.4-.8l-2.4-1.9l-2.5 .8z"/>
<path color="#33511b" d="M490.9 35.1l2.4-.1l-2.4-1.6l-2.3 .2z"/>
<path color="#897822" d="M464.5 28.1l2.4-.9l-2.4-2l-2.4 .9z"/>
<path color="#927422" d="M459.7 27.1l2.4-1l-2.4-2.1l-2.4 1z"/>
<path color="#4c611f" d="M486.2 33.9l2.4-.3l-2.4-1.6l-2.4 .3z"/>
<path color="#9a6f22" d="M454.9 26l2.4-1l-2.5-2.2l-2.4 1.1z"/>
<path color="#a16521" d="M450 25l2.4-1.1l-2.4-2.2l-2.4 1.1z"/>
<path color="#a65920" d="M445.2 24l2.4-1.2l-2.5-2.3l-2.4 1.2z"/>
<path color="#aa4d1e" d="M440.3 23l2.4-1.3l-2.4-2.4l-2.4 1.4z"/>
<path color="#636d22" d="M481.4 32.9l2.4-.6l-2.4-1.6l-2.4 .5z"/>
<path color="#0f2d11" d="M498.1 37.8l2.3 .2l-2.3-1.5l-2.4-.1z"/>
<path color="#717423" d="M476.6 31.9l2.4-.7l-2.4-1.7l-2.4 .7z"/>
<path color="#7a7923" d="M471.8 31l2.4-.8l-2.4-1.9l-2.4 .8z"/>
<path color="#284a19" d="M493.3 36.5l2.4-.1l-2.4-1.4l-2.4 .1z"/>
<path color="#837d23" d="M467 30l2.4-.9l-2.5-1.9l-2.4 .9z"/>
<path color="#8b7e23" d="M462.1 29.1l2.4-1l-2.4-2l-2.4 1z"/>
<path color="#415e1f" d="M488.5 35.4l2.4-.3l-2.3-1.5l-2.4 .3z"/>
<path color="#937a23" d="M457.3 28.1l2.4-1l-2.4-2.1l-2.4 1z"/>
<path color="#9b7523" d="M452.5 27.2l2.4-1.2l-2.5-2.1l-2.4 1.1z"/>
<path color="#a37023" d="M447.6 26.3l2.4-1.3l-2.4-2.2l-2.4 1.2z"/>
<path color="#ac5b20" d="M437.9 24.4l2.4-1.4l-2.4-2.3l-2.4 1.4z"/>
<path color="#a86622" d="M442.8 25.3l2.4-1.3l-2.5-2.3l-2.4 1.3z"/>
<path color="#5a6c22" d="M483.8 34.5l2.4-.6l-2.4-1.6l-2.4 .6z"/>
<path color="#061c0b" d="M500.4 39.1l2.4 .2l-2.4-1.3l-2.3-.2z"/>
<path color="#6a7323" d="M479 33.6l2.4-.7l-2.4-1.7l-2.4 .7z"/>
<path color="#747824" d="M474.2 32.7l2.4-.8l-2.4-1.7l-2.4 .8z"/>
<path color="#1e4117" d="M495.7 37.9l2.4-.1l-2.4-1.4l-2.4 .1z"/>
<path color="#7d7c24" d="M469.4 31.8l2.4-.8l-2.4-1.9l-2.4 .9z"/>
<path color="#858024" d="M464.5 30.9l2.5-.9l-2.5-1.9l-2.4 1z"/>
<path color="#37591e" d="M490.9 36.8l2.4-.3l-2.4-1.4l-2.4 .3z"/>
<path color="#8d8325" d="M459.7 30.1l2.4-1l-2.4-2l-2.4 1z"/>
<path color="#948125" d="M454.9 29.2l2.4-1.1l-2.4-2.1l-2.4 1.2z"/>
<path color="#9c7d25" d="M450.1 28.4l2.4-1.2l-2.5-2.2l-2.4 1.3z"/>
<path color="#ae6a23" d="M435.5 25.9l2.4-1.5l-2.4-2.3l-2.4 1.4z"/>
<path color="#a37925" d="M445.2 27.6l2.4-1.3l-2.4-2.3l-2.4 1.3z"/>
<path color="#aa7424" d="M440.4 26.7l2.4-1.4l-2.5-2.3l-2.4 1.4z"/>
<path color="#506922" d="M486.1 36l2.4-.6l-2.3-1.5l-2.4 .6z"/>
<path color="#000502" d="M502.8 40.3l2.4 .2l-2.4-1.2l-2.4-.2z"/>
<path color="#627224" d="M481.4 35.1l2.4-.6l-2.4-1.6l-2.4 .7z"/>
<path color="#143514" d="M498.1 39.1l2.3 0l-2.3-1.3l-2.4 .1z"/>
<path color="#6e7725" d="M476.6 34.3l2.4-.7l-2.4-1.7l-2.4 .8z"/>
<path color="#777c25" d="M471.8 33.5l2.4-.8l-2.4-1.7l-2.4 .8z"/>
<path color="#7f8026" d="M467 32.8l2.4-1l-2.4-1.8l-2.5 .9z"/>
<path color="#2e531c" d="M493.3 38.1l2.4-.2l-2.4-1.4l-2.4 .3z"/>
<path color="#878426" d="M462.1 32l2.4-1.1l-2.4-1.8l-2.4 1z"/>
<path color="#8e8726" d="M457.3 31.2l2.4-1.1l-2.4-2l-2.4 1.1z"/>
<path color="#af7a26" d="M433.2 27.5l2.3-1.6l-2.4-2.4l-2.4 1.6z"/>
<path color="#958826" d="M452.5 30.4l2.4-1.2l-2.4-2l-2.4 1.2z"/>
<path color="#a97e26" d="M438 28.2l2.4-1.5l-2.5-2.3l-2.4 1.5z"/>
<path color="#466622" d="M488.5 37.3l2.4-.5l-2.4-1.4l-2.4 .6z"/>
<path color="#9c8526" d="M447.7 29.7l2.4-1.3l-2.5-2.1l-2.4 1.3z"/>
<path color="#a28226" d="M442.8 28.9l2.4-1.3l-2.4-2.3l-2.4 1.4z"/>
<path color="#000000" d="M505.2 41.4l2.4 .3l-2.4-1.2l-2.4-.2z"/>
<path color="#587024" d="M483.7 36.6l2.4-.6l-2.3-1.5l-2.4 .6z"/>
<path color="#0b260f" d="M500.5 40.3l2.3 0l-2.4-1.2l-2.3 0z"/>
<path color="#667625" d="M479 35.9l2.4-.8l-2.4-1.5l-2.4 .7z"/>
<path color="#727b26" d="M474.2 35.2l2.4-.9l-2.4-1.6l-2.4 .8z"/>
<path color="#7a8026" d="M469.4 34.5l2.4-1l-2.4-1.7l-2.4 1z"/>
<path color="#244b1a" d="M495.7 39.4l2.4-.3l-2.4-1.2l-2.4 .2z"/>
<path color="#818427" d="M464.6 33.8l2.4-1l-2.5-1.9l-2.4 1.1z"/>
<path color="#aa8427" d="M430.8 29.1l2.4-1.6l-2.5-2.4l-2.4 1.7z"/>
<path color="#888727" d="M459.7 33.1l2.4-1.1l-2.4-1.9l-2.4 1.1z"/>
<path color="#a68727" d="M435.6 29.8l2.4-1.6l-2.5-2.3l-2.3 1.6z"/>
<path color="#8f8a27" d="M454.9 32.4l2.4-1.2l-2.4-2l-2.4 1.2z"/>
<path color="#a08b27" d="M440.4 30.4l2.4-1.5l-2.4-2.2l-2.4 1.5z"/>
<path color="#3d6221" d="M490.9 38.6l2.4-.5l-2.4-1.3l-2.4 .5z"/>
<path color="#958d27" d="M450.1 31.7l2.4-1.3l-2.4-2l-2.4 1.3z"/>
<path color="#000000" d="M507.6 42.4l2.3 .4l-2.3-1.1l-2.4-.3z"/>
<path color="#9b8e27" d="M445.3 31.1l2.4-1.4l-2.5-2.1l-2.4 1.3z"/>
<path color="#4f6e24" d="M486.1 38l2.4-.7l-2.4-1.3l-2.4 .6z"/>
<path color="#031308" d="M502.8 41.3l2.4 .1l-2.4-1.1l-2.3 0z"/>
<path color="#5d7525" d="M481.3 37.4l2.4-.8l-2.3-1.5l-2.4 .8z"/>
<path color="#6a7a26" d="M476.6 36.7l2.4-.8l-2.4-1.6l-2.4 .9z"/>
<path color="#747f27" d="M471.8 36.1l2.4-.9l-2.4-1.7l-2.4 1z"/>
<path color="#1b4118" d="M498.1 40.5l2.4-.2l-2.4-1.2l-2.4 .3z"/>
<path color="#a58f28" d="M428.4 30.9l2.4-1.8l-2.5-2.3l-2.4 1.7z"/>
<path color="#7b8328" d="M467 35.5l2.4-1l-2.4-1.7l-2.4 1z"/>
<path color="#a19128" d="M433.2 31.4l2.4-1.6l-2.4-2.3l-2.4 1.6z"/>
<path color="#828728" d="M462.1 34.9l2.5-1.1l-2.5-1.8l-2.4 1.1z"/>
<path color="#9d9329" d="M438.1 32l2.3-1.6l-2.4-2.2l-2.4 1.6z"/>
<path color="#898b29" d="M457.3 34.3l2.4-1.2l-2.4-1.9l-2.4 1.2z"/>
<path color="#355e20" d="M493.3 39.8l2.4-.4l-2.4-1.3l-2.4 .5z"/>
<path color="#989129" d="M442.9 32.5l2.4-1.4l-2.5-2.2l-2.4 1.5z"/>
<path color="#000000" d="M510 43.3l2.3 .4l-2.4-.9l-2.3-.4z"/>
<path color="#8e8d29" d="M452.5 33.7l2.4-1.3l-2.4-2l-2.4 1.3z"/>
<path color="#938f29" d="M447.7 33.1l2.4-1.4l-2.4-2l-2.4 1.4z"/>
<path color="#476b24" d="M488.5 39.3l2.4-.7l-2.4-1.3l-2.4 .7z"/>
<path color="#000000" d="M505.2 42.3l2.4 .1l-2.4-1l-2.4-.1z"/>
<path color="#547326" d="M483.7 38.7l2.4-.7l-2.4-1.4l-2.4 .8z"/>
<path color="#607927" d="M478.9 38.2l2.4-.8l-2.3-1.5l-2.4 .8z"/>
<path color="#a0972a" d="M426 32.7l2.4-1.8l-2.5-2.4l-2.3 1.8z"/>
<path color="#6d7e28" d="M474.2 37.6l2.4-.9l-2.4-1.5l-2.4 .9z"/>
<path color="#123514" d="M500.5 41.5l2.3-.2l-2.3-1l-2.4 .2z"/>
<path color="#9c952a" d="M430.9 33.2l2.3-1.8l-2.4-2.3l-2.4 1.8z"/>
<path color="#768329" d="M469.4 37.1l2.4-1l-2.4-1.6l-2.4 1z"/>
<path color="#99942a" d="M435.7 33.6l2.4-1.6l-2.5-2.2l-2.4 1.6z"/>
<path color="#7c8729" d="M464.6 36.6l2.4-1.1l-2.4-1.7l-2.5 1.1z"/>
<path color="#95932a" d="M440.5 34.1l2.4-1.6l-2.5-2.1l-2.3 1.6z"/>
<path color="#828a29" d="M459.8 36.1l2.3-1.2l-2.4-1.8l-2.4 1.2z"/>
<path color="#2d571f" d="M495.7 41l2.4-.5l-2.4-1.1l-2.4 .4z"/>
<path color="#000000" d="M512.3 44.1l2.4 .5l-2.4-.9l-2.3-.4z"/>
<path color="#91912a" d="M445.3 34.6l2.4-1.5l-2.4-2l-2.4 1.4z"/>
<path color="#878c2a" d="M454.9 35.6l2.4-1.3l-2.4-1.9l-2.4 1.3z"/>
<path color="#8c8f2a" d="M450.1 35.1l2.4-1.4l-2.4-2l-2.4 1.4z"/>
<path color="#3e6823" d="M490.9 40.5l2.4-.7l-2.4-1.2l-2.4 .7z"/>
<path color="#000000" d="M507.6 43.2l2.4 .1l-2.4-.9l-2.4-.1z"/>
<path color="#4b7025" d="M486.1 40l2.4-.7l-2.4-1.3l-2.4 .7z"/>
<path color="#9a982b" d="M423.7 34.6l2.3-1.9l-2.4-2.4l-2.4 2z"/>
<path color="#587727" d="M481.3 39.5l2.4-.8l-2.4-1.3l-2.4 .8z"/>
<path color="#98972b" d="M428.5 35l2.4-1.8l-2.5-2.3l-2.4 1.8z"/>
<path color="#637d28" d="M476.5 39.1l2.4-.9l-2.3-1.5l-2.4 .9z"/>
<path color="#0a250f" d="M502.8 42.5l2.4-.2l-2.4-1l-2.3 .2z"/>
<path color="#95962b" d="M433.3 35.3l2.4-1.7l-2.5-2.2l-2.3 1.8z"/>
<path color="#6d8129" d="M471.8 38.6l2.4-1l-2.4-1.5l-2.4 1z"/>
<path color="#91942b" d="M438.1 35.7l2.4-1.6l-2.4-2.1l-2.4 1.6z"/>
<path color="#74852a" d="M467 38.2l2.4-1.1l-2.4-1.6l-2.4 1.1z"/>
<path color="#8e922b" d="M442.9 36.1l2.4-1.5l-2.4-2.1l-2.4 1.6z"/>
<path color="#7b892a" d="M462.2 37.8l2.4-1.2l-2.5-1.7l-2.3 1.2z"/>
<path color="#000000" d="M514.7 44.8l2.4 .5l-2.4-.7l-2.4-.5z"/>
<path color="#254f1c" d="M498.1 42l2.4-.5l-2.4-1l-2.4 .5z"/>
<path color="#8a902b" d="M447.7 36.5l2.4-1.4l-2.4-2l-2.4 1.5z"/>
<path color="#818c2a" d="M457.4 37.3l2.4-1.2l-2.5-1.8l-2.4 1.3z"/>
<path color="#858e2b" d="M452.6 36.9l2.3-1.3l-2.4-1.9l-2.4 1.4z"/>
<path color="#376222" d="M493.3 41.6l2.4-.6l-2.4-1.2l-2.4 .7z"/>
<path color="#949a2d" d="M421.3 36.6l2.4-2l-2.5-2.3l-2.3 2z"/>
<path color="#000000" d="M510 43.9l2.3 .2l-2.3-.8l-2.4-.1z"/>
<path color="#436c25" d="M488.5 41.2l2.4-.7l-2.4-1.2l-2.4 .7z"/>
<path color="#92992d" d="M426.1 36.9l2.4-1.9l-2.5-2.3l-2.3 1.9z"/>
<path color="#4f7427" d="M483.7 40.8l2.4-.8l-2.4-1.3l-2.4 .8z"/>
<path color="#90972d" d="M431 37.2l2.3-1.9l-2.4-2.1l-2.4 1.8z"/>
<path color="#5a7a28" d="M478.9 40.4l2.4-.9l-2.4-1.3l-2.4 .9z"/>
<path color="#021007" d="M505.2 43.3l2.4-.1l-2.4-.9l-2.4 .2z"/>
<path color="#8d962d" d="M435.8 37.5l2.3-1.8l-2.4-2.1l-2.4 1.7z"/>
<path color="#647f29" d="M474.1 40.1l2.4-1l-2.3-1.5l-2.4 1z"/>
<path color="#8a942c" d="M440.6 37.7l2.3-1.6l-2.4-2l-2.4 1.6z"/>
<path color="#6c842a" d="M469.4 39.7l2.4-1.1l-2.4-1.5l-2.4 1.1z"/>
<path color="#87922c" d="M445.4 38.1l2.3-1.6l-2.4-1.9l-2.4 1.5z"/>
<path color="#72882b" d="M464.6 39.4l2.4-1.2l-2.4-1.6l-2.4 1.2z"/>
<path color="#000000" d="M517.1 45.4l2.3 .6l-2.3-.7l-2.4-.5z"/>
<path color="#1c451a" d="M500.5 42.9l2.3-.4l-2.3-1l-2.4 .5z"/>
<path color="#83902c" d="M450.2 38.4l2.4-1.5l-2.5-1.8l-2.4 1.4z"/>
<path color="#788b2b" d="M459.8 39l2.4-1.2l-2.4-1.7l-2.4 1.2z"/>
<path color="#7e8d2c" d="M455 38.7l2.4-1.4l-2.5-1.7l-2.3 1.3z"/>
<path color="#8e9b2f" d="M419 38.7l2.3-2.1l-2.4-2.3l-2.4 2.1z"/>
<path color="#2e5b20" d="M495.7 42.6l2.4-.6l-2.4-1l-2.4 .6z"/>
<path color="#8c9a2f" d="M423.8 38.9l2.3-2l-2.4-2.3l-2.4 2z"/>
<path color="#000000" d="M512.4 44.6l2.3 .2l-2.4-.7l-2.3-.2z"/>
<path color="#3b6623" d="M490.9 42.3l2.4-.7l-2.4-1.1l-2.4 .7z"/>
<path color="#8a992f" d="M428.6 39.1l2.4-1.9l-2.5-2.2l-2.4 1.9z"/>
<path color="#467026" d="M486.1 42l2.4-.8l-2.4-1.2l-2.4 .8z"/>
<path color="#87982e" d="M433.4 39.3l2.4-1.8l-2.5-2.2l-2.3 1.9z"/>
<path color="#517728" d="M481.3 41.7l2.4-.9l-2.4-1.3l-2.4 .9z"/>
<path color="#000000" d="M507.6 44l2.4-.1l-2.4-.7l-2.4 .1z"/>
<path color="#84962e" d="M438.2 39.5l2.4-1.8l-2.5-2l-2.3 1.8z"/>
<path color="#5b7d29" d="M476.5 41.4l2.4-1l-2.4-1.3l-2.4 1z"/>
<path color="#81942e" d="M443 39.7l2.4-1.6l-2.5-2l-2.3 1.6z"/>
<path color="#64822a" d="M471.8 41.1l2.3-1l-2.3-1.5l-2.4 1.1z"/>
<path color="#819d31" d="M416.7 40.9l2.3-2.2l-2.5-2.3l-2.3 2.2z"/>
<path color="#7d922d" d="M447.8 39.9l2.4-1.5l-2.5-1.9l-2.3 1.6z"/>
<path color="#6a862b" d="M467 40.9l2.4-1.2l-2.4-1.5l-2.4 1.2z"/>
<path color="#000000" d="M519.5 46l2.3 .6l-2.4-.6l-2.3-.6z"/>
<path color="#143915" d="M502.8 43.7l2.4-.4l-2.4-.8l-2.3 .4z"/>
<path color="#79902d" d="M452.6 40.1l2.4-1.4l-2.4-1.8l-2.4 1.5z"/>
<path color="#6f8a2c" d="M462.2 40.6l2.4-1.2l-2.4-1.6l-2.4 1.2z"/>
<path color="#748d2c" d="M457.4 40.4l2.4-1.4l-2.4-1.7l-2.4 1.4z"/>
<path color="#809d31" d="M421.5 41l2.3-2.1l-2.5-2.3l-2.3 2.1z"/>
<path color="#26531e" d="M498.1 43.5l2.4-.6l-2.4-.9l-2.4 .6z"/>
<path color="#7f9b31" d="M426.2 41.1l2.4-2l-2.5-2.2l-2.3 2z"/>
<path color="#000000" d="M514.8 45.2l2.3 .2l-2.4-.6l-2.3-.2z"/>
<path color="#336022" d="M493.3 43.3l2.4-.7l-2.4-1l-2.4 .7z"/>
<path color="#7d9a30" d="M431 41.2l2.4-1.9l-2.4-2.1l-2.4 1.9z"/>
<path color="#3e6a25" d="M488.5 43l2.4-.7l-2.4-1.1l-2.4 .8z"/>
<path color="#7b9830" d="M435.8 41.3l2.4-1.8l-2.4-2l-2.4 1.8z"/>
<path color="#739f34" d="M414.4 43.2l2.3-2.3l-2.5-2.3l-2.3 2.2z"/>
<path color="#497327" d="M483.7 42.8l2.4-.8l-2.4-1.2l-2.4 .9z"/>
<path color="#000000" d="M510 44.7l2.4-.1l-2.4-.7l-2.4 .1z"/>
<path color="#79962f" d="M440.6 41.4l2.4-1.7l-2.4-2l-2.4 1.8z"/>
<path color="#537a29" d="M478.9 42.6l2.4-.9l-2.4-1.3l-2.4 1z"/>
<path color="#76942f" d="M445.4 41.5l2.4-1.6l-2.4-1.8l-2.4 1.6z"/>
<path color="#5c802a" d="M474.1 42.5l2.4-1.1l-2.4-1.3l-2.3 1z"/>
<path color="#749f33" d="M419.1 43.2l2.4-2.2l-2.5-2.3l-2.3 2.2z"/>
<path color="#73922e" d="M450.2 41.7l2.4-1.6l-2.4-1.7l-2.4 1.5z"/>
<path color="#62842b" d="M469.4 42.3l2.4-1.2l-2.4-1.4l-2.4 1.2z"/>
<path color="#000000" d="M521.9 46.4l2.3 .7l-2.4-.5l-2.3-.6z"/>
<path color="#0b2910" d="M505.2 44.4l2.4-.4l-2.4-.7l-2.4 .4z"/>
<path color="#708f2e" d="M455 41.8l2.4-1.4l-2.4-1.7l-2.4 1.4z"/>
<path color="#67882c" d="M464.6 42.1l2.4-1.2l-2.4-1.5l-2.4 1.2z"/>
<path color="#6c8c2d" d="M459.8 42l2.4-1.4l-2.4-1.6l-2.4 1.4z"/>
<path color="#739e33" d="M423.9 43.2l2.3-2.1l-2.4-2.2l-2.3 2.1z"/>
<path color="#1e491b" d="M500.4 44.3l2.4-.6l-2.3-.8l-2.4 .6z"/>
<path color="#739c32" d="M428.7 43.2l2.3-2l-2.4-2.1l-2.4 2z"/>
<path color="#000000" d="M517.2 45.6l2.3 .4l-2.4-.6l-2.3-.2z"/>
<path color="#2b581f" d="M495.7 44.1l2.4-.6l-2.4-.9l-2.4 .7z"/>
<path color="#65a036" d="M412.1 45.6l2.3-2.4l-2.5-2.4l-2.3 2.4z"/>
<path color="#729a32" d="M433.5 43.2l2.3-1.9l-2.4-2l-2.4 1.9z"/>
<path color="#376423" d="M490.9 44l2.4-.7l-2.4-1l-2.4 .7z"/>
<path color="#719831" d="M438.2 43.2l2.4-1.8l-2.4-1.9l-2.4 1.8z"/>
<path color="#67a036" d="M416.8 45.5l2.3-2.3l-2.4-2.3l-2.3 2.3z"/>
<path color="#426e26" d="M486.1 43.9l2.4-.9l-2.4-1l-2.4 .8z"/>
<path color="#000000" d="M512.4 45.2l2.4 0l-2.4-.6l-2.4 .1z"/>
<path color="#6f9631" d="M443 43.2l2.4-1.7l-2.4-1.8l-2.4 1.7z"/>
<path color="#4b7628" d="M481.3 43.8l2.4-1l-2.4-1.1l-2.4 .9z"/>
<path color="#6d9430" d="M447.8 43.3l2.4-1.6l-2.4-1.8l-2.4 1.6z"/>
<path color="#547d2a" d="M476.5 43.7l2.4-1.1l-2.4-1.2l-2.4 1.1z"/>
<path color="#689f35" d="M421.6 45.4l2.3-2.2l-2.4-2.2l-2.4 2.2z"/>
<path color="#6a912f" d="M452.6 43.3l2.4-1.5l-2.4-1.7l-2.4 1.6z"/>
<path color="#5b822b" d="M471.7 43.6l2.4-1.1l-2.3-1.4l-2.4 1.2z"/>
<path color="#000000" d="M524.3 46.7l2.3 .7l-2.4-.3l-2.3-.7z"/>
<path color="#041509" d="M507.6 45l2.4-.3l-2.4-.7l-2.4 .4z"/>
<path color="#678e2f" d="M457.4 43.4l2.4-1.4l-2.4-1.6l-2.4 1.4z"/>
<path color="#60872d" d="M467 43.5l2.4-1.2l-2.4-1.4l-2.4 1.2z"/>
<path color="#648b2e" d="M462.2 43.4l2.4-1.3l-2.4-1.5l-2.4 1.4z"/>
<path color="#55a039" d="M409.8 48l2.3-2.4l-2.5-2.4l-2.3 2.5z"/>
<path color="#689e35" d="M426.3 45.3l2.4-2.1l-2.5-2.1l-2.3 2.1z"/>
<path color="#163d17" d="M502.8 45l2.4-.6l-2.4-.7l-2.4 .6z"/>
<path color="#689c34" d="M431.1 45.2l2.4-2l-2.5-2l-2.3 2z"/>
<path color="#000000" d="M519.6 46l2.3 .4l-2.4-.4l-2.3-.4z"/>
<path color="#234f1d" d="M498.1 44.9l2.3-.6l-2.3-.8l-2.4 .6z"/>
<path color="#59a038" d="M414.5 47.8l2.3-2.3l-2.4-2.3l-2.3 2.4z"/>
<path color="#689a33" d="M435.9 45.1l2.3-1.9l-2.4-1.9l-2.3 1.9z"/>
<path color="#2f5d21" d="M493.3 44.9l2.4-.8l-2.4-.8l-2.4 .7z"/>
<path color="#679832" d="M440.7 45l2.3-1.8l-2.4-1.8l-2.4 1.8z"/>
<path color="#5ca038" d="M419.3 47.6l2.3-2.2l-2.5-2.2l-2.3 2.3z"/>
<path color="#3a6824" d="M488.5 44.9l2.4-.9l-2.4-1l-2.4 .9z"/>
<path color="#000000" d="M514.8 45.7l2.4-.1l-2.4-.4l-2.4 0z"/>
<path color="#669632" d="M445.4 45l2.4-1.7l-2.4-1.8l-2.4 1.7z"/>
<path color="#469e3c" d="M407.5 50.6l2.3-2.6l-2.5-2.3l-2.3 2.5z"/>
<path color="#447127" d="M483.7 44.8l2.4-.9l-2.4-1.1l-2.4 1z"/>
<path color="#649331" d="M450.2 44.9l2.4-1.6l-2.4-1.6l-2.4 1.6z"/>
<path color="#4d7929" d="M478.9 44.8l2.4-1l-2.4-1.2l-2.4 1.1z"/>
<path color="#5d9e37" d="M424 47.4l2.3-2.1l-2.4-2.1l-2.3 2.2z"/>
<path color="#629030" d="M455 44.9l2.4-1.5l-2.4-1.6l-2.4 1.5z"/>
<path color="#547f2b" d="M474.1 44.8l2.4-1.1l-2.4-1.2l-2.4 1.1z"/>
<path color="#000000" d="M526.7 46.9l2.3 .8l-2.4-.3l-2.3-.7z"/>
<path color="#000000" d="M510 45.6l2.4-.4l-2.4-.5l-2.4 .3z"/>
<path color="#608d2f" d="M459.8 44.9l2.4-1.5l-2.4-1.4l-2.4 1.4z"/>
<path color="#59842d" d="M469.4 44.8l2.3-1.2l-2.3-1.3l-2.4 1.2z"/>
<path color="#5d892e" d="M464.6 44.8l2.4-1.3l-2.4-1.4l-2.4 1.3z"/>
<path color="#489f3b" d="M412.2 50.3l2.3-2.5l-2.4-2.2l-2.3 2.4z"/>
<path color="#5e9d36" d="M428.8 47.3l2.3-2.1l-2.4-2l-2.4 2.1z"/>
<path color="#0e2e12" d="M505.2 45.6l2.4-.6l-2.4-.6l-2.4 .6z"/>
<path color="#5f9b35" d="M433.5 47.1l2.4-2l-2.4-1.9l-2.4 2z"/>
<path color="#000000" d="M522 46.3l2.3 .4l-2.4-.3l-2.3-.4z"/>
<path color="#1b4419" d="M500.4 45.6l2.4-.6l-2.4-.7l-2.3 .6z"/>
<path color="#4aa03a" d="M417 50l2.3-2.4l-2.5-2.1l-2.3 2.3z"/>
<path color="#5f9934" d="M438.3 46.9l2.4-1.9l-2.5-1.8l-2.3 1.9z"/>
<path color="#28551f" d="M495.7 45.7l2.4-.8l-2.4-.8l-2.4 .8z"/>
<path color="#5f9733" d="M443.1 46.8l2.3-1.8l-2.4-1.8l-2.3 1.8z"/>
<path color="#4e9f3a" d="M421.7 49.7l2.3-2.3l-2.4-2l-2.3 2.2z"/>
<path color="#336223" d="M490.9 45.7l2.4-.8l-2.4-.9l-2.4 .9z"/>
<path color="#000000" d="M517.2 46l2.4 0l-2.4-.4l-2.4 .1z"/>
<path color="#409c3e" d="M409.9 52.9l2.3-2.6l-2.4-2.3l-2.3 2.6z"/>
<path color="#5e9432" d="M447.8 46.6l2.4-1.7l-2.4-1.6l-2.4 1.7z"/>
<path color="#3d6c26" d="M486.1 45.8l2.4-.9l-2.4-1l-2.4 .9z"/>
<path color="#5d9231" d="M452.6 46.5l2.4-1.6l-2.4-1.6l-2.4 1.6z"/>
<path color="#467528" d="M481.3 45.9l2.4-1.1l-2.4-1l-2.4 1z"/>
<path color="#519d38" d="M426.4 49.4l2.4-2.1l-2.5-2l-2.3 2.1z"/>
<path color="#5c8e30" d="M457.4 46.4l2.4-1.5l-2.4-1.5l-2.4 1.5z"/>
<path color="#4e7c2a" d="M476.5 45.9l2.4-1.1l-2.4-1.1l-2.4 1.1z"/>
<path color="#5a8b2f" d="M462.2 46.2l2.4-1.4l-2.4-1.4l-2.4 1.5z"/>
<path color="#000000" d="M512.4 46l2.4-.3l-2.4-.5l-2.4 .4z"/>
<path color="#54812c" d="M471.7 46l2.4-1.2l-2.4-1.2l-2.3 1.2z"/>
<path color="#57862e" d="M467 46.1l2.4-1.3l-2.4-1.3l-2.4 1.3z"/>
<path color="#429d3e" d="M414.7 52.5l2.3-2.5l-2.5-2.2l-2.3 2.5z"/>
<path color="#539c37" d="M431.2 49.2l2.3-2.1l-2.4-1.9l-2.3 2.1z"/>
<path color="#061c0b" d="M507.6 46.1l2.4-.5l-2.4-.6l-2.4 .6z"/>
<path color="#559a36" d="M435.9 48.9l2.4-2l-2.4-1.8l-2.4 2z"/>
<path color="#000000" d="M524.4 46.4l2.3 .5l-2.4-.2l-2.3-.4z"/>
<path color="#133715" d="M502.8 46.2l2.4-.6l-2.4-.6l-2.4 .6z"/>
<path color="#449d3d" d="M419.4 52.1l2.3-2.4l-2.4-2.1l-2.3 2.4z"/>
<path color="#569835" d="M440.7 48.7l2.4-1.9l-2.4-1.8l-2.4 1.9z"/>
<path color="#204b1b" d="M498.1 46.4l2.3-.8l-2.3-.7l-2.4 .8z"/>
<path color="#579634" d="M445.5 48.4l2.3-1.8l-2.4-1.6l-2.3 1.8z"/>
<path color="#459d3b" d="M424.1 51.7l2.3-2.3l-2.4-2l-2.3 2.3z"/>
<path color="#2c5a20" d="M493.3 46.5l2.4-.8l-2.4-.8l-2.4 .8z"/>
<path color="#000000" d="M519.6 46.2l2.4 .1l-2.4-.3l-2.4 0z"/>
<path color="#3d9b45" d="M412.4 55l2.3-2.5l-2.5-2.2l-2.3 2.6z"/>
<path color="#579333" d="M450.2 48.2l2.4-1.7l-2.4-1.6l-2.4 1.7z"/>
<path color="#366624" d="M488.5 46.6l2.4-.9l-2.4-.8l-2.4 .9z"/>
<path color="#579032" d="M455 48l2.4-1.6l-2.4-1.5l-2.4 1.6z"/>
<path color="#3f7027" d="M483.7 46.8l2.4-1l-2.4-1l-2.4 1.1z"/>
<path color="#479c3a" d="M428.9 51.3l2.3-2.1l-2.4-1.9l-2.4 2.1z"/>
<path color="#558c31" d="M459.8 47.7l2.4-1.5l-2.4-1.3l-2.4 1.5z"/>
<path color="#47782a" d="M478.9 47l2.4-1.1l-2.4-1.1l-2.4 1.1z"/>
<path color="#54882f" d="M464.6 47.5l2.4-1.4l-2.4-1.3l-2.4 1.4z"/>
<path color="#4d7e2c" d="M474.1 47.2l2.4-1.3l-2.4-1.1l-2.4 1.2z"/>
<path color="#000000" d="M514.8 46.3l2.4-.3l-2.4-.3l-2.4 .3z"/>
<path color="#52842e" d="M469.3 47.3l2.4-1.3l-2.3-1.2l-2.4 1.3z"/>
<path color="#3e9b42" d="M417.1 54.6l2.3-2.5l-2.4-2.1l-2.3 2.5z"/>
<path color="#489b39" d="M433.6 51l2.3-2.1l-2.4-1.8l-2.3 2.1z"/>
<path color="#000402" d="M510 46.5l2.4-.5l-2.4-.4l-2.4 .5z"/>
<path color="#4b9938" d="M438.4 50.6l2.3-1.9l-2.4-1.8l-2.4 2z"/>
<path color="#0a260f" d="M505.2 46.7l2.4-.6l-2.4-.5l-2.4 .6z"/>
<path color="#3f9b3f" d="M421.8 54.1l2.3-2.4l-2.4-2l-2.3 2.4z"/>
<path color="#4d9736" d="M443.1 50.3l2.4-1.9l-2.4-1.6l-2.4 1.9z"/>
<path color="#183f17" d="M500.5 46.9l2.3-.7l-2.4-.6l-2.3 .8z"/>
<path color="#4e9435" d="M447.9 50l2.3-1.8l-2.4-1.6l-2.3 1.8z"/>
<path color="#409a3d" d="M426.5 53.6l2.4-2.3l-2.5-1.9l-2.3 2.3z"/>
<path color="#24511d" d="M495.7 47.2l2.4-.8l-2.4-.7l-2.4 .8z"/>
<path color="#000000" d="M522 46.3l2.4 .1l-2.4-.1l-2.4-.1z"/>
<path color="#3b9b4c" d="M414.8 57.1l2.3-2.5l-2.4-2.1l-2.3 2.5z"/>
<path color="#509134" d="M452.6 49.6l2.4-1.6l-2.4-1.5l-2.4 1.7z"/>
<path color="#2f5f22" d="M490.9 47.4l2.4-.9l-2.4-.8l-2.4 .9z"/>
<path color="#508e32" d="M457.4 49.3l2.4-1.6l-2.4-1.3l-2.4 1.6z"/>
<path color="#396a26" d="M486.1 47.6l2.4-1l-2.4-.8l-2.4 1z"/>
<path color="#42993c" d="M431.3 53.2l2.3-2.2l-2.4-1.8l-2.3 2.1z"/>
<path color="#508a31" d="M462.2 49l2.4-1.5l-2.4-1.3l-2.4 1.5z"/>
<path color="#417328" d="M481.3 47.9l2.4-1.1l-2.4-.9l-2.4 1.1z"/>
<path color="#4f862f" d="M467 48.7l2.3-1.4l-2.3-1.2l-2.4 1.4z"/>
<path color="#477a2b" d="M476.5 48.2l2.4-1.2l-2.4-1.1l-2.4 1.3z"/>
<path color="#4d802d" d="M471.7 48.4l2.4-1.2l-2.4-1.2l-2.4 1.3z"/>
<path color="#000000" d="M517.2 46.5l2.4-.3l-2.4-.2l-2.4 .3z"/>
<path color="#3c9b48" d="M419.5 56.5l2.3-2.4l-2.4-2l-2.3 2.5z"/>
<path color="#43983a" d="M436 52.7l2.4-2.1l-2.5-1.7l-2.3 2.1z"/>
<path color="#000000" d="M512.4 46.8l2.4-.5l-2.4-.3l-2.4 .5z"/>
<path color="#449739" d="M440.8 52.3l2.3-2l-2.4-1.6l-2.3 1.9z"/>
<path color="#3c9a44" d="M424.2 56l2.3-2.4l-2.4-1.9l-2.3 2.4z"/>
<path color="#031207" d="M507.6 47.1l2.4-.6l-2.4-.4l-2.4 .6z"/>
<path color="#459537" d="M445.5 51.8l2.4-1.8l-2.4-1.6l-2.4 1.9z"/>
<path color="#0f3012" d="M502.8 47.4l2.4-.7l-2.4-.5l-2.3 .7z"/>
<path color="#479336" d="M450.3 51.4l2.3-1.8l-2.4-1.4l-2.3 1.8z"/>
<path color="#3d9841" d="M428.9 55.4l2.4-2.2l-2.4-1.9l-2.4 2.3z"/>
<path color="#1c461a" d="M498.1 47.7l2.4-.8l-2.4-.5l-2.4 .8z"/>
<path color="#399954" d="M417.2 59.1l2.3-2.6l-2.4-1.9l-2.3 2.5z"/>
<path color="#498f34" d="M455 51l2.4-1.7l-2.4-1.3l-2.4 1.6z"/>
<path color="#28561f" d="M493.3 48l2.4-.8l-2.4-.7l-2.4 .9z"/>
<path color="#4a8c32" d="M459.8 50.6l2.4-1.6l-2.4-1.3l-2.4 1.6z"/>
<path color="#326324" d="M488.5 48.4l2.4-1l-2.4-.8l-2.4 1z"/>
<path color="#3d973d" d="M433.7 54.9l2.3-2.2l-2.4-1.7l-2.3 2.2z"/>
<path color="#4a8831" d="M464.6 50.2l2.4-1.5l-2.4-1.2l-2.4 1.5z"/>
<path color="#3b6e27" d="M483.7 48.7l2.4-1.1l-2.4-.8l-2.4 1.1z"/>
<path color="#4a832f" d="M469.3 49.8l2.4-1.4l-2.4-1.1l-2.3 1.4z"/>
<path color="#42762a" d="M478.9 49.1l2.4-1.2l-2.4-.9l-2.4 1.2z"/>
<path color="#477d2c" d="M474.1 49.5l2.4-1.3l-2.4-1l-2.4 1.2z"/>
<path color="#000000" d="M519.6 46.6l2.4-.3l-2.4-.1l-2.4 .3z"/>
<path color="#3a994f" d="M421.9 58.4l2.3-2.4l-2.4-1.9l-2.3 2.4z"/>
<path color="#3f963b" d="M438.4 54.3l2.4-2l-2.4-1.7l-2.4 2.1z"/>
<path color="#000000" d="M514.8 47l2.4-.5l-2.4-.2l-2.4 .5z"/>
<path color="#40943a" d="M443.2 53.8l2.3-2l-2.4-1.5l-2.3 2z"/>
<path color="#3a9949" d="M426.6 57.8l2.3-2.4l-2.4-1.8l-2.3 2.4z"/>
<path color="#000000" d="M510 47.4l2.4-.6l-2.4-.3l-2.4 .6z"/>
<path color="#419238" d="M447.9 53.3l2.4-1.9l-2.4-1.4l-2.4 1.8z"/>
<path color="#071d0c" d="M505.2 47.8l2.4-.7l-2.4-.4l-2.4 .7z"/>
<path color="#419036" d="M452.7 52.8l2.3-1.8l-2.4-1.4l-2.3 1.8z"/>
<path color="#3b9745" d="M431.3 57.1l2.4-2.2l-2.4-1.7l-2.4 2.2z"/>
<path color="#143815" d="M500.5 48.2l2.3-.8l-2.3-.5l-2.4 .8z"/>
<path color="#37965c" d="M419.6 61l2.3-2.6l-2.4-1.9l-2.3 2.6z"/>
<path color="#428d34" d="M457.4 52.3l2.4-1.7l-2.4-1.3l-2.4 1.7z"/>
<path color="#214c1c" d="M495.7 48.6l2.4-.9l-2.4-.5l-2.4 .8z"/>
<path color="#448932" d="M462.2 51.8l2.4-1.6l-2.4-1.2l-2.4 1.6z"/>
<path color="#2c5b21" d="M490.9 49l2.4-1l-2.4-.6l-2.4 1z"/>
<path color="#3b9541" d="M436.1 56.5l2.3-2.2l-2.4-1.6l-2.3 2.2z"/>
<path color="#458530" d="M467 51.3l2.3-1.5l-2.3-1.1l-2.4 1.5z"/>
<path color="#356725" d="M486.1 49.5l2.4-1.1l-2.4-.8l-2.4 1.1z"/>
<path color="#457f2e" d="M471.7 50.8l2.4-1.3l-2.4-1.1l-2.4 1.4z"/>
<path color="#3c7128" d="M481.3 49.9l2.4-1.2l-2.4-.8l-2.4 1.2z"/>
<path color="#41792b" d="M476.5 50.4l2.4-1.3l-2.4-.9l-2.4 1.3z"/>
<path color="#379655" d="M424.3 60.2l2.3-2.4l-2.4-1.8l-2.3 2.4z"/>
<path color="#3b933d" d="M440.8 55.9l2.4-2.1l-2.4-1.5l-2.4 2z"/>
<path color="#000000" d="M517.3 47.1l2.3-.5l-2.4-.1l-2.4 .5z"/>
<path color="#3c923a" d="M445.5 55.3l2.4-2l-2.4-1.5l-2.3 2z"/>
<path color="#38964f" d="M429 59.5l2.3-2.4l-2.4-1.7l-2.3 2.4z"/>
<path color="#000000" d="M512.5 47.5l2.3-.5l-2.4-.2l-2.4 .6z"/>
<path color="#3e9038" d="M450.3 54.6l2.4-1.8l-2.4-1.4l-2.4 1.9z"/>
<path color="#000603" d="M507.7 48l2.3-.6l-2.4-.3l-2.4 .7z"/>
<path color="#3e8d36" d="M455 54l2.4-1.7l-2.4-1.3l-2.3 1.8z"/>
<path color="#399649" d="M433.7 58.8l2.4-2.3l-2.4-1.6l-2.4 2.2z"/>
<path color="#0b280f" d="M502.9 48.5l2.3-.7l-2.4-.4l-2.3 .8z"/>
<path color="#369262" d="M422 62.8l2.3-2.6l-2.4-1.8l-2.3 2.6z"/>
<path color="#3f8b34" d="M459.8 53.4l2.4-1.6l-2.4-1.2l-2.4 1.7z"/>
<path color="#194018" d="M498.1 49l2.4-.8l-2.4-.5l-2.4 .9z"/>
<path color="#408732" d="M464.6 52.9l2.4-1.6l-2.4-1.1l-2.4 1.6z"/>
<path color="#25521e" d="M493.3 49.6l2.4-1l-2.4-.6l-2.4 1z"/>
<path color="#399444" d="M438.5 58l2.3-2.1l-2.4-1.6l-2.3 2.2z"/>
<path color="#418230" d="M469.3 52.3l2.4-1.5l-2.4-1l-2.3 1.5z"/>
<path color="#2f6023" d="M488.5 50.1l2.4-1.1l-2.4-.6l-2.4 1.1z"/>
<path color="#3f7b2d" d="M474.1 51.7l2.4-1.3l-2.4-.9l-2.4 1.3z"/>
<path color="#376b27" d="M483.7 50.6l2.4-1.1l-2.4-.8l-2.4 1.2z"/>
<path color="#3c742a" d="M478.9 51.2l2.4-1.3l-2.4-.8l-2.4 1.3z"/>
<path color="#36935b" d="M426.7 61.9l2.3-2.4l-2.4-1.7l-2.3 2.4z"/>
<path color="#3a9240" d="M443.2 57.3l2.3-2l-2.3-1.5l-2.4 2.1z"/>
<path color="#3a8f3b" d="M447.9 56.6l2.4-2l-2.4-1.3l-2.4 2z"/>
<path color="#369454" d="M431.4 61.1l2.3-2.3l-2.4-1.7l-2.3 2.4z"/>
<path color="#000000" d="M514.9 47.6l2.4-.5l-2.5-.1l-2.3 .5z"/>
<path color="#3b8d38" d="M452.7 55.9l2.3-1.9l-2.3-1.2l-2.4 1.8z"/>
<path color="#000000" d="M510.1 48.2l2.4-.7l-2.5-.1l-2.3 .6z"/>
<path color="#3c8b36" d="M457.4 55.2l2.4-1.8l-2.4-1.1l-2.4 1.7z"/>
<path color="#37944d" d="M436.1 60.3l2.4-2.3l-2.4-1.5l-2.4 2.3z"/>
<path color="#031308" d="M505.3 48.8l2.4-.8l-2.5-.2l-2.3 .7z"/>
<path color="#358f68" d="M424.4 64.5l2.3-2.6l-2.4-1.7l-2.3 2.6z"/>
<path color="#3c8734" d="M462.2 54.5l2.4-1.6l-2.4-1.1l-2.4 1.6z"/>
<path color="#103113" d="M500.5 49.4l2.4-.9l-2.4-.3l-2.4 .8z"/>
<path color="#3c8331" d="M467 53.8l2.3-1.5l-2.3-1l-2.4 1.6z"/>
<path color="#1d471a" d="M495.7 50l2.4-1l-2.4-.4l-2.4 1z"/>
<path color="#389347" d="M440.8 59.5l2.4-2.2l-2.4-1.4l-2.3 2.1z"/>
<path color="#3c7e2f" d="M471.7 53.2l2.4-1.5l-2.4-.9l-2.4 1.5z"/>
<path color="#285820" d="M490.9 50.6l2.4-1l-2.4-.6l-2.4 1.1z"/>
<path color="#3b772c" d="M476.5 52.5l2.4-1.3l-2.4-.8l-2.4 1.3z"/>
<path color="#316524" d="M486.1 51.2l2.4-1.1l-2.4-.6l-2.4 1.1z"/>
<path color="#376f28" d="M481.3 51.9l2.4-1.3l-2.4-.7l-2.4 1.3z"/>
<path color="#359060" d="M429.1 63.6l2.3-2.5l-2.4-1.6l-2.3 2.4z"/>
<path color="#389042" d="M445.6 58.6l2.3-2l-2.4-1.3l-2.3 2z"/>
<path color="#388e3d" d="M450.3 57.8l2.4-1.9l-2.4-1.3l-2.4 2z"/>
<path color="#359158" d="M433.8 62.6l2.3-2.3l-2.4-1.5l-2.3 2.3z"/>
<path color="#388a38" d="M455.1 57l2.3-1.8l-2.4-1.2l-2.3 1.9z"/>
<path color="#000000" d="M512.5 48.2l2.4-.6l-2.4-.1l-2.4 .7z"/>
<path color="#398836" d="M459.8 56.2l2.4-1.7l-2.4-1.1l-2.4 1.8z"/>
<path color="#369151" d="M438.5 61.7l2.3-2.2l-2.3-1.5l-2.4 2.3z"/>
<path color="#000000" d="M507.7 48.9l2.4-.7l-2.4-.2l-2.4 .8z"/>
<path color="#348c6d" d="M426.8 66.1l2.3-2.5l-2.4-1.7l-2.3 2.6z"/>
<path color="#3a8433" d="M464.6 55.5l2.4-1.7l-2.4-.9l-2.4 1.6z"/>
<path color="#071f0c" d="M502.9 49.6l2.4-.8l-2.4-.3l-2.4 .9z"/>
<path color="#3a8030" d="M469.3 54.7l2.4-1.5l-2.4-.9l-2.3 1.5z"/>
<path color="#153a16" d="M498.1 50.3l2.4-.9l-2.4-.4l-2.4 1z"/>
<path color="#36914a" d="M443.2 60.8l2.4-2.2l-2.4-1.3l-2.4 2.2z"/>
<path color="#387a2d" d="M474.1 53.9l2.4-1.4l-2.4-.8l-2.4 1.5z"/>
<path color="#214e1c" d="M493.3 51l2.4-1l-2.4-.4l-2.4 1z"/>
<path color="#36722a" d="M478.9 53.2l2.4-1.3l-2.4-.7l-2.4 1.3z"/>
<path color="#2b5d22" d="M488.5 51.7l2.4-1.1l-2.4-.5l-2.4 1.1z"/>
<path color="#326926" d="M483.7 52.5l2.4-1.3l-2.4-.6l-2.4 1.3z"/>
<path color="#348d64" d="M431.5 65.1l2.3-2.5l-2.4-1.5l-2.3 2.5z"/>
<path color="#378f44" d="M448 59.9l2.3-2.1l-2.4-1.2l-2.3 2z"/>
<path color="#378c3e" d="M452.7 59l2.4-2l-2.4-1.1l-2.4 1.9z"/>
<path color="#348e5c" d="M436.2 64l2.3-2.3l-2.4-1.4l-2.3 2.3z"/>
<path color="#378839" d="M457.4 58.1l2.4-1.9l-2.4-1l-2.3 1.8z"/>
<path color="#378535" d="M462.2 57.2l2.4-1.7l-2.4-1l-2.4 1.7z"/>
<path color="#348f54" d="M440.9 63l2.3-2.2l-2.4-1.3l-2.3 2.2z"/>
<path color="#000000" d="M510.1 48.9l2.4-.7l-2.4 0l-2.4 .7z"/>
<path color="#338972" d="M429.2 67.6l2.3-2.5l-2.4-1.5l-2.3 2.5z"/>
<path color="#388132" d="M466.9 56.3l2.4-1.6l-2.3-.9l-2.4 1.7z"/>
<path color="#010703" d="M505.3 49.7l2.4-.8l-2.4-.1l-2.4 .8z"/>
<path color="#367c2f" d="M471.7 55.5l2.4-1.6l-2.4-.7l-2.4 1.5z"/>
<path color="#0c2910" d="M500.5 50.5l2.4-.9l-2.4-.2l-2.4 .9z"/>
<path color="#358e4c" d="M445.6 62l2.4-2.1l-2.4-1.3l-2.4 2.2z"/>
<path color="#34752c" d="M476.5 54.6l2.4-1.4l-2.4-.7l-2.4 1.4z"/>
<path color="#194118" d="M495.7 51.3l2.4-1l-2.4-.3l-2.4 1z"/>
<path color="#326c28" d="M481.3 53.8l2.4-1.3l-2.4-.6l-2.4 1.3z"/>
<path color="#25531f" d="M490.9 52.1l2.4-1.1l-2.4-.4l-2.4 1.1z"/>
<path color="#2d6124" d="M486.1 52.9l2.4-1.2l-2.4-.5l-2.4 1.3z"/>
<path color="#338b68" d="M433.9 66.5l2.3-2.5l-2.4-1.4l-2.3 2.5z"/>
<path color="#358d45" d="M450.3 61l2.4-2l-2.4-1.2l-2.3 2.1z"/>
<path color="#368a3f" d="M455.1 60l2.3-1.9l-2.3-1.1l-2.4 2z"/>
<path color="#338c5f" d="M438.6 65.4l2.3-2.4l-2.4-1.3l-2.3 2.3z"/>
<path color="#358639" d="M459.8 59l2.4-1.8l-2.4-1l-2.4 1.9z"/>
<path color="#358134" d="M464.6 58l2.3-1.7l-2.3-.8l-2.4 1.7z"/>
<path color="#338c56" d="M443.3 64.2l2.3-2.2l-2.4-1.2l-2.3 2.2z"/>
<path color="#328676" d="M431.5 69l2.4-2.5l-2.4-1.4l-2.3 2.5z"/>
<path color="#357d31" d="M469.3 57.1l2.4-1.6l-2.4-.8l-2.4 1.6z"/>
<path color="#000000" d="M507.7 49.7l2.4-.8l-2.4 0l-2.4 .8z"/>
<path color="#33772e" d="M474.1 56.1l2.4-1.5l-2.4-.7l-2.4 1.6z"/>
<path color="#348c4e" d="M448 63.1l2.3-2.1l-2.3-1.1l-2.4 2.1z"/>
<path color="#041408" d="M502.9 50.6l2.4-.9l-2.4-.1l-2.4 .9z"/>
<path color="#31702a" d="M478.9 55.2l2.4-1.4l-2.4-.6l-2.4 1.4z"/>
<path color="#113213" d="M498.1 51.5l2.4-1l-2.4-.2l-2.4 1z"/>
<path color="#2e6526" d="M483.7 54.2l2.4-1.3l-2.4-.4l-2.4 1.3z"/>
<path color="#1d481b" d="M493.3 52.4l2.4-1.1l-2.4-.3l-2.4 1.1z"/>
<path color="#275921" d="M488.5 53.3l2.4-1.2l-2.4-.4l-2.4 1.2z"/>
<path color="#32886a" d="M436.2 67.8l2.4-2.4l-2.4-1.4l-2.3 2.5z"/>
<path color="#348a46" d="M452.7 62l2.4-2l-2.4-1l-2.4 2z"/>
<path color="#34873f" d="M457.4 60.9l2.4-1.9l-2.4-.9l-2.3 1.9z"/>
<path color="#328961" d="M440.9 66.6l2.4-2.4l-2.4-1.2l-2.3 2.4z"/>
<path color="#348339" d="M462.2 59.9l2.4-1.9l-2.4-.8l-2.4 1.8z"/>
<path color="#328a57" d="M445.6 65.4l2.4-2.3l-2.4-1.1l-2.3 2.2z"/>
<path color="#347e33" d="M466.9 58.8l2.4-1.7l-2.4-.8l-2.3 1.7z"/>
<path color="#31837a" d="M433.9 70.3l2.3-2.5l-2.3-1.3l-2.4 2.5z"/>
<path color="#337930" d="M471.7 57.7l2.4-1.6l-2.4-.6l-2.4 1.6z"/>
<path color="#30722c" d="M476.5 56.7l2.4-1.5l-2.4-.6l-2.4 1.5z"/>
<path color="#33894e" d="M450.3 64.1l2.4-2.1l-2.4-1l-2.3 2.1z"/>
<path color="#000000" d="M505.3 50.6l2.4-.9l-2.4 0l-2.4 .9z"/>
<path color="#2d6928" d="M481.3 55.6l2.4-1.4l-2.4-.4l-2.4 1.4z"/>
<path color="#081f0c" d="M500.5 51.6l2.4-1l-2.4-.1l-2.4 1z"/>
<path color="#295d23" d="M486.1 54.6l2.4-1.3l-2.4-.4l-2.4 1.3z"/>
<path color="#153a16" d="M495.7 52.6l2.4-1.1l-2.4-.2l-2.4 1.1z"/>
<path color="#214e1d" d="M490.9 53.6l2.4-1.2l-2.4-.3l-2.4 1.2z"/>
<path color="#31866d" d="M438.6 69l2.3-2.4l-2.3-1.2l-2.4 2.4z"/>
<path color="#338846" d="M455.1 63l2.3-2.1l-2.3-.9l-2.4 2z"/>
<path color="#33843e" d="M459.8 61.8l2.4-1.9l-2.4-.9l-2.4 1.9z"/>
<path color="#328762" d="M443.3 67.7l2.3-2.3l-2.3-1.2l-2.4 2.4z"/>
<path color="#338037" d="M464.6 60.6l2.3-1.8l-2.3-.8l-2.4 1.9z"/>
<path color="#318758" d="M448 66.4l2.3-2.3l-2.3-1l-2.4 2.3z"/>
<path color="#317a32" d="M469.3 59.4l2.4-1.7l-2.4-.6l-2.4 1.7z"/>
<path color="#30807c" d="M436.3 71.5l2.3-2.5l-2.4-1.2l-2.3 2.5z"/>
<path color="#30742e" d="M474.1 58.3l2.4-1.6l-2.4-.6l-2.4 1.6z"/>
<path color="#2c6d2a" d="M478.9 57.1l2.4-1.5l-2.4-.4l-2.4 1.5z"/>
<path color="#32874e" d="M452.7 65.1l2.4-2.1l-2.4-1l-2.4 2.1z"/>
<path color="#296225" d="M483.7 56l2.4-1.4l-2.4-.4l-2.4 1.4z"/>
<path color="#010703" d="M502.9 51.6l2.4-1l-2.4 0l-2.4 1z"/>
<path color="#23541f" d="M488.5 54.9l2.4-1.3l-2.4-.3l-2.4 1.3z"/>
<path color="#0c2910" d="M498.1 52.7l2.4-1.1l-2.4-.1l-2.4 1.1z"/>
<path color="#194218" d="M493.3 53.8l2.4-1.2l-2.4-.2l-2.4 1.2z"/>
<path color="#31836e" d="M441 70.1l2.3-2.4l-2.4-1.1l-2.3 2.4z"/>
<path color="#328545" d="M457.4 63.8l2.4-2l-2.4-.9l-2.3 2.1z"/>
<path color="#32813d" d="M462.2 62.5l2.4-1.9l-2.4-.7l-2.4 1.9z"/>
<path color="#318562" d="M445.7 68.7l2.3-2.3l-2.4-1l-2.3 2.3z"/>
<path color="#317c36" d="M466.9 61.2l2.4-1.8l-2.4-.6l-2.3 1.8z"/>
<path color="#318558" d="M450.4 67.3l2.3-2.2l-2.4-1l-2.3 2.3z"/>
<path color="#2f7630" d="M471.7 60l2.4-1.7l-2.4-.6l-2.4 1.7z"/>
<path color="#2f7e7d" d="M438.6 72.6l2.4-2.5l-2.4-1.1l-2.3 2.5z"/>
<path color="#2d6f2c" d="M476.5 58.7l2.4-1.6l-2.4-.4l-2.4 1.6z"/>
<path color="#296627" d="M481.3 57.5l2.4-1.5l-2.4-.4l-2.4 1.5z"/>
<path color="#31844d" d="M455.1 65.9l2.3-2.1l-2.3-.8l-2.4 2.1z"/>
<path color="#255921" d="M486 56.2l2.5-1.3l-2.4-.3l-2.4 1.4z"/>
<path color="#1d491b" d="M490.8 55l2.5-1.2l-2.4-.2l-2.4 1.3z"/>
<path color="#041408" d="M500.5 52.6l2.4-1l-2.4 0l-2.4 1.1z"/>
<path color="#113213" d="M495.7 53.8l2.4-1.1l-2.4-.1l-2.4 1.2z"/>
<path color="#30816f" d="M443.3 71.1l2.4-2.4l-2.4-1l-2.3 2.4z"/>
<path color="#318243" d="M459.8 64.5l2.4-2l-2.4-.7l-2.4 2z"/>
<path color="#317e3b" d="M464.6 63.1l2.3-1.9l-2.3-.6l-2.4 1.9z"/>
<path color="#308262" d="M448 69.6l2.4-2.3l-2.4-.9l-2.3 2.3z"/>
<path color="#2e7833" d="M469.3 61.7l2.4-1.7l-2.4-.6l-2.4 1.8z"/>
<path color="#308357" d="M452.7 68.1l2.4-2.2l-2.4-.8l-2.3 2.2z"/>
<path color="#2c712e" d="M474.1 60.4l2.4-1.7l-2.4-.4l-2.4 1.7z"/>
<path color="#2f7c7c" d="M441 73.6l2.3-2.5l-2.3-1l-2.4 2.5z"/>
<path color="#296929" d="M478.9 59l2.4-1.5l-2.4-.4l-2.4 1.6z"/>
<path color="#265e24" d="M483.6 57.7l2.4-1.5l-2.3-.2l-2.4 1.5z"/>
<path color="#30824c" d="M457.5 66.6l2.3-2.1l-2.4-.7l-2.3 2.1z"/>
<path color="#204f1d" d="M488.4 56.4l2.4-1.4l-2.3-.1l-2.5 1.3z"/>
<path color="#153b16" d="M493.3 55.1l2.4-1.3l-2.4 0l-2.5 1.2z"/>
<path color="#081f0c" d="M498.1 53.8l2.4-1.2l-2.4 .1l-2.4 1.1z"/>
<path color="#2f7f6e" d="M445.7 72l2.3-2.4l-2.3-.9l-2.4 2.4z"/>
<path color="#307f41" d="M462.2 65.1l2.4-2l-2.4-.6l-2.4 2z"/>
<path color="#2f7a39" d="M466.9 63.6l2.4-1.9l-2.4-.5l-2.3 1.9z"/>
<path color="#2f8060" d="M450.4 70.4l2.3-2.3l-2.3-.8l-2.4 2.3z"/>
<path color="#2c7330" d="M471.7 62.1l2.4-1.7l-2.4-.4l-2.4 1.7z"/>
<path color="#296c2b" d="M476.5 60.7l2.4-1.7l-2.4-.3l-2.4 1.7z"/>
<path color="#2f8055" d="M455.1 68.8l2.4-2.2l-2.4-.7l-2.4 2.2z"/>
<path color="#2e7b7b" d="M443.3 74.5l2.4-2.5l-2.4-.9l-2.3 2.5z"/>
<path color="#256226" d="M481.3 59.2l2.3-1.5l-2.3-.2l-2.4 1.5z"/>
<path color="#215420" d="M486 57.8l2.4-1.4l-2.4-.2l-2.4 1.5z"/>
<path color="#2f7f49" d="M459.8 67.2l2.4-2.1l-2.4-.6l-2.3 2.1z"/>
<path color="#194219" d="M490.8 56.4l2.5-1.3l-2.5-.1l-2.4 1.4z"/>
<path color="#0c2910" d="M495.7 55l2.4-1.2l-2.4 0l-2.4 1.3z"/>
<path color="#2e7d6c" d="M448 72.8l2.4-2.4l-2.4-.8l-2.3 2.4z"/>
<path color="#2e7c3e" d="M464.6 65.6l2.3-2l-2.3-.5l-2.4 2z"/>
<path color="#2c7635" d="M469.3 64l2.4-1.9l-2.4-.4l-2.4 1.9z"/>
<path color="#2e7e5e" d="M452.7 71l2.4-2.2l-2.4-.7l-2.3 2.3z"/>
<path color="#296e2d" d="M474.1 62.4l2.4-1.7l-2.4-.3l-2.4 1.7z"/>
<path color="#266528" d="M478.9 60.9l2.4-1.7l-2.4-.2l-2.4 1.7z"/>
<path color="#2e7e52" d="M457.5 69.3l2.3-2.1l-2.3-.6l-2.4 2.2z"/>
<path color="#2e7979" d="M445.7 75.2l2.3-2.4l-2.3-.8l-2.4 2.5z"/>
<path color="#225922" d="M483.6 59.4l2.4-1.6l-2.4-.1l-2.3 1.5z"/>
<path color="#1c491b" d="M488.4 57.8l2.4-1.4l-2.4 0l-2.4 1.4z"/>
<path color="#2e7c46" d="M462.2 67.6l2.4-2l-2.4-.5l-2.4 2.1z"/>
<path color="#103213" d="M493.3 56.3l2.4-1.3l-2.4 .1l-2.5 1.3z"/>
<path color="#2e7b6a" d="M450.4 73.4l2.3-2.4l-2.3-.6l-2.4 2.4z"/>
<path color="#2c783b" d="M466.9 66l2.4-2l-2.4-.4l-2.3 2z"/>
<path color="#297032" d="M471.7 64.3l2.4-1.9l-2.4-.3l-2.4 1.9z"/>
<path color="#2e7c5b" d="M455.1 71.6l2.4-2.3l-2.4-.5l-2.4 2.2z"/>
<path color="#26682a" d="M476.5 62.6l2.4-1.7l-2.4-.2l-2.4 1.7z"/>
<path color="#225e25" d="M481.2 61l2.4-1.6l-2.3-.2l-2.4 1.7z"/>
<path color="#2d7b4e" d="M459.8 69.8l2.4-2.2l-2.4-.4l-2.3 2.1z"/>
<path color="#2d7777" d="M448.1 75.9l2.3-2.5l-2.4-.6l-2.3 2.4z"/>
<path color="#1d4f1e" d="M486 59.3l2.4-1.5l-2.4 0l-2.4 1.6z"/>
<path color="#143a16" d="M490.8 57.7l2.5-1.4l-2.5 .1l-2.4 1.4z"/>
<path color="#2c7942" d="M464.6 68l2.3-2l-2.3-.4l-2.4 2z"/>
<path color="#2d7a66" d="M452.7 74l2.4-2.4l-2.4-.6l-2.3 2.4z"/>
<path color="#2a7337" d="M469.3 66.2l2.4-1.9l-2.4-.3l-2.4 2z"/>
<path color="#266a2d" d="M474.1 64.5l2.4-1.9l-2.4-.2l-2.4 1.9z"/>
<path color="#2d7a58" d="M457.5 72.1l2.3-2.3l-2.3-.5l-2.4 2.3z"/>
<path color="#236127" d="M478.8 62.7l2.4-1.7l-2.3-.1l-2.4 1.7z"/>
<path color="#1e5421" d="M483.6 61l2.4-1.7l-2.4 .1l-2.4 1.6z"/>
<path color="#2c794a" d="M462.2 70.2l2.4-2.2l-2.4-.4l-2.4 2.2z"/>
<path color="#2c7674" d="M450.4 76.5l2.3-2.5l-2.3-.6l-2.3 2.5z"/>
<path color="#184219" d="M488.4 59.2l2.4-1.5l-2.4 .1l-2.4 1.5z"/>
<path color="#2a753d" d="M466.9 68.3l2.4-2.1l-2.4-.2l-2.3 2z"/>
<path color="#2c7862" d="M455.1 74.4l2.4-2.3l-2.4-.5l-2.4 2.4z"/>
<path color="#276e33" d="M471.7 66.4l2.4-1.9l-2.4-.2l-2.4 1.9z"/>
<path color="#23642a" d="M476.5 64.5l2.3-1.8l-2.3-.1l-2.4 1.9z"/>
<path color="#2c7753" d="M459.8 72.4l2.4-2.2l-2.4-.4l-2.3 2.3z"/>
<path color="#1f5923" d="M481.2 62.7l2.4-1.7l-2.4 0l-2.4 1.7z"/>
<path color="#1a481c" d="M486 60.8l2.4-1.6l-2.4 .1l-2.4 1.7z"/>
<path color="#2a7545" d="M464.6 70.4l2.3-2.1l-2.3-.3l-2.4 2.2z"/>
<path color="#2c746f" d="M452.8 76.9l2.3-2.5l-2.4-.4l-2.3 2.5z"/>
<path color="#277038" d="M469.3 68.4l2.4-2l-2.4-.2l-2.4 2.1z"/>
<path color="#2c765d" d="M457.5 74.8l2.3-2.4l-2.3-.3l-2.4 2.3z"/>
<path color="#24672e" d="M474.1 66.4l2.4-1.9l-2.4 0l-2.4 1.9z"/>
<path color="#205c26" d="M478.8 64.5l2.4-1.8l-2.4 0l-2.3 1.8z"/>
<path color="#2a754e" d="M462.2 72.7l2.4-2.3l-2.4-.2l-2.4 2.2z"/>
<path color="#1b4e1e" d="M483.6 62.5l2.4-1.7l-2.4 .2l-2.4 1.7z"/>
<path color="#28713f" d="M466.9 70.5l2.4-2.1l-2.4-.1l-2.3 2.1z"/>
<path color="#2b7369" d="M455.1 77.2l2.4-2.4l-2.4-.4l-2.3 2.5z"/>
<path color="#246a33" d="M471.7 68.4l2.4-2l-2.4 0l-2.4 2z"/>
<path color="#2a7357" d="M459.8 75l2.4-2.3l-2.4-.3l-2.3 2.4z"/>
<path color="#205f28" d="M476.4 66.4l2.4-1.9l-2.3 0l-2.4 1.9z"/>
<path color="#1c5321" d="M481.2 64.3l2.4-1.8l-2.4 .2l-2.4 1.8z"/>
<path color="#277248" d="M464.5 72.8l2.4-2.3l-2.3-.1l-2.4 2.3z"/>
<path color="#256d39" d="M469.3 70.6l2.4-2.2l-2.4 0l-2.4 2.1z"/>
<path color="#2a7162" d="M457.5 77.4l2.3-2.4l-2.3-.2l-2.4 2.4z"/>
<path color="#21632d" d="M474.1 68.4l2.3-2l-2.3 0l-2.4 2z"/>
<path color="#287151" d="M462.2 75.1l2.3-2.3l-2.3-.1l-2.4 2.3z"/>
<path color="#1d5724" d="M478.8 66.2l2.4-1.9l-2.4 .2l-2.4 1.9z"/>
<path color="#256d41" d="M466.9 72.8l2.4-2.2l-2.4-.1l-2.4 2.3z"/>
<path color="#226733" d="M471.7 70.5l2.4-2.1l-2.4 0l-2.4 2.2z"/>
<path color="#286f5a" d="M459.8 77.5l2.4-2.4l-2.4-.1l-2.3 2.4z"/>
<path color="#1d5b27" d="M476.4 68.2l2.4-2l-2.4 .2l-2.3 2z"/>
<path color="#256d49" d="M464.5 75.1l2.4-2.3l-2.4 0l-2.3 2.3z"/>
<path color="#23683a" d="M469.3 72.7l2.4-2.2l-2.4 .1l-2.4 2.2z"/>
<path color="#1e5f2c" d="M474 70.2l2.4-2l-2.3 .2l-2.4 2.1z"/>
<path color="#266d53" d="M462.2 77.5l2.3-2.4l-2.3 0l-2.4 2.4z"/>
<path color="#236942" d="M466.9 74.9l2.4-2.2l-2.4 .1l-2.4 2.3z"/>
<path color="#1f6232" d="M471.7 72.4l2.3-2.2l-2.3 .3l-2.4 2.2z"/>
<path color="#23694b" d="M464.5 77.4l2.4-2.5l-2.4 .2l-2.3 2.4z"/>
<path color="#20643a" d="M469.3 74.7l2.4-2.3l-2.4 .3l-2.4 2.2z"/>
<path color="#206542" d="M466.9 77.1l2.4-2.4l-2.4 .2l-2.4 2.5z"/>
</g>
<line x1="407.5" y1="95.5" x2="406.2" y2="96.4" stroke="#444" stroke-width="0.40" opacity="1.00"/>
<text x="402.3" y="98.7" font-size="3.65" font-family="Liberation Sans, sans-serif" text-anchor="middle" fill="#222" stroke="#222" stroke-width=".12">330</text>
<line x1="422.4" y1="102.2" x2="421.1" y2="103.1" stroke="#444" stroke-width="0.40" opacity="1.00"/>
<text x="417.2" y="105.4" font-size="3.65" font-family="Liberation Sans, sans-serif" text-anchor="middle" fill="#222" stroke="#222" stroke-width=".12">325</text>
<line x1="437.2" y1="109.0" x2="435.9" y2="109.9" stroke="#444" stroke-width="0.40" opacity="1.00"/>
<text x="432.0" y="112.1" font-size="3.65" font-family="Liberation Sans, sans-serif" text-anchor="middle" fill="#222" stroke="#222" stroke-width=".12">320</text>
<line x1="452.0" y1="115.7" x2="450.7" y2="116.6" stroke="#444" stroke-width="0.40" opacity="1.00"/>
<text x="446.8" y="118.9" font-size="3.65" font-family="Liberation Sans, sans-serif" text-anchor="middle" fill="#222" stroke="#222" stroke-width=".12">315</text>
<line x1="466.9" y1="122.4" x2="465.6" y2="123.3" stroke="#444" stroke-width="0.40" opacity="1.00"/>
<text x="461.7" y="125.6" font-size="3.65" font-family="Liberation Sans, sans-serif" text-anchor="middle" fill="#222" stroke="#222" stroke-width=".12">310</text>
<line x1="466.9" y1="122.4" x2="468.2" y2="123.3" stroke="#444" stroke-width="0.40" opacity="1.00"/>
<text x="472.3" y="125.4" font-size="3.65" font-family="Liberation Sans, sans-serif" text-anchor="middle" fill="#222" stroke="#222" stroke-width=".12">42.5</text>
<line x1="478.8" y1="117.0" x2="480.1" y2="117.9" stroke="#444" stroke-width="0.40" opacity="1.00"/>
<text x="484.2" y="120.0" font-size="3.65" font-family="Liberation Sans, sans-serif" text-anchor="middle" fill="#222" stroke="#222" stroke-width=".12">45.5</text>
<line x1="490.7" y1="111.6" x2="492.0" y2="112.5" stroke="#444" stroke-width="0.40" opacity="1.00"/>
<text x="496.1" y="114.6" font-size="3.65" font-family="Liberation Sans, sans-serif" text-anchor="middle" fill="#222" stroke="#222" stroke-width=".12">48.5</text>
<line x1="502.7" y1="106.3" x2="504.0" y2="107.2" stroke="#444" stroke-width="0.40" opacity="1.00"/>
<text x="508.1" y="109.3" font-size="3.65" font-family="Liberation Sans, sans-serif" text-anchor="middle" fill="#222" stroke="#222" stroke-width=".12">51.5</text>
<line x1="514.6" y1="100.9" x2="515.9" y2="101.8" stroke="#444" stroke-width="0.40" opacity="1.00"/>
<text x="520.0" y="103.9" font-size="3.65" font-family="Liberation Sans, sans-serif" text-anchor="middle" fill="#222" stroke="#222" stroke-width=".12">54.5</text>
<line x1="526.5" y1="95.5" x2="527.8" y2="96.4" stroke="#444" stroke-width="0.40" opacity="1.00"/>
<text x="531.9" y="98.5" font-size="3.65" font-family="Liberation Sans, sans-serif" text-anchor="middle" fill="#222" stroke="#222" stroke-width=".12">57.5</text>
<text transform="translate(421.8 116.7) rotate(27.3)" font-size="5.16" font-family="Liberation Serif, serif" text-anchor="middle" fill="#222">C:Working width</text>
<text transform="translate(513.3 114.3) rotate(-27.0)" font-size="5.12" font-family="Liberation Serif, serif" text-anchor="middle" fill="#222">B:Inclination angle of cutting edge/°</text>
<text transform="translate(389.1 53.0) rotate(-90.0)" font-size="7.35" font-family="Liberation Serif, serif" text-anchor="middle" fill="#222">Working resistance/N</text>
<circle cx="405.2" cy="54.2" r="1.1" fill="#a01818"/>
<circle cx="466.7" cy="41.2" r="1.1" fill="#a01818"/>
<circle cx="529.0" cy="42.7" r="1.1" fill="#a01818"/>
<circle cx="467.1" cy="77.9" r="1.1" fill="#a01818"/></g>
<g id="p0"><g clip-path="url(#c0)"><g filter="url(#vb)">
<rect x="21.3" y="140" width="127.3" height="2.6" fill="url(#g0_0)"/>
<rect x="21.3" y="142" width="127.3" height="2.6" fill="url(#g0_1)"/>
<rect x="21.3" y="144" width="127.3" height="2.6" fill="url(#g0_2)"/>
<rect x="21.3" y="146" width="127.3" height="2.6" fill="url(#g0_3)"/>
<rect x="21.3" y="148" width="127.3" height="2.6" fill="url(#g0_4)"/>
<rect x="21.3" y="150" width="127.3" height="2.6" fill="url(#g0_5)"/>
<rect x="21.3" y="152" width="127.3" height="2.6" fill="url(#g0_6)"/>
<rect x="21.3" y="154" width="127.3" height="2.6" fill="url(#g0_7)"/>
<rect x="21.3" y="156" width="127.3" height="2.6" fill="url(#g0_8)"/>
<rect x="21.3" y="158" width="127.3" height="2.6" fill="url(#g0_9)"/>
<rect x="21.3" y="160" width="127.3" height="2.6" fill="url(#g0_10)"/>
<rect x="21.3" y="162" width="127.3" height="2.6" fill="url(#g0_11)"/>
<rect x="21.3" y="164" width="127.3" height="2.6" fill="url(#g0_12)"/>
<rect x="21.3" y="166" width="127.3" height="2.6" fill="url(#g0_13)"/>
<rect x="21.3" y="168" width="127.3" height="2.6" fill="url(#g0_14)"/>
<rect x="21.3" y="170" width="127.3" height="2.6" fill="url(#g0_15)"/>
<rect x="21.3" y="172" width="127.3" height="2.6" fill="url(#g0_16)"/>
<rect x="21.3" y="174" width="127.3" height="2.6" fill="url(#g0_17)"/>
<rect x="21.3" y="176" width="127.3" height="2.6" fill="url(#g0_18)"/>
<rect x="21.3" y="178" width="127.3" height="2.6" fill="url(#g0_19)"/>
<rect x="21.3" y="180" width="127.3" height="2.6" fill="url(#g0_20)"/>
<rect x="21.3" y="182" width="127.3" height="2.6" fill="url(#g0_21)"/>
<rect x="21.3" y="184" width="127.3" height="2.6" fill="url(#g0_22)"/>
<rect x="21.3" y="186" width="127.3" height="2.6" fill="url(#g0_23)"/>
<rect x="21.3" y="188" width="127.3" height="2.6" fill="url(#g0_24)"/>
<rect x="21.3" y="190" width="127.3" height="2.6" fill="url(#g0_25)"/>
<rect x="21.3" y="192" width="127.3" height="2.6" fill="url(#g0_26)"/>
<rect x="21.3" y="194" width="127.3" height="2.6" fill="url(#g0_27)"/>
<rect x="21.3" y="196" width="127.3" height="2.6" fill="url(#g0_28)"/>
<rect x="21.3" y="198" width="127.3" height="2.6" fill="url(#g0_29)"/>
<rect x="21.3" y="200" width="127.3" height="2.6" fill="url(#g0_30)"/>
<rect x="21.3" y="202" width="127.3" height="2.6" fill="url(#g0_31)"/>
<rect x="21.3" y="204" width="127.3" height="2.6" fill="url(#g0_32)"/>
<rect x="21.3" y="206" width="127.3" height="2.6" fill="url(#g0_33)"/>
<rect x="21.3" y="208" width="127.3" height="2.6" fill="url(#g0_34)"/>
<rect x="21.3" y="210" width="127.3" height="2.6" fill="url(#g0_35)"/>
<rect x="21.3" y="212" width="127.3" height="2.6" fill="url(#g0_36)"/>
<rect x="21.3" y="214" width="127.3" height="2.6" fill="url(#g0_37)"/>
<rect x="21.3" y="216" width="127.3" height="2.6" fill="url(#g0_38)"/>
<rect x="21.3" y="218" width="127.3" height="2.6" fill="url(#g0_39)"/>
<rect x="21.3" y="220" width="127.3" height="2.6" fill="url(#g0_40)"/>
<rect x="21.3" y="222" width="127.3" height="2.6" fill="url(#g0_41)"/>
<rect x="21.3" y="224" width="127.3" height="2.6" fill="url(#g0_42)"/>
<rect x="21.3" y="226" width="127.3" height="2.6" fill="url(#g0_43)"/>
<rect x="21.3" y="228" width="127.3" height="2.6" fill="url(#g0_44)"/>
<rect x="21.3" y="230" width="127.3" height="2.6" fill="url(#g0_45)"/>
<rect x="21.3" y="232" width="127.3" height="2.6" fill="url(#g0_46)"/>
<rect x="21.3" y="234" width="127.3" height="2.6" fill="url(#g0_47)"/>
<rect x="21.3" y="236" width="127.3" height="2.6" fill="url(#g0_48)"/>
<rect x="21.3" y="238" width="127.3" height="2.6" fill="url(#g0_49)"/>
<rect x="21.3" y="240" width="127.3" height="2.6" fill="url(#g0_50)"/>
<rect x="21.3" y="242" width="127.3" height="2.6" fill="url(#g0_51)"/>
<rect x="21.3" y="244" width="127.3" height="2.6" fill="url(#g0_52)"/>
<rect x="21.3" y="246" width="127.3" height="2.6" fill="url(#g0_53)"/>
<rect x="21.3" y="248" width="127.3" height="2.6" fill="url(#g0_54)"/>
<rect x="21.3" y="250" width="127.3" height="2.6" fill="url(#g0_55)"/>
<rect x="21.3" y="252" width="127.3" height="2.6" fill="url(#g0_56)"/>
<rect x="21.3" y="254" width="127.3" height="2.6" fill="url(#g0_57)"/>
<rect x="21.3" y="256" width="127.3" height="2.6" fill="url(#g0_58)"/>
<rect x="21.3" y="258" width="127.3" height="2.6" fill="url(#g0_59)"/>
<rect x="21.3" y="260" width="127.3" height="2.6" fill="url(#g0_60)"/>
<rect x="21.3" y="262" width="127.3" height="2.6" fill="url(#g0_61)"/>
<rect x="21.3" y="264" width="127.3" height="2.6" fill="url(#g0_62)"/>
<rect x="21.3" y="266" width="127.3" height="2.6" fill="url(#g0_63)"/>
<rect x="21.3" y="268" width="127.3" height="2.6" fill="url(#g0_64)"/>
</g></g>
<path d="M25.3 236.8 L26.8 239.3 L27.8 240.9 L28.8 242.4 L29.9 243.9 L31.3 246.0 L32.9 248.1 L34.4 250.0 L35.6 251.6 L36.9 253.1 L38.3 254.6 L39.7 256.1 L41.1 257.7 L42.6 259.2 L44.2 260.7 L45.9 262.2 L47.6 263.8 L49.5 265.3 L49.5 265.3" fill="none" stroke="#1a3a1a" stroke-width="0.6" opacity="0.85"/>
<path d="M28.2 144.7 L27.6 147.8 L27.2 150.8 L26.8 153.5 L26.6 155.4 L26.3 158.4 L26.2 161.5 L26.1 164.5 L26.0 167.6 L26.1 170.7 L26.2 173.7 L26.4 176.8 L26.7 179.8 L26.9 181.3 L27.3 184.4 L27.8 187.4 L28.3 190.0 L28.7 192.0 L29.5 195.1 L29.9 196.6 L30.7 199.7 L31.3 201.7 L32.2 204.2 L32.9 206.1 L33.9 208.8 L34.5 210.3 L35.8 213.4 L36.6 214.9 L37.4 216.6 L38.9 219.5 L39.7 221.0 L40.6 222.6 L41.9 224.7 L43.4 227.0 L44.6 228.7 L45.7 230.2 L46.8 231.7 L48.0 233.2 L49.5 235.0 L51.0 236.7 L52.5 238.3 L54.0 239.8 L55.5 241.3 L57.0 242.7 L58.5 244.0 L60.4 245.5 L62.4 247.0 L64.6 248.5 L66.1 249.5 L67.6 250.4 L69.6 251.6 L72.1 252.9 L73.6 253.6 L76.0 254.6 L78.2 255.4 L80.2 256.1 L82.7 256.9 L85.7 257.6 L87.2 257.9 L90.2 258.4 L93.3 258.8 L96.3 258.9 L99.3 258.9 L102.3 258.8 L105.3 258.4 L108.4 258.0 L109.9 257.7 L112.9 256.9 L115.4 256.1 L117.4 255.5 L119.6 254.6 L121.9 253.6 L123.5 252.9 L126.0 251.6 L128.0 250.4 L129.5 249.5 L131.1 248.5 L133.2 247.0 L135.3 245.5 L137.0 244.0 L138.6 242.7 L140.1 241.4 L141.6 239.9 L143.1 238.4 L144.6 236.8 L144.6 236.8" fill="none" stroke="#1a3a1a" stroke-width="0.6" opacity="0.85"/>
<path d="M55.6 144.7 L55.1 146.2 L54.3 149.3 L53.9 150.8 L53.3 153.9 L52.9 156.9 L52.5 160.0 L52.4 161.5 L52.2 164.5 L52.2 167.6 L52.3 170.7 L52.5 173.7 L52.6 175.2 L53.0 178.3 L53.6 181.3 L54.0 183.3 L54.6 185.9 L55.5 188.9 L56.0 190.5 L57.0 193.2 L57.8 195.1 L58.5 196.7 L60.0 199.7 L60.8 201.2 L61.7 202.7 L63.1 204.9 L64.6 207.0 L65.9 208.8 L67.2 210.3 L68.6 211.9 L70.1 213.4 L71.7 214.9 L73.5 216.4 L75.1 217.7 L76.6 218.8 L78.2 219.7 L80.4 221.0 L82.7 222.1 L84.2 222.8 L87.2 223.9 L88.7 224.3 L91.7 224.9 L94.8 225.3 L97.8 225.5 L100.8 225.3 L103.8 224.9 L106.8 224.3 L108.4 223.9 L111.4 222.8 L112.9 222.2 L115.2 221.0 L117.4 219.8 L118.9 218.8 L120.4 217.8 L122.2 216.4 L124.0 214.9 L125.6 213.4 L127.1 211.9 L128.5 210.3 L129.7 208.8 L131.0 207.2 L132.5 205.0 L134.0 202.7 L134.9 201.2 L135.7 199.7 L137.0 197.0 L137.9 195.1 L138.6 193.5 L139.6 190.5 L140.2 189.0 L141.0 185.9 L141.6 183.8 L142.1 181.3 L142.7 178.3 L143.1 175.2 L143.2 173.7 L143.4 170.7 L143.5 167.6 L143.5 164.5 L143.3 161.5 L143.1 158.8 L142.9 156.9 L142.4 153.9 L141.8 150.8 L141.4 149.3 L140.6 146.2 L140.1 144.7" fill="none" stroke="#1a3a1a" stroke-width="0.6" opacity="0.85"/>
<rect x="25.30" y="144.70" width="119.30" height="120.60" fill="none" stroke="#3a4a3a" stroke-width="0.5" opacity="0.75"/>
<line x1="25.3" y1="265.3" x2="25.3" y2="267.3" stroke="#555" stroke-width="0.5"/>
<text x="25.3" y="273.5" font-size="3.7" font-family="Liberation Sans, sans-serif" text-anchor="middle" fill="#2c2c3c" stroke="#2c2c3c" stroke-width=".05">150</text>
<line x1="55.1" y1="265.3" x2="55.1" y2="267.3" stroke="#555" stroke-width="0.5"/>
<text x="55.1" y="273.5" font-size="3.7" font-family="Liberation Sans, sans-serif" text-anchor="middle" fill="#2c2c3c" stroke="#2c2c3c" stroke-width=".05">155</text>
<line x1="85.0" y1="265.3" x2="85.0" y2="267.3" stroke="#555" stroke-width="0.5"/>
<text x="85.0" y="273.5" font-size="3.7" font-family="Liberation Sans, sans-serif" text-anchor="middle" fill="#2c2c3c" stroke="#2c2c3c" stroke-width=".05">160</text>
<line x1="114.8" y1="265.3" x2="114.8" y2="267.3" stroke="#555" stroke-width="0.5"/>
<text x="114.8" y="273.5" font-size="3.7" font-family="Liberation Sans, sans-serif" text-anchor="middle" fill="#2c2c3c" stroke="#2c2c3c" stroke-width=".05">165</text>
<line x1="144.6" y1="265.3" x2="144.6" y2="267.3" stroke="#555" stroke-width="0.5"/>
<text x="144.6" y="273.5" font-size="3.7" font-family="Liberation Sans, sans-serif" text-anchor="middle" fill="#2c2c3c" stroke="#2c2c3c" stroke-width=".05">170</text>
<line x1="22.1" y1="265.3" x2="25.3" y2="265.3" stroke="#555" stroke-width="0.5"/>
<text x="20.7" y="266.6" font-size="3.7" font-family="Liberation Sans, sans-serif" text-anchor="end" fill="#2c2c3c" stroke="#2c2c3c" stroke-width=".05">42.5</text>
<line x1="22.1" y1="241.2" x2="25.3" y2="241.2" stroke="#555" stroke-width="0.5"/>
<text x="20.7" y="242.5" font-size="3.7" font-family="Liberation Sans, sans-serif" text-anchor="end" fill="#2c2c3c" stroke="#2c2c3c" stroke-width=".05">45.5</text>
<line x1="22.1" y1="217.1" x2="25.3" y2="217.1" stroke="#555" stroke-width="0.5"/>
<text x="20.7" y="218.4" font-size="3.7" font-family="Liberation Sans, sans-serif" text-anchor="end" fill="#2c2c3c" stroke="#2c2c3c" stroke-width=".05">48.5</text>
<line x1="22.1" y1="192.9" x2="25.3" y2="192.9" stroke="#555" stroke-width="0.5"/>
<text x="20.7" y="194.2" font-size="3.7" font-family="Liberation Sans, sans-serif" text-anchor="end" fill="#2c2c3c" stroke="#2c2c3c" stroke-width=".05">51.5</text>
<line x1="22.1" y1="168.8" x2="25.3" y2="168.8" stroke="#555" stroke-width="0.5"/>
<text x="20.7" y="170.1" font-size="3.7" font-family="Liberation Sans, sans-serif" text-anchor="end" fill="#2c2c3c" stroke="#2c2c3c" stroke-width=".05">54.5</text>
<line x1="22.1" y1="144.7" x2="25.3" y2="144.7" stroke="#555" stroke-width="0.5"/>
<text x="20.7" y="146.0" font-size="3.7" font-family="Liberation Sans, sans-serif" text-anchor="end" fill="#2c2c3c" stroke="#2c2c3c" stroke-width=".05">57.5</text>
<text x="83.9" y="284.4" font-size="6.73" font-family="Liberation Serif, serif" text-anchor="middle" fill="#222">A:Radius of gyration/mm</text>
<text transform="translate(9.3 201.7) rotate(-90)" font-size="6.86" font-family="Liberation Serif, serif" text-anchor="middle" fill="#222">B:Inclination angle of cutting edge/°</text>
<rect x="31.3" y="247.9" width="8.4" height="3.9" fill="#e6dcdc" stroke="#4a4444" stroke-width="0.45"/>
<text x="35.5" y="250.9" font-size="3.1" font-family="Liberation Sans, sans-serif" text-anchor="middle" fill="#8a6666">1500</text>
<rect x="50.6" y="237.0" width="8.4" height="3.9" fill="#e6dcdc" stroke="#4a4444" stroke-width="0.45"/>
<text x="54.8" y="240.0" font-size="3.1" font-family="Liberation Sans, sans-serif" text-anchor="middle" fill="#8a6666">1600</text>
<rect x="93.8" y="222.2" width="8.4" height="3.9" fill="#e6dcdc" stroke="#4a4444" stroke-width="0.45"/>
<text x="98.0" y="225.3" font-size="3.1" font-family="Liberation Sans, sans-serif" text-anchor="middle" fill="#8a6666">1700</text>
<circle cx="25.3" cy="144.7" r="1.05" fill="#a01018"/>
<circle cx="144.6" cy="144.7" r="1.05" fill="#a01018"/>
<circle cx="25.3" cy="265.3" r="1.05" fill="#a01018"/>
<circle cx="144.6" cy="265.3" r="1.05" fill="#a01018"/>
<circle cx="85.0" cy="205.0" r="1.05" fill="#a01018"/>
<text x="83.7" y="205.4" font-size="3.8" font-family="Liberation Sans, sans-serif" text-anchor="end" fill="#3a5a3a">5</text>
<text x="89.8" y="142.4" font-size="6.96" font-family="Liberation Serif, serif" text-anchor="middle" fill="#222">Working resistance/N</text></g>
<g id="p1"><g clip-path="url(#c1)"><g filter="url(#vb)">
<rect x="212.8" y="140" width="123.7" height="2.6" fill="url(#g1_0)"/>
<rect x="212.8" y="142" width="123.7" height="2.6" fill="url(#g1_1)"/>
<rect x="212.8" y="144" width="123.7" height="2.6" fill="url(#g1_2)"/>
<rect x="212.8" y="146" width="123.7" height="2.6" fill="url(#g1_3)"/>
<rect x="212.8" y="148" width="123.7" height="2.6" fill="url(#g1_4)"/>
<rect x="212.8" y="150" width="123.7" height="2.6" fill="url(#g1_5)"/>
<rect x="212.8" y="152" width="123.7" height="2.6" fill="url(#g1_6)"/>
<rect x="212.8" y="154" width="123.7" height="2.6" fill="url(#g1_7)"/>
<rect x="212.8" y="156" width="123.7" height="2.6" fill="url(#g1_8)"/>
<rect x="212.8" y="158" width="123.7" height="2.6" fill="url(#g1_9)"/>
<rect x="212.8" y="160" width="123.7" height="2.6" fill="url(#g1_10)"/>
<rect x="212.8" y="162" width="123.7" height="2.6" fill="url(#g1_11)"/>
<rect x="212.8" y="164" width="123.7" height="2.6" fill="url(#g1_12)"/>
<rect x="212.8" y="166" width="123.7" height="2.6" fill="url(#g1_13)"/>
<rect x="212.8" y="168" width="123.7" height="2.6" fill="url(#g1_14)"/>
<rect x="212.8" y="170" width="123.7" height="2.6" fill="url(#g1_15)"/>
<rect x="212.8" y="172" width="123.7" height="2.6" fill="url(#g1_16)"/>
<rect x="212.8" y="174" width="123.7" height="2.6" fill="url(#g1_17)"/>
<rect x="212.8" y="176" width="123.7" height="2.6" fill="url(#g1_18)"/>
<rect x="212.8" y="178" width="123.7" height="2.6" fill="url(#g1_19)"/>
<rect x="212.8" y="180" width="123.7" height="2.6" fill="url(#g1_20)"/>
<rect x="212.8" y="182" width="123.7" height="2.6" fill="url(#g1_21)"/>
<rect x="212.8" y="184" width="123.7" height="2.6" fill="url(#g1_22)"/>
<rect x="212.8" y="186" width="123.7" height="2.6" fill="url(#g1_23)"/>
<rect x="212.8" y="188" width="123.7" height="2.6" fill="url(#g1_24)"/>
<rect x="212.8" y="190" width="123.7" height="2.6" fill="url(#g1_25)"/>
<rect x="212.8" y="192" width="123.7" height="2.6" fill="url(#g1_26)"/>
<rect x="212.8" y="194" width="123.7" height="2.6" fill="url(#g1_27)"/>
<rect x="212.8" y="196" width="123.7" height="2.6" fill="url(#g1_28)"/>
<rect x="212.8" y="198" width="123.7" height="2.6" fill="url(#g1_29)"/>
<rect x="212.8" y="200" width="123.7" height="2.6" fill="url(#g1_30)"/>
<rect x="212.8" y="202" width="123.7" height="2.6" fill="url(#g1_31)"/>
<rect x="212.8" y="204" width="123.7" height="2.6" fill="url(#g1_32)"/>
<rect x="212.8" y="206" width="123.7" height="2.6" fill="url(#g1_33)"/>
<rect x="212.8" y="208" width="123.7" height="2.6" fill="url(#g1_34)"/>
<rect x="212.8" y="210" width="123.7" height="2.6" fill="url(#g1_35)"/>
<rect x="212.8" y="212" width="123.7" height="2.6" fill="url(#g1_36)"/>
<rect x="212.8" y="214" width="123.7" height="2.6" fill="url(#g1_37)"/>
<rect x="212.8" y="216" width="123.7" height="2.6" fill="url(#g1_38)"/>
<rect x="212.8" y="218" width="123.7" height="2.6" fill="url(#g1_39)"/>
<rect x="212.8" y="220" width="123.7" height="2.6" fill="url(#g1_40)"/>
<rect x="212.8" y="222" width="123.7" height="2.6" fill="url(#g1_41)"/>
<rect x="212.8" y="224" width="123.7" height="2.6" fill="url(#g1_42)"/>
<rect x="212.8" y="226" width="123.7" height="2.6" fill="url(#g1_43)"/>
<rect x="212.8" y="228" width="123.7" height="2.6" fill="url(#g1_44)"/>
<rect x="212.8" y="230" width="123.7" height="2.6" fill="url(#g1_45)"/>
<rect x="212.8" y="232" width="123.7" height="2.6" fill="url(#g1_46)"/>
<rect x="212.8" y="234" width="123.7" height="2.6" fill="url(#g1_47)"/>
<rect x="212.8" y="236" width="123.7" height="2.6" fill="url(#g1_48)"/>
<rect x="212.8" y="238" width="123.7" height="2.6" fill="url(#g1_49)"/>
<rect x="212.8" y="240" width="123.7" height="2.6" fill="url(#g1_50)"/>
<rect x="212.8" y="242" width="123.7" height="2.6" fill="url(#g1_51)"/>
<rect x="212.8" y="244" width="123.7" height="2.6" fill="url(#g1_52)"/>
<rect x="212.8" y="246" width="123.7" height="2.6" fill="url(#g1_53)"/>
<rect x="212.8" y="248" width="123.7" height="2.6" fill="url(#g1_54)"/>
<rect x="212.8" y="250" width="123.7" height="2.6" fill="url(#g1_55)"/>
<rect x="212.8" y="252" width="123.7" height="2.6" fill="url(#g1_56)"/>
<rect x="212.8" y="254" width="123.7" height="2.6" fill="url(#g1_57)"/>
<rect x="212.8" y="256" width="123.7" height="2.6" fill="url(#g1_58)"/>
<rect x="212.8" y="258" width="123.7" height="2.6" fill="url(#g1_59)"/>
<rect x="212.8" y="260" width="123.7" height="2.6" fill="url(#g1_60)"/>
<rect x="212.8" y="262" width="123.7" height="2.6" fill="url(#g1_61)"/>
<rect x="212.8" y="264" width="123.7" height="2.6" fill="url(#g1_62)"/>
<rect x="212.8" y="266" width="123.7" height="2.6" fill="url(#g1_63)"/>
<rect x="212.8" y="268" width="123.7" height="2.6" fill="url(#g1_64)"/>
</g></g>
<path d="M216.8 188.8 L217.6 190.4 L218.3 191.9 L219.7 194.9 L220.4 196.5 L221.2 198.3 L222.3 201.0 L222.9 202.6 L224.0 205.6 L224.5 207.1 L225.5 210.2 L225.9 211.7 L226.7 214.7 L227.1 216.3 L227.7 219.3 L228.3 222.4 L228.5 223.9 L228.9 226.9 L229.2 230.0 L229.3 233.0 L229.3 236.1 L229.3 239.1 L229.1 242.2 L228.8 245.2 L228.5 247.6 L228.2 249.8 L227.7 252.8 L227.1 255.8 L226.7 257.4 L225.9 260.4 L225.5 262.0 L224.6 265.0 L224.6 265.0" fill="none" stroke="#1a3a1a" stroke-width="0.6" opacity="0.85"/>
<path d="M332.5 264.0 L331.0 262.0 L330.0 260.4 L328.9 258.9 L327.9 257.4 L326.6 255.4 L325.2 253.0 L324.2 251.3 L323.3 249.8 L322.2 247.8 L320.9 245.2 L320.2 243.7 L319.3 241.5 L318.4 239.1 L317.9 237.5 L317.0 234.5 L316.4 231.5 L316.2 230.0 L316.0 226.9 L316.0 223.9 L316.2 220.8 L316.4 219.3 L317.0 216.3 L317.8 213.2 L318.2 211.7 L319.3 208.7 L319.9 207.1 L320.8 204.9 L321.8 202.6 L322.5 201.0 L323.7 198.6 L324.8 196.5 L325.6 195.0 L326.6 193.0 L328.1 190.4 L329.0 188.9 L329.9 187.3 L331.0 185.4 L332.5 183.0 L332.5 183.0" fill="none" stroke="#1a3a1a" stroke-width="0.6" opacity="0.85"/>
<path d="M216.8 157.3 L218.3 159.0 L219.7 160.7 L221.2 162.4 L222.7 164.1 L224.1 165.9 L225.5 167.5 L226.8 169.1 L228.1 170.6 L229.4 172.1 L230.6 173.6 L231.8 175.2 L233.1 176.7 L234.4 178.3 L235.8 180.1 L237.3 182.0 L238.8 183.8 L240.2 185.7 L241.5 187.3 L242.6 188.9 L243.7 190.4 L244.9 191.9 L246.1 193.6 L247.6 195.7 L249.0 197.8 L250.2 199.5 L251.2 201.0 L252.1 202.6 L253.4 204.7 L254.8 207.1 L255.7 208.7 L256.5 210.2 L257.8 213.0 L258.6 214.7 L259.3 216.4 L260.3 219.3 L260.8 220.8 L261.6 223.9 L262.1 226.9 L262.2 228.5 L262.4 231.5 L262.3 234.5 L262.1 236.1 L261.7 239.1 L261.0 242.2 L260.6 243.7 L259.7 246.7 L259.2 248.2 L258.0 251.3 L257.3 252.8 L256.3 255.0 L255.2 257.4 L254.5 258.9 L253.4 261.0 L252.1 263.5 L251.3 265.0 L251.3 265.0" fill="none" stroke="#1a3a1a" stroke-width="0.6" opacity="0.85"/>
<path d="M228.1 144.7 L229.9 146.2 L231.4 147.5 L232.9 148.7 L234.4 149.8 L235.8 151.0 L237.6 152.3 L239.6 153.8 L241.6 155.4 L243.2 156.5 L244.6 157.5 L246.1 158.5 L248.1 159.9 L250.4 161.5 L251.9 162.4 L253.4 163.3 L255.4 164.5 L257.8 165.9 L259.3 166.6 L261.0 167.5 L263.7 168.8 L265.1 169.5 L268.0 170.6 L269.5 171.2 L272.5 172.1 L273.9 172.5 L276.8 173.1 L279.8 173.6 L281.2 173.7 L284.2 173.9 L287.1 173.8 L288.7 173.6 L291.5 173.2 L294.4 172.6 L296.2 172.1 L298.8 171.3 L300.5 170.6 L303.2 169.4 L304.7 168.7 L307.0 167.5 L309.1 166.4 L310.5 165.5 L312.1 164.5 L314.3 163.0 L316.4 161.5 L317.9 160.5 L319.3 159.4 L320.8 158.2 L322.5 156.9 L324.3 155.4 L326.1 153.8 L327.8 152.3 L329.6 150.8 L331.0 149.5 L332.5 148.1 L332.5 148.1" fill="none" stroke="#1a3a1a" stroke-width="0.6" opacity="0.85"/>
<path d="M276.7 144.7 L278.3 144.8 L281.2 144.9 L284.2 144.9 L287.1 144.7 L287.4 144.7" fill="none" stroke="#1a3a1a" stroke-width="0.6" opacity="0.85"/>
<rect x="216.80" y="144.70" width="115.70" height="120.30" fill="none" stroke="#3a4a3a" stroke-width="0.5" opacity="0.75"/>
<line x1="216.8" y1="265.0" x2="216.8" y2="267.0" stroke="#555" stroke-width="0.5"/>
<text x="216.8" y="273.2" font-size="3.7" font-family="Liberation Sans, sans-serif" text-anchor="middle" fill="#2c2c3c" stroke="#2c2c3c" stroke-width=".05">150</text>
<line x1="245.7" y1="265.0" x2="245.7" y2="267.0" stroke="#555" stroke-width="0.5"/>
<text x="245.7" y="273.2" font-size="3.7" font-family="Liberation Sans, sans-serif" text-anchor="middle" fill="#2c2c3c" stroke="#2c2c3c" stroke-width=".05">155</text>
<line x1="274.6" y1="265.0" x2="274.6" y2="267.0" stroke="#555" stroke-width="0.5"/>
<text x="274.6" y="273.2" font-size="3.7" font-family="Liberation Sans, sans-serif" text-anchor="middle" fill="#2c2c3c" stroke="#2c2c3c" stroke-width=".05">160</text>
<line x1="303.6" y1="265.0" x2="303.6" y2="267.0" stroke="#555" stroke-width="0.5"/>
<text x="303.6" y="273.2" font-size="3.7" font-family="Liberation Sans, sans-serif" text-anchor="middle" fill="#2c2c3c" stroke="#2c2c3c" stroke-width=".05">165</text>
<line x1="332.5" y1="265.0" x2="332.5" y2="267.0" stroke="#555" stroke-width="0.5"/>
<text x="332.5" y="273.2" font-size="3.7" font-family="Liberation Sans, sans-serif" text-anchor="middle" fill="#2c2c3c" stroke="#2c2c3c" stroke-width=".05">170</text>
<line x1="213.6" y1="265.0" x2="216.8" y2="265.0" stroke="#555" stroke-width="0.5"/>
<text x="212.2" y="266.3" font-size="3.7" font-family="Liberation Sans, sans-serif" text-anchor="end" fill="#2c2c3c" stroke="#2c2c3c" stroke-width=".05">310</text>
<line x1="213.6" y1="234.9" x2="216.8" y2="234.9" stroke="#555" stroke-width="0.5"/>
<text x="212.2" y="236.2" font-size="3.7" font-family="Liberation Sans, sans-serif" text-anchor="end" fill="#2c2c3c" stroke="#2c2c3c" stroke-width=".05">315</text>
<line x1="213.6" y1="204.8" x2="216.8" y2="204.8" stroke="#555" stroke-width="0.5"/>
<text x="212.2" y="206.2" font-size="3.7" font-family="Liberation Sans, sans-serif" text-anchor="end" fill="#2c2c3c" stroke="#2c2c3c" stroke-width=".05">320</text>
<line x1="213.6" y1="174.8" x2="216.8" y2="174.8" stroke="#555" stroke-width="0.5"/>
<text x="212.2" y="176.1" font-size="3.7" font-family="Liberation Sans, sans-serif" text-anchor="end" fill="#2c2c3c" stroke="#2c2c3c" stroke-width=".05">325</text>
<line x1="213.6" y1="144.7" x2="216.8" y2="144.7" stroke="#555" stroke-width="0.5"/>
<text x="212.2" y="146.0" font-size="3.7" font-family="Liberation Sans, sans-serif" text-anchor="end" fill="#2c2c3c" stroke="#2c2c3c" stroke-width=".05">330</text>
<text x="276.4" y="283.8" font-size="6.86" font-family="Liberation Serif, serif" text-anchor="middle" fill="#222">A:Radius of gyration/mm</text>
<text transform="translate(202.8 208.6) rotate(-90)" font-size="6.53" font-family="Liberation Serif, serif" text-anchor="middle" fill="#222">C:Working width/mm</text>
<rect x="224.6" y="218.8" width="8.4" height="3.9" fill="#e6dcdc" stroke="#4a4444" stroke-width="0.45"/>
<text x="228.8" y="221.8" font-size="3.1" font-family="Liberation Sans, sans-serif" text-anchor="middle" fill="#8a6666">1600</text>
<rect x="247.6" y="198.9" width="8.4" height="3.9" fill="#e6dcdc" stroke="#4a4444" stroke-width="0.45"/>
<text x="251.8" y="201.9" font-size="3.1" font-family="Liberation Sans, sans-serif" text-anchor="middle" fill="#8a6666">1700</text>
<rect x="275.3" y="170.6" width="8.4" height="3.9" fill="#e6dcdc" stroke="#4a4444" stroke-width="0.45"/>
<text x="279.5" y="173.6" font-size="3.1" font-family="Liberation Sans, sans-serif" text-anchor="middle" fill="#8a6666">1800</text>
<rect x="311.6" y="219.1" width="8.4" height="3.9" fill="#e6dcdc" stroke="#4a4444" stroke-width="0.45"/>
<text x="315.8" y="222.1" font-size="3.1" font-family="Liberation Sans, sans-serif" text-anchor="middle" fill="#8a6666">1700</text>
<circle cx="216.8" cy="144.7" r="1.05" fill="#a01018"/>
<circle cx="332.5" cy="144.7" r="1.05" fill="#a01018"/>
<circle cx="216.8" cy="265.0" r="1.05" fill="#a01018"/>
<circle cx="332.5" cy="265.0" r="1.05" fill="#a01018"/>
<circle cx="274.6" cy="204.8" r="1.05" fill="#a01018"/>
<text x="273.3" y="205.2" font-size="3.8" font-family="Liberation Sans, sans-serif" text-anchor="end" fill="#3a5a3a">5</text>
<text x="276.0" y="142.4" font-size="6.96" font-family="Liberation Serif, serif" text-anchor="middle" fill="#222">Working resistance/N</text></g>
<g id="p2"><g clip-path="url(#c2)"><g filter="url(#vb)">
<rect x="400.4" y="140" width="135.4" height="2.6" fill="url(#g2_0)"/>
<rect x="400.4" y="142" width="135.4" height="2.6" fill="url(#g2_1)"/>
<rect x="400.4" y="144" width="135.4" height="2.6" fill="url(#g2_2)"/>
<rect x="400.4" y="146" width="135.4" height="2.6" fill="url(#g2_3)"/>
<rect x="400.4" y="148" width="135.4" height="2.6" fill="url(#g2_4)"/>
<rect x="400.4" y="150" width="135.4" height="2.6" fill="url(#g2_5)"/>
<rect x="400.4" y="152" width="135.4" height="2.6" fill="url(#g2_6)"/>
<rect x="400.4" y="154" width="135.4" height="2.6" fill="url(#g2_7)"/>
<rect x="400.4" y="156" width="135.4" height="2.6" fill="url(#g2_8)"/>
<rect x="400.4" y="158" width="135.4" height="2.6" fill="url(#g2_9)"/>
<rect x="400.4" y="160" width="135.4" height="2.6" fill="url(#g2_10)"/>
<rect x="400.4" y="162" width="135.4" height="2.6" fill="url(#g2_11)"/>
<rect x="400.4" y="164" width="135.4" height="2.6" fill="url(#g2_12)"/>
<rect x="400.4" y="166" width="135.4" height="2.6" fill="url(#g2_13)"/>
<rect x="400.4" y="168" width="135.4" height="2.6" fill="url(#g2_14)"/>
<rect x="400.4" y="170" width="135.4" height="2.6" fill="url(#g2_15)"/>
<rect x="400.4" y="172" width="135.4" height="2.6" fill="url(#g2_16)"/>
<rect x="400.4" y="174" width="135.4" height="2.6" fill="url(#g2_17)"/>
<rect x="400.4" y="176" width="135.4" height="2.6" fill="url(#g2_18)"/>
<rect x="400.4" y="178" width="135.4" height="2.6" fill="url(#g2_19)"/>
<rect x="400.4" y="180" width="135.4" height="2.6" fill="url(#g2_20)"/>
<rect x="400.4" y="182" width="135.4" height="2.6" fill="url(#g2_21)"/>
<rect x="400.4" y="184" width="135.4" height="2.6" fill="url(#g2_22)"/>
<rect x="400.4" y="186" width="135.4" height="2.6" fill="url(#g2_23)"/>
<rect x="400.4" y="188" width="135.4" height="2.6" fill="url(#g2_24)"/>
<rect x="400.4" y="190" width="135.4" height="2.6" fill="url(#g2_25)"/>
<rect x="400.4" y="192" width="135.4" height="2.6" fill="url(#g2_26)"/>
<rect x="400.4" y="194" width="135.4" height="2.6" fill="url(#g2_27)"/>
<rect x="400.4" y="196" width="135.4" height="2.6" fill="url(#g2_28)"/>
<rect x="400.4" y="198" width="135.4" height="2.6" fill="url(#g2_29)"/>
<rect x="400.4" y="200" width="135.4" height="2.6" fill="url(#g2_30)"/>
<rect x="400.4" y="202" width="135.4" height="2.6" fill="url(#g2_31)"/>
<rect x="400.4" y="204" width="135.4" height="2.6" fill="url(#g2_32)"/>
<rect x="400.4" y="206" width="135.4" height="2.6" fill="url(#g2_33)"/>
<rect x="400.4" y="208" width="135.4" height="2.6" fill="url(#g2_34)"/>
<rect x="400.4" y="210" width="135.4" height="2.6" fill="url(#g2_35)"/>
<rect x="400.4" y="212" width="135.4" height="2.6" fill="url(#g2_36)"/>
<rect x="400.4" y="214" width="135.4" height="2.6" fill="url(#g2_37)"/>
<rect x="400.4" y="216" width="135.4" height="2.6" fill="url(#g2_38)"/>
<rect x="400.4" y="218" width="135.4" height="2.6" fill="url(#g2_39)"/>
<rect x="400.4" y="220" width="135.4" height="2.6" fill="url(#g2_40)"/>
<rect x="400.4" y="222" width="135.4" height="2.6" fill="url(#g2_41)"/>
<rect x="400.4" y="224" width="135.4" height="2.6" fill="url(#g2_42)"/>
<rect x="400.4" y="226" width="135.4" height="2.6" fill="url(#g2_43)"/>
<rect x="400.4" y="228" width="135.4" height="2.6" fill="url(#g2_44)"/>
<rect x="400.4" y="230" width="135.4" height="2.6" fill="url(#g2_45)"/>
<rect x="400.4" y="232" width="135.4" height="2.6" fill="url(#g2_46)"/>
<rect x="400.4" y="234" width="135.4" height="2.6" fill="url(#g2_47)"/>
<rect x="400.4" y="236" width="135.4" height="2.6" fill="url(#g2_48)"/>
<rect x="400.4" y="238" width="135.4" height="2.6" fill="url(#g2_49)"/>
<rect x="400.4" y="240" width="135.4" height="2.6" fill="url(#g2_50)"/>
<rect x="400.4" y="242" width="135.4" height="2.6" fill="url(#g2_51)"/>
<rect x="400.4" y="244" width="135.4" height="2.6" fill="url(#g2_52)"/>
<rect x="400.4" y="246" width="135.4" height="2.6" fill="url(#g2_53)"/>
<rect x="400.4" y="248" width="135.4" height="2.6" fill="url(#g2_54)"/>
<rect x="400.4" y="250" width="135.4" height="2.6" fill="url(#g2_55)"/>
<rect x="400.4" y="252" width="135.4" height="2.6" fill="url(#g2_56)"/>
<rect x="400.4" y="254" width="135.4" height="2.6" fill="url(#g2_57)"/>
<rect x="400.4" y="256" width="135.4" height="2.6" fill="url(#g2_58)"/>
<rect x="400.4" y="258" width="135.4" height="2.6" fill="url(#g2_59)"/>
<rect x="400.4" y="260" width="135.4" height="2.6" fill="url(#g2_60)"/>
<rect x="400.4" y="262" width="135.4" height="2.6" fill="url(#g2_61)"/>
<rect x="400.4" y="264" width="135.4" height="2.6" fill="url(#g2_62)"/>
<rect x="400.4" y="266" width="135.4" height="2.6" fill="url(#g2_63)"/>
<rect x="400.4" y="268" width="135.4" height="2.6" fill="url(#g2_64)"/>
</g></g>
<path d="M404.4 180.1 L405.6 182.8 L406.2 184.3 L407.4 187.3 L408.0 188.9 L409.1 191.9 L409.6 193.4 L410.6 196.5 L411.0 198.0 L411.8 201.0 L412.5 203.8 L412.8 205.6 L413.3 208.7 L413.7 211.7 L413.9 214.7 L414.1 217.8 L414.0 220.8 L413.8 223.9 L413.5 226.9 L413.0 230.0 L412.5 232.7 L412.0 234.5 L411.1 237.6 L410.6 239.1 L409.5 242.2 L408.9 243.7 L407.6 246.6 L406.8 248.2 L406.0 249.9 L404.4 252.8 L404.4 252.8" fill="none" stroke="#1a3a1a" stroke-width="0.6" opacity="0.85"/>
<path d="M405.6 144.7 L406.9 146.2 L408.1 147.7 L409.4 149.3 L410.9 151.1 L412.5 153.0 L414.1 155.0 L415.6 156.9 L416.8 158.4 L418.0 159.9 L419.2 161.5 L420.5 163.1 L422.1 165.2 L423.8 167.2 L425.2 169.1 L426.4 170.6 L427.5 172.1 L428.7 173.6 L430.2 175.7 L431.8 177.9 L433.2 179.7 L434.3 181.2 L435.3 182.8 L436.7 184.7 L438.3 187.0 L439.5 188.9 L440.5 190.4 L441.5 191.9 L443.1 194.4 L444.4 196.5 L445.3 198.0 L446.3 199.9 L447.8 202.6 L448.6 204.1 L449.6 206.0 L450.8 208.7 L451.5 210.2 L452.6 213.2 L453.2 214.7 L454.1 217.8 L454.4 219.3 L455.0 222.4 L455.3 225.4 L455.4 228.5 L455.2 231.5 L454.6 234.5 L454.3 236.1 L453.3 239.1 L452.7 240.6 L451.2 243.7 L450.4 245.2 L449.5 246.7 L447.9 249.1 L446.4 251.3 L445.2 252.8 L444.0 254.3 L442.7 255.9 L441.4 257.4 L439.9 259.0 L438.3 260.7 L436.7 262.3 L435.0 263.9 L434.0 265.0" fill="none" stroke="#1a3a1a" stroke-width="0.6" opacity="0.85"/>
<path d="M431.7 144.7 L433.4 146.2 L435.0 147.6 L436.7 149.0 L438.3 150.4 L439.9 151.7 L441.5 153.1 L443.1 154.4 L444.7 155.7 L446.3 157.0 L448.1 158.4 L450.0 159.9 L452.0 161.5 L454.0 163.0 L456.0 164.4 L457.6 165.6 L459.2 166.8 L460.8 167.9 L462.6 169.1 L464.9 170.6 L467.2 172.1 L468.9 173.2 L470.5 174.1 L472.3 175.2 L475.0 176.7 L477.0 177.7 L478.6 178.6 L481.0 179.7 L483.4 180.8 L485.0 181.5 L488.2 182.8 L489.9 183.4 L492.7 184.3 L494.7 184.9 L497.9 185.7 L499.5 186.0 L502.8 186.6 L506.0 187.0 L509.2 187.3 L510.8 187.4 L514.1 187.4 L517.2 187.3 L518.9 187.2 L522.1 187.0 L525.3 186.5 L528.6 186.0 L530.2 185.7 L531.8 185.4" fill="none" stroke="#1a3a1a" stroke-width="0.6" opacity="0.85"/>
<path d="M468.5 144.7 L470.5 145.6 L472.1 146.4 L475.2 147.7 L477.0 148.5 L478.9 149.3 L481.8 150.4 L483.4 151.0 L486.6 152.1 L488.3 152.6 L491.5 153.6 L493.1 154.0 L496.3 154.8 L498.6 155.4 L501.2 155.9 L504.4 156.5 L507.2 156.9 L509.2 157.1 L512.4 157.5 L515.7 157.7 L518.9 157.9 L522.1 157.9 L525.3 157.9 L528.6 157.8 L531.8 157.6 L531.8 157.6" fill="none" stroke="#1a3a1a" stroke-width="0.6" opacity="0.85"/>
<rect x="404.40" y="144.70" width="127.40" height="120.30" fill="none" stroke="#3a4a3a" stroke-width="0.5" opacity="0.75"/>
<line x1="404.4" y1="265.0" x2="404.4" y2="267.0" stroke="#555" stroke-width="0.5"/>
<text x="404.4" y="273.2" font-size="3.7" font-family="Liberation Sans, sans-serif" text-anchor="middle" fill="#2c2c3c" stroke="#2c2c3c" stroke-width=".05">42.5</text>
<line x1="429.9" y1="265.0" x2="429.9" y2="267.0" stroke="#555" stroke-width="0.5"/>
<text x="429.9" y="273.2" font-size="3.7" font-family="Liberation Sans, sans-serif" text-anchor="middle" fill="#2c2c3c" stroke="#2c2c3c" stroke-width=".05">45.5</text>
<line x1="455.4" y1="265.0" x2="455.4" y2="267.0" stroke="#555" stroke-width="0.5"/>
<text x="455.4" y="273.2" font-size="3.7" font-family="Liberation Sans, sans-serif" text-anchor="middle" fill="#2c2c3c" stroke="#2c2c3c" stroke-width=".05">48.5</text>
<line x1="480.8" y1="265.0" x2="480.8" y2="267.0" stroke="#555" stroke-width="0.5"/>
<text x="480.8" y="273.2" font-size="3.7" font-family="Liberation Sans, sans-serif" text-anchor="middle" fill="#2c2c3c" stroke="#2c2c3c" stroke-width=".05">51.5</text>
<line x1="506.3" y1="265.0" x2="506.3" y2="267.0" stroke="#555" stroke-width="0.5"/>
<text x="506.3" y="273.2" font-size="3.7" font-family="Liberation Sans, sans-serif" text-anchor="middle" fill="#2c2c3c" stroke="#2c2c3c" stroke-width=".05">54.5</text>
<line x1="531.8" y1="265.0" x2="531.8" y2="267.0" stroke="#555" stroke-width="0.5"/>
<text x="531.8" y="273.2" font-size="3.7" font-family="Liberation Sans, sans-serif" text-anchor="middle" fill="#2c2c3c" stroke="#2c2c3c" stroke-width=".05">57.5</text>
<line x1="401.2" y1="265.0" x2="404.4" y2="265.0" stroke="#555" stroke-width="0.5"/>
<text x="399.8" y="266.3" font-size="3.7" font-family="Liberation Sans, sans-serif" text-anchor="end" fill="#2c2c3c" stroke="#2c2c3c" stroke-width=".05">310</text>
<line x1="401.2" y1="234.9" x2="404.4" y2="234.9" stroke="#555" stroke-width="0.5"/>
<text x="399.8" y="236.2" font-size="3.7" font-family="Liberation Sans, sans-serif" text-anchor="end" fill="#2c2c3c" stroke="#2c2c3c" stroke-width=".05">315</text>
<line x1="401.2" y1="204.8" x2="404.4" y2="204.8" stroke="#555" stroke-width="0.5"/>
<text x="399.8" y="206.2" font-size="3.7" font-family="Liberation Sans, sans-serif" text-anchor="end" fill="#2c2c3c" stroke="#2c2c3c" stroke-width=".05">320</text>
<line x1="401.2" y1="174.8" x2="404.4" y2="174.8" stroke="#555" stroke-width="0.5"/>
<text x="399.8" y="176.1" font-size="3.7" font-family="Liberation Sans, sans-serif" text-anchor="end" fill="#2c2c3c" stroke="#2c2c3c" stroke-width=".05">325</text>
<line x1="401.2" y1="144.7" x2="404.4" y2="144.7" stroke="#555" stroke-width="0.5"/>
<text x="399.8" y="146.0" font-size="3.7" font-family="Liberation Sans, sans-serif" text-anchor="end" fill="#2c2c3c" stroke="#2c2c3c" stroke-width=".05">330</text>
<text x="465.5" y="282.8" font-size="6.84" font-family="Liberation Serif, serif" text-anchor="middle" fill="#222">B:Inclination angle of cutting edge/°</text>
<text transform="translate(389.6 211.4) rotate(-90)" font-size="6.87" font-family="Liberation Serif, serif" text-anchor="middle" fill="#222">C:Working width/mm</text>
<rect x="409.8" y="212.1" width="8.4" height="3.9" fill="#e6dcdc" stroke="#4a4444" stroke-width="0.45"/>
<text x="414.0" y="215.1" font-size="3.1" font-family="Liberation Sans, sans-serif" text-anchor="middle" fill="#8a6666">1600</text>
<rect x="440.6" y="196.7" width="8.4" height="3.9" fill="#e6dcdc" stroke="#4a4444" stroke-width="0.45"/>
<text x="444.8" y="199.7" font-size="3.1" font-family="Liberation Sans, sans-serif" text-anchor="middle" fill="#8a6666">1700</text>
<rect x="468.1" y="172.7" width="8.4" height="3.9" fill="#e6dcdc" stroke="#4a4444" stroke-width="0.45"/>
<text x="472.3" y="175.7" font-size="3.1" font-family="Liberation Sans, sans-serif" text-anchor="middle" fill="#8a6666">1800</text>
<rect x="491.2" y="152.0" width="8.4" height="3.9" fill="#e6dcdc" stroke="#4a4444" stroke-width="0.45"/>
<text x="495.4" y="155.0" font-size="3.1" font-family="Liberation Sans, sans-serif" text-anchor="middle" fill="#8a6666">1900</text>
<circle cx="404.4" cy="144.7" r="1.05" fill="#a01018"/>
<circle cx="531.8" cy="144.7" r="1.05" fill="#a01018"/>
<circle cx="404.4" cy="265.0" r="1.05" fill="#a01018"/>
<circle cx="531.8" cy="265.0" r="1.05" fill="#a01018"/>
<circle cx="468.1" cy="204.8" r="1.05" fill="#a01018"/>
<text x="466.8" y="205.2" font-size="3.8" font-family="Liberation Sans, sans-serif" text-anchor="end" fill="#3a5a3a">5</text>
<text x="466.1" y="142.4" font-size="6.96" font-family="Liberation Serif, serif" text-anchor="middle" fill="#222">Working resistance/N</text></g>

</svg></body></html>
